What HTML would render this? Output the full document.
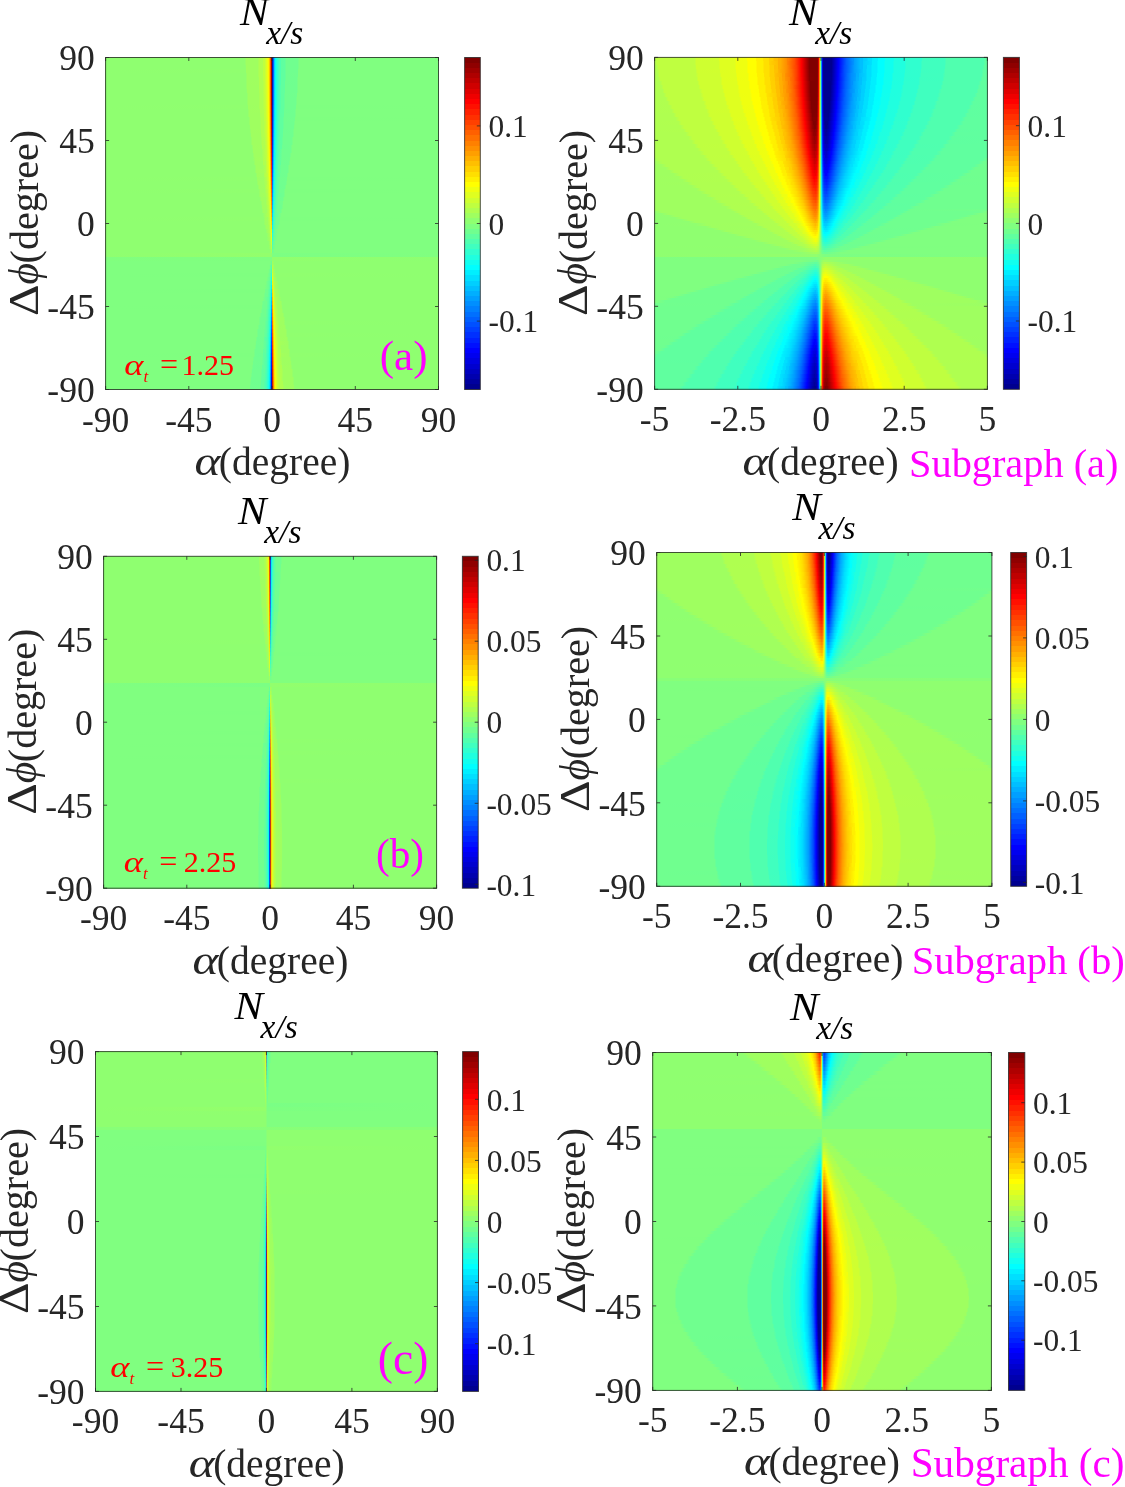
<!DOCTYPE html><html><head><meta charset="utf-8"><title>N x/s heat maps</title><style>
html,body{margin:0;padding:0;background:#fff}
#fig{position:relative;width:1125px;height:1487px;overflow:hidden;background:#fff;font-family:"Liberation Serif",serif}
.hm{position:absolute}
.hm i{display:block;width:100%}
svg{position:absolute;left:0;top:0}
svg text{font-family:"Liberation Serif",serif;fill:#262626}
.bx{fill:none;stroke:#262626;stroke-width:1;stroke-opacity:.8}
.tk{fill:none;stroke:#262626;stroke-width:1;stroke-opacity:.8}
</style></head><body><div id="fig"><div class="hm" style="left:105px;top:57px;width:334px;height:333px"><i style="height:4px;background:linear-gradient(90deg,#8fff70 0.5px,#8fff70 139.5px,#9fff60 141.5px,#9fff60 152.5px,#afff50 154.5px,#b1ff4e 157.5px,#bfff40 158.5px,#bfff40 159.5px,#ecff13 162.5px,#fff400 163.5px,#ffc100 164.5px,#ff5400 165.5px,#a40500 166.5px,#001bb4 167.5px,#005cff 168.5px,#00ccff 169.5px,#07fbf8 170.5px,#22ffdd 171.5px,#50ffaf 174.5px,#50ffaf 175.5px,#5effa1 176.5px,#60ff9f 179.5px,#70ff8f 181.5px,#70ff8f 192.5px,#80ff80 194.5px,#80ff80 333.5px)"></i><i style="height:4px;background:linear-gradient(90deg,#8fff70 0.5px,#8fff70 139.5px,#9fff60 141.5px,#9fff60 152.5px,#afff50 154.5px,#b1ff4e 157.5px,#bfff40 158.5px,#bfff40 159.5px,#eaff15 162.5px,#fff400 163.5px,#ffc100 164.5px,#ff5500 165.5px,#a60500 166.5px,#001bb5 167.5px,#005cff 168.5px,#00cdff 169.5px,#07fbf8 170.5px,#22ffdd 171.5px,#50ffaf 174.5px,#50ffaf 175.5px,#5effa1 176.5px,#60ff9f 179.5px,#70ff8f 181.5px,#70ff8f 192.5px,#80ff80 194.5px,#80ff80 333.5px)"></i><i style="height:4px;background:linear-gradient(90deg,#8fff70 0.5px,#8fff70 139.5px,#91ff6e 140.5px,#9fff60 141.5px,#9fff60 152.5px,#afff50 154.5px,#b0ff4f 157.5px,#bfff40 158.5px,#bfff40 159.5px,#eaff15 162.5px,#fff400 163.5px,#ffc300 164.5px,#ff5700 165.5px,#a80500 166.5px,#001bb5 167.5px,#005cff 168.5px,#00cfff 169.5px,#07fbf8 170.5px,#22ffdd 171.5px,#50ffaf 174.5px,#50ffaf 175.5px,#5effa1 176.5px,#60ff9f 179.5px,#70ff8f 181.5px,#70ff8f 192.5px,#80ff80 194.5px,#80ff80 333.5px)"></i><i style="height:4px;background:linear-gradient(90deg,#8fff70 0.5px,#90ff6f 140.5px,#9fff60 141.5px,#9fff60 152.5px,#afff50 154.5px,#afff50 157.5px,#bfff40 158.5px,#bfff40 159.5px,#eaff15 162.5px,#fff400 163.5px,#ffc300 164.5px,#ff5700 165.5px,#aa0500 166.5px,#001bb5 167.5px,#005cff 168.5px,#00cfff 169.5px,#07fbf8 170.5px,#23ffdc 171.5px,#50ffaf 174.5px,#50ffaf 175.5px,#5effa1 176.5px,#60ff9f 179.5px,#70ff8f 181.5px,#70ff8f 192.5px,#7fff80 193.5px,#80ff80 194.5px,#80ff80 333.5px)"></i><i style="height:4px;background:linear-gradient(90deg,#8fff70 0.5px,#8fff70 140.5px,#9fff60 142.5px,#9fff60 152.5px,#afff50 154.5px,#afff50 157.5px,#bfff40 158.5px,#bfff40 159.5px,#eaff15 162.5px,#fff500 163.5px,#ffc300 164.5px,#ff5900 165.5px,#aa0500 166.5px,#001bb5 167.5px,#005fff 168.5px,#00d0ff 169.5px,#07fdf8 170.5px,#25ffda 171.5px,#50ffaf 174.5px,#50ffaf 175.5px,#60ff9f 176.5px,#60ff9f 179.5px,#70ff8f 181.5px,#71ff8e 192.5px,#80ff80 193.5px,#80ff80 333.5px)"></i><i style="height:4px;background:linear-gradient(90deg,#8fff70 0.5px,#8fff70 140.5px,#9fff60 142.5px,#9fff60 152.5px,#a1ff5e 153.5px,#afff50 154.5px,#afff50 157.5px,#bdff42 158.5px,#bfff40 159.5px,#e9ff16 162.5px,#fff600 163.5px,#ffc300 164.5px,#ff5c00 165.5px,#aa0500 166.5px,#001bb5 167.5px,#0063ff 168.5px,#00d3ff 169.5px,#07fdf8 170.5px,#25ffda 171.5px,#50ffaf 174.5px,#50ffaf 175.5px,#60ff9f 176.5px,#60ff9f 179.5px,#70ff8f 181.5px,#70ff8f 191.5px,#80ff80 193.5px,#80ff80 333.5px)"></i><i style="height:4px;background:linear-gradient(90deg,#8fff70 0.5px,#8fff70 140.5px,#9fff60 142.5px,#a0ff5f 153.5px,#afff50 154.5px,#afff50 157.5px,#bfff40 159.5px,#e8ff17 162.5px,#fef601 163.5px,#ffc500 164.5px,#ff5c00 165.5px,#aa0700 166.5px,#001bb5 167.5px,#0066ff 168.5px,#00d3ff 169.5px,#08fdf7 170.5px,#25ffda 171.5px,#50ffaf 174.5px,#51ffae 175.5px,#60ff9f 176.5px,#60ff9f 179.5px,#6fff90 180.5px,#70ff8f 191.5px,#80ff80 193.5px,#80ff80 333.5px)"></i><i style="height:4px;background:linear-gradient(90deg,#8fff70 0.5px,#8fff70 140.5px,#9fff60 142.5px,#9fff60 153.5px,#aeff51 154.5px,#afff50 157.5px,#caff35 160.5px,#e8ff17 162.5px,#fdf802 163.5px,#ffc600 164.5px,#ff5d00 165.5px,#aa0700 166.5px,#001bb7 167.5px,#0067ff 168.5px,#00d3ff 169.5px,#09fdf6 170.5px,#27ffd8 171.5px,#50ffaf 174.5px,#60ff9f 176.5px,#60ff9f 179.5px,#70ff8f 180.5px,#70ff8f 191.5px,#80ff80 193.5px,#80ff80 333.5px)"></i><i style="height:4px;background:linear-gradient(90deg,#8fff70 0.5px,#8fff70 140.5px,#91ff6e 141.5px,#9fff60 142.5px,#9fff60 153.5px,#acff53 154.5px,#afff50 157.5px,#d5ff2a 161.5px,#e7ff18 162.5px,#fdf802 163.5px,#ffc900 164.5px,#ff5e00 165.5px,#ad0700 166.5px,#001bbc 167.5px,#006aff 168.5px,#00d4ff 169.5px,#0bfef4 170.5px,#27ffd8 171.5px,#45ffba 173.5px,#60ff9f 176.5px,#62ff9d 179.5px,#70ff8f 180.5px,#70ff8f 191.5px,#80ff80 193.5px,#80ff80 333.5px)"></i><i style="height:4px;background:linear-gradient(90deg,#8fff70 0.5px,#8fff70 141.5px,#9fff60 143.5px,#9fff60 153.5px,#afff50 155.5px,#afff50 157.5px,#c8ff37 160.5px,#e6ff19 162.5px,#fdfa02 163.5px,#ffca00 164.5px,#ff6200 165.5px,#b10700 166.5px,#001bbd 167.5px,#006cff 168.5px,#00d7ff 169.5px,#0bfff4 170.5px,#3affc5 172.5px,#60ff9f 176.5px,#60ff9f 178.5px,#70ff8f 180.5px,#71ff8e 191.5px,#80ff80 192.5px,#80ff80 333.5px)"></i><i style="height:4px;background:linear-gradient(90deg,#8fff70 0.5px,#8fff70 141.5px,#9fff60 143.5px,#9fff60 153.5px,#afff50 155.5px,#afff50 157.5px,#c7ff38 160.5px,#e6ff19 162.5px,#fbfa04 163.5px,#ffcb00 164.5px,#ff6700 165.5px,#b10700 166.5px,#001bbd 167.5px,#006dff 168.5px,#00d9ff 169.5px,#0dfff2 170.5px,#3bffc4 172.5px,#60ff9f 176.5px,#60ff9f 178.5px,#70ff8f 180.5px,#70ff8f 190.5px,#80ff80 192.5px,#80ff80 333.5px)"></i><i style="height:4px;background:linear-gradient(90deg,#8fff70 0.5px,#8fff70 141.5px,#9fff60 143.5px,#9fff60 153.5px,#afff50 155.5px,#afff50 157.5px,#c6ff39 160.5px,#e4ff1b 162.5px,#fbfa04 163.5px,#ffcf00 164.5px,#ff6a00 165.5px,#b10700 166.5px,#001bbf 167.5px,#0070ff 168.5px,#00daff 169.5px,#0efff1 170.5px,#3cffc3 172.5px,#60ff9f 176.5px,#60ff9f 178.5px,#70ff8f 180.5px,#70ff8f 190.5px,#80ff80 192.5px,#80ff80 333.5px)"></i><i style="height:4px;background:linear-gradient(90deg,#8fff70 0.5px,#90ff6f 142.5px,#9eff61 143.5px,#9fff60 153.5px,#afff50 155.5px,#afff50 157.5px,#c5ff3a 160.5px,#e4ff1b 162.5px,#fafb05 163.5px,#ffd100 164.5px,#ff6c00 165.5px,#b60800 166.5px,#001ec4 167.5px,#0076ff 168.5px,#00deff 169.5px,#0ffff0 170.5px,#3dffc2 172.5px,#60ff9f 176.5px,#60ff9f 178.5px,#70ff8f 180.5px,#70ff8f 190.5px,#7fff80 191.5px,#80ff80 333.5px)"></i><i style="height:4px;background:linear-gradient(90deg,#8fff70 0.5px,#8fff70 142.5px,#9fff60 144.5px,#a0ff5f 154.5px,#afff50 155.5px,#b2ff4d 158.5px,#c3ff3c 160.5px,#e3ff1c 162.5px,#fafb05 163.5px,#ffd200 164.5px,#ff6e00 165.5px,#ba0b00 166.5px,#001ec5 167.5px,#007aff 168.5px,#00e1ff 169.5px,#12ffed 170.5px,#3effc1 172.5px,#5cffa3 175.5px,#60ff9f 178.5px,#6eff91 179.5px,#70ff8f 189.5px,#80ff80 191.5px,#80ff80 333.5px)"></i><i style="height:4px;background:linear-gradient(90deg,#8fff70 0.5px,#8fff70 142.5px,#9fff60 144.5px,#9fff60 154.5px,#adff52 155.5px,#b0ff4f 158.5px,#bfff40 159.5px,#c2ff3d 160.5px,#e2ff1d 162.5px,#f8fd07 163.5px,#ffd600 164.5px,#ff7400 165.5px,#ba0b00 166.5px,#001ec6 167.5px,#007dff 168.5px,#00e2ff 169.5px,#12ffed 170.5px,#40ffbf 172.5px,#5effa1 175.5px,#61ff9e 178.5px,#70ff8f 179.5px,#70ff8f 189.5px,#80ff80 191.5px,#80ff80 333.5px)"></i><i style="height:4px;background:linear-gradient(90deg,#8fff70 0.5px,#8fff70 143.5px,#9fff60 145.5px,#9fff60 154.5px,#afff50 156.5px,#afff50 158.5px,#beff41 159.5px,#c0ff3f 160.5px,#dfff20 162.5px,#f8fd07 163.5px,#ffd800 164.5px,#ff7900 165.5px,#bf0b00 166.5px,#0020cc 167.5px,#007fff 168.5px,#00e5ff 169.5px,#15ffea 170.5px,#40ffbf 172.5px,#60ff9f 175.5px,#60ff9f 177.5px,#70ff8f 179.5px,#71ff8e 189.5px,#7fff80 190.5px,#80ff80 333.5px)"></i><i style="height:4px;background:linear-gradient(90deg,#8fff70 0.5px,#8fff70 143.5px,#9fff60 145.5px,#9fff60 154.5px,#afff50 156.5px,#afff50 158.5px,#bfff40 160.5px,#dcff23 162.5px,#f6ff09 163.5px,#ffda00 164.5px,#ff7c00 165.5px,#c30d00 166.5px,#0020cd 167.5px,#0087ff 168.5px,#00e8ff 169.5px,#16ffe9 170.5px,#31ffce 171.5px,#50ffaf 173.5px,#60ff9f 175.5px,#60ff9f 177.5px,#70ff8f 179.5px,#70ff8f 188.5px,#80ff80 190.5px,#80ff80 333.5px)"></i><i style="height:4px;background:linear-gradient(90deg,#8fff70 0.5px,#8fff70 143.5px,#90ff6f 144.5px,#9fff60 145.5px,#9fff60 154.5px,#afff50 156.5px,#afff50 158.5px,#cdff32 161.5px,#dbff24 162.5px,#f5ff0a 163.5px,#ffdd00 164.5px,#ff7f00 165.5px,#c50e00 166.5px,#0021d2 167.5px,#008aff 168.5px,#00eaff 169.5px,#19ffe6 170.5px,#34ffcb 171.5px,#50ffaf 173.5px,#60ff9f 175.5px,#60ff9f 177.5px,#70ff8f 179.5px,#70ff8f 188.5px,#7eff81 189.5px,#80ff80 190.5px,#80ff80 333.5px)"></i><i style="height:4px;background:linear-gradient(90deg,#8fff70 0.5px,#8fff70 144.5px,#9fff60 146.5px,#a0ff5f 155.5px,#afff50 156.5px,#afff50 158.5px,#cbff34 161.5px,#f3ff0c 163.5px,#ffe100 164.5px,#ff8600 165.5px,#cd1000 166.5px,#0023d7 167.5px,#008dff 168.5px,#00eeff 169.5px,#1bffe4 170.5px,#44ffbb 172.5px,#60ff9f 175.5px,#60ff9f 177.5px,#6fff90 178.5px,#70ff8f 187.5px,#80ff80 189.5px,#80ff80 333.5px)"></i><i style="height:4px;background:linear-gradient(90deg,#8fff70 0.5px,#8fff70 144.5px,#91ff6e 145.5px,#9fff60 146.5px,#9fff60 155.5px,#acff53 156.5px,#b5ff4a 159.5px,#c9ff36 161.5px,#f0ff0f 163.5px,#ffe400 164.5px,#ff8a00 165.5px,#cf1200 166.5px,#0024db 167.5px,#0094ff 168.5px,#02effd 169.5px,#1effe1 170.5px,#46ffb9 172.5px,#60ff9f 175.5px,#62ff9d 177.5px,#70ff8f 178.5px,#70ff8f 187.5px,#80ff80 189.5px,#80ff80 333.5px)"></i><i style="height:4px;background:linear-gradient(90deg,#8fff70 0.5px,#8fff70 145.5px,#9fff60 147.5px,#9fff60 155.5px,#afff50 157.5px,#b2ff4d 159.5px,#c7ff38 161.5px,#edff12 163.5px,#ffe800 164.5px,#ff8e00 165.5px,#d71400 166.5px,#0127e0 167.5px,#0099ff 168.5px,#03f3fc 169.5px,#20ffdf 170.5px,#48ffb7 172.5px,#5cffa3 174.5px,#60ff9f 176.5px,#70ff8f 178.5px,#70ff8f 186.5px,#80ff80 188.5px,#80ff80 333.5px)"></i><i style="height:4px;background:linear-gradient(90deg,#8fff70 0.5px,#8fff70 145.5px,#9fff60 147.5px,#9fff60 155.5px,#afff50 157.5px,#b0ff4f 159.5px,#c5ff3a 161.5px,#ebff14 163.5px,#ffeb00 164.5px,#ff9500 165.5px,#da1700 166.5px,#0228e3 167.5px,#009dff 168.5px,#04f4fb 169.5px,#23ffdc 170.5px,#49ffb6 172.5px,#5fffa0 174.5px,#60ff9f 176.5px,#70ff8f 178.5px,#70ff8f 186.5px,#80ff80 188.5px,#80ff80 333.5px)"></i><i style="height:4px;background:linear-gradient(90deg,#8fff70 0.5px,#8fff70 146.5px,#9fff60 148.5px,#a0ff5f 156.5px,#afff50 157.5px,#afff50 159.5px,#c2ff3d 161.5px,#e8ff17 163.5px,#ffed00 164.5px,#ff9b00 165.5px,#e01a00 166.5px,#022ce8 167.5px,#00a5ff 168.5px,#05f7fa 169.5px,#26ffd9 170.5px,#4cffb3 172.5px,#60ff9f 174.5px,#60ff9f 176.5px,#6eff91 177.5px,#70ff8f 185.5px,#80ff80 187.5px,#80ff80 333.5px)"></i><i style="height:4px;background:linear-gradient(90deg,#8fff70 0.5px,#8fff70 146.5px,#91ff6e 147.5px,#9fff60 148.5px,#9fff60 156.5px,#c0ff3f 161.5px,#e6ff19 163.5px,#fef201 164.5px,#ff9f00 165.5px,#e41d00 166.5px,#022fec 167.5px,#00abff 168.5px,#06f8f9 169.5px,#28ffd7 170.5px,#4effb1 172.5px,#70ff8f 177.5px,#70ff8f 185.5px,#80ff80 187.5px,#80ff80 333.5px)"></i><i style="height:4px;background:linear-gradient(90deg,#8fff70 0.5px,#8fff70 147.5px,#9fff60 149.5px,#9fff60 156.5px,#bfff40 161.5px,#e4ff1b 163.5px,#fdf402 164.5px,#ffa700 165.5px,#ea2100 166.5px,#0233f0 167.5px,#00afff 168.5px,#09fbf6 169.5px,#40ffbf 171.5px,#60ff9f 174.5px,#70ff8f 177.5px,#70ff8f 184.5px,#80ff80 186.5px,#80ff80 333.5px)"></i><i style="height:4px;background:linear-gradient(90deg,#8fff70 0.5px,#8fff70 147.5px,#9fff60 150.5px,#a2ff5d 157.5px,#afff50 158.5px,#b4ff4b 160.5px,#e0ff1f 163.5px,#fbf704 164.5px,#ffab00 165.5px,#ee2500 166.5px,#0239f4 167.5px,#00b8ff 168.5px,#0cfcf3 169.5px,#43ffbc 171.5px,#5bffa4 173.5px,#70ff8f 177.5px,#71ff8e 184.5px,#7fff80 185.5px,#80ff80 186.5px,#80ff80 333.5px)"></i><i style="height:4px;background:linear-gradient(90deg,#8fff70 0.5px,#8fff70 148.5px,#9fff60 150.5px,#9fff60 157.5px,#aeff51 158.5px,#b0ff4f 160.5px,#dcff23 163.5px,#faf905 164.5px,#ffb400 165.5px,#f32a00 166.5px,#033ef6 167.5px,#00bcff 168.5px,#0ffdf0 169.5px,#31ffce 170.5px,#45ffba 171.5px,#5effa1 173.5px,#61ff9e 175.5px,#6fff90 176.5px,#70ff8f 183.5px,#80ff80 185.5px,#80ff80 333.5px)"></i><i style="height:4px;background:linear-gradient(90deg,#8fff70 0.5px,#8fff70 149.5px,#9fff60 151.5px,#9fff60 157.5px,#afff50 160.5px,#d9ff26 163.5px,#f8fb07 164.5px,#ffb800 165.5px,#f83000 166.5px,#0443f8 167.5px,#00c5ff 168.5px,#12ffed 169.5px,#35ffca 170.5px,#60ff9f 173.5px,#70ff8f 176.5px,#70ff8f 182.5px,#80ff80 184.5px,#80ff80 333.5px)"></i><i style="height:4px;background:linear-gradient(90deg,#8fff70 0.5px,#8fff70 149.5px,#9fff60 151.5px,#a4ff5b 158.5px,#afff50 160.5px,#d7ff28 163.5px,#f5fd0a 164.5px,#ffc100 165.5px,#fb3600 166.5px,#044bfb 167.5px,#00caff 168.5px,#15ffea 169.5px,#38ffc7 170.5px,#4affb5 171.5px,#60ff9f 173.5px,#70ff8f 176.5px,#70ff8f 182.5px,#80ff80 184.5px,#80ff80 333.5px)"></i><i style="height:4px;background:linear-gradient(90deg,#8fff70 0.5px,#8fff70 150.5px,#9fff60 152.5px,#a0ff5f 158.5px,#aeff51 159.5px,#c1ff3e 162.5px,#f1fe0e 164.5px,#ffc600 165.5px,#fe3e00 166.5px,#0454fb 167.5px,#00d3ff 168.5px,#1affe5 169.5px,#3affc5 170.5px,#58ffa7 172.5px,#60ff9f 174.5px,#6fff90 175.5px,#70ff8f 181.5px,#80ff80 183.5px,#80ff80 333.5px)"></i><i style="height:4px;background:linear-gradient(90deg,#8fff70 0.5px,#90ff6f 151.5px,#9cff63 152.5px,#9fff60 158.5px,#b3ff4c 161.5px,#d1ff2e 163.5px,#eeff11 164.5px,#ffcf00 165.5px,#ff4800 166.5px,#045efb 167.5px,#00d9ff 168.5px,#1fffe0 169.5px,#3dffc2 170.5px,#5cffa3 172.5px,#70ff8f 175.5px,#72ff8d 181.5px,#7fff80 182.5px,#80ff80 333.5px)"></i><i style="height:4px;background:linear-gradient(90deg,#8fff70 0.5px,#8fff70 151.5px,#9fff60 153.5px,#9fff60 158.5px,#afff50 161.5px,#ccff33 163.5px,#eaff15 164.5px,#ffd500 165.5px,#ff5400 166.5px,#0568fa 167.5px,#01e1fe 168.5px,#23ffdc 169.5px,#41ffbe 170.5px,#5fffa0 172.5px,#70ff8f 175.5px,#70ff8f 180.5px,#80ff80 182.5px,#80ff80 333.5px)"></i><i style="height:4px;background:linear-gradient(90deg,#8fff70 0.5px,#8fff70 152.5px,#9fff60 154.5px,#a0ff5f 159.5px,#c9ff36 163.5px,#e5ff1a 164.5px,#ffde00 165.5px,#ff5f00 166.5px,#0574fa 167.5px,#03e6fc 168.5px,#28ffd7 169.5px,#46ffb9 170.5px,#60ff9f 172.5px,#60ff9f 173.5px,#6fff90 174.5px,#70ff8f 179.5px,#80ff80 181.5px,#80ff80 333.5px)"></i><i style="height:4px;background:linear-gradient(90deg,#8fff70 0.5px,#90ff6f 153.5px,#9fff60 155.5px,#9fff60 159.5px,#b7ff48 162.5px,#dfff20 164.5px,#fee401 165.5px,#ff6c00 166.5px,#057ffa 167.5px,#04ecfb 168.5px,#2effd1 169.5px,#57ffa8 171.5px,#70ff8f 174.5px,#70ff8f 178.5px,#7fff80 180.5px,#80ff80 333.5px)"></i><i style="height:4px;background:linear-gradient(90deg,#8fff70 0.5px,#8fff70 153.5px,#9fff60 155.5px,#a3ff5c 160.5px,#b3ff4c 162.5px,#dbff24 164.5px,#fcea03 165.5px,#ff7800 166.5px,#058bfa 167.5px,#08f1f7 168.5px,#33ffcc 169.5px,#5bffa4 171.5px,#6bff94 173.5px,#70ff8f 178.5px,#80ff80 180.5px,#80ff80 333.5px)"></i><i style="height:4px;background:linear-gradient(90deg,#8fff70 0.5px,#8fff70 154.5px,#9fff60 156.5px,#9fff60 160.5px,#b0ff4f 162.5px,#d6ff29 164.5px,#faf005 165.5px,#ff8600 166.5px,#0697f9 167.5px,#0bf6f4 168.5px,#37ffc8 169.5px,#5fffa0 171.5px,#6fff90 173.5px,#70ff8f 177.5px,#80ff80 179.5px,#80ff80 333.5px)"></i><i style="height:4px;background:linear-gradient(90deg,#8fff70 0.5px,#8fff70 155.5px,#9fff60 157.5px,#9fff60 160.5px,#bbff44 163.5px,#d1ff2e 164.5px,#f7f508 165.5px,#ff9300 166.5px,#07a3f8 167.5px,#10f9ef 168.5px,#3dffc2 169.5px,#60ff9f 171.5px,#70ff8f 173.5px,#74ff8b 177.5px,#80ff80 178.5px,#80ff80 333.5px)"></i><i style="height:4px;background:linear-gradient(90deg,#8fff70 0.5px,#8fff70 155.5px,#90ff6f 156.5px,#9eff61 157.5px,#a2ff5d 161.5px,#b7ff48 163.5px,#cbff34 164.5px,#f3f90c 165.5px,#ffa000 166.5px,#07b1f8 167.5px,#16fde9 168.5px,#42ffbd 169.5px,#57ffa8 170.5px,#6dff92 172.5px,#71ff8e 176.5px,#80ff80 178.5px,#80ff80 333.5px)"></i><i style="height:4px;background:linear-gradient(90deg,#8fff70 0.5px,#8fff70 156.5px,#9fff60 158.5px,#9fff60 161.5px,#b3ff4c 163.5px,#c6ff39 164.5px,#eefc11 165.5px,#ffaf00 166.5px,#07bef8 167.5px,#1cfee3 168.5px,#48ffb7 169.5px,#5bffa4 170.5px,#70ff8f 172.5px,#70ff8f 175.5px,#80ff80 177.5px,#80ff80 333.5px)"></i><i style="height:4px;background:linear-gradient(90deg,#8fff70 0.5px,#8fff70 157.5px,#b0ff4f 163.5px,#c2ff3d 164.5px,#e7fe18 165.5px,#ffbe00 166.5px,#09ccf6 167.5px,#25ffda 168.5px,#4cffb3 169.5px,#5fffa0 170.5px,#80ff80 176.5px,#80ff80 333.5px)"></i><i style="height:4px;background:linear-gradient(90deg,#8fff70 0.5px,#90ff6f 158.5px,#9fff60 160.5px,#a0ff5f 162.5px,#bbff44 164.5px,#dfff20 165.5px,#ffcd00 166.5px,#09d9f6 167.5px,#2dffd2 168.5px,#52ffad 169.5px,#6eff91 171.5px,#74ff8b 174.5px,#7fff80 175.5px,#80ff80 333.5px)"></i><i style="height:4px;background:linear-gradient(90deg,#8fff70 0.5px,#8fff70 158.5px,#9eff61 160.5px,#9fff60 162.5px,#b6ff49 164.5px,#d6ff29 165.5px,#fddb02 166.5px,#0be6f4 167.5px,#37ffc8 168.5px,#58ffa7 169.5px,#70ff8f 171.5px,#71ff8e 173.5px,#80ff80 175.5px,#80ff80 333.5px)"></i><i style="height:4px;background:linear-gradient(90deg,#8fff70 0.5px,#8fff70 159.5px,#9fff60 161.5px,#a3ff5c 163.5px,#b2ff4d 164.5px,#cdff32 165.5px,#fae805 166.5px,#11f1ee 167.5px,#40ffbf 168.5px,#5cffa3 169.5px,#6bff94 170.5px,#80ff80 174.5px,#80ff80 333.5px)"></i><i style="height:4px;background:linear-gradient(90deg,#8fff70 0.5px,#8fff70 160.5px,#acff53 164.5px,#c4ff3b 165.5px,#f4f30b 166.5px,#17fae8 167.5px,#49ffb6 168.5px,#62ff9d 169.5px,#70ff8f 170.5px,#80ff80 173.5px,#80ff80 333.5px)"></i><i style="height:4px;background:linear-gradient(90deg,#8fff70 0.5px,#8fff70 161.5px,#a6ff59 164.5px,#bbff44 165.5px,#ecfb13 166.5px,#23ffdc 167.5px,#53ffac 168.5px,#69ff96 169.5px,#80ff80 172.5px,#80ff80 333.5px)"></i><i style="height:4px;background:linear-gradient(90deg,#8fff70 0.5px,#8fff70 161.5px,#a0ff5f 164.5px,#b2ff4d 165.5px,#deff21 166.5px,#34ffcb 167.5px,#5bffa4 168.5px,#6fff90 169.5px,#80ff80 172.5px,#80ff80 333.5px)"></i><i style="height:4px;background:linear-gradient(90deg,#8fff70 0.5px,#8fff70 162.5px,#91ff6e 163.5px,#a8ff57 165.5px,#ccff33 166.5px,#46ffb9 167.5px,#66ff99 168.5px,#7dff82 170.5px,#80ff80 171.5px,#80ff80 333.5px)"></i><i style="height:4px;background:linear-gradient(90deg,#8fff70 0.5px,#8fff70 163.5px,#a0ff5f 165.5px,#b9ff46 166.5px,#57ffa8 167.5px,#6eff91 168.5px,#80ff80 170.5px,#80ff80 333.5px)"></i><i style="height:4px;background:linear-gradient(90deg,#8fff70 0.5px,#8fff70 164.5px,#95ff6a 165.5px,#a6ff59 166.5px,#6aff95 167.5px,#80ff80 169.5px,#80ff80 333.5px)"></i><i style="height:4px;background:linear-gradient(90deg,#8fff70 0.5px,#93ff6c 166.5px,#7cff83 167.5px,#80ff80 333.5px)"></i><i style="height:4px;background:linear-gradient(90deg,#81ff7e 0.5px,#7fff80 166.5px,#91ff6e 167.5px,#8eff71 333.5px)"></i><i style="height:4px;background:linear-gradient(90deg,#80ff80 0.5px,#80ff80 164.5px,#7cff83 165.5px,#6bff94 166.5px,#a2ff5d 167.5px,#8fff70 169.5px,#8fff70 333.5px)"></i><i style="height:4px;background:linear-gradient(90deg,#80ff80 0.5px,#80ff80 163.5px,#7dff82 164.5px,#58ffa7 166.5px,#b6ff49 167.5px,#92ff6d 169.5px,#8fff70 170.5px,#8fff70 333.5px)"></i><i style="height:4px;background:linear-gradient(90deg,#80ff80 0.5px,#80ff80 162.5px,#7eff81 163.5px,#68ff97 165.5px,#46ffb9 166.5px,#c8ff37 167.5px,#a8ff57 168.5px,#91ff6e 170.5px,#8fff70 171.5px,#8fff70 333.5px)"></i><i style="height:4px;background:linear-gradient(90deg,#80ff80 0.5px,#7fff80 162.5px,#6fff90 164.5px,#5effa1 165.5px,#34ffcb 166.5px,#d8ff27 167.5px,#b2ff4d 168.5px,#a0ff5f 169.5px,#90ff6f 171.5px,#8fff70 333.5px)"></i><i style="height:4px;background:linear-gradient(90deg,#80ff80 0.5px,#80ff80 161.5px,#6aff95 164.5px,#55ffaa 165.5px,#22ffdd 166.5px,#e8fd17 167.5px,#bbff44 168.5px,#a5ff5a 169.5px,#8fff70 172.5px,#8fff70 333.5px)"></i><i style="height:4px;background:linear-gradient(90deg,#80ff80 0.5px,#80ff80 160.5px,#64ff9b 164.5px,#4cffb3 165.5px,#15fbea 166.5px,#f0f40f 167.5px,#c5ff3a 168.5px,#acff53 169.5px,#8fff70 173.5px,#8fff70 333.5px)"></i><i style="height:4px;background:linear-gradient(90deg,#80ff80 0.5px,#80ff80 159.5px,#6dff92 163.5px,#5effa1 164.5px,#43ffbc 165.5px,#0df3f2 166.5px,#f4e90b 167.5px,#ceff31 168.5px,#b2ff4d 169.5px,#a2ff5d 170.5px,#8fff70 174.5px,#8fff70 333.5px)"></i><i style="height:4px;background:linear-gradient(90deg,#80ff80 0.5px,#7fff80 159.5px,#72ff8d 160.5px,#70ff8f 162.5px,#59ffa6 164.5px,#3affc5 165.5px,#07e8f8 166.5px,#f8dc07 167.5px,#d7ff28 168.5px,#b6ff49 169.5px,#a9ff56 170.5px,#8fff70 175.5px,#8fff70 333.5px)"></i><i style="height:4px;background:linear-gradient(90deg,#80ff80 0.5px,#80ff80 158.5px,#70ff8f 160.5px,#6fff90 162.5px,#54ffab 164.5px,#31ffce 165.5px,#03dcfc 166.5px,#f8ce07 167.5px,#e1ff1e 168.5px,#bcff43 169.5px,#a0ff5f 171.5px,#9fff60 173.5px,#8fff70 175.5px,#8fff70 333.5px)"></i><i style="height:4px;background:linear-gradient(90deg,#80ff80 0.5px,#80ff80 157.5px,#5fffa0 163.5px,#4dffb2 164.5px,#29ffd6 165.5px,#00cfff 166.5px,#f8bf07 167.5px,#e8fe17 168.5px,#c3ff3c 169.5px,#b0ff4f 170.5px,#8fff70 176.5px,#8fff70 333.5px)"></i><i style="height:4px;background:linear-gradient(90deg,#80ff80 0.5px,#80ff80 156.5px,#70ff8f 158.5px,#70ff8f 161.5px,#5cffa3 163.5px,#49ffb6 164.5px,#20ffdf 165.5px,#00c1ff 166.5px,#fab205 167.5px,#effb10 168.5px,#c7ff38 169.5px,#b3ff4c 170.5px,#9fff60 172.5px,#9fff60 175.5px,#8fff70 177.5px,#8fff70 333.5px)"></i><i style="height:4px;background:linear-gradient(90deg,#80ff80 0.5px,#7fff80 156.5px,#72ff8d 157.5px,#6eff91 161.5px,#58ffa7 163.5px,#45ffba 164.5px,#19fee6 165.5px,#00b2ff 166.5px,#faa405 167.5px,#f3f80c 168.5px,#ccff33 169.5px,#b8ff47 170.5px,#a2ff5d 172.5px,#9dff62 176.5px,#90ff6f 177.5px,#8fff70 178.5px,#8fff70 333.5px)"></i><i style="height:4px;background:linear-gradient(90deg,#80ff80 0.5px,#80ff80 155.5px,#70ff8f 157.5px,#70ff8f 160.5px,#60ff9f 162.5px,#3effc1 164.5px,#13fbec 165.5px,#00a4ff 166.5px,#fa9705 167.5px,#f8f307 168.5px,#d2ff2d 169.5px,#bcff43 170.5px,#9fff60 173.5px,#9fff60 176.5px,#8fff70 178.5px,#8fff70 333.5px)"></i><i style="height:4px;background:linear-gradient(90deg,#80ff80 0.5px,#80ff80 154.5px,#70ff8f 156.5px,#70ff8f 160.5px,#5fffa0 162.5px,#39ffc6 164.5px,#0df9f2 165.5px,#0097ff 166.5px,#fa8a05 167.5px,#fbee04 168.5px,#d7ff28 169.5px,#b0ff4f 171.5px,#9fff60 173.5px,#9fff60 177.5px,#8fff70 179.5px,#8fff70 333.5px)"></i><i style="height:4px;background:linear-gradient(90deg,#80ff80 0.5px,#80ff80 153.5px,#71ff8e 155.5px,#6cff93 160.5px,#5cffa3 162.5px,#34ffcb 164.5px,#0af4f5 165.5px,#0089ff 166.5px,#fb7f04 167.5px,#fde802 168.5px,#dcff23 169.5px,#b4ff4b 171.5px,#a3ff5c 173.5px,#9eff61 178.5px,#8fff70 180.5px,#8fff70 333.5px)"></i><i style="height:4px;background:linear-gradient(90deg,#80ff80 0.5px,#80ff80 153.5px,#70ff8f 155.5px,#70ff8f 159.5px,#58ffa7 162.5px,#30ffcf 164.5px,#06f0f9 165.5px,#007dff 166.5px,#fb7204 167.5px,#ffe100 168.5px,#e0ff1f 169.5px,#b8ff47 171.5px,#9fff60 174.5px,#9fff60 178.5px,#90ff6f 180.5px,#8fff70 333.5px)"></i><i style="height:4px;background:linear-gradient(90deg,#80ff80 0.5px,#80ff80 152.5px,#70ff8f 154.5px,#6fff90 159.5px,#54ffab 162.5px,#47ffb8 163.5px,#2bffd4 164.5px,#04ebfb 165.5px,#0071ff 166.5px,#fb6704 167.5px,#ffda00 168.5px,#e6ff19 169.5px,#c9ff36 170.5px,#a0ff5f 174.5px,#9fff60 179.5px,#8fff70 181.5px,#8fff70 333.5px)"></i><i style="height:4px;background:linear-gradient(90deg,#80ff80 0.5px,#80ff80 151.5px,#70ff8f 153.5px,#70ff8f 158.5px,#60ff9f 161.5px,#43ffbc 163.5px,#25ffda 164.5px,#02e4fd 165.5px,#0065ff 166.5px,#fc5c03 167.5px,#ffd300 168.5px,#ebff14 169.5px,#cdff32 170.5px,#b0ff4f 172.5px,#9fff60 175.5px,#9fff60 180.5px,#8fff70 182.5px,#8fff70 333.5px)"></i><i style="height:4px;background:linear-gradient(90deg,#80ff80 0.5px,#80ff80 151.5px,#70ff8f 153.5px,#70ff8f 158.5px,#5dffa2 161.5px,#3effc1 163.5px,#22ffdd 164.5px,#01dffe 165.5px,#0059ff 166.5px,#fd5102 167.5px,#ffca00 168.5px,#efff10 169.5px,#d2ff2d 170.5px,#b3ff4c 172.5px,#9fff60 175.5px,#9fff60 180.5px,#90ff6f 182.5px,#8fff70 333.5px)"></i><i style="height:4px;background:linear-gradient(90deg,#80ff80 0.5px,#80ff80 150.5px,#70ff8f 152.5px,#6fff90 158.5px,#61ff9e 159.5px,#4effb1 162.5px,#1dffe2 164.5px,#00d7ff 165.5px,#004eff 166.5px,#fc4802 167.5px,#ffc400 168.5px,#f2fd0d 169.5px,#d5ff2a 170.5px,#b6ff49 172.5px,#aeff51 174.5px,#a0ff5f 175.5px,#9fff60 181.5px,#8fff70 183.5px,#8fff70 333.5px)"></i><i style="height:4px;background:linear-gradient(90deg,#80ff80 0.5px,#80ff80 149.5px,#7eff81 150.5px,#71ff8e 151.5px,#70ff8f 157.5px,#60ff9f 160.5px,#4bffb4 162.5px,#39ffc6 163.5px,#18ffe7 164.5px,#00d3ff 165.5px,#0044fe 166.5px,#fa4102 167.5px,#ffbb00 168.5px,#f6fc09 169.5px,#d7ff28 170.5px,#afff50 173.5px,#a4ff5b 175.5px,#9eff61 182.5px,#8fff70 184.5px,#8fff70 333.5px)"></i><i style="height:4px;background:linear-gradient(90deg,#80ff80 0.5px,#80ff80 149.5px,#70ff8f 151.5px,#70ff8f 157.5px,#60ff9f 160.5px,#36ffc9 163.5px,#14ffeb 164.5px,#00c9ff 165.5px,#003cfc 166.5px,#f53a02 167.5px,#ffb600 168.5px,#f9fb06 169.5px,#daff25 170.5px,#afff50 173.5px,#9fff60 176.5px,#9fff60 182.5px,#8fff70 184.5px,#8fff70 333.5px)"></i><i style="height:4px;background:linear-gradient(90deg,#80ff80 0.5px,#80ff80 148.5px,#70ff8f 150.5px,#70ff8f 157.5px,#62ff9d 158.5px,#5fffa0 160.5px,#33ffcc 163.5px,#10feef 164.5px,#00c5ff 165.5px,#0035fa 166.5px,#f23601 167.5px,#ffad00 168.5px,#faf805 169.5px,#ddff22 170.5px,#b0ff4f 173.5px,#aeff51 175.5px,#9fff60 176.5px,#9fff60 183.5px,#8fff70 185.5px,#8fff70 333.5px)"></i><i style="height:4px;background:linear-gradient(90deg,#80ff80 0.5px,#7fff80 148.5px,#70ff8f 150.5px,#6dff92 157.5px,#60ff9f 158.5px,#5cffa3 160.5px,#2fffd0 163.5px,#0efdf1 164.5px,#00bcff 165.5px,#002ef6 166.5px,#f13100 167.5px,#ffa800 168.5px,#fcf503 169.5px,#e1ff1e 170.5px,#ccff33 171.5px,#b4ff4b 173.5px,#afff50 175.5px,#a3ff5c 176.5px,#9fff60 183.5px,#90ff6f 185.5px,#8fff70 333.5px)"></i><i style="height:4px;background:linear-gradient(90deg,#80ff80 0.5px,#80ff80 147.5px,#70ff8f 149.5px,#70ff8f 156.5px,#50ffaf 161.5px,#2cffd3 163.5px,#0bfcf4 164.5px,#00b8ff 165.5px,#002af2 166.5px,#eb2c00 167.5px,#ffa000 168.5px,#fdf302 169.5px,#e5ff1a 170.5px,#bfff40 172.5px,#afff50 174.5px,#9fff60 177.5px,#9fff60 184.5px,#8fff70 186.5px,#8fff70 333.5px)"></i><i style="height:4px;background:linear-gradient(90deg,#80ff80 0.5px,#80ff80 146.5px,#7fff80 147.5px,#71ff8e 148.5px,#70ff8f 156.5px,#4fffb0 161.5px,#29ffd6 163.5px,#08fbf7 164.5px,#00b0ff 165.5px,#0026ed 166.5px,#e82900 167.5px,#ff9b00 168.5px,#ffef00 169.5px,#e6ff19 170.5px,#c1ff3e 172.5px,#9fff60 177.5px,#9eff61 185.5px,#91ff6e 186.5px,#8fff70 187.5px,#8fff70 333.5px)"></i><i style="height:4px;background:linear-gradient(90deg,#80ff80 0.5px,#80ff80 146.5px,#70ff8f 148.5px,#6fff90 156.5px,#60ff9f 157.5px,#60ff9f 159.5px,#4dffb2 161.5px,#28ffd7 163.5px,#06f8f9 164.5px,#00abff 165.5px,#0021ea 166.5px,#e12600 167.5px,#ff9600 168.5px,#ffed00 169.5px,#e9ff16 170.5px,#c3ff3c 172.5px,#afff50 174.5px,#afff50 176.5px,#a0ff5f 177.5px,#9fff60 185.5px,#8fff70 187.5px,#8fff70 333.5px)"></i><i style="height:4px;background:linear-gradient(90deg,#80ff80 0.5px,#80ff80 145.5px,#7eff81 146.5px,#70ff8f 147.5px,#70ff8f 155.5px,#60ff9f 157.5px,#5fffa0 159.5px,#4bffb4 161.5px,#24ffdb 163.5px,#05f7fa 164.5px,#00a6ff 165.5px,#001ee3 166.5px,#dc2400 167.5px,#ff8e00 168.5px,#ffe800 169.5px,#ecff13 170.5px,#c5ff3a 172.5px,#b0ff4f 174.5px,#afff50 176.5px,#9fff60 178.5px,#9fff60 186.5px,#8fff70 188.5px,#8fff70 333.5px)"></i><i style="height:4px;background:linear-gradient(90deg,#80ff80 0.5px,#80ff80 145.5px,#70ff8f 147.5px,#70ff8f 155.5px,#60ff9f 157.5px,#5dffa2 159.5px,#48ffb7 161.5px,#22ffdd 163.5px,#04f4fb 164.5px,#009eff 165.5px,#001ce0 166.5px,#d72300 167.5px,#ff8a00 168.5px,#ffe700 169.5px,#eeff11 170.5px,#c7ff38 172.5px,#b3ff4c 174.5px,#afff50 176.5px,#9fff60 178.5px,#9fff60 186.5px,#8fff70 188.5px,#8fff70 333.5px)"></i><i style="height:4px;background:linear-gradient(90deg,#80ff80 0.5px,#80ff80 144.5px,#7eff81 145.5px,#70ff8f 146.5px,#70ff8f 155.5px,#63ff9c 156.5px,#5bffa4 159.5px,#46ffb9 161.5px,#20ffdf 163.5px,#03f2fc 164.5px,#009bff 165.5px,#0017da 166.5px,#d11f00 167.5px,#ff8600 168.5px,#ffe100 169.5px,#f1ff0e 170.5px,#c9ff36 172.5px,#9fff60 178.5px,#9fff60 187.5px,#8fff70 189.5px,#8fff70 333.5px)"></i><i style="height:4px;background:linear-gradient(90deg,#80ff80 0.5px,#80ff80 144.5px,#70ff8f 146.5px,#6fff90 155.5px,#60ff9f 156.5px,#60ff9f 158.5px,#44ffbb 161.5px,#1cffe3 163.5px,#02effd 164.5px,#0097ff 165.5px,#0016d8 166.5px,#cd1e00 167.5px,#ff7d00 168.5px,#ffdf00 169.5px,#f3ff0c 170.5px,#cbff34 172.5px,#afff50 175.5px,#afff50 177.5px,#a0ff5f 178.5px,#9fff60 187.5px,#8fff70 189.5px,#8fff70 333.5px)"></i><i style="height:4px;background:linear-gradient(90deg,#80ff80 0.5px,#7fff80 144.5px,#71ff8e 145.5px,#70ff8f 154.5px,#60ff9f 156.5px,#60ff9f 158.5px,#43ffbc 161.5px,#1bffe4 163.5px,#00edff 164.5px,#0090ff 165.5px,#0014d1 166.5px,#c81d00 167.5px,#ff7b00 168.5px,#ffdb00 169.5px,#f6ff09 170.5px,#dbff24 171.5px,#cdff32 172.5px,#afff50 175.5px,#afff50 177.5px,#9fff60 179.5px,#9eff61 188.5px,#90ff6f 189.5px,#8fff70 190.5px,#8fff70 333.5px)"></i><i style="height:1px;background:linear-gradient(90deg,#80ff80 0.5px,#80ff80 143.5px,#70ff8f 145.5px,#70ff8f 154.5px,#60ff9f 156.5px,#60ff9f 158.5px,#50ffaf 160.5px,#33ffcc 162.5px,#19ffe6 163.5px,#00ecff 164.5px,#008cff 165.5px,#0013ce 166.5px,#c11c00 167.5px,#ff7800 168.5px,#ffda00 169.5px,#f6ff09 170.5px,#dcff23 171.5px,#bfff40 173.5px,#afff50 175.5px,#afff50 177.5px,#9fff60 179.5px,#9fff60 188.5px,#8fff70 190.5px,#8fff70 333.5px)"></i></div>
<div class="hm" style="left:654px;top:57px;width:334px;height:333px"><i style="height:4px;background:linear-gradient(90deg,#afff50 0.5px,#bfff40 3.5px,#bfff40 40.5px,#cfff30 42.5px,#d0ff2f 64.5px,#dfff20 65.5px,#dfff20 80.5px,#efff10 82.5px,#f0ff0f 92.5px,#ffff00 93.5px,#ffff00 101.5px,#ffef00 102.5px,#ffef00 108.5px,#ffe100 109.5px,#ffde00 114.5px,#ffcf00 115.5px,#ffcf00 118.5px,#ffbf00 120.5px,#ffbc00 123.5px,#ffaf00 124.5px,#ffaf00 126.5px,#ff8f00 132.5px,#ff8000 133.5px,#ff8000 134.5px,#ff5000 140.5px,#fe0000 147.5px,#800000 155.5px,#800000 162.5px,#870000 163.5px,#d40200 164.5px,#ff8600 165.5px,#88ff77 166.5px,#0097ff 167.5px,#0005e1 168.5px,#000097 169.5px,#00008f 170.5px,#00008f 177.5px,#0000ff 184.5px,#0060ff 192.5px,#008fff 198.5px,#008fff 199.5px,#009fff 200.5px,#00bfff 206.5px,#00bfff 208.5px,#00ccff 209.5px,#00cfff 212.5px,#00dfff 214.5px,#00dfff 217.5px,#00eeff 218.5px,#00f1ff 223.5px,#00ffff 224.5px,#00ffff 230.5px,#10ffef 231.5px,#10ffef 239.5px,#1fffe0 240.5px,#20ffdf 250.5px,#30ffcf 252.5px,#30ffcf 267.5px,#3fffc0 268.5px,#40ffbf 290.5px,#50ffaf 292.5px,#50ffaf 329.5px,#60ff9f 331.5px,#60ff9f 333.5px)"></i><i style="height:4px;background:linear-gradient(90deg,#afff50 0.5px,#bfff40 3.5px,#bfff40 40.5px,#cfff30 42.5px,#cfff30 64.5px,#dfff20 66.5px,#dfff20 80.5px,#efff10 82.5px,#efff10 92.5px,#ffff00 94.5px,#ffff00 101.5px,#ffef00 103.5px,#ffef00 108.5px,#ffdf00 110.5px,#ffdf00 114.5px,#ffd000 115.5px,#ffbe00 123.5px,#ffaf00 124.5px,#ffaf00 126.5px,#ff8f00 132.5px,#ff8100 133.5px,#ff5000 140.5px,#ff0000 147.5px,#800000 155.5px,#800000 162.5px,#870000 163.5px,#d40200 164.5px,#ff8700 165.5px,#88ff77 166.5px,#0097ff 167.5px,#0005e1 168.5px,#000097 169.5px,#00008f 170.5px,#00008f 177.5px,#0000ff 184.5px,#0060ff 192.5px,#0091ff 199.5px,#009fff 200.5px,#00bfff 206.5px,#00bfff 208.5px,#00ceff 209.5px,#00e0ff 217.5px,#00efff 218.5px,#00efff 222.5px,#00ffff 224.5px,#00ffff 229.5px,#10ffef 231.5px,#10ffef 238.5px,#20ffdf 240.5px,#20ffdf 250.5px,#30ffcf 252.5px,#30ffcf 266.5px,#40ffbf 268.5px,#40ffbf 290.5px,#50ffaf 292.5px,#50ffaf 329.5px,#60ff9f 331.5px,#60ff9f 333.5px)"></i><i style="height:4px;background:linear-gradient(90deg,#afff50 0.5px,#b0ff4f 2.5px,#bfff40 4.5px,#bfff40 40.5px,#c1ff3e 41.5px,#cfff30 42.5px,#cfff30 64.5px,#dfff20 66.5px,#dfff20 80.5px,#efff10 82.5px,#efff10 92.5px,#ffff00 94.5px,#ffff00 101.5px,#ffef00 103.5px,#ffef00 108.5px,#ffdf00 110.5px,#ffdf00 114.5px,#ffcf00 116.5px,#ffcf00 119.5px,#ffc000 120.5px,#ffbf00 123.5px,#ffb000 124.5px,#ffaf00 126.5px,#ff8f00 132.5px,#ff3d00 142.5px,#ff0000 147.5px,#800000 155.5px,#800000 156.5px,#800000 162.5px,#870000 163.5px,#d50300 164.5px,#ff8700 165.5px,#88ff77 166.5px,#0097ff 167.5px,#0007e2 168.5px,#000097 169.5px,#00008f 170.5px,#000090 177.5px,#0000f2 183.5px,#0001ff 184.5px,#004dff 190.5px,#009fff 200.5px,#00bfff 206.5px,#00c0ff 208.5px,#00cfff 209.5px,#00d0ff 212.5px,#00dfff 213.5px,#00dfff 216.5px,#00efff 218.5px,#00efff 222.5px,#00ffff 224.5px,#00ffff 229.5px,#10ffef 231.5px,#10ffef 238.5px,#20ffdf 240.5px,#20ffdf 250.5px,#30ffcf 252.5px,#30ffcf 266.5px,#40ffbf 268.5px,#40ffbf 290.5px,#4effb1 291.5px,#50ffaf 292.5px,#50ffaf 328.5px,#5fffa0 330.5px,#60ff9f 333.5px)"></i><i style="height:4px;background:linear-gradient(90deg,#afff50 0.5px,#b2ff4d 3.5px,#bfff40 5.5px,#bfff40 41.5px,#cfff30 43.5px,#d0ff2f 65.5px,#deff21 66.5px,#e0ff1f 81.5px,#eeff11 82.5px,#efff10 92.5px,#ffff00 94.5px,#ffff00 101.5px,#ffef00 103.5px,#ffef00 108.5px,#ffdf00 110.5px,#ffdf00 114.5px,#ffcf00 116.5px,#ffcf00 119.5px,#ffc300 120.5px,#ffbf00 123.5px,#ffb400 124.5px,#ff9b00 130.5px,#ff6c00 137.5px,#ff3f00 142.5px,#ff0000 147.5px,#f20000 148.5px,#820000 155.5px,#800000 162.5px,#870000 163.5px,#d80400 164.5px,#ff8700 165.5px,#88ff77 166.5px,#0097ff 167.5px,#0008e5 168.5px,#000097 169.5px,#00008f 170.5px,#00008f 176.5px,#000092 177.5px,#0000f4 183.5px,#0003ff 184.5px,#004fff 190.5px,#009fff 200.5px,#00c4ff 208.5px,#00cfff 209.5px,#00cfff 211.5px,#00dfff 213.5px,#00dfff 216.5px,#00efff 218.5px,#00efff 222.5px,#00ffff 224.5px,#00ffff 229.5px,#10ffef 231.5px,#10ffef 238.5px,#20ffdf 240.5px,#21ffde 250.5px,#2fffd0 251.5px,#31ffce 266.5px,#3fffc0 267.5px,#40ffbf 289.5px,#50ffaf 291.5px,#50ffaf 327.5px,#5dffa2 329.5px,#60ff9f 333.5px)"></i><i style="height:4px;background:linear-gradient(90deg,#afff50 0.5px,#afff50 3.5px,#bfff40 5.5px,#bfff40 41.5px,#cfff30 44.5px,#cfff30 65.5px,#dfff20 67.5px,#dfff20 81.5px,#efff10 83.5px,#efff10 93.5px,#ffff00 95.5px,#fffe00 102.5px,#fff000 103.5px,#ffef00 109.5px,#ffe000 110.5px,#ffdf00 114.5px,#ffcf00 116.5px,#ffcf00 119.5px,#ffbf00 121.5px,#ffae00 127.5px,#ffa000 128.5px,#ff9e00 130.5px,#ff8f00 131.5px,#ff6f00 137.5px,#ff4000 142.5px,#ff0200 147.5px,#f40000 148.5px,#840000 155.5px,#800000 162.5px,#880000 163.5px,#db0500 164.5px,#ff8700 165.5px,#88ff77 166.5px,#0097ff 167.5px,#000be6 168.5px,#000098 169.5px,#00008f 170.5px,#000094 177.5px,#0000f6 183.5px,#0005ff 184.5px,#002eff 187.5px,#006dff 193.5px,#008eff 197.5px,#009fff 201.5px,#00aeff 202.5px,#00afff 204.5px,#00beff 205.5px,#00cfff 211.5px,#00dfff 213.5px,#00dfff 216.5px,#00efff 218.5px,#00f0ff 222.5px,#00ffff 223.5px,#01fffe 229.5px,#0ffff0 230.5px,#10ffef 237.5px,#20ffdf 239.5px,#20ffdf 249.5px,#30ffcf 251.5px,#30ffcf 265.5px,#40ffbf 267.5px,#40ffbf 288.5px,#50ffaf 291.5px,#50ffaf 327.5px,#60ff9f 329.5px,#60ff9f 333.5px)"></i><i style="height:4px;background:linear-gradient(90deg,#afff50 0.5px,#afff50 4.5px,#bfff40 6.5px,#bfff40 42.5px,#cfff30 44.5px,#cfff30 66.5px,#dfff20 68.5px,#e0ff1f 82.5px,#eeff11 83.5px,#efff10 93.5px,#ffff00 95.5px,#ffff00 102.5px,#ffef00 104.5px,#ffef00 109.5px,#ffdf00 111.5px,#ffdf00 115.5px,#ffd100 116.5px,#ffcc00 120.5px,#ffbf00 121.5px,#ffbc00 124.5px,#ffaf00 125.5px,#ffaf00 127.5px,#ffa300 128.5px,#ff9f00 130.5px,#ff9200 131.5px,#ff8000 135.5px,#ff7100 136.5px,#ff5f00 139.5px,#ff0500 147.5px,#f60000 148.5px,#860000 155.5px,#800000 162.5px,#8a0000 163.5px,#dc0500 164.5px,#ff8700 165.5px,#88ff77 166.5px,#0098ff 167.5px,#000be7 168.5px,#00009a 169.5px,#00008f 170.5px,#000096 177.5px,#0000f8 183.5px,#0007ff 184.5px,#005bff 191.5px,#008fff 197.5px,#00a2ff 201.5px,#00afff 202.5px,#00b3ff 204.5px,#00bfff 205.5px,#00bfff 207.5px,#00ccff 208.5px,#00cfff 211.5px,#00dfff 213.5px,#00e1ff 216.5px,#00efff 217.5px,#00efff 221.5px,#00ffff 223.5px,#00ffff 228.5px,#10ffef 230.5px,#10ffef 237.5px,#20ffdf 239.5px,#21ffde 249.5px,#2fffd0 250.5px,#30ffcf 264.5px,#3fffc0 266.5px,#40ffbf 288.5px,#50ffaf 290.5px,#50ffaf 326.5px,#60ff9f 328.5px,#60ff9f 333.5px)"></i><i style="height:4px;background:linear-gradient(90deg,#afff50 0.5px,#afff50 5.5px,#bfff40 8.5px,#bfff40 43.5px,#cfff30 45.5px,#cfff30 66.5px,#dfff20 68.5px,#dfff20 82.5px,#efff10 84.5px,#efff10 94.5px,#ffff00 96.5px,#ffff00 102.5px,#ffef00 104.5px,#ffef00 109.5px,#ffdf00 111.5px,#ffdf00 115.5px,#ffcf00 117.5px,#ffcf00 120.5px,#ffc200 121.5px,#ffbf00 124.5px,#ffb100 125.5px,#ffaf00 127.5px,#ff8f00 133.5px,#ff8000 134.5px,#ff8000 135.5px,#ff4f00 141.5px,#f90000 148.5px,#800000 156.5px,#800000 162.5px,#8a0000 163.5px,#dd0500 164.5px,#ff8800 165.5px,#88ff77 166.5px,#0098ff 167.5px,#000be8 168.5px,#00009a 169.5px,#00008f 170.5px,#00008f 176.5px,#000099 177.5px,#0000fb 183.5px,#005fff 191.5px,#008fff 197.5px,#0090ff 198.5px,#009fff 199.5px,#00bfff 205.5px,#00c1ff 207.5px,#00cfff 208.5px,#00d2ff 211.5px,#00dfff 212.5px,#00dfff 215.5px,#00efff 217.5px,#00efff 221.5px,#00ffff 223.5px,#00ffff 228.5px,#10ffef 230.5px,#12ffed 237.5px,#1fffe0 238.5px,#20ffdf 248.5px,#30ffcf 250.5px,#30ffcf 264.5px,#40ffbf 266.5px,#40ffbf 287.5px,#50ffaf 289.5px,#50ffaf 324.5px,#60ff9f 327.5px,#60ff9f 333.5px)"></i><i style="height:4px;background:linear-gradient(90deg,#afff50 0.5px,#b1ff4e 7.5px,#bfff40 9.5px,#bfff40 44.5px,#cfff30 46.5px,#cfff30 67.5px,#dfff20 69.5px,#dfff20 83.5px,#efff10 85.5px,#efff10 94.5px,#ffff00 96.5px,#ffff00 103.5px,#ffef00 105.5px,#ffef00 110.5px,#ffdf00 112.5px,#ffdd00 116.5px,#ffcf00 117.5px,#ffcf00 120.5px,#ffbf00 122.5px,#ffbf00 124.5px,#ffaf00 126.5px,#ffad00 128.5px,#ff9f00 129.5px,#ff9b00 131.5px,#ff6a00 138.5px,#fc0000 148.5px,#800000 156.5px,#800000 162.5px,#8d0000 163.5px,#de0500 164.5px,#ff8a00 165.5px,#89ff76 166.5px,#009bff 167.5px,#000be9 168.5px,#00009d 169.5px,#00008f 170.5px,#00008f 176.5px,#0000fe 183.5px,#0060ff 191.5px,#009fff 199.5px,#00cfff 208.5px,#00cfff 210.5px,#00dfff 212.5px,#00dfff 215.5px,#00edff 216.5px,#00efff 220.5px,#00ffff 222.5px,#00ffff 227.5px,#10ffef 229.5px,#10ffef 236.5px,#20ffdf 238.5px,#20ffdf 247.5px,#30ffcf 249.5px,#30ffcf 263.5px,#40ffbf 265.5px,#40ffbf 286.5px,#50ffaf 288.5px,#50ffaf 323.5px,#5effa1 325.5px,#60ff9f 333.5px)"></i><i style="height:4px;background:linear-gradient(90deg,#afff50 0.5px,#afff50 8.5px,#bfff40 10.5px,#bfff40 45.5px,#cfff30 48.5px,#cfff30 68.5px,#dfff20 70.5px,#dfff20 83.5px,#efff10 86.5px,#efff10 95.5px,#ffff00 97.5px,#fffe00 104.5px,#fff000 105.5px,#ffef00 110.5px,#ffdf00 112.5px,#ffdf00 116.5px,#ffcf00 118.5px,#ffce00 121.5px,#ffc000 122.5px,#ffbd00 125.5px,#ffaf00 126.5px,#ffaf00 128.5px,#ffa200 129.5px,#ff9f00 131.5px,#ff9100 132.5px,#ff7e00 136.5px,#ff5c00 140.5px,#ff0000 148.5px,#800000 156.5px,#800000 162.5px,#8f0000 163.5px,#e00500 164.5px,#ff8d00 165.5px,#89ff76 166.5px,#009dff 167.5px,#000bea 168.5px,#00009f 169.5px,#00008f 170.5px,#000090 176.5px,#0000f1 182.5px,#0001ff 183.5px,#004fff 189.5px,#006cff 192.5px,#008eff 196.5px,#00a1ff 200.5px,#00afff 201.5px,#00b2ff 203.5px,#00bfff 204.5px,#00bfff 206.5px,#00cdff 207.5px,#00d0ff 210.5px,#00deff 211.5px,#00dfff 214.5px,#00efff 216.5px,#00efff 220.5px,#00ffff 222.5px,#01fffe 227.5px,#0efff1 228.5px,#10ffef 229.5px,#10ffef 235.5px,#20ffdf 237.5px,#20ffdf 246.5px,#30ffcf 249.5px,#30ffcf 262.5px,#40ffbf 264.5px,#40ffbf 284.5px,#50ffaf 287.5px,#50ffaf 322.5px,#5fffa0 324.5px,#60ff9f 333.5px)"></i><i style="height:4px;background:linear-gradient(90deg,#afff50 0.5px,#afff50 9.5px,#bfff40 12.5px,#bfff40 46.5px,#cfff30 49.5px,#cfff30 69.5px,#dfff20 71.5px,#dfff20 84.5px,#eeff11 86.5px,#efff10 95.5px,#ffff00 98.5px,#ffff00 104.5px,#ffef00 106.5px,#ffef00 111.5px,#ffdf00 113.5px,#ffcf00 121.5px,#ffbf00 123.5px,#ffbf00 125.5px,#ffb400 126.5px,#ff8f00 134.5px,#ff8000 135.5px,#ff5f00 140.5px,#ff0200 148.5px,#f30000 149.5px,#830000 156.5px,#800000 157.5px,#800000 162.5px,#910000 163.5px,#e30500 164.5px,#ff8e00 165.5px,#88ff77 166.5px,#009eff 167.5px,#000bee 168.5px,#0000a1 169.5px,#00008f 170.5px,#000093 176.5px,#0000f5 182.5px,#0004ff 183.5px,#002eff 186.5px,#006fff 192.5px,#0090ff 197.5px,#009fff 198.5px,#00c4ff 206.5px,#00cfff 207.5px,#00cfff 209.5px,#00dfff 211.5px,#00dfff 214.5px,#00edff 215.5px,#00efff 219.5px,#00ffff 221.5px,#00ffff 226.5px,#10ffef 228.5px,#12ffed 235.5px,#1fffe0 236.5px,#21ffde 246.5px,#30ffcf 248.5px,#30ffcf 261.5px,#40ffbf 263.5px,#40ffbf 283.5px,#50ffaf 286.5px,#50ffaf 320.5px,#60ff9f 323.5px,#60ff9f 333.5px)"></i><i style="height:4px;background:linear-gradient(90deg,#afff50 0.5px,#afff50 11.5px,#bfff40 14.5px,#bfff40 47.5px,#cfff30 50.5px,#cfff30 70.5px,#dfff20 72.5px,#dfff20 85.5px,#efff10 87.5px,#efff10 96.5px,#ffff00 98.5px,#ffff00 105.5px,#ffef00 107.5px,#ffee00 112.5px,#ffe000 113.5px,#ffdf00 117.5px,#ffcf00 119.5px,#ffce00 122.5px,#ffc000 123.5px,#ffaf00 129.5px,#ffa000 130.5px,#ff9d00 132.5px,#ff4f00 142.5px,#ff0600 148.5px,#f70000 149.5px,#870000 156.5px,#800000 157.5px,#800000 162.5px,#950000 163.5px,#e60800 164.5px,#ff9000 165.5px,#88ff77 166.5px,#00a0ff 167.5px,#000fef 168.5px,#0000a5 169.5px,#00008f 170.5px,#00008f 175.5px,#000097 176.5px,#0000f8 182.5px,#005fff 190.5px,#00adff 200.5px,#00b0ff 202.5px,#00bfff 203.5px,#00bfff 205.5px,#00cfff 207.5px,#00d0ff 209.5px,#00deff 210.5px,#00dfff 213.5px,#00efff 215.5px,#00f0ff 219.5px,#00feff 220.5px,#00ffff 225.5px,#10ffef 227.5px,#10ffef 234.5px,#20ffdf 236.5px,#20ffdf 245.5px,#30ffcf 247.5px,#30ffcf 260.5px,#40ffbf 262.5px,#40ffbf 282.5px,#50ffaf 285.5px,#50ffaf 318.5px,#60ff9f 321.5px,#60ff9f 333.5px)"></i><i style="height:4px;background:linear-gradient(90deg,#afff50 0.5px,#b0ff4f 13.5px,#bfff40 16.5px,#bfff40 49.5px,#cfff30 52.5px,#cfff30 71.5px,#dfff20 73.5px,#dfff20 86.5px,#efff10 88.5px,#efff10 97.5px,#ffff00 99.5px,#fffe00 106.5px,#fff100 107.5px,#ffef00 112.5px,#ffdf00 114.5px,#ffde00 118.5px,#ffd100 119.5px,#ffcf00 122.5px,#ffbf00 124.5px,#ffbf00 126.5px,#ffb400 127.5px,#ff9f00 132.5px,#ff6e00 139.5px,#fc0000 149.5px,#800000 157.5px,#800000 162.5px,#980000 163.5px,#e80b00 164.5px,#ff9100 165.5px,#88ff77 166.5px,#00a2ff 167.5px,#0012f1 168.5px,#0000a8 169.5px,#00008f 170.5px,#00008f 175.5px,#0000fd 182.5px,#004dff 188.5px,#009cff 197.5px,#00cfff 206.5px,#00cfff 208.5px,#00dfff 210.5px,#00e0ff 213.5px,#00eeff 214.5px,#00efff 218.5px,#00ffff 220.5px,#02fffd 225.5px,#10ffef 227.5px,#10ffef 233.5px,#20ffdf 235.5px,#20ffdf 244.5px,#30ffcf 246.5px,#30ffcf 259.5px,#40ffbf 261.5px,#40ffbf 280.5px,#50ffaf 283.5px,#50ffaf 316.5px,#5fffa0 319.5px,#60ff9f 333.5px)"></i><i style="height:4px;background:linear-gradient(90deg,#afff50 0.5px,#b0ff4f 15.5px,#bfff40 18.5px,#bfff40 50.5px,#cfff30 53.5px,#cfff30 72.5px,#dfff20 75.5px,#dfff20 87.5px,#eeff11 89.5px,#efff10 98.5px,#ffff00 100.5px,#ffff00 106.5px,#fff000 108.5px,#ffef00 113.5px,#ffdf00 115.5px,#ffdf00 118.5px,#ffcf00 120.5px,#ffcf00 123.5px,#ffc100 124.5px,#ffae00 130.5px,#ffa000 131.5px,#ff8f00 135.5px,#ff5f00 141.5px,#ff0000 149.5px,#f10000 150.5px,#810000 157.5px,#800000 162.5px,#9e0000 163.5px,#ea0b00 164.5px,#ff9500 165.5px,#88ff77 166.5px,#00a5ff 167.5px,#0012f2 168.5px,#0000ae 169.5px,#00008f 170.5px,#000091 175.5px,#0000f2 181.5px,#0002ff 182.5px,#005bff 189.5px,#009fff 197.5px,#00b0ff 201.5px,#00beff 202.5px,#00bfff 204.5px,#00ccff 205.5px,#00d1ff 208.5px,#00dfff 209.5px,#00dfff 212.5px,#00efff 214.5px,#00efff 217.5px,#00ffff 219.5px,#01fffe 224.5px,#10ffef 226.5px,#10ffef 232.5px,#20ffdf 234.5px,#20ffdf 243.5px,#30ffcf 245.5px,#30ffcf 257.5px,#40ffbf 260.5px,#40ffbf 279.5px,#50ffaf 282.5px,#50ffaf 314.5px,#5fffa0 317.5px,#60ff9f 333.5px)"></i><i style="height:4px;background:linear-gradient(90deg,#afff50 0.5px,#b0ff4f 17.5px,#bfff40 20.5px,#bfff40 52.5px,#cfff30 55.5px,#d0ff2f 74.5px,#dfff20 76.5px,#dfff20 88.5px,#eeff11 90.5px,#efff10 99.5px,#ffff00 101.5px,#ffff00 107.5px,#ffef00 109.5px,#ffee00 114.5px,#ffe200 115.5px,#ffdf00 119.5px,#ffcf00 121.5px,#ffcf00 123.5px,#ffbf00 125.5px,#ffbf00 127.5px,#ff9f00 133.5px,#ff6c00 140.5px,#ff2e00 146.5px,#ff0500 149.5px,#f60000 150.5px,#860000 157.5px,#800000 158.5px,#800000 162.5px,#a30000 163.5px,#ed0b00 164.5px,#ff9700 165.5px,#89ff76 166.5px,#00a7ff 167.5px,#0012f6 168.5px,#0000b3 169.5px,#000090 170.5px,#00008f 174.5px,#000096 175.5px,#0000f7 181.5px,#0007ff 182.5px,#005fff 189.5px,#008dff 194.5px,#00cfff 205.5px,#00cfff 207.5px,#00dbff 208.5px,#00dfff 211.5px,#00efff 213.5px,#00f2ff 217.5px,#00feff 218.5px,#00ffff 223.5px,#10ffef 225.5px,#10ffef 231.5px,#20ffdf 233.5px,#21ffde 242.5px,#30ffcf 244.5px,#30ffcf 256.5px,#40ffbf 259.5px,#40ffbf 277.5px,#50ffaf 280.5px,#50ffaf 312.5px,#5fffa0 315.5px,#60ff9f 333.5px)"></i><i style="height:4px;background:linear-gradient(90deg,#afff50 0.5px,#afff50 19.5px,#bfff40 22.5px,#bfff40 53.5px,#cfff30 56.5px,#cfff30 75.5px,#dfff20 77.5px,#dfff20 89.5px,#efff10 92.5px,#efff10 100.5px,#ffff00 102.5px,#ffff00 108.5px,#ffef00 110.5px,#ffef00 114.5px,#ffe000 116.5px,#ffde00 120.5px,#ffd200 121.5px,#ffcf00 124.5px,#ffbf00 126.5px,#ffbe00 128.5px,#ffb100 129.5px,#ffaf00 131.5px,#ff5e00 142.5px,#fb0000 150.5px,#800000 158.5px,#830000 162.5px,#a70000 163.5px,#f00c00 164.5px,#ff9900 165.5px,#88ff77 166.5px,#00aaff 167.5px,#0016f7 168.5px,#0000b7 169.5px,#000093 170.5px,#00008f 174.5px,#0000fc 181.5px,#004eff 187.5px,#009fff 196.5px,#00b2ff 200.5px,#00bfff 201.5px,#00c1ff 203.5px,#00ceff 204.5px,#00e1ff 211.5px,#00eeff 212.5px,#00f0ff 216.5px,#00ffff 218.5px,#00ffff 222.5px,#10ffef 224.5px,#10ffef 230.5px,#20ffdf 232.5px,#20ffdf 240.5px,#30ffcf 243.5px,#30ffcf 255.5px,#40ffbf 257.5px,#40ffbf 276.5px,#50ffaf 279.5px,#50ffaf 310.5px,#5fffa0 313.5px,#60ff9f 333.5px)"></i><i style="height:4px;background:linear-gradient(90deg,#afff50 0.5px,#afff50 21.5px,#bfff40 25.5px,#bfff40 55.5px,#cfff30 58.5px,#cfff30 76.5px,#dfff20 79.5px,#e0ff1f 91.5px,#efff10 93.5px,#efff10 101.5px,#ffff00 103.5px,#ffff00 109.5px,#ffef00 111.5px,#ffef00 115.5px,#ffe000 117.5px,#ffce00 125.5px,#ffc200 126.5px,#ffbf00 128.5px,#ff9f00 134.5px,#ff6b00 141.5px,#ff4e00 144.5px,#ff0100 150.5px,#f10000 151.5px,#840000 158.5px,#860000 162.5px,#ae0000 163.5px,#f21200 164.5px,#ff9c00 165.5px,#88ff77 166.5px,#00acff 167.5px,#001bf9 168.5px,#0000be 169.5px,#000096 170.5px,#000094 174.5px,#0000f2 180.5px,#0002ff 181.5px,#005eff 188.5px,#009cff 195.5px,#00cfff 204.5px,#00d2ff 206.5px,#00deff 207.5px,#00f0ff 215.5px,#00ffff 217.5px,#00ffff 221.5px,#10ffef 223.5px,#10ffef 229.5px,#20ffdf 231.5px,#20ffdf 239.5px,#2fffd0 241.5px,#30ffcf 253.5px,#40ffbf 256.5px,#40ffbf 274.5px,#50ffaf 277.5px,#50ffaf 307.5px,#60ff9f 311.5px,#60ff9f 333.5px)"></i><i style="height:4px;background:linear-gradient(90deg,#afff50 0.5px,#b0ff4f 24.5px,#bfff40 27.5px,#bfff40 57.5px,#cfff30 60.5px,#cfff30 78.5px,#deff21 80.5px,#dfff20 92.5px,#efff10 94.5px,#efff10 102.5px,#feff01 104.5px,#ffff00 110.5px,#ffef00 112.5px,#ffef00 116.5px,#ffdf00 118.5px,#ffdf00 121.5px,#ffcf00 123.5px,#ffcc00 126.5px,#ffc000 127.5px,#ffbf00 129.5px,#ff9e00 135.5px,#ff5e00 143.5px,#ff0700 150.5px,#f70000 151.5px,#800000 159.5px,#800000 161.5px,#8b0000 162.5px,#b30000 163.5px,#f51200 164.5px,#ffa000 165.5px,#88ff77 166.5px,#02affd 167.5px,#001cfb 168.5px,#0000c4 169.5px,#00009b 170.5px,#00008f 171.5px,#000090 173.5px,#0000f8 180.5px,#0008ff 181.5px,#006dff 189.5px,#00aeff 197.5px,#00cfff 203.5px,#00d0ff 205.5px,#00dcff 206.5px,#00dfff 209.5px,#00efff 211.5px,#00efff 214.5px,#00ffff 216.5px,#00ffff 220.5px,#10ffef 222.5px,#11ffee 228.5px,#20ffdf 230.5px,#20ffdf 238.5px,#30ffcf 240.5px,#31ffce 252.5px,#40ffbf 254.5px,#40ffbf 272.5px,#50ffaf 275.5px,#50ffaf 305.5px,#60ff9f 309.5px,#60ff9f 333.5px)"></i><i style="height:4px;background:linear-gradient(90deg,#afff50 0.5px,#afff50 26.5px,#bfff40 30.5px,#bfff40 59.5px,#cfff30 62.5px,#cfff30 79.5px,#dfff20 82.5px,#dfff20 93.5px,#efff10 96.5px,#efff10 103.5px,#ffff00 106.5px,#ffff00 111.5px,#ffef00 113.5px,#ffef00 117.5px,#ffdf00 119.5px,#ffdf00 122.5px,#ffcf00 124.5px,#ffcf00 126.5px,#ffbf00 128.5px,#ffae00 133.5px,#ff6c00 142.5px,#fe0000 151.5px,#ee0000 152.5px,#910000 158.5px,#800000 160.5px,#810000 161.5px,#940000 162.5px,#b90000 163.5px,#f71400 164.5px,#ffa200 165.5px,#88ff77 166.5px,#02b0fd 167.5px,#001ffc 168.5px,#0000c9 169.5px,#0000a4 170.5px,#000091 171.5px,#00008f 172.5px,#0000a1 174.5px,#0000fe 180.5px,#005eff 187.5px,#009dff 194.5px,#00b1ff 198.5px,#00beff 199.5px,#00c2ff 201.5px,#00ceff 202.5px,#00dfff 208.5px,#00efff 210.5px,#00efff 213.5px,#00ffff 215.5px,#00ffff 219.5px,#10ffef 221.5px,#12ffed 227.5px,#20ffdf 229.5px,#20ffdf 236.5px,#30ffcf 239.5px,#30ffcf 250.5px,#40ffbf 253.5px,#40ffbf 270.5px,#50ffaf 273.5px,#50ffaf 302.5px,#60ff9f 306.5px,#60ff9f 333.5px)"></i><i style="height:3px;background:linear-gradient(90deg,#afff50 0.5px,#b0ff4f 29.5px,#bfff40 32.5px,#bfff40 61.5px,#cfff30 64.5px,#cfff30 81.5px,#deff21 83.5px,#e0ff1f 95.5px,#efff10 97.5px,#efff10 104.5px,#fdff02 106.5px,#ffff00 112.5px,#ffef00 114.5px,#ffef00 118.5px,#ffdf00 120.5px,#ffdf00 123.5px,#ffcf00 125.5px,#ffcf00 127.5px,#ff9f00 136.5px,#ff5d00 144.5px,#ff0400 151.5px,#f40000 152.5px,#a50000 157.5px,#890000 160.5px,#980000 162.5px,#c00000 163.5px,#f91900 164.5px,#ffa700 165.5px,#88ff77 166.5px,#02b5fd 167.5px,#0024fd 168.5px,#0000d0 169.5px,#0000a8 170.5px,#000099 172.5px,#0000b5 175.5px,#0000f4 179.5px,#0005ff 180.5px,#006dff 188.5px,#00afff 196.5px,#00dfff 205.5px,#00dfff 207.5px,#00efff 209.5px,#00efff 212.5px,#00ffff 214.5px,#00ffff 218.5px,#10ffef 220.5px,#12ffed 226.5px,#20ffdf 228.5px,#20ffdf 235.5px,#2fffd0 237.5px,#31ffce 249.5px,#40ffbf 251.5px,#40ffbf 268.5px,#50ffaf 271.5px,#50ffaf 300.5px,#5fffa0 303.5px,#60ff9f 333.5px)"></i><i style="height:4px;background:linear-gradient(90deg,#afff50 0.5px,#afff50 31.5px,#bfff40 35.5px,#bfff40 63.5px,#cfff30 66.5px,#cfff30 82.5px,#dfff20 85.5px,#dfff20 96.5px,#efff10 98.5px,#efff10 105.5px,#ffff00 108.5px,#ffff00 113.5px,#ffef00 115.5px,#ffef00 119.5px,#ffdf00 121.5px,#ffde00 124.5px,#ffd300 125.5px,#ffce00 128.5px,#ffc200 129.5px,#ffbf00 131.5px,#ff9c00 137.5px,#ff4c00 146.5px,#fb0000 152.5px,#930000 159.5px,#900000 161.5px,#a00000 162.5px,#c50000 163.5px,#fb1c00 164.5px,#ffa900 165.5px,#88ff77 166.5px,#02b7fd 167.5px,#0028ff 168.5px,#0000d5 169.5px,#0000af 170.5px,#0000a0 171.5px,#00009f 172.5px,#0000af 174.5px,#0000fb 179.5px,#000cff 180.5px,#005cff 186.5px,#009eff 193.5px,#00cfff 201.5px,#00d2ff 203.5px,#00deff 204.5px,#00e3ff 207.5px,#00eeff 208.5px,#00efff 211.5px,#00ffff 213.5px,#00ffff 217.5px,#10ffef 219.5px,#10ffef 224.5px,#1effe1 226.5px,#20ffdf 234.5px,#30ffcf 236.5px,#30ffcf 247.5px,#40ffbf 250.5px,#40ffbf 266.5px,#50ffaf 269.5px,#50ffaf 297.5px,#60ff9f 301.5px,#60ff9f 333.5px)"></i><i style="height:4px;background:linear-gradient(90deg,#afff50 0.5px,#afff50 34.5px,#bfff40 38.5px,#bfff40 65.5px,#cfff30 68.5px,#cfff30 84.5px,#dfff20 87.5px,#dfff20 97.5px,#efff10 100.5px,#efff10 107.5px,#ffff00 109.5px,#ffff00 114.5px,#fff000 116.5px,#ffef00 120.5px,#ffdf00 122.5px,#ffde00 125.5px,#ffd200 126.5px,#ffcd00 129.5px,#ffc100 130.5px,#ffae00 135.5px,#ff5e00 145.5px,#ff0300 152.5px,#f20000 153.5px,#a60000 158.5px,#960000 160.5px,#a60000 162.5px,#cd0000 163.5px,#fd1e00 164.5px,#ffac00 165.5px,#89ff76 166.5px,#02bafd 167.5px,#002cff 168.5px,#0000dd 169.5px,#0000b6 170.5px,#0000a6 172.5px,#0000b6 174.5px,#0003ff 179.5px,#006eff 187.5px,#009bff 192.5px,#00cfff 200.5px,#00e2ff 206.5px,#00eeff 207.5px,#00efff 210.5px,#00ffff 212.5px,#01fffe 216.5px,#10ffef 218.5px,#10ffef 223.5px,#20ffdf 225.5px,#20ffdf 232.5px,#30ffcf 235.5px,#30ffcf 245.5px,#40ffbf 248.5px,#40ffbf 264.5px,#50ffaf 267.5px,#50ffaf 294.5px,#5fffa0 298.5px,#60ff9f 333.5px)"></i><i style="height:4px;background:linear-gradient(90deg,#afff50 0.5px,#afff50 37.5px,#bfff40 41.5px,#bfff40 67.5px,#cfff30 71.5px,#cfff30 86.5px,#dfff20 89.5px,#dfff20 99.5px,#eeff11 101.5px,#efff10 108.5px,#fdff02 110.5px,#ffff00 115.5px,#fff200 117.5px,#ffef00 121.5px,#ffdf00 123.5px,#ffde00 126.5px,#ffd300 127.5px,#ffcd00 130.5px,#ffc100 131.5px,#ffad00 136.5px,#ff6e00 144.5px,#fa0000 153.5px,#b00000 158.5px,#9f0000 160.5px,#a00000 161.5px,#af0000 162.5px,#d40000 163.5px,#fe2400 164.5px,#ffb000 165.5px,#89ff76 166.5px,#02befd 167.5px,#0034ff 168.5px,#0000e4 169.5px,#0000bf 170.5px,#0000af 171.5px,#0000b3 173.5px,#0000fb 178.5px,#005eff 185.5px,#00afff 194.5px,#00ceff 199.5px,#00d1ff 201.5px,#00ddff 202.5px,#00e3ff 205.5px,#00eeff 206.5px,#00efff 209.5px,#00ffff 211.5px,#03fffc 215.5px,#10ffef 217.5px,#12ffed 222.5px,#20ffdf 224.5px,#21ffde 231.5px,#30ffcf 233.5px,#30ffcf 243.5px,#40ffbf 246.5px,#40ffbf 261.5px,#50ffaf 265.5px,#50ffaf 291.5px,#5fffa0 295.5px,#60ff9f 333.5px)"></i><i style="height:4px;background:linear-gradient(90deg,#afff50 0.5px,#afff50 40.5px,#bfff40 44.5px,#c0ff3f 70.5px,#cfff30 73.5px,#cfff30 88.5px,#dfff20 91.5px,#e0ff1f 101.5px,#efff10 103.5px,#f0ff0f 110.5px,#ffff00 112.5px,#fffe00 117.5px,#ffef00 119.5px,#ffef00 122.5px,#ffe000 124.5px,#ffde00 127.5px,#ff9e00 139.5px,#ff5f00 146.5px,#ff0300 153.5px,#f30000 154.5px,#b80000 158.5px,#a80000 160.5px,#b70000 162.5px,#dc0000 163.5px,#ff2a00 164.5px,#ffb500 165.5px,#88ff77 166.5px,#02c3fd 167.5px,#003aff 168.5px,#0001eb 169.5px,#0000c7 170.5px,#0000b8 172.5px,#0000c8 174.5px,#0004ff 178.5px,#004cff 183.5px,#009fff 191.5px,#00ceff 198.5px,#00d0ff 200.5px,#00dcff 201.5px,#00e3ff 204.5px,#00eeff 205.5px,#00f0ff 208.5px,#00ffff 210.5px,#00ffff 213.5px,#0ffff0 215.5px,#10ffef 220.5px,#1fffe0 222.5px,#20ffdf 229.5px,#2fffd0 231.5px,#30ffcf 241.5px,#40ffbf 244.5px,#40ffbf 259.5px,#4fffb0 262.5px,#50ffaf 288.5px,#60ff9f 292.5px,#60ff9f 333.5px)"></i><i style="height:3px;background:linear-gradient(90deg,#afff50 0.5px,#afff50 43.5px,#bfff40 47.5px,#bfff40 72.5px,#cfff30 75.5px,#cfff30 90.5px,#dfff20 93.5px,#dfff20 102.5px,#edff12 104.5px,#efff10 111.5px,#feff01 113.5px,#ffff00 118.5px,#ffef00 120.5px,#ffef00 123.5px,#ffe000 125.5px,#ffdf00 128.5px,#ffd200 129.5px,#ffcb00 132.5px,#ffbf00 133.5px,#ffbc00 135.5px,#ffb000 136.5px,#ff9c00 140.5px,#ff5b00 147.5px,#fb0000 154.5px,#c00000 158.5px,#af0000 160.5px,#b00000 161.5px,#c00000 162.5px,#e30000 163.5px,#ff2f00 164.5px,#ffb600 165.5px,#88ff77 166.5px,#02c5fd 167.5px,#003fff 168.5px,#0002f1 169.5px,#0000d0 170.5px,#0000bf 171.5px,#0000c4 173.5px,#0000fb 177.5px,#005fff 184.5px,#009cff 190.5px,#00ccff 197.5px,#00e2ff 203.5px,#00eeff 204.5px,#00f0ff 207.5px,#00ffff 209.5px,#00ffff 212.5px,#10ffef 214.5px,#11ffee 219.5px,#20ffdf 221.5px,#22ffdd 228.5px,#30ffcf 230.5px,#30ffcf 239.5px,#40ffbf 242.5px,#40ffbf 257.5px,#50ffaf 260.5px,#50ffaf 285.5px,#60ff9f 289.5px,#60ff9f 333.5px)"></i><i style="height:4px;background:linear-gradient(90deg,#afff50 0.5px,#afff50 45.5px,#bfff40 50.5px,#bfff40 74.5px,#ceff31 77.5px,#d0ff2f 92.5px,#dfff20 95.5px,#e0ff1f 104.5px,#eeff11 106.5px,#efff10 112.5px,#ffff00 115.5px,#ffff00 119.5px,#fff000 121.5px,#ffde00 129.5px,#ffaf00 138.5px,#ff6d00 146.5px,#ff0400 154.5px,#f30000 155.5px,#c90000 158.5px,#b90000 160.5px,#c70000 162.5px,#ea0000 163.5px,#ff3600 164.5px,#fdb902 165.5px,#88ff77 166.5px,#04c8fb 167.5px,#0047ff 168.5px,#0004f6 169.5px,#0000d7 170.5px,#0000c9 172.5px,#0004ff 177.5px,#005aff 183.5px,#008fff 188.5px,#00bfff 194.5px,#00ffff 208.5px,#01fffe 211.5px,#10ffef 213.5px,#10ffef 217.5px,#20ffdf 220.5px,#20ffdf 226.5px,#2fffd0 228.5px,#30ffcf 237.5px,#3fffc0 240.5px,#40ffbf 254.5px,#50ffaf 258.5px,#50ffaf 282.5px,#60ff9f 287.5px,#60ff9f 333.5px)"></i><i style="height:3px;background:linear-gradient(90deg,#afff50 0.5px,#afff50 49.5px,#bfff40 53.5px,#c0ff3f 77.5px,#cfff30 80.5px,#cfff30 94.5px,#deff21 96.5px,#dfff20 105.5px,#efff10 108.5px,#efff10 114.5px,#ffff00 116.5px,#ffff00 120.5px,#fff000 122.5px,#ffdf00 130.5px,#ffd200 131.5px,#ffae00 139.5px,#ff5e00 148.5px,#fc0000 155.5px,#d10000 158.5px,#bf0000 160.5px,#c00000 161.5px,#d00000 162.5px,#f10200 163.5px,#ff3c00 164.5px,#fdc002 165.5px,#88ff77 166.5px,#04cdfb 167.5px,#004cff 168.5px,#0008fa 169.5px,#0000d0 171.5px,#0000cf 172.5px,#0000fd 176.5px,#006eff 184.5px,#009fff 189.5px,#00cfff 196.5px,#00ffff 207.5px,#01fffe 210.5px,#10ffef 212.5px,#10ffef 216.5px,#20ffdf 218.5px,#20ffdf 224.5px,#30ffcf 227.5px,#31ffce 236.5px,#3fffc0 238.5px,#40ffbf 252.5px,#4fffb0 255.5px,#50ffaf 279.5px,#60ff9f 283.5px,#60ff9f 333.5px)"></i><i style="height:3px;background:linear-gradient(90deg,#a3ff5c 0.5px,#afff50 4.5px,#afff50 51.5px,#bfff40 55.5px,#bfff40 79.5px,#cfff30 82.5px,#cfff30 95.5px,#dfff20 98.5px,#dfff20 107.5px,#efff10 109.5px,#efff10 115.5px,#feff01 117.5px,#ffff00 121.5px,#fff100 123.5px,#ffde00 131.5px,#ffd100 132.5px,#ffcf00 134.5px,#ff9d00 142.5px,#ff4c00 150.5px,#ff0400 155.5px,#f40000 156.5px,#ca0000 160.5px,#d60000 162.5px,#f50400 163.5px,#ff4200 164.5px,#fdc102 165.5px,#89ff76 166.5px,#05cdfa 167.5px,#0052ff 168.5px,#000cfd 169.5px,#0000e6 170.5px,#0000da 172.5px,#0000f6 175.5px,#0005ff 176.5px,#007fff 185.5px,#00adff 190.5px,#00dfff 198.5px,#00e1ff 200.5px,#00eeff 201.5px,#00f1ff 204.5px,#00ffff 206.5px,#02fffd 209.5px,#10ffef 211.5px,#11ffee 215.5px,#20ffdf 217.5px,#20ffdf 223.5px,#30ffcf 225.5px,#30ffcf 234.5px,#40ffbf 237.5px,#40ffbf 250.5px,#4fffb0 253.5px,#50ffaf 277.5px,#60ff9f 281.5px,#60ff9f 328.5px,#6fff90 333.5px)"></i><i style="height:3px;background:linear-gradient(90deg,#9fff60 0.5px,#afff50 8.5px,#afff50 54.5px,#bfff40 58.5px,#bfff40 81.5px,#cfff30 84.5px,#cfff30 97.5px,#dfff20 100.5px,#dfff20 108.5px,#efff10 111.5px,#efff10 116.5px,#ffff00 119.5px,#fffe00 123.5px,#fff200 124.5px,#ffed00 128.5px,#ffe100 129.5px,#ffcf00 135.5px,#ff9800 143.5px,#ff5e00 149.5px,#fd0000 156.5px,#cf0000 160.5px,#d00000 161.5px,#df0000 162.5px,#fa0700 163.5px,#ff4800 164.5px,#fdc302 165.5px,#88ff77 166.5px,#05cffa 167.5px,#0058ff 168.5px,#0012ff 169.5px,#0000ef 170.5px,#0000e0 171.5px,#0000df 172.5px,#0000fe 175.5px,#006eff 183.5px,#008fff 186.5px,#00ceff 194.5px,#00ffff 205.5px,#03fffc 208.5px,#0ffff0 209.5px,#12ffed 214.5px,#20ffdf 216.5px,#22ffdd 222.5px,#30ffcf 224.5px,#30ffcf 232.5px,#40ffbf 235.5px,#40ffbf 248.5px,#4fffb0 251.5px,#50ffaf 274.5px,#60ff9f 278.5px,#60ff9f 324.5px,#6fff90 329.5px,#70ff8f 333.5px)"></i><i style="height:3px;background:linear-gradient(90deg,#9fff60 0.5px,#a0ff5f 7.5px,#afff50 12.5px,#afff50 57.5px,#bfff40 61.5px,#bfff40 83.5px,#cfff30 86.5px,#cfff30 99.5px,#deff21 101.5px,#e0ff1f 110.5px,#efff10 112.5px,#f0ff0f 118.5px,#ffff00 120.5px,#fffe00 124.5px,#ffef00 126.5px,#ffed00 129.5px,#ffe100 130.5px,#ffce00 136.5px,#ffaf00 141.5px,#ff7b00 147.5px,#ff4d00 151.5px,#ff0500 156.5px,#f60000 157.5px,#da0000 160.5px,#e60000 162.5px,#fd0b00 163.5px,#ff4f00 164.5px,#fdc902 165.5px,#88ff77 166.5px,#05d6fa 167.5px,#005eff 168.5px,#0018ff 169.5px,#0000f6 170.5px,#0000ea 172.5px,#0000fa 174.5px,#0007ff 175.5px,#005dff 181.5px,#009fff 187.5px,#00deff 196.5px,#00e0ff 198.5px,#00ecff 199.5px,#00f1ff 202.5px,#00ffff 204.5px,#00ffff 206.5px,#0ffff0 208.5px,#10ffef 212.5px,#1fffe0 214.5px,#20ffdf 220.5px,#2fffd0 222.5px,#31ffce 231.5px,#40ffbf 233.5px,#40ffbf 246.5px,#50ffaf 249.5px,#50ffaf 271.5px,#60ff9f 275.5px,#60ff9f 320.5px,#6fff90 325.5px,#70ff8f 333.5px)"></i><i style="height:3px;background:linear-gradient(90deg,#9fff60 0.5px,#9fff60 11.5px,#afff50 16.5px,#afff50 60.5px,#bfff40 64.5px,#bfff40 85.5px,#cfff30 88.5px,#d0ff2f 101.5px,#dfff20 103.5px,#dfff20 111.5px,#efff10 114.5px,#efff10 119.5px,#ffff00 121.5px,#ffff00 125.5px,#ffef00 127.5px,#ffed00 130.5px,#ffe200 131.5px,#ffdc00 134.5px,#ffd000 135.5px,#ffcd00 137.5px,#ffc100 138.5px,#ffae00 142.5px,#ff6d00 149.5px,#fe0100 157.5px,#f10000 158.5px,#df0000 160.5px,#e00000 161.5px,#ef0000 162.5px,#ff1000 163.5px,#ff5400 164.5px,#fdcd02 165.5px,#89ff76 166.5px,#05dafa 167.5px,#0064ff 168.5px,#0020ff 169.5px,#0002fd 170.5px,#0000f0 171.5px,#0000ef 172.5px,#0002ff 174.5px,#007dff 183.5px,#00aeff 188.5px,#00ddff 195.5px,#00ffff 203.5px,#00ffff 205.5px,#10ffef 207.5px,#10ffef 211.5px,#20ffdf 213.5px,#22ffdd 219.5px,#30ffcf 221.5px,#30ffcf 229.5px,#40ffbf 232.5px,#40ffbf 244.5px,#50ffaf 247.5px,#50ffaf 268.5px,#60ff9f 272.5px,#60ff9f 316.5px,#70ff8f 321.5px,#70ff8f 333.5px)"></i><i style="height:3px;background:linear-gradient(90deg,#9fff60 0.5px,#9fff60 15.5px,#afff50 20.5px,#afff50 63.5px,#bfff40 67.5px,#bfff40 87.5px,#ceff31 90.5px,#cfff30 102.5px,#dfff20 105.5px,#e0ff1f 113.5px,#efff10 115.5px,#efff10 120.5px,#fdff02 122.5px,#ffff00 126.5px,#ffef00 128.5px,#ffee00 131.5px,#ffe200 132.5px,#ffcc00 138.5px,#ffab00 143.5px,#ff7e00 148.5px,#fc0000 158.5px,#ec0000 160.5px,#f60000 162.5px,#ff1800 163.5px,#ff5b00 164.5px,#fdcd02 165.5px,#88ff77 166.5px,#05dafa 167.5px,#006bff 168.5px,#0028ff 169.5px,#0007ff 170.5px,#0001ff 173.5px,#006cff 181.5px,#00aaff 187.5px,#00dcff 194.5px,#00ffff 202.5px,#00ffff 204.5px,#10ffef 206.5px,#12ffed 210.5px,#20ffdf 212.5px,#20ffdf 217.5px,#2fffd0 219.5px,#30ffcf 227.5px,#40ffbf 230.5px,#41ffbe 242.5px,#50ffaf 245.5px,#50ffaf 265.5px,#60ff9f 269.5px,#60ff9f 312.5px,#70ff8f 317.5px,#70ff8f 333.5px)"></i><i style="height:3px;background:linear-gradient(90deg,#9fff60 0.5px,#9fff60 19.5px,#afff50 25.5px,#b0ff4f 66.5px,#bfff40 70.5px,#bfff40 89.5px,#cfff30 93.5px,#cfff30 104.5px,#dfff20 107.5px,#dfff20 114.5px,#efff10 117.5px,#f0ff0f 122.5px,#ffff00 124.5px,#ffff00 127.5px,#fff000 129.5px,#ffee00 132.5px,#ffe300 133.5px,#ffdb00 136.5px,#ffa700 144.5px,#ff7a00 149.5px,#ff0400 158.5px,#fb0000 159.5px,#f10000 161.5px,#fd0200 162.5px,#ff1f00 163.5px,#ff6200 164.5px,#fbcf04 165.5px,#88ff77 166.5px,#07dcf8 167.5px,#0072ff 168.5px,#002fff 169.5px,#0011ff 170.5px,#0002ff 171.5px,#0001ff 172.5px,#009fff 185.5px,#00cfff 191.5px,#00feff 200.5px,#10ffef 208.5px,#1fffe0 210.5px,#20ffdf 215.5px,#30ffcf 218.5px,#30ffcf 225.5px,#40ffbf 228.5px,#40ffbf 239.5px,#4fffb0 242.5px,#50ffaf 262.5px,#5fffa0 266.5px,#60ff9f 307.5px,#70ff8f 313.5px,#70ff8f 333.5px)"></i><i style="height:3px;background:linear-gradient(90deg,#9fff60 0.5px,#a0ff5f 24.5px,#afff50 29.5px,#b0ff4f 69.5px,#bfff40 73.5px,#bfff40 92.5px,#cfff30 95.5px,#cfff30 106.5px,#dfff20 109.5px,#dfff20 116.5px,#eeff11 118.5px,#efff10 123.5px,#feff01 125.5px,#ffff00 128.5px,#ffdb00 137.5px,#ffaf00 144.5px,#ff8d00 148.5px,#ff0200 159.5px,#ff0000 160.5px,#ff0800 162.5px,#ff2800 163.5px,#ff6700 164.5px,#fad605 165.5px,#88ff77 166.5px,#0ae2f5 167.5px,#0078ff 168.5px,#0038ff 169.5px,#0018ff 170.5px,#0010ff 171.5px,#0012ff 173.5px,#007bff 181.5px,#00afff 186.5px,#00cfff 190.5px,#00feff 199.5px,#11ffee 207.5px,#20ffdf 209.5px,#21ffde 214.5px,#30ffcf 216.5px,#30ffcf 223.5px,#40ffbf 226.5px,#40ffbf 237.5px,#4fffb0 240.5px,#50ffaf 259.5px,#5fffa0 263.5px,#60ff9f 303.5px,#6fff90 308.5px,#70ff8f 333.5px)"></i><i style="height:3px;background:linear-gradient(90deg,#9fff60 0.5px,#9fff60 28.5px,#afff50 34.5px,#b0ff4f 72.5px,#bfff40 76.5px,#bfff40 94.5px,#ceff31 97.5px,#cfff30 108.5px,#dfff20 111.5px,#e1ff1e 118.5px,#efff10 120.5px,#efff10 124.5px,#ffff00 127.5px,#fffe00 130.5px,#ffef00 132.5px,#ffef00 134.5px,#ffdb00 138.5px,#ffaf00 145.5px,#ff7f00 150.5px,#ff2400 157.5px,#ff0700 160.5px,#ff1300 162.5px,#ff3000 163.5px,#ff6f00 164.5px,#fada05 165.5px,#88ff77 166.5px,#0be4f4 167.5px,#007fff 168.5px,#0040ff 169.5px,#0023ff 170.5px,#0017ff 172.5px,#0028ff 174.5px,#00aeff 185.5px,#00ceff 189.5px,#00ffff 198.5px,#00ffff 200.5px,#0ffff0 202.5px,#10ffef 205.5px,#20ffdf 208.5px,#20ffdf 212.5px,#2effd1 214.5px,#30ffcf 221.5px,#40ffbf 224.5px,#41ffbe 235.5px,#50ffaf 238.5px,#50ffaf 256.5px,#5fffa0 260.5px,#60ff9f 298.5px,#70ff8f 304.5px,#70ff8f 333.5px)"></i><i style="height:3px;background:linear-gradient(90deg,#9fff60 0.5px,#a0ff5f 33.5px,#afff50 38.5px,#afff50 75.5px,#bfff40 79.5px,#bfff40 96.5px,#cfff30 100.5px,#cfff30 110.5px,#dfff20 113.5px,#dfff20 119.5px,#edff12 121.5px,#efff10 126.5px,#ffff00 128.5px,#ffff00 131.5px,#ffef00 133.5px,#ffef00 135.5px,#ffdf00 137.5px,#ffdc00 139.5px,#ffad00 146.5px,#ff7c00 151.5px,#ff2100 158.5px,#ff1000 160.5px,#ff1c00 162.5px,#ff3900 163.5px,#ff7600 164.5px,#fadc05 165.5px,#88ff77 166.5px,#0be7f4 167.5px,#0086ff 168.5px,#0049ff 169.5px,#002cff 170.5px,#0020ff 172.5px,#0031ff 174.5px,#008cff 181.5px,#00bdff 186.5px,#00ffff 197.5px,#00ffff 199.5px,#10ffef 201.5px,#10ffef 204.5px,#20ffdf 206.5px,#22ffdd 211.5px,#30ffcf 213.5px,#30ffcf 219.5px,#40ffbf 222.5px,#40ffbf 232.5px,#4fffb0 235.5px,#50ffaf 253.5px,#60ff9f 257.5px,#60ff9f 294.5px,#6fff90 299.5px,#70ff8f 333.5px)"></i><i style="height:3px;background:linear-gradient(90deg,#9fff60 0.5px,#9fff60 37.5px,#afff50 43.5px,#afff50 78.5px,#bfff40 82.5px,#bfff40 99.5px,#cfff30 102.5px,#cfff30 112.5px,#dfff20 115.5px,#e0ff1f 121.5px,#eeff11 123.5px,#efff10 127.5px,#fcff03 129.5px,#ffff00 132.5px,#ffdc00 140.5px,#ffbc00 145.5px,#ff8f00 150.5px,#ff2100 159.5px,#ff1d00 161.5px,#ff2600 162.5px,#ff4200 163.5px,#ff7d00 164.5px,#fadf05 165.5px,#88ff77 166.5px,#0beaf4 167.5px,#008dff 168.5px,#0052ff 169.5px,#0036ff 170.5px,#002dff 172.5px,#0031ff 173.5px,#0088ff 180.5px,#00bcff 185.5px,#00ffff 196.5px,#13ffec 203.5px,#20ffdf 205.5px,#21ffde 209.5px,#2fffd0 211.5px,#30ffcf 217.5px,#40ffbf 220.5px,#40ffbf 230.5px,#50ffaf 233.5px,#50ffaf 250.5px,#60ff9f 254.5px,#60ff9f 289.5px,#70ff8f 295.5px,#70ff8f 333.5px)"></i><i style="height:3px;background:linear-gradient(90deg,#9fff60 0.5px,#9fff60 42.5px,#afff50 47.5px,#afff50 81.5px,#bfff40 85.5px,#bfff40 101.5px,#cfff30 105.5px,#cfff30 114.5px,#dfff20 117.5px,#e1ff1e 123.5px,#efff10 125.5px,#efff10 129.5px,#ffff00 131.5px,#ffff00 133.5px,#ffdd00 141.5px,#ffbb00 146.5px,#ff8d00 151.5px,#ff3600 158.5px,#ff2500 161.5px,#ff3000 162.5px,#ff4c00 163.5px,#ff8500 164.5px,#f9e306 165.5px,#88ff77 166.5px,#0cedf3 167.5px,#0095ff 168.5px,#005cff 169.5px,#0040ff 170.5px,#0035ff 172.5px,#00baff 184.5px,#00edff 191.5px,#00ffff 195.5px,#0ffff0 198.5px,#10ffef 201.5px,#1fffe0 203.5px,#20ffdf 207.5px,#2effd1 209.5px,#30ffcf 215.5px,#40ffbf 218.5px,#40ffbf 227.5px,#50ffaf 231.5px,#50ffaf 247.5px,#60ff9f 251.5px,#60ff9f 285.5px,#70ff8f 290.5px,#70ff8f 333.5px)"></i><i style="height:3px;background:linear-gradient(90deg,#9fff60 0.5px,#9fff60 46.5px,#afff50 52.5px,#afff50 84.5px,#beff41 88.5px,#bfff40 104.5px,#cfff30 107.5px,#cfff30 116.5px,#dfff20 119.5px,#dfff20 124.5px,#efff10 127.5px,#ffff00 135.5px,#ffef00 137.5px,#ffde00 142.5px,#ffbb00 147.5px,#ff8b00 152.5px,#ff4100 158.5px,#ff3000 161.5px,#ff3a00 162.5px,#ff5500 163.5px,#ff8c00 164.5px,#f6e709 165.5px,#8aff75 166.5px,#11f0ee 167.5px,#009dff 168.5px,#0065ff 169.5px,#004aff 170.5px,#0040ff 172.5px,#00cbff 185.5px,#00feff 193.5px,#00ffff 195.5px,#10ffef 197.5px,#13ffec 200.5px,#20ffdf 202.5px,#20ffdf 205.5px,#30ffcf 208.5px,#30ffcf 213.5px,#40ffbf 216.5px,#40ffbf 225.5px,#50ffaf 228.5px,#50ffaf 244.5px,#60ff9f 248.5px,#60ff9f 280.5px,#70ff8f 286.5px,#70ff8f 333.5px)"></i><i style="height:3px;background:linear-gradient(90deg,#9fff60 0.5px,#9fff60 51.5px,#afff50 57.5px,#b0ff4f 88.5px,#bfff40 92.5px,#bfff40 106.5px,#cfff30 110.5px,#cfff30 118.5px,#dfff20 121.5px,#dfff20 126.5px,#edff12 128.5px,#efff10 132.5px,#ffff00 134.5px,#ffff00 136.5px,#ffca00 146.5px,#ff9e00 151.5px,#ff4200 159.5px,#ff3d00 161.5px,#ff4400 162.5px,#ff5e00 163.5px,#ff9500 164.5px,#f4ea0b 165.5px,#89ff76 166.5px,#12f2ed 167.5px,#00a5ff 168.5px,#006eff 169.5px,#0054ff 170.5px,#004dff 171.5px,#0052ff 173.5px,#00caff 184.5px,#00ffff 192.5px,#10ffef 198.5px,#1fffe0 200.5px,#22ffdd 204.5px,#30ffcf 206.5px,#30ffcf 211.5px,#40ffbf 214.5px,#40ffbf 222.5px,#50ffaf 226.5px,#50ffaf 240.5px,#5fffa0 244.5px,#60ff9f 275.5px,#70ff8f 281.5px,#70ff8f 333.5px)"></i><i style="height:3px;background:linear-gradient(90deg,#9fff60 0.5px,#9fff60 56.5px,#afff50 62.5px,#afff50 91.5px,#bfff40 95.5px,#bfff40 109.5px,#cfff30 112.5px,#cfff30 120.5px,#dfff20 123.5px,#e0ff1f 128.5px,#eeff11 130.5px,#fffe00 138.5px,#ffdf00 144.5px,#ffba00 149.5px,#ff4f00 159.5px,#ff4600 161.5px,#ff5000 162.5px,#ff6900 163.5px,#ff9c00 164.5px,#f4ed0b 165.5px,#88ff77 166.5px,#12f6ed 167.5px,#00adff 168.5px,#0079ff 169.5px,#0060ff 170.5px,#0056ff 171.5px,#0068ff 174.5px,#00caff 183.5px,#00ffff 191.5px,#1dffe2 198.5px,#21ffde 202.5px,#2fffd0 204.5px,#30ffcf 209.5px,#40ffbf 212.5px,#40ffbf 220.5px,#50ffaf 223.5px,#50ffaf 237.5px,#60ff9f 241.5px,#60ff9f 270.5px,#70ff8f 276.5px,#70ff8f 333.5px)"></i><i style="height:3px;background:linear-gradient(90deg,#9fff60 0.5px,#9fff60 61.5px,#afff50 67.5px,#afff50 94.5px,#beff41 98.5px,#bfff40 111.5px,#cfff30 115.5px,#cfff30 122.5px,#dfff20 125.5px,#e0ff1f 130.5px,#efff10 132.5px,#efff10 135.5px,#feff01 137.5px,#ffff00 139.5px,#ffcb00 148.5px,#ff9d00 153.5px,#ff6300 158.5px,#ff5100 161.5px,#ff5b00 162.5px,#ff7300 163.5px,#ffa500 164.5px,#f3f10c 165.5px,#88ff77 166.5px,#15f8ea 167.5px,#00b5ff 168.5px,#0082ff 169.5px,#006bff 170.5px,#0061ff 171.5px,#0073ff 174.5px,#00adff 179.5px,#00dbff 184.5px,#00ffff 190.5px,#20ffdf 197.5px,#20ffdf 200.5px,#2fffd0 202.5px,#30ffcf 207.5px,#40ffbf 210.5px,#40ffbf 217.5px,#50ffaf 221.5px,#51ffae 234.5px,#60ff9f 238.5px,#60ff9f 265.5px,#70ff8f 271.5px,#70ff8f 333.5px)"></i><i style="height:3px;background:linear-gradient(90deg,#9fff60 0.5px,#9fff60 66.5px,#afff50 72.5px,#b0ff4f 98.5px,#bfff40 102.5px,#bfff40 114.5px,#cfff30 118.5px,#d1ff2e 125.5px,#deff21 127.5px,#e1ff1e 132.5px,#efff10 134.5px,#f1ff0e 137.5px,#ffff00 140.5px,#ffcc00 149.5px,#ff6600 159.5px,#ff6000 161.5px,#ff6600 162.5px,#ff7e00 163.5px,#ffae00 164.5px,#f1f40e 165.5px,#88ff77 166.5px,#18fae7 167.5px,#00beff 168.5px,#008eff 169.5px,#0076ff 170.5px,#0070ff 172.5px,#00dcff 183.5px,#00ffff 189.5px,#1effe1 195.5px,#20ffdf 198.5px,#30ffcf 201.5px,#31ffce 205.5px,#3effc1 207.5px,#40ffbf 214.5px,#50ffaf 218.5px,#50ffaf 230.5px,#5fffa0 234.5px,#60ff9f 260.5px,#70ff8f 266.5px,#70ff8f 333.5px)"></i><i style="height:3px;background:linear-gradient(90deg,#9fff60 0.5px,#9fff60 71.5px,#afff50 77.5px,#afff50 101.5px,#beff41 105.5px,#bfff40 117.5px,#cfff30 120.5px,#d0ff2f 127.5px,#ddff22 129.5px,#dfff20 133.5px,#ffff00 142.5px,#ffcd00 150.5px,#ff7200 159.5px,#ff6c00 161.5px,#ff7200 162.5px,#ff8800 163.5px,#ffb600 164.5px,#eef711 165.5px,#1bfce4 167.5px,#00c6ff 168.5px,#0098ff 169.5px,#0082ff 170.5px,#007cff 171.5px,#0082ff 173.5px,#00ddff 182.5px,#00ffff 187.5px,#20ffdf 194.5px,#20ffdf 196.5px,#30ffcf 199.5px,#32ffcd 203.5px,#3fffc0 205.5px,#40ffbf 212.5px,#4fffb0 215.5px,#50ffaf 227.5px,#60ff9f 231.5px,#60ff9f 255.5px,#70ff8f 261.5px,#70ff8f 333.5px)"></i><i style="height:2px;background:linear-gradient(90deg,#9fff60 0.5px,#9fff60 76.5px,#afff50 80.5px,#b0ff4f 105.5px,#bfff40 108.5px,#bfff40 119.5px,#cfff30 122.5px,#cfff30 129.5px,#dfff20 131.5px,#dfff20 135.5px,#eeff11 137.5px,#f0ff0f 140.5px,#ffff00 143.5px,#ffdd00 149.5px,#ff8600 158.5px,#ff7400 161.5px,#ff9100 163.5px,#ffbe00 164.5px,#ecf813 165.5px,#1ffde0 167.5px,#00ceff 168.5px,#00a1ff 169.5px,#0084ff 171.5px,#0096ff 174.5px,#00ddff 181.5px,#00ffff 186.5px,#1fffe0 192.5px,#20ffdf 195.5px,#30ffcf 197.5px,#30ffcf 201.5px,#3fffc0 203.5px,#40ffbf 210.5px,#50ffaf 213.5px,#50ffaf 224.5px,#5fffa0 227.5px,#60ff9f 252.5px,#70ff8f 256.5px,#73ff8c 333.5px)"></i><i style="height:2px;background:linear-gradient(90deg,#8fff70 0.5px,#9fff60 7.5px,#9fff60 79.5px,#afff50 84.5px,#afff50 107.5px,#bfff40 110.5px,#bfff40 121.5px,#cfff30 124.5px,#cfff30 130.5px,#dcff23 132.5px,#e2ff1d 137.5px,#ecff13 138.5px,#efff10 141.5px,#ffff00 144.5px,#ffdc00 150.5px,#ff8000 160.5px,#ff8400 162.5px,#ff9900 163.5px,#ffc500 164.5px,#eafb15 165.5px,#88ff77 166.5px,#22ffdd 167.5px,#00d4ff 168.5px,#00a9ff 169.5px,#0094ff 170.5px,#008fff 172.5px,#00dcff 180.5px,#00ffff 185.5px,#20ffdf 191.5px,#32ffcd 200.5px,#40ffbf 202.5px,#40ffbf 208.5px,#50ffaf 211.5px,#50ffaf 222.5px,#60ff9f 225.5px,#60ff9f 248.5px,#70ff8f 253.5px,#70ff8f 325.5px,#80ff80 333.5px)"></i><i style="height:2px;background:linear-gradient(90deg,#8fff70 0.5px,#8fff70 7.5px,#9fff60 14.5px,#9fff60 83.5px,#afff50 87.5px,#afff50 109.5px,#bfff40 113.5px,#bfff40 123.5px,#cfff30 126.5px,#cfff30 132.5px,#dfff20 134.5px,#e0ff1f 138.5px,#ffff00 145.5px,#ffda00 151.5px,#ff8f00 159.5px,#ff8800 161.5px,#ff8e00 162.5px,#ffa100 163.5px,#ffca00 164.5px,#e8fc17 165.5px,#24ffdb 167.5px,#00daff 168.5px,#00b1ff 169.5px,#009eff 170.5px,#0098ff 171.5px,#009fff 173.5px,#00ffff 184.5px,#20ffdf 190.5px,#20ffdf 192.5px,#2fffd0 194.5px,#30ffcf 198.5px,#3fffc0 200.5px,#40ffbf 206.5px,#50ffaf 209.5px,#50ffaf 219.5px,#60ff9f 223.5px,#60ff9f 245.5px,#70ff8f 249.5px,#70ff8f 318.5px,#80ff80 325.5px,#80ff80 333.5px)"></i><i style="height:2px;background:linear-gradient(90deg,#8fff70 0.5px,#90ff6f 14.5px,#9fff60 21.5px,#9fff60 86.5px,#afff50 91.5px,#b0ff4f 112.5px,#bfff40 115.5px,#bfff40 125.5px,#cfff30 128.5px,#cfff30 133.5px,#dfff20 136.5px,#dfff20 139.5px,#efff10 141.5px,#efff10 143.5px,#ffff00 146.5px,#ffd800 152.5px,#ff9000 160.5px,#ff8f00 161.5px,#ff9600 162.5px,#ffa900 163.5px,#ffd200 164.5px,#e6fd19 165.5px,#27ffd8 167.5px,#00e1ff 168.5px,#00b8ff 169.5px,#00a6ff 170.5px,#009fff 171.5px,#00a0ff 172.5px,#00ffff 183.5px,#20ffdf 189.5px,#20ffdf 191.5px,#30ffcf 193.5px,#33ffcc 197.5px,#40ffbf 199.5px,#40ffbf 204.5px,#50ffaf 207.5px,#50ffaf 217.5px,#5fffa0 220.5px,#60ff9f 241.5px,#70ff8f 246.5px,#70ff8f 311.5px,#7fff80 318.5px,#80ff80 333.5px)"></i><i style="height:2px;background:linear-gradient(90deg,#8fff70 0.5px,#8fff70 20.5px,#9fff60 28.5px,#9fff60 90.5px,#afff50 94.5px,#afff50 114.5px,#beff41 117.5px,#bfff40 127.5px,#cfff30 130.5px,#cfff30 135.5px,#dfff20 137.5px,#dfff20 140.5px,#ffff00 147.5px,#ffef00 150.5px,#ffa000 159.5px,#ff9b00 161.5px,#ff9f00 162.5px,#ffb100 163.5px,#ffd700 164.5px,#e3fe1c 165.5px,#2cffd3 167.5px,#00e7ff 168.5px,#00c1ff 169.5px,#00afff 170.5px,#00abff 171.5px,#00b0ff 173.5px,#00ffff 182.5px,#1cffe3 187.5px,#22ffdd 190.5px,#30ffcf 192.5px,#30ffcf 195.5px,#3fffc0 197.5px,#40ffbf 202.5px,#50ffaf 205.5px,#51ffae 215.5px,#60ff9f 218.5px,#60ff9f 238.5px,#70ff8f 242.5px,#70ff8f 304.5px,#80ff80 312.5px,#80ff80 333.5px)"></i><i style="height:2px;background:linear-gradient(90deg,#8fff70 0.5px,#8fff70 27.5px,#9fff60 34.5px,#9fff60 93.5px,#afff50 98.5px,#b0ff4f 117.5px,#bfff40 120.5px,#c0ff3f 129.5px,#cdff32 131.5px,#d2ff2d 137.5px,#ffff00 148.5px,#ffa000 161.5px,#ffb900 163.5px,#ffde00 164.5px,#e0ff1f 165.5px,#2fffd0 167.5px,#01eefe 168.5px,#00c9ff 169.5px,#00b0ff 171.5px,#00b4ff 172.5px,#00ffff 181.5px,#1effe1 186.5px,#20ffdf 188.5px,#2fffd0 190.5px,#30ffcf 193.5px,#3dffc2 195.5px,#42ffbd 201.5px,#4fffb0 203.5px,#50ffaf 212.5px,#5fffa0 215.5px,#60ff9f 234.5px,#70ff8f 239.5px,#70ff8f 298.5px,#80ff80 305.5px,#80ff80 333.5px)"></i><i style="height:2px;background:linear-gradient(90deg,#8fff70 0.5px,#8fff70 34.5px,#9fff60 41.5px,#9fff60 97.5px,#afff50 101.5px,#afff50 119.5px,#beff41 122.5px,#c0ff3f 131.5px,#ceff31 133.5px,#cfff30 138.5px,#deff21 140.5px,#dfff20 143.5px,#ffff00 149.5px,#ffaf00 160.5px,#ffb000 162.5px,#ffc300 163.5px,#ffe500 164.5px,#dcff23 165.5px,#33ffcc 167.5px,#02f3fd 168.5px,#00d3ff 169.5px,#00c0ff 170.5px,#00c3ff 173.5px,#00ffff 180.5px,#1fffe0 185.5px,#20ffdf 187.5px,#30ffcf 189.5px,#31ffce 192.5px,#40ffbf 194.5px,#41ffbe 199.5px,#4fffb0 201.5px,#51ffae 210.5px,#60ff9f 213.5px,#60ff9f 231.5px,#70ff8f 235.5px,#70ff8f 291.5px,#80ff80 298.5px,#80ff80 333.5px)"></i><i style="height:3px;background:linear-gradient(90deg,#8fff70 0.5px,#90ff6f 41.5px,#9fff60 52.5px,#a0ff5f 101.5px,#aeff51 106.5px,#b0ff4f 122.5px,#bfff40 126.5px,#c0ff3f 133.5px,#cfff30 136.5px,#d0ff2f 140.5px,#e1ff1e 145.5px,#fdff02 150.5px,#ffb900 161.5px,#ffcc00 163.5px,#ffed00 164.5px,#d6ff29 165.5px,#39ffc6 167.5px,#05f9fa 168.5px,#00dcff 169.5px,#00cdff 170.5px,#00cbff 172.5px,#00ffff 179.5px,#20ffdf 184.5px,#3fffc0 192.5px,#40ffbf 196.5px,#4fffb0 199.5px,#50ffaf 206.5px,#5fffa0 210.5px,#60ff9f 225.5px,#70ff8f 232.5px,#70ff8f 281.5px,#7fff80 291.5px,#80ff80 333.5px)"></i><i style="height:2px;background:linear-gradient(90deg,#8fff70 0.5px,#8fff70 51.5px,#9fff60 58.5px,#9fff60 106.5px,#afff50 110.5px,#afff50 125.5px,#bfff40 129.5px,#c0ff3f 136.5px,#ceff31 138.5px,#cfff30 142.5px,#deff21 144.5px,#e2ff1d 147.5px,#ffff00 152.5px,#ffc800 160.5px,#ffc500 161.5px,#ffd700 163.5px,#fdf502 164.5px,#d2ff2d 165.5px,#3dffc2 167.5px,#0afdf5 168.5px,#00e7ff 169.5px,#00d4ff 171.5px,#01fffe 178.5px,#2dffd2 185.5px,#31ffce 188.5px,#40ffbf 190.5px,#41ffbe 194.5px,#4fffb0 196.5px,#50ffaf 203.5px,#60ff9f 207.5px,#60ff9f 222.5px,#70ff8f 226.5px,#70ff8f 274.5px,#80ff80 281.5px,#80ff80 333.5px)"></i><i style="height:2px;background:linear-gradient(90deg,#8fff70 0.5px,#8fff70 58.5px,#9fff60 65.5px,#a0ff5f 110.5px,#afff50 114.5px,#afff50 128.5px,#bfff40 131.5px,#c0ff3f 138.5px,#ceff31 140.5px,#d0ff2f 144.5px,#dfff20 146.5px,#dfff20 148.5px,#ffff00 153.5px,#ffd000 160.5px,#ffd200 162.5px,#ffe100 163.5px,#fbf904 164.5px,#cdff32 165.5px,#42ffbd 167.5px,#0efff1 168.5px,#00f1ff 169.5px,#00e2ff 170.5px,#00e0ff 172.5px,#03fffc 177.5px,#30ffcf 184.5px,#30ffcf 186.5px,#3fffc0 188.5px,#41ffbe 192.5px,#4fffb0 194.5px,#50ffaf 201.5px,#60ff9f 204.5px,#60ff9f 218.5px,#6fff90 222.5px,#70ff8f 267.5px,#80ff80 274.5px,#80ff80 333.5px)"></i><i style="height:2px;background:linear-gradient(90deg,#8fff70 0.5px,#8fff70 65.5px,#9fff60 72.5px,#9fff60 113.5px,#afff50 118.5px,#afff50 130.5px,#bfff40 134.5px,#c0ff3f 140.5px,#ceff31 142.5px,#cfff30 145.5px,#e3ff1c 150.5px,#fdff02 154.5px,#ffe000 159.5px,#ffdf00 162.5px,#ffe900 163.5px,#f7fe08 164.5px,#c9ff36 165.5px,#46ffb9 167.5px,#16ffe9 168.5px,#00f9ff 169.5px,#00ecff 171.5px,#00f0ff 173.5px,#00ffff 175.5px,#2cffd3 182.5px,#40ffbf 187.5px,#41ffbe 190.5px,#4fffb0 192.5px,#50ffaf 198.5px,#60ff9f 202.5px,#60ff9f 214.5px,#70ff8f 219.5px,#70ff8f 260.5px,#80ff80 267.5px,#80ff80 333.5px)"></i><i style="height:2px;background:linear-gradient(90deg,#8fff70 0.5px,#8fff70 72.5px,#9fff60 79.5px,#9fff60 117.5px,#aeff51 121.5px,#afff50 133.5px,#beff41 136.5px,#c0ff3f 142.5px,#ceff31 144.5px,#cfff30 147.5px,#deff21 149.5px,#e0ff1f 151.5px,#ffff00 156.5px,#ffe400 161.5px,#fff300 163.5px,#f1ff0e 164.5px,#c5ff3a 165.5px,#4affb5 167.5px,#1effe1 168.5px,#05fffa 169.5px,#00f8ff 170.5px,#01fffe 174.5px,#2fffd0 181.5px,#31ffce 183.5px,#40ffbf 185.5px,#41ffbe 188.5px,#4fffb0 190.5px,#51ffae 196.5px,#60ff9f 199.5px,#61ff9e 211.5px,#70ff8f 215.5px,#70ff8f 253.5px,#80ff80 260.5px,#80ff80 333.5px)"></i><i style="height:2px;background:linear-gradient(90deg,#8fff70 0.5px,#8fff70 79.5px,#9fff60 86.5px,#a0ff5f 121.5px,#afff50 125.5px,#b0ff4f 136.5px,#bfff40 139.5px,#c0ff3f 144.5px,#ceff31 146.5px,#d0ff2f 149.5px,#e3ff1c 153.5px,#feff01 157.5px,#ffef00 161.5px,#fefc01 163.5px,#eaff15 164.5px,#c0ff3f 165.5px,#4fffb0 167.5px,#25ffda 168.5px,#0efff1 169.5px,#00ffff 171.5px,#3fffc0 183.5px,#41ffbe 186.5px,#4fffb0 188.5px,#50ffaf 193.5px,#5fffa0 196.5px,#60ff9f 207.5px,#6fff90 211.5px,#70ff8f 246.5px,#80ff80 253.5px,#80ff80 333.5px)"></i><i style="height:2px;background:linear-gradient(90deg,#8fff70 0.5px,#8fff70 86.5px,#9fff60 94.5px,#a0ff5f 125.5px,#afff50 129.5px,#afff50 138.5px,#bfff40 142.5px,#c0ff3f 146.5px,#dfff20 154.5px,#feff01 159.5px,#fffe00 162.5px,#f7ff08 163.5px,#e2ff1d 164.5px,#bbff44 165.5px,#54ffab 167.5px,#2dffd2 168.5px,#18ffe7 169.5px,#0dfff2 171.5px,#4fffb0 186.5px,#50ffaf 190.5px,#60ff9f 194.5px,#60ff9f 203.5px,#6fff90 207.5px,#70ff8f 238.5px,#80ff80 246.5px,#80ff80 333.5px)"></i><i style="height:2px;background:linear-gradient(90deg,#8fff70 0.5px,#8fff70 93.5px,#9fff60 101.5px,#9fff60 128.5px,#afff50 133.5px,#afff50 141.5px,#bdff42 144.5px,#bfff40 148.5px,#f7ff08 161.5px,#edff12 163.5px,#d9ff26 164.5px,#b7ff48 165.5px,#58ffa7 167.5px,#36ffc9 168.5px,#22ffdd 169.5px,#18ffe7 171.5px,#50ffaf 184.5px,#51ffae 188.5px,#60ff9f 191.5px,#60ff9f 199.5px,#70ff8f 204.5px,#70ff8f 231.5px,#80ff80 239.5px,#80ff80 333.5px)"></i><i style="height:2px;background:linear-gradient(90deg,#8fff70 0.5px,#8fff70 100.5px,#9fff60 108.5px,#9fff60 132.5px,#afff50 137.5px,#afff50 144.5px,#beff41 147.5px,#bfff40 150.5px,#efff10 161.5px,#e2ff1d 163.5px,#d1ff2e 164.5px,#3effc1 168.5px,#2dffd2 169.5px,#20ffdf 171.5px,#50ffaf 182.5px,#51ffae 185.5px,#60ff9f 188.5px,#60ff9f 195.5px,#70ff8f 200.5px,#70ff8f 224.5px,#80ff80 232.5px,#80ff80 333.5px)"></i><i style="height:2px;background:linear-gradient(90deg,#8fff70 0.5px,#8fff70 108.5px,#9fff60 115.5px,#9fff60 136.5px,#afff50 141.5px,#b0ff4f 147.5px,#ddff22 159.5px,#dfff20 162.5px,#c9ff36 164.5px,#46ffb9 168.5px,#30ffcf 170.5px,#32ffcd 173.5px,#5fffa0 185.5px,#60ff9f 191.5px,#70ff8f 196.5px,#70ff8f 217.5px,#80ff80 224.5px,#80ff80 333.5px)"></i><i style="height:2px;background:linear-gradient(90deg,#8fff70 0.5px,#8fff70 115.5px,#9fff60 123.5px,#a1ff5e 141.5px,#afff50 145.5px,#b0ff4f 150.5px,#d4ff2a 161.5px,#ceff31 163.5px,#c0ff3f 164.5px,#4fffb0 168.5px,#41ffbe 169.5px,#3affc5 171.5px,#5fffa0 182.5px,#60ff9f 187.5px,#6eff91 191.5px,#70ff8f 209.5px,#80ff80 217.5px,#80ff80 333.5px)"></i><i style="height:2px;background:linear-gradient(90deg,#8fff70 0.5px,#90ff6f 123.5px,#9fff60 131.5px,#a0ff5f 145.5px,#c9ff36 161.5px,#b7ff48 164.5px,#58ffa7 168.5px,#46ffb9 171.5px,#6fff90 187.5px,#70ff8f 201.5px,#7fff80 209.5px,#80ff80 333.5px)"></i><i style="height:2px;background:linear-gradient(90deg,#8fff70 0.5px,#8fff70 130.5px,#9fff60 138.5px,#9fff60 149.5px,#bdff42 162.5px,#afff50 164.5px,#60ff9f 168.5px,#52ffad 170.5px,#70ff8f 183.5px,#70ff8f 194.5px,#80ff80 202.5px,#80ff80 333.5px)"></i><i style="height:2px;background:linear-gradient(90deg,#8fff70 0.5px,#8fff70 138.5px,#afff50 162.5px,#a4ff5b 164.5px,#76ff89 167.5px,#60ff9f 170.5px,#80ff80 194.5px,#80ff80 333.5px)"></i><i style="height:2px;background:linear-gradient(90deg,#8fff70 0.5px,#8fff70 146.5px,#a2ff5d 161.5px,#9eff61 164.5px,#71ff8e 168.5px,#6dff92 171.5px,#80ff80 186.5px,#80ff80 333.5px)"></i><i style="height:3px;background:linear-gradient(90deg,#8fff70 0.5px,#93ff6c 162.5px,#7cff83 170.5px,#80ff80 333.5px)"></i><i style="height:3px;background:linear-gradient(90deg,#80ff80 0.5px,#7cff83 161.5px,#93ff6c 171.5px,#8fff70 333.5px)"></i><i style="height:2px;background:linear-gradient(90deg,#80ff80 0.5px,#80ff80 147.5px,#70ff8f 163.5px,#9fff60 169.5px,#8fff70 185.5px,#8fff70 333.5px)"></i><i style="height:2px;background:linear-gradient(90deg,#80ff80 0.5px,#80ff80 139.5px,#60ff9f 162.5px,#6cff93 164.5px,#98ff67 167.5px,#afff50 170.5px,#8fff70 193.5px,#8fff70 333.5px)"></i><i style="height:2px;background:linear-gradient(90deg,#80ff80 0.5px,#80ff80 131.5px,#70ff8f 139.5px,#70ff8f 149.5px,#52ffad 161.5px,#61ff9e 164.5px,#aeff51 168.5px,#bdff42 171.5px,#9fff60 183.5px,#9fff60 193.5px,#8fff70 201.5px,#8fff70 333.5px)"></i><i style="height:2px;background:linear-gradient(90deg,#80ff80 0.5px,#80ff80 123.5px,#70ff8f 131.5px,#70ff8f 145.5px,#48ffb7 161.5px,#58ffa7 164.5px,#b7ff48 168.5px,#c7ff38 171.5px,#9fff60 187.5px,#9fff60 201.5px,#8fff70 209.5px,#8fff70 333.5px)"></i><i style="height:2px;background:linear-gradient(90deg,#80ff80 0.5px,#80ff80 116.5px,#70ff8f 124.5px,#6fff90 141.5px,#61ff9e 145.5px,#60ff9f 150.5px,#3dffc2 161.5px,#41ffbe 163.5px,#4fffb0 164.5px,#bfff40 168.5px,#ceff31 169.5px,#d2ff2d 171.5px,#afff50 182.5px,#aeff51 187.5px,#a0ff5f 191.5px,#9fff60 208.5px,#8fff70 216.5px,#8fff70 333.5px)"></i><i style="height:2px;background:linear-gradient(90deg,#80ff80 0.5px,#80ff80 108.5px,#70ff8f 116.5px,#6fff90 137.5px,#60ff9f 141.5px,#60ff9f 147.5px,#30ffcf 160.5px,#30ffcf 162.5px,#47ffb8 164.5px,#c8ff37 168.5px,#dfff20 170.5px,#dfff20 172.5px,#afff50 185.5px,#afff50 191.5px,#a0ff5f 195.5px,#9fff60 216.5px,#8fff70 224.5px,#8fff70 333.5px)"></i><i style="height:2px;background:linear-gradient(90deg,#80ff80 0.5px,#80ff80 101.5px,#70ff8f 109.5px,#6fff90 133.5px,#60ff9f 137.5px,#60ff9f 144.5px,#51ffae 147.5px,#4effb1 151.5px,#23ffdc 161.5px,#2dffd2 163.5px,#3effc1 164.5px,#d1ff2e 168.5px,#e1ff1e 169.5px,#ecff13 171.5px,#c1ff3e 181.5px,#bdff42 185.5px,#afff50 188.5px,#afff50 195.5px,#a0ff5f 199.5px,#9fff60 223.5px,#8fff70 231.5px,#8fff70 333.5px)"></i><i style="height:2px;background:linear-gradient(90deg,#80ff80 0.5px,#80ff80 94.5px,#70ff8f 101.5px,#70ff8f 129.5px,#60ff9f 133.5px,#60ff9f 141.5px,#50ffaf 145.5px,#50ffaf 148.5px,#18ffe7 161.5px,#23ffdc 163.5px,#36ffc9 164.5px,#59ffa6 165.5px,#b6ff49 167.5px,#d9ff26 168.5px,#ecff13 169.5px,#f7ff08 171.5px,#bfff40 184.5px,#bfff40 187.5px,#afff50 191.5px,#afff50 199.5px,#9fff60 203.5px,#9fff60 231.5px,#8fff70 238.5px,#8fff70 333.5px)"></i><i style="height:2px;background:linear-gradient(90deg,#80ff80 0.5px,#80ff80 87.5px,#70ff8f 94.5px,#70ff8f 125.5px,#61ff9e 129.5px,#5fffa0 139.5px,#50ffaf 142.5px,#50ffaf 146.5px,#3fffc0 151.5px,#11ffee 159.5px,#10ffef 162.5px,#18ffe7 163.5px,#2effd1 164.5px,#54ffab 165.5px,#bbff44 167.5px,#e1ff1e 168.5px,#f7ff08 169.5px,#ffff00 170.5px,#feff01 173.5px,#d0ff2f 181.5px,#bfff40 186.5px,#bfff40 190.5px,#b0ff4f 193.5px,#aeff51 203.5px,#9fff60 207.5px,#9fff60 238.5px,#8fff70 245.5px,#8fff70 333.5px)"></i><i style="height:2px;background:linear-gradient(90deg,#80ff80 0.5px,#80ff80 79.5px,#70ff8f 87.5px,#70ff8f 121.5px,#61ff9e 125.5px,#60ff9f 136.5px,#51ffae 139.5px,#4fffb0 144.5px,#2dffd2 153.5px,#00ffff 161.5px,#0ffff0 163.5px,#26ffd9 164.5px,#4fffb0 165.5px,#c0ff3f 167.5px,#e9ff16 168.5px,#fefd01 169.5px,#fff200 170.5px,#fff100 172.5px,#fdff02 175.5px,#e1ff1e 179.5px,#c0ff3f 188.5px,#beff41 193.5px,#afff50 196.5px,#aeff51 207.5px,#9fff60 211.5px,#9fff60 245.5px,#8fff70 253.5px,#8fff70 333.5px)"></i><i style="height:2px;background:linear-gradient(90deg,#80ff80 0.5px,#80ff80 72.5px,#70ff8f 80.5px,#70ff8f 117.5px,#60ff9f 122.5px,#60ff9f 133.5px,#50ffaf 137.5px,#4fffb0 142.5px,#42ffbd 144.5px,#30ffcf 151.5px,#02fffd 158.5px,#00f5ff 161.5px,#00faff 162.5px,#05fffa 163.5px,#1effe1 164.5px,#4affb5 165.5px,#c5ff3a 167.5px,#f1ff0e 168.5px,#fff400 169.5px,#ffe500 171.5px,#ffff00 176.5px,#dfff20 181.5px,#cdff32 188.5px,#c0ff3f 190.5px,#bfff40 195.5px,#afff50 199.5px,#afff50 210.5px,#9fff60 215.5px,#9fff60 252.5px,#8fff70 260.5px,#8fff70 333.5px)"></i><i style="height:2px;background:linear-gradient(90deg,#80ff80 0.5px,#80ff80 65.5px,#70ff8f 73.5px,#6fff90 114.5px,#60ff9f 118.5px,#5fffa0 131.5px,#50ffaf 134.5px,#4fffb0 140.5px,#42ffbd 142.5px,#3effc1 146.5px,#2dffd2 150.5px,#00ffff 157.5px,#00f1ff 159.5px,#00efff 162.5px,#00fbff 163.5px,#17ffe8 164.5px,#46ffb9 165.5px,#c8ff37 167.5px,#f7fe08 168.5px,#ffeb00 169.5px,#ffdf00 170.5px,#ffe100 173.5px,#fcff03 178.5px,#e2ff1d 182.5px,#d1ff2e 186.5px,#cdff32 190.5px,#c0ff3f 192.5px,#bfff40 198.5px,#b0ff4f 201.5px,#afff50 214.5px,#a0ff5f 218.5px,#9fff60 259.5px,#8fff70 267.5px,#8fff70 333.5px)"></i><i style="height:2px;background:linear-gradient(90deg,#80ff80 0.5px,#80ff80 58.5px,#70ff8f 66.5px,#70ff8f 110.5px,#60ff9f 114.5px,#60ff9f 128.5px,#51ffae 131.5px,#4fffb0 138.5px,#42ffbd 140.5px,#3fffc0 144.5px,#30ffcf 146.5px,#30ffcf 148.5px,#00ffff 156.5px,#00e1ff 160.5px,#00e3ff 162.5px,#00f2ff 163.5px,#0ffff0 164.5px,#42ffbd 165.5px,#cdff32 167.5px,#fbfa04 168.5px,#ffe200 169.5px,#ffd300 170.5px,#ffd100 172.5px,#feff01 179.5px,#dfff20 184.5px,#dfff20 186.5px,#d0ff2f 188.5px,#cdff32 192.5px,#c0ff3f 194.5px,#beff41 201.5px,#afff50 204.5px,#afff50 218.5px,#9fff60 222.5px,#9fff60 266.5px,#8fff70 274.5px,#8fff70 333.5px)"></i><i style="height:2px;background:linear-gradient(90deg,#80ff80 0.5px,#80ff80 51.5px,#70ff8f 59.5px,#70ff8f 106.5px,#60ff9f 111.5px,#5fffa0 126.5px,#50ffaf 129.5px,#4fffb0 136.5px,#42ffbd 138.5px,#40ffbf 142.5px,#32ffcd 144.5px,#2effd1 147.5px,#02fffd 154.5px,#00d6ff 161.5px,#00e8ff 163.5px,#0afef5 164.5px,#3dffc2 165.5px,#d2ff2d 167.5px,#fdf502 168.5px,#ffd800 169.5px,#ffc600 171.5px,#ffc900 172.5px,#ffff00 180.5px,#e1ff1e 185.5px,#ddff22 188.5px,#cfff30 190.5px,#cdff32 194.5px,#c0ff3f 196.5px,#bfff40 203.5px,#b0ff4f 206.5px,#afff50 221.5px,#9fff60 226.5px,#9fff60 273.5px,#8fff70 281.5px,#8fff70 333.5px)"></i><i style="height:2px;background:linear-gradient(90deg,#80ff80 0.5px,#80ff80 45.5px,#70ff8f 52.5px,#70ff8f 102.5px,#60ff9f 107.5px,#60ff9f 123.5px,#51ffae 126.5px,#4fffb0 134.5px,#42ffbd 136.5px,#3effc1 141.5px,#30ffcf 143.5px,#1effe1 149.5px,#01fffe 153.5px,#00d2ff 159.5px,#00d0ff 162.5px,#00e0ff 163.5px,#05fafa 164.5px,#3bffc4 165.5px,#d3ff2c 167.5px,#ffef00 168.5px,#ffd000 169.5px,#ffc000 170.5px,#ffbf00 172.5px,#ffff00 181.5px,#dfff20 187.5px,#dfff20 189.5px,#d1ff2e 191.5px,#cdff32 196.5px,#c0ff3f 198.5px,#beff41 206.5px,#afff50 209.5px,#afff50 225.5px,#a0ff5f 229.5px,#9fff60 280.5px,#8fff70 287.5px,#8fff70 333.5px)"></i><i style="height:2px;background:linear-gradient(90deg,#80ff80 0.5px,#80ff80 38.5px,#70ff8f 45.5px,#70ff8f 99.5px,#60ff9f 103.5px,#5fffa0 121.5px,#50ffaf 124.5px,#50ffaf 132.5px,#42ffbd 134.5px,#40ffbf 139.5px,#31ffce 141.5px,#2fffd0 144.5px,#20ffdf 146.5px,#1dffe2 148.5px,#00ffff 152.5px,#00bfff 161.5px,#00d7ff 163.5px,#03f6fc 164.5px,#35ffca 165.5px,#daff25 167.5px,#ffe900 168.5px,#ffc700 169.5px,#ffaf00 171.5px,#ffff00 182.5px,#e0ff1f 188.5px,#deff21 191.5px,#cfff30 193.5px,#cdff32 198.5px,#bfff40 200.5px,#bfff40 208.5px,#afff50 212.5px,#afff50 229.5px,#9fff60 233.5px,#9fff60 287.5px,#8fff70 294.5px,#8fff70 333.5px)"></i><i style="height:2px;background:linear-gradient(90deg,#80ff80 0.5px,#80ff80 31.5px,#70ff8f 38.5px,#70ff8f 95.5px,#60ff9f 100.5px,#60ff9f 118.5px,#51ffae 121.5px,#50ffaf 130.5px,#40ffbf 133.5px,#40ffbf 137.5px,#20ffdf 146.5px,#00ffff 151.5px,#00c0ff 159.5px,#00baff 161.5px,#00ceff 163.5px,#01f1fe 164.5px,#32ffcd 165.5px,#ddff22 167.5px,#ffe200 168.5px,#ffbe00 169.5px,#ffaa00 171.5px,#ffb000 173.5px,#ffff00 183.5px,#cfff30 195.5px,#cfff30 199.5px,#bfff40 202.5px,#beff41 211.5px,#afff50 214.5px,#afff50 232.5px,#9fff60 237.5px,#9fff60 294.5px,#8fff70 301.5px,#8fff70 333.5px)"></i><i style="height:2px;background:linear-gradient(90deg,#80ff80 0.5px,#80ff80 24.5px,#70ff8f 32.5px,#70ff8f 92.5px,#60ff9f 96.5px,#5fffa0 116.5px,#50ffaf 119.5px,#50ffaf 128.5px,#40ffbf 131.5px,#3fffc0 136.5px,#30ffcf 138.5px,#30ffcf 141.5px,#20ffdf 143.5px,#20ffdf 145.5px,#00ffff 150.5px,#00eeff 153.5px,#00afff 160.5px,#00b3ff 162.5px,#00c6ff 163.5px,#00ecff 164.5px,#2effd1 165.5px,#e1ff1e 167.5px,#ffdc00 168.5px,#ffb600 169.5px,#ffa300 170.5px,#ff9f00 172.5px,#ffdd00 179.5px,#ffff00 184.5px,#efff10 187.5px,#eeff11 189.5px,#dfff20 191.5px,#dfff20 194.5px,#d0ff2f 196.5px,#cfff30 201.5px,#bfff40 204.5px,#bfff40 213.5px,#b0ff4f 216.5px,#afff50 236.5px,#9fff60 240.5px,#9fff60 300.5px,#8fff70 308.5px,#8fff70 333.5px)"></i><i style="height:2px;background:linear-gradient(90deg,#80ff80 0.5px,#7fff80 18.5px,#70ff8f 25.5px,#70ff8f 88.5px,#60ff9f 93.5px,#60ff9f 113.5px,#51ffae 116.5px,#50ffaf 126.5px,#40ffbf 129.5px,#40ffbf 134.5px,#32ffcd 136.5px,#2fffd0 140.5px,#20ffdf 142.5px,#20ffdf 144.5px,#00ffff 149.5px,#00eeff 152.5px,#00b5ff 158.5px,#00a5ff 161.5px,#00bdff 163.5px,#00e4ff 164.5px,#29ffd6 165.5px,#e4fe1b 167.5px,#ffd400 168.5px,#ffae00 169.5px,#ff9500 171.5px,#ffa500 174.5px,#ffde00 180.5px,#ffff00 185.5px,#efff10 188.5px,#efff10 190.5px,#e0ff1f 192.5px,#ddff22 196.5px,#cfff30 198.5px,#cfff30 203.5px,#bfff40 206.5px,#beff41 216.5px,#afff50 219.5px,#afff50 239.5px,#9fff60 244.5px,#9fff60 307.5px,#90ff6f 314.5px,#8fff70 333.5px)"></i><i style="height:2px;background:linear-gradient(90deg,#80ff80 0.5px,#80ff80 11.5px,#70ff8f 18.5px,#70ff8f 85.5px,#60ff9f 89.5px,#60ff9f 111.5px,#50ffaf 114.5px,#50ffaf 124.5px,#40ffbf 127.5px,#3fffc0 133.5px,#30ffcf 135.5px,#30ffcf 138.5px,#23ffdc 140.5px,#1fffe0 143.5px,#00ffff 148.5px,#00efff 151.5px,#009fff 160.5px,#00a1ff 162.5px,#00b6ff 163.5px,#00dfff 164.5px,#26ffd9 165.5px,#e6fd19 167.5px,#ffcf00 168.5px,#ffa600 169.5px,#ff9200 170.5px,#ff8f00 172.5px,#ffdf00 181.5px,#ffff00 186.5px,#ecff13 192.5px,#e2ff1d 193.5px,#dfff20 197.5px,#d0ff2f 199.5px,#cfff30 205.5px,#bfff40 208.5px,#bfff40 218.5px,#afff50 221.5px,#afff50 243.5px,#9fff60 247.5px,#9fff60 314.5px,#8fff70 321.5px,#8fff70 333.5px)"></i><i style="height:3px;background:linear-gradient(90deg,#80ff80 0.5px,#70ff8f 11.5px,#70ff8f 80.5px,#60ff9f 86.5px,#60ff9f 107.5px,#51ffae 111.5px,#4fffb0 122.5px,#40ffbf 125.5px,#3effc1 131.5px,#31ffce 133.5px,#2fffd0 137.5px,#20ffdf 139.5px,#20ffdf 141.5px,#00ffff 147.5px,#00edff 150.5px,#00a2ff 158.5px,#0090ff 161.5px,#00acff 163.5px,#00d6ff 164.5px,#22ffdd 165.5px,#e9fb16 167.5px,#ffc700 168.5px,#ff9c00 169.5px,#ff8000 171.5px,#ff9200 174.5px,#ffde00 182.5px,#ffff00 188.5px,#e0ff1f 195.5px,#deff21 199.5px,#d1ff2e 201.5px,#cfff30 207.5px,#c0ff3f 210.5px,#beff41 221.5px,#afff50 225.5px,#afff50 246.5px,#9fff60 252.5px,#9fff60 321.5px,#8fff70 333.5px)"></i><i style="height:3px;background:linear-gradient(90deg,#71ff8e 0.5px,#70ff8f 74.5px,#60ff9f 81.5px,#5fffa0 104.5px,#50ffaf 108.5px,#4fffb0 119.5px,#40ffbf 122.5px,#40ffbf 128.5px,#30ffcf 131.5px,#2fffd0 135.5px,#21ffde 137.5px,#1dffe2 140.5px,#00ffff 146.5px,#00dcff 151.5px,#0095ff 158.5px,#0084ff 161.5px,#008cff 162.5px,#00a1ff 163.5px,#00cdff 164.5px,#1efde1 165.5px,#ecf813 167.5px,#ffbd00 168.5px,#ff9100 169.5px,#ff7c00 170.5px,#ff7400 171.5px,#ff8500 174.5px,#ffdb00 183.5px,#ffff00 189.5px,#cfff30 204.5px,#cfff30 210.5px,#bfff40 213.5px,#bfff40 224.5px,#b0ff4f 228.5px,#afff50 251.5px,#9fff60 258.5px,#9cff63 333.5px)"></i><i style="height:3px;background:linear-gradient(90deg,#70ff8f 0.5px,#70ff8f 69.5px,#60ff9f 76.5px,#60ff9f 100.5px,#51ffae 104.5px,#50ffaf 116.5px,#41ffbe 119.5px,#40ffbf 126.5px,#30ffcf 129.5px,#2fffd0 133.5px,#21ffde 135.5px,#1fffe0 138.5px,#00ffff 144.5px,#00daff 150.5px,#0080ff 159.5px,#0078ff 161.5px,#007fff 162.5px,#0095ff 163.5px,#00c4ff 164.5px,#1afce5 165.5px,#eff710 167.5px,#ffb400 168.5px,#ff8500 169.5px,#ff6f00 170.5px,#ff6800 171.5px,#ff7000 173.5px,#ffca00 182.5px,#ffed00 187.5px,#ffff00 191.5px,#f0ff0f 194.5px,#eeff11 197.5px,#e0ff1f 199.5px,#dfff20 203.5px,#cfff30 206.5px,#ceff31 213.5px,#bfff40 216.5px,#beff41 228.5px,#afff50 232.5px,#afff50 256.5px,#9fff60 263.5px,#9fff60 333.5px)"></i><i style="height:3px;background:linear-gradient(90deg,#70ff8f 0.5px,#70ff8f 64.5px,#60ff9f 71.5px,#5fffa0 97.5px,#50ffaf 101.5px,#50ffaf 113.5px,#40ffbf 117.5px,#40ffbf 124.5px,#30ffcf 127.5px,#30ffcf 131.5px,#22ffdd 133.5px,#20ffdf 136.5px,#00ffff 143.5px,#00beff 152.5px,#0072ff 159.5px,#006dff 161.5px,#0073ff 162.5px,#008bff 163.5px,#00bcff 164.5px,#16f9e9 165.5px,#87ff78 166.5px,#f1f20e 167.5px,#ffac00 168.5px,#ff7b00 169.5px,#ff6300 170.5px,#ff5d00 171.5px,#ff6200 173.5px,#ffc800 183.5px,#ffff00 192.5px,#edff12 199.5px,#dfff20 201.5px,#dcff23 206.5px,#cfff30 208.5px,#cfff30 215.5px,#bfff40 219.5px,#bfff40 231.5px,#b0ff4f 235.5px,#afff50 261.5px,#9fff60 268.5px,#9fff60 333.5px)"></i><i style="height:3px;background:linear-gradient(90deg,#70ff8f 0.5px,#70ff8f 60.5px,#60ff9f 66.5px,#60ff9f 93.5px,#50ffaf 98.5px,#4fffb0 111.5px,#40ffbf 114.5px,#3fffc0 122.5px,#32ffcd 124.5px,#30ffcf 129.5px,#20ffdf 132.5px,#1effe1 135.5px,#00ffff 142.5px,#00beff 151.5px,#0060ff 160.5px,#0067ff 162.5px,#0080ff 163.5px,#00b2ff 164.5px,#14f7eb 165.5px,#87ff78 166.5px,#f4f00b 167.5px,#ffa300 168.5px,#ff7000 169.5px,#ff5800 170.5px,#ff5000 171.5px,#ff5700 173.5px,#ffae00 181.5px,#ffcf00 185.5px,#fffe00 193.5px,#ecff13 201.5px,#dfff20 203.5px,#ddff22 208.5px,#d0ff2f 210.5px,#cfff30 218.5px,#bfff40 221.5px,#bfff40 234.5px,#afff50 239.5px,#afff50 266.5px,#9fff60 272.5px,#9fff60 333.5px)"></i><i style="height:3px;background:linear-gradient(90deg,#70ff8f 0.5px,#70ff8f 55.5px,#60ff9f 61.5px,#60ff9f 90.5px,#50ffaf 94.5px,#50ffaf 108.5px,#40ffbf 112.5px,#3fffc0 120.5px,#31ffce 122.5px,#30ffcf 127.5px,#20ffdf 130.5px,#20ffdf 133.5px,#11ffee 135.5px,#00feff 141.5px,#00bfff 150.5px,#0064ff 158.5px,#0052ff 161.5px,#005dff 162.5px,#0076ff 163.5px,#00abff 164.5px,#12f5ed 165.5px,#87ff78 166.5px,#f4ed0b 167.5px,#ff9b00 168.5px,#ff6600 169.5px,#ff4d00 170.5px,#ff4200 171.5px,#ff5400 174.5px,#ff9b00 180.5px,#ffcf00 186.5px,#ffff00 195.5px,#feff01 197.5px,#efff10 199.5px,#efff10 202.5px,#dfff20 205.5px,#deff21 210.5px,#d0ff2f 212.5px,#cfff30 220.5px,#bfff40 224.5px,#bfff40 238.5px,#afff50 242.5px,#afff50 271.5px,#9fff60 277.5px,#9fff60 333.5px)"></i><i style="height:3px;background:linear-gradient(90deg,#70ff8f 0.5px,#70ff8f 50.5px,#60ff9f 56.5px,#5fffa0 87.5px,#50ffaf 91.5px,#4fffb0 106.5px,#40ffbf 109.5px,#3effc1 118.5px,#31ffce 120.5px,#2effd1 126.5px,#20ffdf 128.5px,#1effe1 132.5px,#00ffff 139.5px,#00ecff 143.5px,#00bfff 149.5px,#0050ff 159.5px,#0048ff 161.5px,#0051ff 162.5px,#006cff 163.5px,#00a2ff 164.5px,#12f2ed 165.5px,#85ff7a 166.5px,#f4e90b 167.5px,#ff9200 168.5px,#ff5c00 169.5px,#ff4200 170.5px,#ff3800 171.5px,#ff4000 173.5px,#ff9c00 181.5px,#ffbf00 185.5px,#ffff00 196.5px,#efff10 204.5px,#e1ff1e 206.5px,#deff21 212.5px,#d1ff2e 214.5px,#cfff30 223.5px,#c0ff3f 226.5px,#bfff40 241.5px,#b0ff4f 245.5px,#afff50 276.5px,#9fff60 282.5px,#9fff60 333.5px)"></i><i style="height:3px;background:linear-gradient(90deg,#70ff8f 0.5px,#70ff8f 45.5px,#60ff9f 51.5px,#60ff9f 83.5px,#50ffaf 88.5px,#50ffaf 103.5px,#41ffbe 106.5px,#40ffbf 115.5px,#30ffcf 118.5px,#2fffd0 124.5px,#21ffde 126.5px,#20ffdf 130.5px,#11ffee 132.5px,#0efff1 135.5px,#00ffff 138.5px,#00dfff 144.5px,#00bfff 148.5px,#008dff 153.5px,#0043ff 159.5px,#003fff 160.5px,#0047ff 162.5px,#0062ff 163.5px,#009bff 164.5px,#0feff0 165.5px,#86ff79 166.5px,#f7e608 167.5px,#ff8b00 168.5px,#ff5200 169.5px,#ff3700 170.5px,#ff2f00 171.5px,#ff3300 173.5px,#ff9e00 182.5px,#ffcf00 188.5px,#ffff00 198.5px,#feff01 200.5px,#efff10 202.5px,#eeff11 206.5px,#e0ff1f 208.5px,#dfff20 214.5px,#cfff30 217.5px,#ceff31 226.5px,#bfff40 229.5px,#beff41 245.5px,#afff50 249.5px,#afff50 281.5px,#9fff60 287.5px,#9fff60 333.5px)"></i><i style="height:3px;background:linear-gradient(90deg,#70ff8f 0.5px,#70ff8f 40.5px,#60ff9f 46.5px,#60ff9f 80.5px,#50ffaf 84.5px,#4fffb0 101.5px,#40ffbf 104.5px,#40ffbf 113.5px,#30ffcf 116.5px,#30ffcf 122.5px,#22ffdd 124.5px,#1dffe2 129.5px,#13ffec 130.5px,#00ffff 137.5px,#00dfff 143.5px,#00afff 149.5px,#0031ff 160.5px,#0031ff 161.5px,#003dff 162.5px,#0059ff 163.5px,#0093ff 164.5px,#0bedf4 165.5px,#87ff78 166.5px,#fae205 167.5px,#ff8300 168.5px,#ff4900 169.5px,#ff2d00 170.5px,#ff2100 171.5px,#ff3300 174.5px,#ff8b00 181.5px,#ffb800 186.5px,#ffda00 191.5px,#ffff00 199.5px,#edff12 208.5px,#dfff20 210.5px,#dfff20 216.5px,#cfff30 219.5px,#cfff30 228.5px,#c0ff3f 231.5px,#bfff40 248.5px,#afff50 252.5px,#afff50 286.5px,#9fff60 292.5px,#9fff60 333.5px)"></i><i style="height:3px;background:linear-gradient(90deg,#70ff8f 0.5px,#70ff8f 36.5px,#60ff9f 42.5px,#60ff9f 77.5px,#50ffaf 81.5px,#50ffaf 98.5px,#41ffbe 101.5px,#40ffbf 111.5px,#30ffcf 114.5px,#30ffcf 120.5px,#20ffdf 123.5px,#20ffdf 127.5px,#11ffee 129.5px,#10ffef 132.5px,#00ffff 134.5px,#00ffff 136.5px,#00dfff 142.5px,#00b9ff 147.5px,#0029ff 160.5px,#0033ff 162.5px,#004fff 163.5px,#008bff 164.5px,#0be9f4 165.5px,#87ff78 166.5px,#fade05 167.5px,#ff7c00 168.5px,#ff3f00 169.5px,#ff2300 170.5px,#ff1900 171.5px,#ff1f00 173.5px,#ff8d00 182.5px,#ffb900 187.5px,#ffff00 200.5px,#feff01 203.5px,#efff10 205.5px,#efff10 209.5px,#dfff20 212.5px,#dfff20 218.5px,#cfff30 221.5px,#cfff30 230.5px,#bfff40 234.5px,#bfff40 251.5px,#afff50 255.5px,#afff50 290.5px,#9fff60 296.5px,#9fff60 333.5px)"></i><i style="height:3px;background:linear-gradient(90deg,#70ff8f 0.5px,#70ff8f 31.5px,#60ff9f 37.5px,#60ff9f 74.5px,#50ffaf 78.5px,#50ffaf 96.5px,#40ffbf 99.5px,#40ffbf 109.5px,#30ffcf 112.5px,#2fffd0 119.5px,#20ffdf 121.5px,#1effe1 126.5px,#10ffef 128.5px,#00feff 135.5px,#00bbff 146.5px,#007eff 152.5px,#0023ff 159.5px,#0020ff 160.5px,#0029ff 162.5px,#0047ff 163.5px,#0084ff 164.5px,#0be5f4 165.5px,#87ff78 166.5px,#fadb05 167.5px,#ff7400 168.5px,#ff3700 169.5px,#ff1900 170.5px,#ff1000 171.5px,#ff1300 173.5px,#ff6e00 180.5px,#ffab00 186.5px,#ffcf00 191.5px,#fffe00 201.5px,#ffff00 204.5px,#efff10 207.5px,#efff10 211.5px,#e0ff1f 213.5px,#dfff20 220.5px,#cfff30 223.5px,#cfff30 233.5px,#bfff40 236.5px,#bfff40 254.5px,#afff50 258.5px,#afff50 295.5px,#9fff60 301.5px,#9fff60 333.5px)"></i><i style="height:3px;background:linear-gradient(90deg,#70ff8f 0.5px,#70ff8f 27.5px,#60ff9f 32.5px,#60ff9f 71.5px,#50ffaf 75.5px,#4fffb0 94.5px,#40ffbf 97.5px,#40ffbf 107.5px,#30ffcf 110.5px,#30ffcf 117.5px,#22ffdd 119.5px,#20ffdf 124.5px,#11ffee 126.5px,#00feff 134.5px,#00f2ff 135.5px,#00dfff 140.5px,#00abff 147.5px,#0012ff 160.5px,#0012ff 161.5px,#0020ff 162.5px,#003eff 163.5px,#007dff 164.5px,#0be4f4 165.5px,#87ff78 166.5px,#fada05 167.5px,#ff6d00 168.5px,#ff2e00 169.5px,#ff1000 170.5px,#ff0200 171.5px,#ff0200 172.5px,#ff1400 174.5px,#ff7d00 182.5px,#ffad00 187.5px,#ffdf00 195.5px,#ffff00 203.5px,#feff01 206.5px,#efff10 208.5px,#edff12 213.5px,#dfff20 215.5px,#dfff20 222.5px,#cfff30 225.5px,#cfff30 235.5px,#bfff40 239.5px,#bfff40 257.5px,#afff50 261.5px,#afff50 300.5px,#9fff60 305.5px,#9fff60 333.5px)"></i><i style="height:3px;background:linear-gradient(90deg,#70ff8f 0.5px,#6fff90 23.5px,#60ff9f 28.5px,#60ff9f 68.5px,#50ffaf 72.5px,#50ffaf 91.5px,#41ffbe 94.5px,#3fffc0 106.5px,#31ffce 108.5px,#30ffcf 115.5px,#20ffdf 118.5px,#1fffe0 123.5px,#10ffef 125.5px,#10ffef 128.5px,#01fffe 130.5px,#00ffff 132.5px,#00dfff 139.5px,#00aeff 146.5px,#006dff 152.5px,#0011ff 159.5px,#000dff 161.5px,#0016ff 162.5px,#0036ff 163.5px,#0076ff 164.5px,#09e0f6 165.5px,#87ff78 166.5px,#fad405 167.5px,#ff6600 168.5px,#ff2600 169.5px,#ff0600 170.5px,#fc0000 171.5px,#ff0100 173.5px,#ff6800 181.5px,#ffae00 188.5px,#ffdf00 196.5px,#fff000 202.5px,#ffff00 204.5px,#ffff00 207.5px,#f0ff0f 209.5px,#efff10 214.5px,#dfff20 217.5px,#deff21 224.5px,#d0ff2f 226.5px,#ceff31 238.5px,#bfff40 241.5px,#bfff40 260.5px,#afff50 264.5px,#afff50 304.5px,#a0ff5f 309.5px,#9fff60 333.5px)"></i><i style="height:3px;background:linear-gradient(90deg,#70ff8f 0.5px,#70ff8f 18.5px,#60ff9f 24.5px,#60ff9f 65.5px,#50ffaf 69.5px,#50ffaf 89.5px,#40ffbf 92.5px,#3fffc0 104.5px,#31ffce 106.5px,#30ffcf 114.5px,#21ffde 116.5px,#20ffdf 121.5px,#12ffed 123.5px,#10ffef 127.5px,#00ffff 129.5px,#00ffff 131.5px,#00ceff 141.5px,#009eff 147.5px,#007eff 150.5px,#0012ff 158.5px,#0000ff 160.5px,#0000ff 161.5px,#000eff 162.5px,#002eff 163.5px,#0070ff 164.5px,#06dbf9 165.5px,#87ff78 166.5px,#fcce03 167.5px,#ff6100 168.5px,#ff1e00 169.5px,#fc0100 170.5px,#ef0000 171.5px,#ef0000 172.5px,#ff0200 174.5px,#ff6e00 182.5px,#ff9f00 187.5px,#ffcf00 194.5px,#ffe100 199.5px,#ffec00 200.5px,#ffef00 203.5px,#ffff00 205.5px,#fdff02 209.5px,#efff10 211.5px,#eeff11 216.5px,#dfff20 218.5px,#deff21 226.5px,#d0ff2f 228.5px,#cfff30 240.5px,#bfff40 243.5px,#bfff40 263.5px,#afff50 267.5px,#afff50 308.5px,#9fff60 314.5px,#9fff60 333.5px)"></i><i style="height:3px;background:linear-gradient(90deg,#70ff8f 0.5px,#70ff8f 14.5px,#60ff9f 19.5px,#60ff9f 62.5px,#50ffaf 66.5px,#4fffb0 87.5px,#40ffbf 90.5px,#40ffbf 102.5px,#30ffcf 105.5px,#30ffcf 112.5px,#20ffdf 115.5px,#20ffdf 120.5px,#10ffef 122.5px,#0ffff0 126.5px,#00ffff 128.5px,#00ffff 130.5px,#00cfff 140.5px,#009fff 146.5px,#0069ff 151.5px,#0000ff 159.5px,#0000f8 160.5px,#0006ff 162.5px,#0025ff 163.5px,#0068ff 164.5px,#05dafa 165.5px,#87ff78 166.5px,#fdcd02 167.5px,#ff5900 168.5px,#ff1600 169.5px,#f50000 170.5px,#e80000 172.5px,#f90000 174.5px,#ff0600 175.5px,#ff7d00 184.5px,#ffa800 189.5px,#ffdf00 198.5px,#ffef00 204.5px,#fffe00 206.5px,#ffff00 210.5px,#efff10 212.5px,#efff10 217.5px,#dfff20 220.5px,#ddff22 228.5px,#cfff30 230.5px,#cfff30 242.5px,#c0ff3f 245.5px,#bfff40 266.5px,#afff50 270.5px,#afff50 313.5px,#9fff60 318.5px,#9fff60 333.5px)"></i><i style="height:3px;background:linear-gradient(90deg,#70ff8f 0.5px,#6fff90 10.5px,#60ff9f 15.5px,#60ff9f 59.5px,#50ffaf 63.5px,#50ffaf 84.5px,#40ffbf 88.5px,#40ffbf 100.5px,#30ffcf 103.5px,#30ffcf 111.5px,#20ffdf 113.5px,#1fffe0 119.5px,#10ffef 121.5px,#0efff1 125.5px,#03fffc 126.5px,#00ffff 129.5px,#00f0ff 131.5px,#00efff 133.5px,#00dbff 137.5px,#00acff 144.5px,#006eff 150.5px,#0001ff 158.5px,#0000f4 159.5px,#0000ef 161.5px,#0001fb 162.5px,#001eff 163.5px,#0062ff 164.5px,#05dafa 165.5px,#86ff79 166.5px,#fdcd02 167.5px,#ff5300 168.5px,#ff0e00 169.5px,#ec0000 170.5px,#df0000 171.5px,#df0000 172.5px,#fd0000 175.5px,#ff5e00 182.5px,#ff9c00 188.5px,#ffdf00 199.5px,#ffe000 201.5px,#ffeb00 202.5px,#fff200 206.5px,#ffff00 208.5px,#ffff00 211.5px,#f0ff0f 213.5px,#efff10 219.5px,#dfff20 221.5px,#dfff20 229.5px,#cfff30 232.5px,#cfff30 244.5px,#bfff40 248.5px,#bfff40 269.5px,#afff50 273.5px,#afff50 317.5px,#a0ff5f 322.5px,#9fff60 333.5px)"></i><i style="height:3px;background:linear-gradient(90deg,#70ff8f 0.5px,#6fff90 6.5px,#60ff9f 11.5px,#60ff9f 56.5px,#50ffaf 60.5px,#50ffaf 82.5px,#41ffbe 85.5px,#40ffbf 98.5px,#30ffcf 101.5px,#30ffcf 109.5px,#20ffdf 112.5px,#20ffdf 117.5px,#12ffed 119.5px,#10ffef 123.5px,#02fffd 125.5px,#00ffff 128.5px,#00f0ff 130.5px,#00dcff 136.5px,#00afff 143.5px,#007fff 148.5px,#0004ff 157.5px,#0000f7 158.5px,#0000e6 160.5px,#0000e7 161.5px,#0000f4 162.5px,#0016ff 163.5px,#005dff 164.5px,#05d3fa 165.5px,#87ff78 166.5px,#fdc702 167.5px,#ff4d00 168.5px,#fc0a00 169.5px,#e40000 170.5px,#d60000 172.5px,#ff0300 176.5px,#ff6f00 184.5px,#ffae00 191.5px,#ffdf00 200.5px,#fff100 207.5px,#ffff00 209.5px,#fdff02 213.5px,#efff10 215.5px,#efff10 220.5px,#dfff20 223.5px,#dfff20 231.5px,#cfff30 234.5px,#ceff31 247.5px,#bfff40 250.5px,#bfff40 272.5px,#afff50 276.5px,#afff50 321.5px,#a0ff5f 326.5px,#9fff60 333.5px)"></i><i style="height:3px;background:linear-gradient(90deg,#70ff8f 0.5px,#60ff9f 7.5px,#60ff9f 53.5px,#50ffaf 57.5px,#50ffaf 80.5px,#40ffbf 83.5px,#40ffbf 96.5px,#30ffcf 99.5px,#30ffcf 108.5px,#20ffdf 110.5px,#20ffdf 116.5px,#10ffef 118.5px,#10ffef 122.5px,#01fffe 124.5px,#00ffff 127.5px,#00efff 129.5px,#00deff 135.5px,#009fff 144.5px,#006dff 149.5px,#0000fc 157.5px,#0000e3 159.5px,#0000df 161.5px,#0000ec 162.5px,#000fff 163.5px,#0056ff 164.5px,#05cefa 165.5px,#86ff79 166.5px,#fdc202 167.5px,#ff4600 168.5px,#f90600 169.5px,#dc0000 170.5px,#cf0000 171.5px,#cf0000 172.5px,#d30000 173.5px,#fa0000 176.5px,#ff5d00 183.5px,#ffaf00 192.5px,#ffc100 196.5px,#ffce00 197.5px,#ffdf00 203.5px,#ffef00 205.5px,#fff000 208.5px,#ffff00 210.5px,#ffff00 214.5px,#efff10 216.5px,#efff10 222.5px,#dfff20 224.5px,#dfff20 233.5px,#d0ff2f 235.5px,#cfff30 249.5px,#bfff40 252.5px,#bfff40 275.5px,#afff50 279.5px,#afff50 325.5px,#9fff60 333.5px)"></i><i style="height:3px;background:linear-gradient(90deg,#68ff97 0.5px,#60ff9f 3.5px,#60ff9f 51.5px,#50ffaf 55.5px,#50ffaf 78.5px,#40ffbf 81.5px,#40ffbf 95.5px,#30ffcf 98.5px,#30ffcf 106.5px,#20ffdf 109.5px,#1fffe0 115.5px,#10ffef 117.5px,#10ffef 121.5px,#01fffe 123.5px,#00ffff 126.5px,#00efff 128.5px,#00dfff 134.5px,#00abff 142.5px,#007dff 147.5px,#0003ff 156.5px,#0000f3 157.5px,#0000d5 160.5px,#0000d7 161.5px,#000bfc 163.5px,#0050ff 164.5px,#05cdfa 165.5px,#87ff78 166.5px,#fdc102 167.5px,#ff4100 168.5px,#f40300 169.5px,#d50000 170.5px,#c50000 172.5px,#ff0200 177.5px,#ff6d00 185.5px,#ff9b00 190.5px,#ffcf00 198.5px,#ffdf00 204.5px,#ffef00 206.5px,#fff000 209.5px,#ffff00 211.5px,#ffff00 215.5px,#efff10 217.5px,#efff10 223.5px,#dfff20 226.5px,#ddff22 235.5px,#cfff30 237.5px,#cfff30 251.5px,#bfff40 254.5px,#bfff40 277.5px,#afff50 281.5px,#afff50 329.5px,#a3ff5c 333.5px)"></i><i style="height:3px;background:linear-gradient(90deg,#60ff9f 0.5px,#60ff9f 48.5px,#50ffaf 52.5px,#50ffaf 76.5px,#40ffbf 79.5px,#40ffbf 93.5px,#30ffcf 96.5px,#30ffcf 105.5px,#21ffde 107.5px,#1fffe0 114.5px,#10ffef 116.5px,#10ffef 120.5px,#00ffff 122.5px,#00ffff 125.5px,#00f0ff 127.5px,#00edff 130.5px,#00e0ff 131.5px,#00cfff 136.5px,#009eff 143.5px,#006cff 148.5px,#0000fb 156.5px,#0000d3 159.5px,#0000cf 160.5px,#0000cf 161.5px,#0000dd 162.5px,#0007fa 163.5px,#004cff 164.5px,#04cdfb 165.5px,#87ff78 166.5px,#fdbf02 167.5px,#ff3c00 168.5px,#ef0200 169.5px,#cd0000 170.5px,#bf0000 171.5px,#c30000 173.5px,#fa0000 177.5px,#ff5c00 184.5px,#ff9f00 191.5px,#ffcf00 199.5px,#ffe000 205.5px,#ffef00 207.5px,#ffef00 210.5px,#ffff00 212.5px,#ffff00 216.5px,#f0ff0f 218.5px,#eeff11 225.5px,#dfff20 227.5px,#dfff20 236.5px,#cfff30 239.5px,#cfff30 253.5px,#bfff40 256.5px,#bfff40 280.5px,#afff50 284.5px,#afff50 333.5px)"></i><i style="height:3px;background:linear-gradient(90deg,#60ff9f 0.5px,#5fffa0 46.5px,#50ffaf 49.5px,#50ffaf 74.5px,#40ffbf 77.5px,#3fffc0 92.5px,#30ffcf 94.5px,#2fffd0 104.5px,#20ffdf 106.5px,#20ffdf 112.5px,#12ffed 114.5px,#10ffef 119.5px,#00ffff 121.5px,#00ffff 124.5px,#00f0ff 126.5px,#00eeff 129.5px,#00e1ff 130.5px,#00dfff 132.5px,#00afff 140.5px,#007cff 146.5px,#004dff 150.5px,#0004ff 155.5px,#0000f3 156.5px,#0000c7 160.5px,#0000d6 162.5px,#0004f6 163.5px,#0046ff 164.5px,#04c7fb 165.5px,#87ff78 166.5px,#fdb902 167.5px,#ff3600 168.5px,#e90000 169.5px,#c60000 170.5px,#b70000 172.5px,#c80000 174.5px,#ff0300 178.5px,#ff6c00 186.5px,#ffaf00 194.5px,#ffcf00 200.5px,#ffd100 202.5px,#ffde00 203.5px,#ffe000 206.5px,#ffef00 208.5px,#ffef00 211.5px,#ffff00 213.5px,#fdff02 218.5px,#efff10 220.5px,#efff10 226.5px,#e0ff1f 228.5px,#dfff20 238.5px,#d0ff2f 240.5px,#cfff30 255.5px,#bfff40 258.5px,#bfff40 283.5px,#b0ff4f 286.5px,#afff50 333.5px)"></i><i style="height:3px;background:linear-gradient(90deg,#60ff9f 0.5px,#60ff9f 43.5px,#50ffaf 47.5px,#50ffaf 72.5px,#40ffbf 75.5px,#40ffbf 90.5px,#30ffcf 93.5px,#30ffcf 102.5px,#20ffdf 105.5px,#20ffdf 111.5px,#11ffee 113.5px,#10ffef 118.5px,#00ffff 120.5px,#00ffff 123.5px,#00f0ff 125.5px,#00efff 128.5px,#00e3ff 129.5px,#00cdff 135.5px,#00c0ff 136.5px,#009cff 142.5px,#006cff 147.5px,#0000fc 155.5px,#0000d0 158.5px,#0000bf 160.5px,#0000c0 161.5px,#0000d0 162.5px,#0002f1 163.5px,#003fff 164.5px,#02c5fd 165.5px,#87ff78 166.5px,#feb601 167.5px,#ff2f00 168.5px,#e30000 169.5px,#c00000 170.5px,#b00000 171.5px,#af0000 172.5px,#c00000 174.5px,#fb0000 178.5px,#ff5c00 185.5px,#ff9c00 192.5px,#ffb000 196.5px,#ffbd00 197.5px,#ffd300 203.5px,#ffdf00 204.5px,#ffe000 207.5px,#ffef00 209.5px,#ffef00 212.5px,#ffff00 214.5px,#feff01 219.5px,#efff10 221.5px,#efff10 227.5px,#dfff20 230.5px,#dfff20 239.5px,#cfff30 242.5px,#cfff30 257.5px,#bfff40 260.5px,#bfff40 285.5px,#afff50 289.5px,#afff50 333.5px)"></i><i style="height:4px;background:linear-gradient(90deg,#60ff9f 0.5px,#60ff9f 40.5px,#50ffaf 44.5px,#50ffaf 70.5px,#40ffbf 73.5px,#40ffbf 88.5px,#30ffcf 91.5px,#2fffd0 101.5px,#20ffdf 103.5px,#1fffe0 110.5px,#10ffef 112.5px,#0ffff0 117.5px,#00ffff 119.5px,#00ffff 122.5px,#00f0ff 124.5px,#00efff 127.5px,#00dfff 129.5px,#00ddff 131.5px,#00d1ff 132.5px,#00ceff 134.5px,#00c2ff 135.5px,#00aeff 139.5px,#007aff 145.5px,#004dff 149.5px,#0004ff 154.5px,#0000f4 155.5px,#0000c9 158.5px,#0000b9 160.5px,#0000c7 162.5px,#0001ec 163.5px,#003aff 164.5px,#02c3fd 165.5px,#87ff78 166.5px,#ffb500 167.5px,#ff2b00 168.5px,#dd0000 169.5px,#b70000 170.5px,#a90000 172.5px,#b90000 174.5px,#f30000 178.5px,#ff0400 179.5px,#ff6a00 187.5px,#ff9e00 193.5px,#ffdf00 205.5px,#ffe000 208.5px,#ffef00 210.5px,#ffef00 213.5px,#ffff00 215.5px,#ffff00 220.5px,#f0ff0f 222.5px,#efff10 229.5px,#e0ff1f 231.5px,#dfff20 241.5px,#cfff30 244.5px,#cfff30 259.5px,#bfff40 262.5px,#bfff40 288.5px,#afff50 292.5px,#afff50 333.5px)"></i><i style="height:4px;background:linear-gradient(90deg,#60ff9f 0.5px,#60ff9f 37.5px,#50ffaf 41.5px,#50ffaf 67.5px,#40ffbf 71.5px,#40ffbf 86.5px,#30ffcf 89.5px,#30ffcf 99.5px,#22ffdd 101.5px,#20ffdf 108.5px,#10ffef 111.5px,#10ffef 115.5px,#00ffff 118.5px,#00ffff 121.5px,#00f0ff 123.5px,#00eeff 126.5px,#00e3ff 127.5px,#00ddff 130.5px,#00d1ff 131.5px,#00cfff 133.5px,#00afff 138.5px,#005eff 147.5px,#0000fb 154.5px,#0000c0 158.5px,#0000af 160.5px,#0000b0 161.5px,#0000c0 162.5px,#0000e4 163.5px,#0034ff 164.5px,#02befd 165.5px,#86ff79 166.5px,#ffb000 167.5px,#fe2500 168.5px,#d40000 169.5px,#b00000 170.5px,#a00000 171.5px,#9f0000 172.5px,#b00000 174.5px,#fb0000 179.5px,#ff6e00 188.5px,#ffad00 196.5px,#ffc100 201.5px,#ffcd00 202.5px,#ffd300 205.5px,#ffde00 206.5px,#ffe000 209.5px,#ffef00 211.5px,#ffef00 214.5px,#ffff00 217.5px,#ffff00 221.5px,#efff10 224.5px,#edff12 231.5px,#dfff20 233.5px,#dfff20 243.5px,#cfff30 246.5px,#cfff30 261.5px,#bfff40 265.5px,#bfff40 291.5px,#afff50 295.5px,#afff50 333.5px)"></i><i style="height:4px;background:linear-gradient(90deg,#60ff9f 0.5px,#60ff9f 34.5px,#50ffaf 38.5px,#50ffaf 65.5px,#40ffbf 68.5px,#40ffbf 84.5px,#30ffcf 87.5px,#30ffcf 97.5px,#20ffdf 100.5px,#20ffdf 107.5px,#10ffef 109.5px,#10ffef 114.5px,#01fffe 116.5px,#00ffff 120.5px,#00efff 122.5px,#00eeff 125.5px,#00e3ff 126.5px,#00cfff 132.5px,#009bff 140.5px,#006eff 145.5px,#0004ff 153.5px,#0000f3 154.5px,#0000b7 158.5px,#0000a6 160.5px,#0000b7 162.5px,#0000dd 163.5px,#002cff 164.5px,#02bafd 165.5px,#86ff79 166.5px,#ffac00 167.5px,#fd1f00 168.5px,#cd0000 169.5px,#a70000 170.5px,#960000 172.5px,#b40000 175.5px,#f30000 179.5px,#ff0300 180.5px,#ff5e00 187.5px,#ffaf00 197.5px,#ffc100 202.5px,#ffce00 203.5px,#ffd300 206.5px,#ffde00 207.5px,#ffdf00 210.5px,#ffef00 212.5px,#fff000 216.5px,#ffff00 218.5px,#ffff00 223.5px,#efff10 225.5px,#efff10 232.5px,#dfff20 235.5px,#dfff20 245.5px,#cfff30 248.5px,#cfff30 264.5px,#bfff40 267.5px,#bfff40 294.5px,#afff50 298.5px,#afff50 333.5px)"></i><i style="height:4px;background:linear-gradient(90deg,#60ff9f 0.5px,#60ff9f 31.5px,#50ffaf 35.5px,#50ffaf 63.5px,#40ffbf 66.5px,#40ffbf 82.5px,#30ffcf 85.5px,#30ffcf 96.5px,#21ffde 98.5px,#1fffe0 106.5px,#10ffef 108.5px,#10ffef 113.5px,#00ffff 115.5px,#00ffff 119.5px,#00efff 121.5px,#00eeff 124.5px,#00e3ff 125.5px,#00deff 128.5px,#00d2ff 129.5px,#00cfff 131.5px,#009eff 139.5px,#005dff 146.5px,#0000fb 153.5px,#0000a3 159.5px,#0000a0 161.5px,#0000b0 162.5px,#0000d5 163.5px,#0028ff 164.5px,#02b7fd 165.5px,#87ff78 166.5px,#ffa900 167.5px,#fb1c00 168.5px,#c50000 169.5px,#a00000 170.5px,#900000 171.5px,#930000 173.5px,#fb0000 180.5px,#ff4d00 186.5px,#ff9d00 195.5px,#ffbf00 201.5px,#ffc200 203.5px,#ffce00 204.5px,#ffd300 207.5px,#ffdf00 208.5px,#ffdf00 211.5px,#ffef00 213.5px,#ffef00 217.5px,#ffff00 219.5px,#ffff00 224.5px,#f0ff0f 226.5px,#eeff11 234.5px,#dfff20 236.5px,#dfff20 247.5px,#cfff30 250.5px,#cfff30 266.5px,#bfff40 269.5px,#bfff40 297.5px,#afff50 301.5px,#afff50 333.5px)"></i><i style="height:4px;background:linear-gradient(90deg,#60ff9f 0.5px,#60ff9f 28.5px,#50ffaf 32.5px,#50ffaf 61.5px,#40ffbf 64.5px,#3fffc0 81.5px,#31ffce 83.5px,#30ffcf 94.5px,#20ffdf 97.5px,#20ffdf 104.5px,#12ffed 106.5px,#10ffef 112.5px,#00ffff 114.5px,#00ffff 118.5px,#00efff 120.5px,#00efff 123.5px,#00dfff 125.5px,#00dfff 127.5px,#00afff 136.5px,#006dff 144.5px,#0004ff 152.5px,#0000f4 153.5px,#0000b5 157.5px,#000098 160.5px,#0000a7 162.5px,#0000cf 163.5px,#0023fd 164.5px,#02b4fd 165.5px,#87ff78 166.5px,#ffa600 167.5px,#f91800 168.5px,#c00000 169.5px,#980000 170.5px,#880000 172.5px,#a50000 175.5px,#f30000 180.5px,#ff0400 181.5px,#ff5d00 188.5px,#ff9f00 196.5px,#ffcf00 205.5px,#ffcf00 207.5px,#ffdf00 209.5px,#ffdf00 212.5px,#ffef00 214.5px,#ffef00 218.5px,#ffff00 220.5px,#ffff00 225.5px,#efff10 228.5px,#efff10 235.5px,#dfff20 238.5px,#deff21 249.5px,#cfff30 251.5px,#cfff30 268.5px,#bfff40 271.5px,#bfff40 300.5px,#afff50 304.5px,#afff50 333.5px)"></i><i style="height:4px;background:linear-gradient(90deg,#60ff9f 0.5px,#60ff9f 25.5px,#50ffaf 29.5px,#50ffaf 59.5px,#40ffbf 62.5px,#40ffbf 79.5px,#30ffcf 82.5px,#30ffcf 93.5px,#21ffde 95.5px,#20ffdf 103.5px,#11ffee 105.5px,#10ffef 111.5px,#00ffff 113.5px,#00ffff 117.5px,#00efff 119.5px,#00efff 122.5px,#00dfff 124.5px,#00cdff 130.5px,#00c0ff 131.5px,#00bdff 133.5px,#00b0ff 134.5px,#009cff 138.5px,#005cff 145.5px,#0000fd 152.5px,#0000a0 158.5px,#00008f 160.5px,#000090 161.5px,#0000a2 162.5px,#0000c8 163.5px,#001efc 164.5px,#02b0fd 165.5px,#87ff78 166.5px,#ffa200 167.5px,#f71300 168.5px,#b80000 169.5px,#920000 170.5px,#800000 171.5px,#850000 173.5px,#fd0000 181.5px,#ff6a00 190.5px,#ffad00 199.5px,#ffb000 201.5px,#ffbd00 202.5px,#ffbf00 204.5px,#ffcf00 206.5px,#ffcf00 208.5px,#ffdf00 210.5px,#ffdf00 213.5px,#ffef00 215.5px,#ffef00 219.5px,#ffff00 221.5px,#feff01 227.5px,#efff10 229.5px,#eeff11 237.5px,#dfff20 239.5px,#dfff20 250.5px,#cfff30 253.5px,#cfff30 270.5px,#bfff40 273.5px,#bfff40 303.5px,#afff50 307.5px,#afff50 333.5px)"></i></div>
<div class="hm" style="left:103px;top:556px;width:334px;height:333px"><i style="height:4px;background:linear-gradient(90deg,#8fff70 0.5px,#90ff6f 155.5px,#9fff60 156.5px,#9fff60 160.5px,#afff50 162.5px,#d3ff2c 164.5px,#f8f307 165.5px,#e25100 166.5px,#1c45c8 167.5px,#07e5f8 168.5px,#33ffcc 169.5px,#5fffa0 171.5px,#70ff8f 173.5px,#70ff8f 177.5px,#80ff80 179.5px,#80ff80 333.5px)"></i><i style="height:4px;background:linear-gradient(90deg,#8fff70 0.5px,#8fff70 155.5px,#9dff62 156.5px,#9fff60 160.5px,#afff50 162.5px,#d0ff2f 164.5px,#f8f307 165.5px,#e35100 166.5px,#1c47c8 167.5px,#07e8f8 168.5px,#34ffcb 169.5px,#60ff9f 171.5px,#70ff8f 173.5px,#70ff8f 177.5px,#80ff80 179.5px,#80ff80 333.5px)"></i><i style="height:4px;background:linear-gradient(90deg,#8fff70 0.5px,#8fff70 155.5px,#9fff60 157.5px,#9fff60 160.5px,#afff50 162.5px,#cfff30 164.5px,#f6f409 165.5px,#e45300 166.5px,#1c4bcc 167.5px,#07ebf8 168.5px,#36ffc9 169.5px,#60ff9f 171.5px,#70ff8f 173.5px,#70ff8f 177.5px,#80ff80 178.5px,#80ff80 333.5px)"></i><i style="height:4px;background:linear-gradient(90deg,#8fff70 0.5px,#8fff70 155.5px,#9fff60 157.5px,#a4ff5b 161.5px,#b8ff47 163.5px,#ceff31 164.5px,#f5f50a 165.5px,#e85700 166.5px,#1c4dcd 167.5px,#08edf7 168.5px,#37ffc8 169.5px,#51ffae 170.5px,#60ff9f 171.5px,#70ff8f 173.5px,#74ff8b 177.5px,#80ff80 178.5px,#80ff80 333.5px)"></i><i style="height:4px;background:linear-gradient(90deg,#8fff70 0.5px,#8fff70 155.5px,#9fff60 157.5px,#a3ff5c 161.5px,#b8ff47 163.5px,#ccff33 164.5px,#f4f70b 165.5px,#e85b00 166.5px,#1c50d0 167.5px,#0aedf5 168.5px,#38ffc7 169.5px,#53ffac 170.5px,#68ff97 172.5px,#70ff8f 176.5px,#80ff80 178.5px,#80ff80 333.5px)"></i><i style="height:4px;background:linear-gradient(90deg,#8fff70 0.5px,#8fff70 155.5px,#90ff6f 156.5px,#9fff60 157.5px,#a1ff5e 161.5px,#b6ff49 163.5px,#cbff34 164.5px,#f3f80c 165.5px,#ed5d00 166.5px,#1c53d3 167.5px,#0bedf4 168.5px,#3cffc3 169.5px,#54ffab 170.5px,#6aff95 172.5px,#70ff8f 176.5px,#80ff80 178.5px,#80ff80 333.5px)"></i><i style="height:4px;background:linear-gradient(90deg,#8fff70 0.5px,#8fff70 156.5px,#9dff62 157.5px,#9fff60 161.5px,#b5ff4a 163.5px,#c9ff36 164.5px,#f1f90e 165.5px,#ee6200 166.5px,#1c56d5 167.5px,#0bf1f4 168.5px,#3dffc2 169.5px,#55ffaa 170.5px,#6bff94 172.5px,#70ff8f 176.5px,#7eff81 177.5px,#80ff80 178.5px,#80ff80 333.5px)"></i><i style="height:4px;background:linear-gradient(90deg,#8fff70 0.5px,#8fff70 156.5px,#9fff60 158.5px,#9fff60 161.5px,#c7ff38 164.5px,#f1fa0e 165.5px,#f16500 166.5px,#1c5ad8 167.5px,#0ef4f1 168.5px,#3fffc0 169.5px,#57ffa8 170.5px,#6dff92 172.5px,#72ff8d 176.5px,#80ff80 177.5px,#80ff80 333.5px)"></i><i style="height:4px;background:linear-gradient(90deg,#8fff70 0.5px,#8fff70 156.5px,#9fff60 158.5px,#9fff60 161.5px,#b3ff4c 163.5px,#c6ff39 164.5px,#eefb11 165.5px,#f36c00 166.5px,#1d5ed9 167.5px,#10f4ef 168.5px,#41ffbe 169.5px,#58ffa7 170.5px,#6fff90 172.5px,#70ff8f 175.5px,#80ff80 177.5px,#80ff80 333.5px)"></i><i style="height:4px;background:linear-gradient(90deg,#8fff70 0.5px,#8fff70 156.5px,#90ff6f 157.5px,#9fff60 158.5px,#9fff60 161.5px,#b1ff4e 163.5px,#c5ff3a 164.5px,#ecfd13 165.5px,#f57100 166.5px,#1e64db 167.5px,#11f5ee 168.5px,#43ffbc 169.5px,#59ffa6 170.5px,#70ff8f 172.5px,#70ff8f 175.5px,#80ff80 177.5px,#80ff80 333.5px)"></i><i style="height:4px;background:linear-gradient(90deg,#8fff70 0.5px,#8fff70 157.5px,#9cff63 158.5px,#a7ff58 162.5px,#c4ff3b 164.5px,#eafd15 165.5px,#f87500 166.5px,#1e68dd 167.5px,#14f9eb 168.5px,#45ffba 169.5px,#5bffa4 170.5px,#70ff8f 172.5px,#70ff8f 175.5px,#7eff81 176.5px,#80ff80 177.5px,#80ff80 333.5px)"></i><i style="height:4px;background:linear-gradient(90deg,#8fff70 0.5px,#8fff70 157.5px,#9fff60 159.5px,#a4ff5b 162.5px,#c1ff3e 164.5px,#e6fd19 165.5px,#fb7c00 166.5px,#1e6fe0 167.5px,#16fae9 168.5px,#48ffb7 169.5px,#5dffa2 170.5px,#70ff8f 172.5px,#73ff8c 175.5px,#80ff80 176.5px,#80ff80 333.5px)"></i><i style="height:4px;background:linear-gradient(90deg,#8fff70 0.5px,#8fff70 157.5px,#9fff60 159.5px,#a2ff5d 162.5px,#beff41 164.5px,#e5ff1a 165.5px,#fc8300 166.5px,#1e76e1 167.5px,#19fae6 168.5px,#49ffb6 169.5px,#69ff96 171.5px,#70ff8f 174.5px,#80ff80 176.5px,#80ff80 333.5px)"></i><i style="height:4px;background:linear-gradient(90deg,#8fff70 0.5px,#8fff70 158.5px,#9dff62 159.5px,#a0ff5f 162.5px,#bbff44 164.5px,#e1ff1e 165.5px,#fe8a00 166.5px,#1e7fe1 167.5px,#1cfde3 168.5px,#4bffb4 169.5px,#6bff94 171.5px,#70ff8f 174.5px,#80ff80 176.5px,#80ff80 333.5px)"></i><i style="height:4px;background:linear-gradient(90deg,#8fff70 0.5px,#8fff70 158.5px,#9fff60 160.5px,#9fff60 162.5px,#b9ff46 164.5px,#deff21 165.5px,#ff9200 166.5px,#1f89e0 167.5px,#20fddf 168.5px,#4effb1 169.5px,#6eff91 171.5px,#73ff8c 174.5px,#80ff80 175.5px,#80ff80 333.5px)"></i><i style="height:4px;background:linear-gradient(90deg,#8fff70 0.5px,#8fff70 158.5px,#9fff60 160.5px,#9fff60 162.5px,#b7ff48 164.5px,#d9ff26 165.5px,#ff9c00 166.5px,#2092df 167.5px,#23fedc 168.5px,#51ffae 169.5px,#70ff8f 171.5px,#70ff8f 173.5px,#80ff80 175.5px,#80ff80 333.5px)"></i><i style="height:4px;background:linear-gradient(90deg,#8fff70 0.5px,#8fff70 159.5px,#9dff62 160.5px,#a7ff58 163.5px,#b5ff4a 164.5px,#d5ff2a 165.5px,#ffa500 166.5px,#209ddf 167.5px,#28ffd7 168.5px,#55ffaa 169.5px,#63ff9c 170.5px,#70ff8f 171.5px,#70ff8f 173.5px,#7eff81 174.5px,#80ff80 175.5px,#80ff80 333.5px)"></i><i style="height:4px;background:linear-gradient(90deg,#8fff70 0.5px,#8fff70 159.5px,#a4ff5b 163.5px,#b3ff4c 164.5px,#d1ff2e 165.5px,#fdb002 166.5px,#20a7df 167.5px,#2dffd2 168.5px,#58ffa7 169.5px,#66ff99 170.5px,#80ff80 174.5px,#80ff80 333.5px)"></i><i style="height:4px;background:linear-gradient(90deg,#8fff70 0.5px,#8fff70 159.5px,#9fff60 161.5px,#a1ff5e 163.5px,#b1ff4e 164.5px,#ccff33 165.5px,#fdb902 166.5px,#21b2de 167.5px,#33ffcc 168.5px,#5affa5 169.5px,#69ff96 170.5px,#80ff80 174.5px,#80ff80 333.5px)"></i><i style="height:4px;background:linear-gradient(90deg,#8fff70 0.5px,#8fff70 160.5px,#9bff64 161.5px,#9fff60 163.5px,#c9ff36 165.5px,#fbc404 166.5px,#23bddc 167.5px,#38ffc7 168.5px,#5cffa3 169.5px,#6cff93 170.5px,#80ff80 174.5px,#80ff80 333.5px)"></i><i style="height:4px;background:linear-gradient(90deg,#8fff70 0.5px,#8fff70 160.5px,#abff54 164.5px,#c4ff3b 165.5px,#f9cd06 166.5px,#23c8dc 167.5px,#3effc1 168.5px,#5effa1 169.5px,#6fff90 170.5px,#80ff80 173.5px,#80ff80 333.5px)"></i><i style="height:4px;background:linear-gradient(90deg,#8fff70 0.5px,#90ff6f 161.5px,#9eff61 162.5px,#a8ff57 164.5px,#bfff40 165.5px,#f6d609 166.5px,#27d2d8 167.5px,#43ffbc 168.5px,#63ff9c 169.5px,#70ff8f 170.5px,#80ff80 173.5px,#80ff80 333.5px)"></i><i style="height:4px;background:linear-gradient(90deg,#8fff70 0.5px,#8fff70 161.5px,#a4ff5b 164.5px,#baff45 165.5px,#f2df0d 166.5px,#29dcd6 167.5px,#49ffb6 168.5px,#66ff99 169.5px,#80ff80 172.5px,#80ff80 333.5px)"></i><i style="height:4px;background:linear-gradient(90deg,#8fff70 0.5px,#8fff70 161.5px,#a1ff5e 164.5px,#b6ff49 165.5px,#eee711 166.5px,#2ee6d1 167.5px,#4fffb0 168.5px,#6aff95 169.5px,#80ff80 172.5px,#80ff80 333.5px)"></i><i style="height:4px;background:linear-gradient(90deg,#8fff70 0.5px,#8fff70 162.5px,#9fff60 164.5px,#b1ff4e 165.5px,#e8ef17 166.5px,#34efcb 167.5px,#55ffaa 168.5px,#6dff92 169.5px,#7fff80 171.5px,#80ff80 333.5px)"></i><i style="height:4px;background:linear-gradient(90deg,#8fff70 0.5px,#8fff70 162.5px,#abff54 165.5px,#e1f61e 166.5px,#39f8c6 167.5px,#5bffa4 168.5px,#70ff8f 169.5px,#80ff80 171.5px,#80ff80 333.5px)"></i><i style="height:4px;background:linear-gradient(90deg,#8fff70 0.5px,#8fff70 163.5px,#a6ff59 165.5px,#d8fb27 166.5px,#41febe 167.5px,#62ff9d 168.5px,#7eff81 170.5px,#80ff80 171.5px,#80ff80 333.5px)"></i><i style="height:4px;background:linear-gradient(90deg,#8fff70 0.5px,#8fff70 163.5px,#a2ff5d 165.5px,#ceff31 166.5px,#4cffb3 167.5px,#69ff96 168.5px,#80ff80 170.5px,#80ff80 333.5px)"></i><i style="height:4px;background:linear-gradient(90deg,#8fff70 0.5px,#8fff70 164.5px,#9cff63 165.5px,#beff41 166.5px,#59ffa6 167.5px,#7eff81 169.5px,#80ff80 170.5px,#80ff80 333.5px)"></i><i style="height:4px;background:linear-gradient(90deg,#8fff70 0.5px,#8fff70 164.5px,#94ff6b 165.5px,#afff50 166.5px,#67ff98 167.5px,#80ff80 169.5px,#80ff80 333.5px)"></i><i style="height:4px;background:linear-gradient(90deg,#8fff70 0.5px,#8fff70 165.5px,#9dff62 166.5px,#75ff8a 167.5px,#80ff80 169.5px,#80ff80 333.5px)"></i><i style="height:3px;background:linear-gradient(90deg,#8eff71 0.5px,#8fff70 166.5px,#82ff7d 167.5px,#81ff7e 168.5px,#81ff7e 333.5px)"></i><i style="height:4px;background:linear-gradient(90deg,#80ff80 0.5px,#7bff84 166.5px,#92ff6d 167.5px,#8fff70 333.5px)"></i><i style="height:4px;background:linear-gradient(90deg,#80ff80 0.5px,#80ff80 164.5px,#7fff80 165.5px,#69ff96 166.5px,#a1ff5e 167.5px,#8fff70 169.5px,#8fff70 333.5px)"></i><i style="height:4px;background:linear-gradient(90deg,#80ff80 0.5px,#80ff80 164.5px,#77ff88 165.5px,#5affa5 166.5px,#aeff51 167.5px,#8fff70 169.5px,#8fff70 333.5px)"></i><i style="height:4px;background:linear-gradient(90deg,#80ff80 0.5px,#80ff80 163.5px,#7eff81 164.5px,#70ff8f 165.5px,#49ffb6 166.5px,#bcff43 167.5px,#94ff6b 169.5px,#8fff70 170.5px,#8fff70 333.5px)"></i><i style="height:4px;background:linear-gradient(90deg,#80ff80 0.5px,#80ff80 163.5px,#6cff93 165.5px,#3bffc4 166.5px,#c6fd39 167.5px,#a9ff56 168.5px,#8fff70 170.5px,#8fff70 333.5px)"></i><i style="height:4px;background:linear-gradient(90deg,#80ff80 0.5px,#80ff80 162.5px,#7fff80 163.5px,#68ff97 165.5px,#2ffcd0 166.5px,#cdf732 167.5px,#b0ff4f 168.5px,#9fff60 169.5px,#8fff70 171.5px,#8fff70 333.5px)"></i><i style="height:4px;background:linear-gradient(90deg,#80ff80 0.5px,#80ff80 162.5px,#61ff9e 165.5px,#26f7d9 166.5px,#d1f02e 167.5px,#b7ff48 168.5px,#a0ff5f 169.5px,#8fff70 171.5px,#8fff70 333.5px)"></i><i style="height:4px;background:linear-gradient(90deg,#80ff80 0.5px,#7fff80 162.5px,#6fff90 164.5px,#5cffa3 165.5px,#1ff1e0 166.5px,#d6e629 167.5px,#bcff43 168.5px,#a3ff5c 169.5px,#8fff70 172.5px,#8fff70 333.5px)"></i><i style="height:4px;background:linear-gradient(90deg,#80ff80 0.5px,#80ff80 161.5px,#6dff92 164.5px,#57ffa8 165.5px,#18ebe7 166.5px,#d9db26 167.5px,#c2ff3d 168.5px,#a7ff58 169.5px,#8fff70 172.5px,#8fff70 333.5px)"></i><i style="height:4px;background:linear-gradient(90deg,#80ff80 0.5px,#80ff80 161.5px,#69ff96 164.5px,#53ffac 165.5px,#13e3ec 166.5px,#dcd123 167.5px,#c8ff37 168.5px,#aaff55 169.5px,#90ff6f 172.5px,#8fff70 173.5px,#8fff70 333.5px)"></i><i style="height:4px;background:linear-gradient(90deg,#80ff80 0.5px,#80ff80 160.5px,#66ff99 164.5px,#4fffb0 165.5px,#0fdbf0 166.5px,#dfc520 167.5px,#cfff30 168.5px,#aeff51 169.5px,#9fff60 170.5px,#8fff70 173.5px,#8fff70 333.5px)"></i><i style="height:4px;background:linear-gradient(90deg,#80ff80 0.5px,#80ff80 160.5px,#62ff9d 164.5px,#49ffb6 165.5px,#0bd2f4 166.5px,#dfba20 167.5px,#d3ff2c 168.5px,#b2ff4d 169.5px,#a1ff5e 170.5px,#9cff63 172.5px,#8fff70 173.5px,#8fff70 333.5px)"></i><i style="height:4px;background:linear-gradient(90deg,#80ff80 0.5px,#7fff80 160.5px,#71ff8e 161.5px,#6fff90 163.5px,#5fffa0 164.5px,#44ffbb 165.5px,#08caf7 166.5px,#dfae20 167.5px,#d9ff26 168.5px,#b4ff4b 169.5px,#a4ff5b 170.5px,#8fff70 174.5px,#8fff70 333.5px)"></i><i style="height:4px;background:linear-gradient(90deg,#80ff80 0.5px,#80ff80 159.5px,#70ff8f 161.5px,#6cff93 163.5px,#5dffa2 164.5px,#40ffbf 165.5px,#05c1fa 166.5px,#e0a31f 167.5px,#deff21 168.5px,#b6ff49 169.5px,#a7ff58 170.5px,#8fff70 174.5px,#8fff70 333.5px)"></i><i style="height:4px;background:linear-gradient(90deg,#80ff80 0.5px,#80ff80 159.5px,#69ff96 163.5px,#5bffa4 164.5px,#3dffc2 165.5px,#04b9fb 166.5px,#e1971e 167.5px,#e4fd1b 168.5px,#b8ff47 169.5px,#aaff55 170.5px,#9fff60 171.5px,#9eff61 173.5px,#90ff6f 174.5px,#8fff70 333.5px)"></i><i style="height:4px;background:linear-gradient(90deg,#80ff80 0.5px,#7fff80 159.5px,#70ff8f 160.5px,#66ff99 163.5px,#59ffa6 164.5px,#38ffc7 165.5px,#02aefd 166.5px,#e18d1e 167.5px,#e6fd19 168.5px,#bcff43 169.5px,#9fff60 171.5px,#9fff60 173.5px,#8fff70 175.5px,#8fff70 333.5px)"></i><i style="height:4px;background:linear-gradient(90deg,#80ff80 0.5px,#80ff80 158.5px,#70ff8f 160.5px,#70ff8f 162.5px,#57ffa8 164.5px,#34ffcb 165.5px,#02a7fd 166.5px,#e1831e 167.5px,#eafa15 168.5px,#bfff40 169.5px,#a0ff5f 171.5px,#9fff60 173.5px,#8fff70 175.5px,#8fff70 333.5px)"></i><i style="height:4px;background:linear-gradient(90deg,#80ff80 0.5px,#80ff80 158.5px,#70ff8f 160.5px,#70ff8f 162.5px,#55ffaa 164.5px,#2fffd0 165.5px,#009cff 166.5px,#e27a1d 167.5px,#edfa12 168.5px,#c2ff3d 169.5px,#afff50 170.5px,#a2ff5d 171.5px,#9eff61 174.5px,#90ff6f 175.5px,#8fff70 333.5px)"></i><i style="height:4px;background:linear-gradient(90deg,#80ff80 0.5px,#7fff80 158.5px,#70ff8f 159.5px,#6fff90 162.5px,#52ffad 164.5px,#2cffd3 165.5px,#0095ff 166.5px,#e2711c 167.5px,#f0f80f 168.5px,#c5ff3a 169.5px,#a5ff5a 171.5px,#9fff60 174.5px,#8fff70 176.5px,#8fff70 333.5px)"></i><i style="height:4px;background:linear-gradient(90deg,#80ff80 0.5px,#80ff80 157.5px,#70ff8f 159.5px,#6cff93 162.5px,#4fffb0 164.5px,#29ffd6 165.5px,#008efd 166.5px,#df6a1c 167.5px,#f2f40d 168.5px,#c6ff39 169.5px,#b1ff4e 170.5px,#9fff60 172.5px,#9fff60 174.5px,#8fff70 176.5px,#8fff70 333.5px)"></i><i style="height:4px;background:linear-gradient(90deg,#80ff80 0.5px,#80ff80 157.5px,#60ff9f 163.5px,#4dffb2 164.5px,#26ffd9 165.5px,#0085fc 166.5px,#dd651c 167.5px,#f4f40b 168.5px,#c9ff36 169.5px,#b3ff4c 170.5px,#9fff60 172.5px,#9eff61 175.5px,#8fff70 176.5px,#8fff70 333.5px)"></i><i style="height:4px;background:linear-gradient(90deg,#80ff80 0.5px,#80ff80 157.5px,#71ff8e 158.5px,#70ff8f 161.5px,#5fffa0 163.5px,#4affb5 164.5px,#22ffdd 165.5px,#0080fa 166.5px,#da5f1c 167.5px,#f5f10a 168.5px,#caff35 169.5px,#b5ff4a 170.5px,#9fff60 172.5px,#9fff60 175.5px,#8fff70 177.5px,#8fff70 333.5px)"></i><i style="height:4px;background:linear-gradient(90deg,#80ff80 0.5px,#80ff80 156.5px,#70ff8f 158.5px,#70ff8f 161.5px,#5dffa2 163.5px,#49ffb6 164.5px,#20ffdf 165.5px,#007cf8 166.5px,#d85a1c 167.5px,#f8ed07 168.5px,#cdff32 169.5px,#b6ff49 170.5px,#9fff60 172.5px,#9fff60 175.5px,#8fff70 177.5px,#8fff70 333.5px)"></i><i style="height:4px;background:linear-gradient(90deg,#80ff80 0.5px,#80ff80 156.5px,#70ff8f 158.5px,#70ff8f 161.5px,#5cffa3 163.5px,#49ffb6 164.5px,#1bfee4 165.5px,#0074f5 166.5px,#d5541c 167.5px,#f8ed07 168.5px,#cfff30 169.5px,#b8ff47 170.5px,#a0ff5f 172.5px,#9fff60 175.5px,#8fff70 177.5px,#8fff70 333.5px)"></i><i style="height:4px;background:linear-gradient(90deg,#80ff80 0.5px,#80ff80 156.5px,#70ff8f 158.5px,#70ff8f 161.5px,#47ffb8 164.5px,#1bfde4 165.5px,#0071f3 166.5px,#d2521c 167.5px,#faea05 168.5px,#d1ff2e 169.5px,#b9ff46 170.5px,#a2ff5d 172.5px,#9fff60 176.5px,#90ff6f 177.5px,#8fff70 333.5px)"></i><i style="height:4px;background:linear-gradient(90deg,#80ff80 0.5px,#80ff80 156.5px,#71ff8e 157.5px,#6fff90 161.5px,#45ffba 164.5px,#18fde7 165.5px,#006cf1 166.5px,#cf4e1c 167.5px,#fbe604 168.5px,#d3ff2c 169.5px,#baff45 170.5px,#a4ff5b 172.5px,#9fff60 176.5px,#8fff70 178.5px,#8fff70 333.5px)"></i><i style="height:4px;background:linear-gradient(90deg,#80ff80 0.5px,#80ff80 155.5px,#70ff8f 157.5px,#6dff92 161.5px,#58ffa7 163.5px,#43ffbc 164.5px,#16fde9 165.5px,#0067ef 166.5px,#cc4a1c 167.5px,#fbe404 168.5px,#d4ff2b 169.5px,#bcff43 170.5px,#a6ff59 172.5px,#9fff60 176.5px,#8fff70 178.5px,#8fff70 333.5px)"></i><i style="height:4px;background:linear-gradient(90deg,#80ff80 0.5px,#80ff80 155.5px,#70ff8f 157.5px,#6cff93 161.5px,#57ffa8 163.5px,#42ffbd 164.5px,#15fbea 165.5px,#0064ed 166.5px,#c9471c 167.5px,#fce303 168.5px,#d8ff27 169.5px,#bcff43 170.5px,#afff50 171.5px,#9fff60 173.5px,#9fff60 176.5px,#8fff70 178.5px,#8fff70 333.5px)"></i><i style="height:4px;background:linear-gradient(90deg,#80ff80 0.5px,#80ff80 155.5px,#70ff8f 157.5px,#6aff95 161.5px,#56ffa9 163.5px,#40ffbf 164.5px,#14faeb 165.5px,#0060ec 166.5px,#c8451c 167.5px,#fde102 168.5px,#d8ff27 169.5px,#bdff42 170.5px,#afff50 171.5px,#9fff60 173.5px,#9dff62 177.5px,#8fff70 178.5px,#8fff70 333.5px)"></i><i style="height:4px;background:linear-gradient(90deg,#80ff80 0.5px,#80ff80 155.5px,#70ff8f 157.5px,#70ff8f 160.5px,#55ffaa 163.5px,#40ffbf 164.5px,#12faed 165.5px,#005de8 166.5px,#c4411c 167.5px,#fddf02 168.5px,#daff25 169.5px,#afff50 171.5px,#9fff60 173.5px,#9fff60 177.5px,#90ff6f 178.5px,#8fff70 179.5px,#8fff70 333.5px)"></i><i style="height:4px;background:linear-gradient(90deg,#80ff80 0.5px,#80ff80 155.5px,#71ff8e 156.5px,#70ff8f 160.5px,#60ff9f 162.5px,#3effc1 164.5px,#10faef 165.5px,#005ce8 166.5px,#c33f1c 167.5px,#fddc02 168.5px,#dcff23 169.5px,#afff50 171.5px,#9fff60 173.5px,#9fff60 177.5px,#8fff70 179.5px,#8fff70 333.5px)"></i><i style="height:4px;background:linear-gradient(90deg,#80ff80 0.5px,#80ff80 154.5px,#7eff81 155.5px,#70ff8f 156.5px,#70ff8f 160.5px,#60ff9f 162.5px,#3cffc3 164.5px,#10f9ef 165.5px,#0059e6 166.5px,#c33e1c 167.5px,#fdda02 168.5px,#dcff23 169.5px,#b0ff4f 171.5px,#9fff60 173.5px,#9fff60 177.5px,#8fff70 179.5px,#8fff70 333.5px)"></i><i style="height:4px;background:linear-gradient(90deg,#80ff80 0.5px,#80ff80 154.5px,#70ff8f 156.5px,#70ff8f 160.5px,#60ff9f 162.5px,#3cffc3 164.5px,#0ef8f1 165.5px,#0057e4 166.5px,#be3c1c 167.5px,#ffd800 168.5px,#ddff22 169.5px,#b1ff4e 171.5px,#afff50 172.5px,#9fff60 173.5px,#9fff60 177.5px,#8fff70 179.5px,#8fff70 333.5px)"></i><i style="height:4px;background:linear-gradient(90deg,#80ff80 0.5px,#80ff80 154.5px,#70ff8f 156.5px,#70ff8f 160.5px,#60ff9f 162.5px,#3bffc4 164.5px,#0ef7f1 165.5px,#0055e4 166.5px,#bd391c 167.5px,#ffd700 168.5px,#ddff22 169.5px,#b1ff4e 171.5px,#afff50 172.5px,#9fff60 173.5px,#9fff60 177.5px,#8fff70 179.5px,#8fff70 333.5px)"></i><i style="height:4px;background:linear-gradient(90deg,#80ff80 0.5px,#80ff80 154.5px,#70ff8f 156.5px,#70ff8f 160.5px,#60ff9f 162.5px,#39ffc6 164.5px,#0ef5f1 165.5px,#0051e4 166.5px,#bd381c 167.5px,#ffd600 168.5px,#deff21 169.5px,#b3ff4c 171.5px,#a1ff5e 173.5px,#9fff60 177.5px,#8fff70 179.5px,#8fff70 333.5px)"></i><i style="height:4px;background:linear-gradient(90deg,#80ff80 0.5px,#80ff80 154.5px,#70ff8f 156.5px,#70ff8f 160.5px,#60ff9f 162.5px,#39ffc6 164.5px,#0bf4f4 165.5px,#0051e3 166.5px,#bd351c 167.5px,#ffd600 168.5px,#dfff20 169.5px,#b3ff4c 171.5px,#a1ff5e 173.5px,#9dff62 178.5px,#8fff70 179.5px,#8fff70 333.5px)"></i><i style="height:4px;background:linear-gradient(90deg,#80ff80 0.5px,#80ff80 154.5px,#70ff8f 156.5px,#70ff8f 160.5px,#61ff9e 161.5px,#60ff9f 162.5px,#39ffc6 164.5px,#0bf4f4 165.5px,#0050e1 166.5px,#bc351c 167.5px,#ffd500 168.5px,#dfff20 169.5px,#b3ff4c 171.5px,#a1ff5e 173.5px,#9eff61 178.5px,#8fff70 179.5px,#8fff70 333.5px)"></i><i style="height:4px;background:linear-gradient(90deg,#80ff80 0.5px,#80ff80 154.5px,#70ff8f 156.5px,#70ff8f 160.5px,#61ff9e 161.5px,#60ff9f 162.5px,#39ffc6 164.5px,#0bf4f4 165.5px,#004fe1 166.5px,#ba351c 167.5px,#ffd400 168.5px,#e0ff1f 169.5px,#b3ff4c 171.5px,#a3ff5c 173.5px,#9fff60 178.5px,#8fff70 179.5px,#8fff70 333.5px)"></i><i style="height:4px;background:linear-gradient(90deg,#80ff80 0.5px,#80ff80 154.5px,#73ff8c 155.5px,#70ff8f 160.5px,#61ff9e 161.5px,#60ff9f 162.5px,#38ffc7 164.5px,#0bf4f4 165.5px,#004ee1 166.5px,#b8351c 167.5px,#ffd300 168.5px,#e1ff1e 169.5px,#c5ff3a 170.5px,#b5ff4a 171.5px,#a3ff5c 173.5px,#9fff60 178.5px,#8fff70 179.5px,#8fff70 333.5px)"></i><i style="height:16px;background:linear-gradient(90deg,#80ff80 0.5px,#80ff80 154.5px,#73ff8c 155.5px,#70ff8f 160.5px,#60ff9f 161.5px,#60ff9f 162.5px,#37ffc8 164.5px,#0bf4f4 165.5px,#004ee1 166.5px,#b8351c 167.5px,#ffd300 168.5px,#e1ff1e 169.5px,#c5ff3a 170.5px,#b5ff4a 171.5px,#a3ff5c 173.5px,#9fff60 178.5px,#91ff6e 179.5px,#8fff70 180.5px,#8fff70 333.5px)"></i><i style="height:4px;background:linear-gradient(90deg,#80ff80 0.5px,#80ff80 154.5px,#73ff8c 155.5px,#70ff8f 160.5px,#60ff9f 161.5px,#60ff9f 162.5px,#37ffc8 164.5px,#0bf4f4 165.5px,#004ee1 166.5px,#b8351c 167.5px,#ffd300 168.5px,#e1ff1e 169.5px,#c5ff3a 170.5px,#b5ff4a 171.5px,#a3ff5c 173.5px,#9fff60 178.5px,#90ff6f 179.5px,#8fff70 180.5px,#8fff70 333.5px)"></i><i style="height:4px;background:linear-gradient(90deg,#80ff80 0.5px,#80ff80 154.5px,#73ff8c 155.5px,#70ff8f 160.5px,#61ff9e 161.5px,#60ff9f 162.5px,#39ffc6 164.5px,#0bf4f4 165.5px,#004ee1 166.5px,#b8351c 167.5px,#ffd300 168.5px,#e1ff1e 169.5px,#c5ff3a 170.5px,#b5ff4a 171.5px,#a3ff5c 173.5px,#9fff60 178.5px,#8fff70 179.5px,#8fff70 333.5px)"></i><i style="height:4px;background:linear-gradient(90deg,#80ff80 0.5px,#80ff80 154.5px,#70ff8f 156.5px,#70ff8f 160.5px,#61ff9e 161.5px,#60ff9f 162.5px,#39ffc6 164.5px,#0bf4f4 165.5px,#004fe1 166.5px,#bb351c 167.5px,#ffd400 168.5px,#dfff20 169.5px,#b3ff4c 171.5px,#a3ff5c 173.5px,#9fff60 178.5px,#8fff70 179.5px,#8fff70 333.5px)"></i><i style="height:4px;background:linear-gradient(90deg,#80ff80 0.5px,#80ff80 154.5px,#70ff8f 156.5px,#70ff8f 160.5px,#61ff9e 161.5px,#60ff9f 162.5px,#39ffc6 164.5px,#0bf4f4 165.5px,#0050e1 166.5px,#bc351c 167.5px,#ffd500 168.5px,#dfff20 169.5px,#b3ff4c 171.5px,#a1ff5e 173.5px,#9eff61 178.5px,#8fff70 179.5px,#8fff70 333.5px)"></i><i style="height:4px;background:linear-gradient(90deg,#80ff80 0.5px,#80ff80 154.5px,#70ff8f 156.5px,#70ff8f 160.5px,#60ff9f 162.5px,#39ffc6 164.5px,#0bf4f4 165.5px,#0051e3 166.5px,#bd351c 167.5px,#ffd600 168.5px,#dfff20 169.5px,#c3ff3c 170.5px,#b3ff4c 171.5px,#a1ff5e 173.5px,#9fff60 177.5px,#8fff70 179.5px,#8fff70 333.5px)"></i><i style="height:4px;background:linear-gradient(90deg,#80ff80 0.5px,#80ff80 154.5px,#70ff8f 156.5px,#70ff8f 160.5px,#60ff9f 162.5px,#3affc5 164.5px,#0ef5f1 165.5px,#0052e4 166.5px,#bd381c 167.5px,#ffd600 168.5px,#deff21 169.5px,#b3ff4c 171.5px,#a0ff5f 173.5px,#9fff60 177.5px,#8fff70 179.5px,#8fff70 333.5px)"></i><i style="height:4px;background:linear-gradient(90deg,#80ff80 0.5px,#80ff80 154.5px,#70ff8f 156.5px,#70ff8f 160.5px,#60ff9f 162.5px,#3cffc3 164.5px,#0ef8f1 165.5px,#0056e4 166.5px,#bd3a1c 167.5px,#ffd700 168.5px,#ddff22 169.5px,#b1ff4e 171.5px,#afff50 172.5px,#9fff60 173.5px,#9fff60 177.5px,#8fff70 179.5px,#8fff70 333.5px)"></i><i style="height:4px;background:linear-gradient(90deg,#80ff80 0.5px,#80ff80 154.5px,#70ff8f 156.5px,#70ff8f 160.5px,#60ff9f 162.5px,#3cffc3 164.5px,#0ef8f1 165.5px,#0057e5 166.5px,#bf3d1c 167.5px,#fed801 168.5px,#ddff22 169.5px,#b1ff4e 171.5px,#9fff60 173.5px,#9fff60 177.5px,#8fff70 179.5px,#8fff70 333.5px)"></i><i style="height:2px;background:linear-gradient(90deg,#80ff80 0.5px,#80ff80 154.5px,#7eff81 155.5px,#70ff8f 156.5px,#70ff8f 160.5px,#60ff9f 162.5px,#3cffc3 164.5px,#10faef 165.5px,#0059e6 166.5px,#c33e1c 167.5px,#fdda02 168.5px,#dcff23 169.5px,#b1ff4e 171.5px,#9fff60 173.5px,#9fff60 177.5px,#8fff70 179.5px,#8fff70 333.5px)"></i></div>
<div class="hm" style="left:656px;top:552px;width:336px;height:335px"><i style="height:4px;background:linear-gradient(90deg,#9fff60 0.5px,#a0ff5f 64.5px,#afff50 66.5px,#b0ff4f 97.5px,#bfff40 99.5px,#bfff40 113.5px,#cfff30 115.5px,#cfff30 123.5px,#dfff20 125.5px,#dfff20 130.5px,#efff10 132.5px,#efff10 135.5px,#ffff00 137.5px,#ffff00 139.5px,#ffdf00 145.5px,#ff9c00 152.5px,#ff6f00 155.5px,#ff1800 159.5px,#f90100 160.5px,#da0000 161.5px,#970000 163.5px,#800000 164.5px,#800000 165.5px,#a50000 166.5px,#fa2900 167.5px,#e3de1c 168.5px,#1ddfe2 169.5px,#002cfa 170.5px,#0000b0 171.5px,#00008f 172.5px,#000091 173.5px,#0000a9 174.5px,#0000ec 176.5px,#000cff 177.5px,#0059ff 180.5px,#00adff 185.5px,#00dfff 190.5px,#00ffff 195.5px,#10ffef 198.5px,#10ffef 200.5px,#20ffdf 202.5px,#20ffdf 205.5px,#30ffcf 207.5px,#30ffcf 212.5px,#40ffbf 214.5px,#40ffbf 222.5px,#50ffaf 224.5px,#50ffaf 238.5px,#5fffa0 240.5px,#60ff9f 271.5px,#6fff90 273.5px,#70ff8f 335.5px)"></i><i style="height:4px;background:linear-gradient(90deg,#9fff60 0.5px,#9fff60 65.5px,#afff50 68.5px,#afff50 97.5px,#bfff40 100.5px,#bfff40 114.5px,#cfff30 116.5px,#cfff30 124.5px,#dfff20 126.5px,#dfff20 131.5px,#edff12 132.5px,#efff10 136.5px,#fdff02 137.5px,#ffff00 139.5px,#fffd00 140.5px,#ffef00 141.5px,#ffee00 143.5px,#ffdf00 144.5px,#ffdf00 145.5px,#ffab00 151.5px,#ff7300 155.5px,#ff1b00 159.5px,#fb0400 160.5px,#df0000 161.5px,#840000 164.5px,#810000 165.5px,#aa0000 166.5px,#fa2b00 167.5px,#e1df1e 168.5px,#1edfe1 169.5px,#002efa 170.5px,#0000b6 171.5px,#000090 172.5px,#000095 173.5px,#0000f1 176.5px,#0011ff 177.5px,#0072ff 181.5px,#00afff 185.5px,#00feff 194.5px,#13ffec 200.5px,#20ffdf 201.5px,#23ffdc 205.5px,#30ffcf 206.5px,#30ffcf 211.5px,#40ffbf 213.5px,#40ffbf 221.5px,#50ffaf 223.5px,#50ffaf 237.5px,#5fffa0 239.5px,#60ff9f 269.5px,#70ff8f 272.5px,#70ff8f 335.5px)"></i><i style="height:4px;background:linear-gradient(90deg,#9fff60 0.5px,#9fff60 66.5px,#afff50 69.5px,#afff50 98.5px,#bfff40 101.5px,#c0ff3f 115.5px,#cfff30 117.5px,#d1ff2e 125.5px,#deff21 126.5px,#dfff20 131.5px,#efff10 133.5px,#efff10 136.5px,#ffff00 138.5px,#ffff00 140.5px,#ffdc00 146.5px,#ffaf00 151.5px,#ff6500 156.5px,#fe0600 160.5px,#e50000 161.5px,#8a0000 164.5px,#850000 165.5px,#ae0000 166.5px,#fa2d00 167.5px,#e1df1e 168.5px,#1ee0e1 169.5px,#0033fd 170.5px,#0000bb 171.5px,#000093 172.5px,#00009b 173.5px,#0000f7 176.5px,#0017ff 177.5px,#0063ff 180.5px,#00a5ff 184.5px,#00ddff 189.5px,#00ffff 194.5px,#10ffef 197.5px,#10ffef 199.5px,#20ffdf 201.5px,#20ffdf 204.5px,#30ffcf 206.5px,#32ffcd 211.5px,#3fffc0 212.5px,#40ffbf 220.5px,#50ffaf 222.5px,#50ffaf 236.5px,#5fffa0 238.5px,#60ff9f 267.5px,#70ff8f 271.5px,#70ff8f 335.5px)"></i><i style="height:4px;background:linear-gradient(90deg,#9fff60 0.5px,#9fff60 68.5px,#afff50 71.5px,#b0ff4f 100.5px,#bfff40 102.5px,#bfff40 115.5px,#cfff30 118.5px,#cfff30 125.5px,#dfff20 127.5px,#dfff20 132.5px,#efff10 134.5px,#efff10 137.5px,#fdff02 138.5px,#ffff00 140.5px,#ffdf00 146.5px,#ffbd00 150.5px,#ff9900 153.5px,#ff5600 157.5px,#ff0b00 160.5px,#ec0000 161.5px,#930000 164.5px,#8e0000 165.5px,#b60000 166.5px,#fb2f00 167.5px,#e1e01e 168.5px,#1ee2e1 169.5px,#0035fd 170.5px,#0000c0 171.5px,#00009e 172.5px,#0000a4 173.5px,#0003fa 176.5px,#0067ff 180.5px,#00aaff 184.5px,#00dfff 189.5px,#00ffff 194.5px,#00ffff 195.5px,#0efff1 196.5px,#13ffec 199.5px,#20ffdf 200.5px,#20ffdf 203.5px,#30ffcf 205.5px,#30ffcf 210.5px,#40ffbf 212.5px,#40ffbf 219.5px,#50ffaf 222.5px,#50ffaf 235.5px,#5fffa0 237.5px,#60ff9f 266.5px,#70ff8f 269.5px,#70ff8f 335.5px)"></i><i style="height:4px;background:linear-gradient(90deg,#9fff60 0.5px,#9fff60 70.5px,#afff50 73.5px,#afff50 101.5px,#bfff40 103.5px,#bfff40 116.5px,#cfff30 119.5px,#cfff30 126.5px,#dfff20 128.5px,#e1ff1e 133.5px,#eeff11 134.5px,#efff10 137.5px,#ffff00 139.5px,#ffff00 141.5px,#ffd800 147.5px,#ff9e00 153.5px,#ff6e00 156.5px,#ff4600 158.5px,#ff1200 160.5px,#f30000 161.5px,#990000 164.5px,#930000 165.5px,#bb0000 166.5px,#fd3500 167.5px,#e1e11e 168.5px,#20e3df 169.5px,#0036fe 170.5px,#0000c7 171.5px,#0000a2 172.5px,#0000aa 173.5px,#0007fe 176.5px,#0057ff 179.5px,#00aeff 184.5px,#00d9ff 188.5px,#00ffff 193.5px,#10ffef 196.5px,#10ffef 198.5px,#20ffdf 200.5px,#21ffde 203.5px,#2effd1 204.5px,#30ffcf 209.5px,#40ffbf 211.5px,#40ffbf 218.5px,#50ffaf 221.5px,#50ffaf 234.5px,#60ff9f 236.5px,#60ff9f 264.5px,#70ff8f 267.5px,#70ff8f 335.5px)"></i><i style="height:4px;background:linear-gradient(90deg,#9fff60 0.5px,#9fff60 72.5px,#afff50 75.5px,#afff50 102.5px,#bfff40 105.5px,#bfff40 117.5px,#cfff30 120.5px,#cfff30 127.5px,#dfff20 129.5px,#dfff20 133.5px,#efff10 135.5px,#efff10 138.5px,#ffff00 141.5px,#ffde00 147.5px,#ffaf00 152.5px,#ff7400 156.5px,#ff1900 160.5px,#f90100 161.5px,#da0000 162.5px,#a30000 164.5px,#9d0000 165.5px,#c20000 166.5px,#fd3600 167.5px,#dfe320 168.5px,#20e4df 169.5px,#003dff 170.5px,#0000ce 171.5px,#0000ad 172.5px,#0000b4 173.5px,#0000ec 175.5px,#000dff 176.5px,#0046ff 178.5px,#0073ff 180.5px,#00a4ff 183.5px,#00dfff 188.5px,#00ffff 193.5px,#20ffdf 199.5px,#20ffdf 202.5px,#30ffcf 204.5px,#30ffcf 208.5px,#40ffbf 210.5px,#40ffbf 217.5px,#50ffaf 220.5px,#50ffaf 232.5px,#60ff9f 235.5px,#60ff9f 262.5px,#70ff8f 265.5px,#70ff8f 335.5px)"></i><i style="height:4px;background:linear-gradient(90deg,#9fff60 0.5px,#9fff60 74.5px,#afff50 77.5px,#afff50 103.5px,#bfff40 106.5px,#bfff40 118.5px,#cfff30 121.5px,#d0ff2f 128.5px,#dfff20 130.5px,#dfff20 134.5px,#efff10 136.5px,#f1ff0e 139.5px,#feff01 140.5px,#ffff00 142.5px,#ffbf00 151.5px,#ff9900 154.5px,#ff5300 158.5px,#fd0500 161.5px,#e30000 162.5px,#ab0000 164.5px,#a30000 165.5px,#c90000 166.5px,#fe3900 167.5px,#dfe420 168.5px,#20e6df 169.5px,#0042ff 170.5px,#0000d5 171.5px,#0000b2 172.5px,#0000bc 173.5px,#0000f5 175.5px,#0015ff 176.5px,#0064ff 179.5px,#009bff 182.5px,#00cfff 186.5px,#00ffff 192.5px,#11ffee 197.5px,#1fffe0 198.5px,#20ffdf 201.5px,#30ffcf 203.5px,#30ffcf 207.5px,#3fffc0 209.5px,#40ffbf 216.5px,#50ffaf 219.5px,#50ffaf 231.5px,#60ff9f 234.5px,#60ff9f 260.5px,#70ff8f 263.5px,#70ff8f 335.5px)"></i><i style="height:4px;background:linear-gradient(90deg,#9fff60 0.5px,#9fff60 76.5px,#afff50 79.5px,#afff50 105.5px,#bfff40 108.5px,#bfff40 119.5px,#cfff30 122.5px,#d0ff2f 129.5px,#dcff23 130.5px,#e0ff1f 135.5px,#ecff13 136.5px,#fffe00 143.5px,#fff100 144.5px,#ffde00 148.5px,#ffac00 153.5px,#ff5900 158.5px,#ff0c00 161.5px,#ec0000 162.5px,#b50000 164.5px,#af0000 165.5px,#d10000 166.5px,#ff4200 167.5px,#dfe620 168.5px,#20e6df 169.5px,#0045ff 170.5px,#0000dd 171.5px,#0000bf 172.5px,#0000c6 173.5px,#0003fa 175.5px,#0054ff 178.5px,#00a1ff 182.5px,#00deff 187.5px,#00ffff 192.5px,#20ffdf 198.5px,#24ffdb 201.5px,#30ffcf 202.5px,#30ffcf 206.5px,#3fffc0 208.5px,#40ffbf 215.5px,#4fffb0 217.5px,#50ffaf 229.5px,#60ff9f 232.5px,#60ff9f 257.5px,#70ff8f 261.5px,#70ff8f 335.5px)"></i><i style="height:4px;background:linear-gradient(90deg,#9fff60 0.5px,#9fff60 78.5px,#afff50 82.5px,#afff50 106.5px,#bfff40 109.5px,#bfff40 121.5px,#cfff30 123.5px,#d1ff2e 130.5px,#dcff23 131.5px,#e1ff1e 136.5px,#edff12 137.5px,#efff10 140.5px,#ffff00 143.5px,#ffbd00 152.5px,#ff7500 157.5px,#ff1500 161.5px,#f50000 162.5px,#d70000 163.5px,#bf0000 164.5px,#b80000 165.5px,#da0000 166.5px,#ff4400 167.5px,#dfe620 168.5px,#23e8dc 169.5px,#004eff 170.5px,#0000e5 171.5px,#0000c8 172.5px,#0000d0 173.5px,#0000e9 174.5px,#0009ff 175.5px,#0072ff 179.5px,#00a7ff 182.5px,#00ceff 185.5px,#00ffff 191.5px,#20ffdf 197.5px,#22ffdd 200.5px,#2fffd0 201.5px,#30ffcf 205.5px,#3fffc0 207.5px,#40ffbf 214.5px,#50ffaf 216.5px,#50ffaf 228.5px,#60ff9f 231.5px,#60ff9f 255.5px,#70ff8f 259.5px,#70ff8f 335.5px)"></i><i style="height:3px;background:linear-gradient(90deg,#95ff6a 0.5px,#9fff60 3.5px,#9fff60 80.5px,#afff50 84.5px,#afff50 108.5px,#bfff40 110.5px,#bfff40 122.5px,#cfff30 124.5px,#d1ff2e 131.5px,#deff21 132.5px,#dfff20 136.5px,#efff10 138.5px,#f0ff0f 141.5px,#fdff02 142.5px,#ffff00 144.5px,#ffdf00 149.5px,#ffa900 154.5px,#ff6700 158.5px,#ff1d00 161.5px,#fb0300 162.5px,#e10000 163.5px,#c80000 164.5px,#c00000 165.5px,#e10000 166.5px,#ff4c00 167.5px,#dee721 168.5px,#23eadc 169.5px,#0051ff 170.5px,#0002ed 171.5px,#0000d0 172.5px,#0000d9 173.5px,#0000f3 174.5px,#0011ff 175.5px,#0063ff 178.5px,#00adff 182.5px,#00ddff 186.5px,#00ffff 191.5px,#10ffef 193.5px,#12ffed 195.5px,#1fffe0 196.5px,#20ffdf 199.5px,#30ffcf 201.5px,#32ffcd 205.5px,#3effc1 206.5px,#40ffbf 213.5px,#50ffaf 215.5px,#51ffae 227.5px,#60ff9f 229.5px,#60ff9f 253.5px,#70ff8f 257.5px,#72ff8d 335.5px)"></i><i style="height:3px;background:linear-gradient(90deg,#8fff70 0.5px,#9fff60 7.5px,#9fff60 82.5px,#afff50 86.5px,#afff50 109.5px,#bfff40 112.5px,#bfff40 123.5px,#cfff30 125.5px,#cfff30 131.5px,#dfff20 133.5px,#dfff20 137.5px,#efff10 139.5px,#efff10 141.5px,#ffff00 144.5px,#ffcf00 151.5px,#ffaf00 154.5px,#ff8100 157.5px,#ff5800 159.5px,#ff0700 162.5px,#e90000 163.5px,#d10000 164.5px,#ca0000 165.5px,#e70100 166.5px,#ff5000 167.5px,#ddea22 168.5px,#23eadc 169.5px,#0056ff 170.5px,#0003f1 171.5px,#0000d9 172.5px,#0000e2 173.5px,#0001f9 174.5px,#0068ff 178.5px,#00a2ff 181.5px,#00ccff 184.5px,#00ffff 190.5px,#20ffdf 196.5px,#20ffdf 198.5px,#30ffcf 200.5px,#30ffcf 204.5px,#40ffbf 206.5px,#40ffbf 212.5px,#50ffaf 214.5px,#50ffaf 225.5px,#60ff9f 228.5px,#60ff9f 251.5px,#70ff8f 255.5px,#70ff8f 330.5px,#80ff80 335.5px)"></i><i style="height:3px;background:linear-gradient(90deg,#8fff70 0.5px,#8fff70 6.5px,#9fff60 11.5px,#9fff60 84.5px,#afff50 88.5px,#afff50 110.5px,#bfff40 113.5px,#bfff40 124.5px,#cfff30 126.5px,#cfff30 132.5px,#dfff20 134.5px,#e0ff1f 138.5px,#ecff13 139.5px,#efff10 142.5px,#fbff04 143.5px,#ffff00 145.5px,#ffde00 150.5px,#ffa500 155.5px,#ff7400 158.5px,#ff0f00 162.5px,#f20000 163.5px,#d90000 164.5px,#d00000 165.5px,#ee0200 166.5px,#ff5400 167.5px,#dcea23 168.5px,#24ecdb 169.5px,#005eff 170.5px,#0006f7 171.5px,#0000e0 172.5px,#0006fe 174.5px,#006fff 178.5px,#00a8ff 181.5px,#00eeff 187.5px,#00ffff 190.5px,#20ffdf 195.5px,#24ffdb 198.5px,#30ffcf 199.5px,#30ffcf 203.5px,#40ffbf 205.5px,#40ffbf 211.5px,#50ffaf 213.5px,#50ffaf 224.5px,#5fffa0 226.5px,#60ff9f 249.5px,#70ff8f 253.5px,#70ff8f 326.5px,#80ff80 331.5px,#80ff80 335.5px)"></i><i style="height:3px;background:linear-gradient(90deg,#8fff70 0.5px,#8fff70 10.5px,#9fff60 15.5px,#9fff60 86.5px,#afff50 90.5px,#afff50 112.5px,#bfff40 114.5px,#bfff40 125.5px,#cfff30 127.5px,#cfff30 133.5px,#dfff20 135.5px,#e1ff1e 139.5px,#eeff11 140.5px,#fffe00 146.5px,#ffcf00 152.5px,#ffab00 155.5px,#ff6600 159.5px,#ff1800 162.5px,#f90100 163.5px,#e30000 164.5px,#dc0000 165.5px,#f30400 166.5px,#ff5b00 167.5px,#dceb23 168.5px,#25eeda 169.5px,#0062ff 170.5px,#0009fb 171.5px,#0000ec 172.5px,#0000f4 173.5px,#000cff 174.5px,#0077ff 178.5px,#00adff 181.5px,#00dfff 185.5px,#00ffff 189.5px,#01fffe 190.5px,#0ffff0 191.5px,#11ffee 193.5px,#1effe1 194.5px,#21ffde 197.5px,#2effd1 198.5px,#30ffcf 202.5px,#40ffbf 204.5px,#40ffbf 210.5px,#50ffaf 212.5px,#50ffaf 223.5px,#60ff9f 225.5px,#60ff9f 247.5px,#70ff8f 251.5px,#70ff8f 322.5px,#80ff80 327.5px,#80ff80 335.5px)"></i><i style="height:3px;background:linear-gradient(90deg,#8fff70 0.5px,#8fff70 14.5px,#9fff60 19.5px,#9fff60 88.5px,#afff50 92.5px,#afff50 113.5px,#bfff40 116.5px,#bfff40 126.5px,#cfff30 128.5px,#cfff30 134.5px,#dfff20 136.5px,#dfff20 139.5px,#efff10 141.5px,#efff10 143.5px,#ffff00 146.5px,#ffdd00 151.5px,#ffa200 156.5px,#ff5600 160.5px,#fe0600 163.5px,#ec0000 164.5px,#e10000 165.5px,#f90700 166.5px,#ff6000 167.5px,#dbed24 168.5px,#25efda 169.5px,#0066ff 170.5px,#000eff 171.5px,#0000f1 172.5px,#0001fc 173.5px,#0067ff 177.5px,#00a4ff 180.5px,#00ceff 183.5px,#00feff 188.5px,#20ffdf 194.5px,#20ffdf 196.5px,#30ffcf 198.5px,#30ffcf 201.5px,#40ffbf 203.5px,#40ffbf 209.5px,#50ffaf 211.5px,#50ffaf 221.5px,#60ff9f 224.5px,#60ff9f 245.5px,#70ff8f 249.5px,#70ff8f 318.5px,#80ff80 323.5px,#80ff80 335.5px)"></i><i style="height:3px;background:linear-gradient(90deg,#8fff70 0.5px,#8fff70 18.5px,#9fff60 24.5px,#9fff60 90.5px,#afff50 94.5px,#b0ff4f 115.5px,#bfff40 117.5px,#bfff40 127.5px,#cfff30 129.5px,#d0ff2f 135.5px,#dfff20 137.5px,#dfff20 140.5px,#efff10 142.5px,#efff10 144.5px,#fbff04 145.5px,#ffff00 147.5px,#ffce00 153.5px,#ffa800 156.5px,#ff7400 159.5px,#ff0e00 163.5px,#f60000 164.5px,#ef0000 165.5px,#fd0b00 166.5px,#ff6400 167.5px,#daef25 168.5px,#25f0da 169.5px,#006fff 170.5px,#0015ff 171.5px,#0000ff 172.5px,#0007ff 173.5px,#006eff 177.5px,#00aaff 180.5px,#00dfff 184.5px,#00ffff 188.5px,#20ffdf 193.5px,#20ffdf 195.5px,#30ffcf 197.5px,#30ffcf 200.5px,#40ffbf 202.5px,#40ffbf 208.5px,#50ffaf 210.5px,#50ffaf 220.5px,#5fffa0 222.5px,#60ff9f 243.5px,#70ff8f 247.5px,#70ff8f 314.5px,#80ff80 319.5px,#80ff80 335.5px)"></i><i style="height:3px;background:linear-gradient(90deg,#8fff70 0.5px,#8fff70 22.5px,#9fff60 28.5px,#9fff60 92.5px,#afff50 96.5px,#afff50 116.5px,#bfff40 119.5px,#bfff40 128.5px,#ceff31 130.5px,#d0ff2f 136.5px,#dcff23 137.5px,#dfff20 141.5px,#ebff14 142.5px,#f1ff0e 145.5px,#feff01 146.5px,#ffff00 147.5px,#ffee00 150.5px,#ffbc00 155.5px,#ff6600 160.5px,#fe0200 164.5px,#f80000 165.5px,#ff1200 166.5px,#ff6d00 167.5px,#daf025 168.5px,#26f2d9 169.5px,#0074ff 170.5px,#001fff 171.5px,#0008ff 172.5px,#0013ff 173.5px,#0077ff 177.5px,#00b0ff 180.5px,#00cdff 182.5px,#00ffff 187.5px,#11ffee 191.5px,#1effe1 192.5px,#20ffdf 194.5px,#30ffcf 196.5px,#30ffcf 199.5px,#3fffc0 201.5px,#41ffbe 207.5px,#50ffaf 209.5px,#50ffaf 218.5px,#60ff9f 221.5px,#60ff9f 241.5px,#6fff90 244.5px,#70ff8f 309.5px,#80ff80 315.5px,#80ff80 335.5px)"></i><i style="height:3px;background:linear-gradient(90deg,#8fff70 0.5px,#8fff70 27.5px,#9fff60 32.5px,#9fff60 95.5px,#afff50 98.5px,#b0ff4f 118.5px,#bfff40 120.5px,#bfff40 129.5px,#cfff30 132.5px,#d0ff2f 137.5px,#dcff23 138.5px,#e0ff1f 142.5px,#edff12 143.5px,#ffff00 148.5px,#ffce00 154.5px,#ffa600 157.5px,#ff6e00 160.5px,#ff0c00 164.5px,#ff0100 165.5px,#ff1b00 166.5px,#ff7300 167.5px,#daf125 168.5px,#27f4d8 169.5px,#0079ff 170.5px,#0028ff 171.5px,#0011ff 172.5px,#001dff 173.5px,#007fff 177.5px,#00b7ff 180.5px,#00dfff 183.5px,#00ffff 187.5px,#1cffe3 191.5px,#23ffdc 194.5px,#2fffd0 195.5px,#30ffcf 198.5px,#3fffc0 200.5px,#40ffbf 205.5px,#50ffaf 208.5px,#50ffaf 217.5px,#5fffa0 219.5px,#60ff9f 239.5px,#70ff8f 242.5px,#70ff8f 305.5px,#80ff80 310.5px,#80ff80 335.5px)"></i><i style="height:3px;background:linear-gradient(90deg,#8fff70 0.5px,#8fff70 31.5px,#9fff60 37.5px,#9fff60 97.5px,#afff50 101.5px,#afff50 119.5px,#bfff40 122.5px,#bfff40 130.5px,#cfff30 133.5px,#d0ff2f 138.5px,#dcff23 139.5px,#e2ff1d 143.5px,#eeff11 144.5px,#fffe00 149.5px,#ffde00 153.5px,#ffad00 157.5px,#ff7700 160.5px,#ff1700 164.5px,#ff0f00 165.5px,#ff2400 166.5px,#ff7700 167.5px,#d8f327 168.5px,#2af4d5 169.5px,#0083ff 170.5px,#0031ff 171.5px,#001fff 172.5px,#0028ff 173.5px,#0088ff 177.5px,#00aeff 179.5px,#00d8ff 182.5px,#00ffff 186.5px,#20ffdf 191.5px,#21ffde 193.5px,#2effd1 194.5px,#30ffcf 197.5px,#3fffc0 199.5px,#40ffbf 204.5px,#4fffb0 206.5px,#50ffaf 215.5px,#60ff9f 218.5px,#60ff9f 236.5px,#70ff8f 240.5px,#70ff8f 300.5px,#80ff80 306.5px,#80ff80 335.5px)"></i><i style="height:3px;background:linear-gradient(90deg,#8fff70 0.5px,#8fff70 36.5px,#9fff60 42.5px,#9fff60 99.5px,#afff50 103.5px,#b0ff4f 121.5px,#beff41 123.5px,#bfff40 132.5px,#cfff30 134.5px,#d0ff2f 139.5px,#dcff23 140.5px,#dfff20 143.5px,#ffff00 149.5px,#ffed00 152.5px,#ffb300 157.5px,#ff7f00 160.5px,#ff2200 164.5px,#ff1900 165.5px,#ff2e00 166.5px,#ff8100 167.5px,#d8f427 168.5px,#2af5d4 169.5px,#0088ff 170.5px,#003cff 171.5px,#0029ff 172.5px,#0033ff 173.5px,#0090ff 177.5px,#00b6ff 179.5px,#00eaff 183.5px,#01fffe 186.5px,#20ffdf 190.5px,#30ffcf 196.5px,#3fffc0 198.5px,#40ffbf 203.5px,#50ffaf 205.5px,#51ffae 214.5px,#60ff9f 216.5px,#60ff9f 234.5px,#70ff8f 238.5px,#70ff8f 295.5px,#80ff80 301.5px,#80ff80 335.5px)"></i><i style="height:3px;background:linear-gradient(90deg,#8fff70 0.5px,#90ff6f 41.5px,#9fff60 47.5px,#9fff60 102.5px,#afff50 105.5px,#afff50 122.5px,#bfff40 125.5px,#bfff40 133.5px,#ceff31 135.5px,#d0ff2f 140.5px,#dbff24 141.5px,#dfff20 144.5px,#ffff00 150.5px,#ffdf00 154.5px,#ffbc00 157.5px,#ff8800 160.5px,#ff2e00 164.5px,#ff2300 165.5px,#ff3900 166.5px,#ff8700 167.5px,#d6f429 168.5px,#2bf8d4 169.5px,#0090ff 170.5px,#0046ff 171.5px,#0033ff 172.5px,#003fff 173.5px,#0085ff 176.5px,#00cdff 180.5px,#00ffff 185.5px,#1fffe0 189.5px,#30ffcf 195.5px,#3fffc0 197.5px,#41ffbe 202.5px,#50ffaf 204.5px,#50ffaf 212.5px,#60ff9f 215.5px,#60ff9f 232.5px,#70ff8f 235.5px,#70ff8f 290.5px,#80ff80 296.5px,#80ff80 335.5px)"></i><i style="height:3px;background:linear-gradient(90deg,#8fff70 0.5px,#8fff70 45.5px,#9fff60 52.5px,#9fff60 104.5px,#afff50 108.5px,#afff50 124.5px,#bfff40 127.5px,#bfff40 134.5px,#cfff30 137.5px,#d0ff2f 141.5px,#ffff00 151.5px,#ffdc00 155.5px,#ffb400 158.5px,#ff9200 160.5px,#ff3a00 164.5px,#ff3000 165.5px,#ff4300 166.5px,#ff8e00 167.5px,#d4f72a 168.5px,#2dfad2 169.5px,#0099ff 170.5px,#0051ff 171.5px,#0040ff 172.5px,#004aff 173.5px,#00b5ff 178.5px,#00edff 182.5px,#00ffff 184.5px,#1dffe2 188.5px,#20ffdf 190.5px,#30ffcf 192.5px,#30ffcf 194.5px,#40ffbf 196.5px,#40ffbf 200.5px,#50ffaf 203.5px,#50ffaf 210.5px,#60ff9f 213.5px,#60ff9f 229.5px,#70ff8f 233.5px,#70ff8f 286.5px,#80ff80 292.5px,#80ff80 335.5px)"></i><i style="height:3px;background:linear-gradient(90deg,#8fff70 0.5px,#8fff70 50.5px,#9fff60 57.5px,#a0ff5f 107.5px,#afff50 110.5px,#b0ff4f 126.5px,#beff41 128.5px,#c0ff3f 136.5px,#cfff30 138.5px,#cfff30 142.5px,#dfff20 144.5px,#dfff20 146.5px,#ffff00 151.5px,#ffed00 154.5px,#ffcb00 157.5px,#ff9b00 160.5px,#ff4600 164.5px,#ff3e00 165.5px,#ff4e00 166.5px,#ff9800 167.5px,#d4fa2a 168.5px,#30facf 169.5px,#009fff 170.5px,#005cff 171.5px,#004eff 172.5px,#0057ff 173.5px,#00ceff 179.5px,#00fdff 183.5px,#02fffd 184.5px,#0ffff0 185.5px,#30ffcf 191.5px,#30ffcf 193.5px,#40ffbf 195.5px,#40ffbf 199.5px,#4fffb0 201.5px,#50ffaf 208.5px,#60ff9f 211.5px,#60ff9f 227.5px,#70ff8f 230.5px,#70ff8f 280.5px,#80ff80 287.5px,#80ff80 335.5px)"></i><i style="height:3px;background:linear-gradient(90deg,#8fff70 0.5px,#8fff70 55.5px,#9fff60 62.5px,#9fff60 109.5px,#afff50 113.5px,#afff50 127.5px,#bfff40 130.5px,#bfff40 137.5px,#ceff31 139.5px,#cfff30 143.5px,#dfff20 145.5px,#dfff20 147.5px,#ffff00 152.5px,#ffe800 155.5px,#ffc500 158.5px,#ffa500 160.5px,#ff5300 164.5px,#ff4a00 165.5px,#ff5a00 166.5px,#ff9e00 167.5px,#d3fa2c 168.5px,#33fccc 169.5px,#00a9ff 170.5px,#0068ff 171.5px,#005aff 172.5px,#0064ff 173.5px,#00c7ff 178.5px,#00efff 181.5px,#01fffe 183.5px,#30ffcf 190.5px,#30ffcf 192.5px,#40ffbf 194.5px,#41ffbe 198.5px,#50ffaf 200.5px,#50ffaf 207.5px,#5fffa0 209.5px,#60ff9f 224.5px,#70ff8f 228.5px,#70ff8f 275.5px,#80ff80 282.5px,#80ff80 335.5px)"></i><i style="height:3px;background:linear-gradient(90deg,#8fff70 0.5px,#8fff70 60.5px,#9fff60 67.5px,#9fff60 112.5px,#aeff51 115.5px,#afff50 129.5px,#bfff40 132.5px,#c1ff3e 139.5px,#cfff30 141.5px,#cfff30 144.5px,#dfff20 146.5px,#dfff20 148.5px,#ffff00 153.5px,#ffce00 158.5px,#ff6100 164.5px,#ff5600 165.5px,#ff6700 166.5px,#ffa800 167.5px,#cffb30 168.5px,#33fdcc 169.5px,#00b1ff 170.5px,#0074ff 171.5px,#0067ff 172.5px,#0071ff 173.5px,#00d0ff 178.5px,#00ffff 182.5px,#30ffcf 189.5px,#31ffce 191.5px,#40ffbf 193.5px,#40ffbf 196.5px,#4effb1 198.5px,#50ffaf 205.5px,#60ff9f 208.5px,#61ff9e 222.5px,#70ff8f 225.5px,#70ff8f 270.5px,#80ff80 276.5px,#80ff80 335.5px)"></i><i style="height:3px;background:linear-gradient(90deg,#8fff70 0.5px,#8fff70 66.5px,#9fff60 72.5px,#a0ff5f 115.5px,#afff50 118.5px,#afff50 131.5px,#bfff40 134.5px,#bfff40 140.5px,#ceff31 142.5px,#cfff30 145.5px,#ddff22 147.5px,#dfff20 149.5px,#ffff00 154.5px,#ffc900 159.5px,#ff6e00 164.5px,#ff6400 165.5px,#ff7300 166.5px,#ffb000 167.5px,#cdfd32 168.5px,#35fdca 169.5px,#00bbff 170.5px,#0080ff 171.5px,#0074ff 172.5px,#00daff 178.5px,#00feff 181.5px,#30ffcf 188.5px,#40ffbf 192.5px,#41ffbe 195.5px,#50ffaf 197.5px,#50ffaf 203.5px,#60ff9f 206.5px,#60ff9f 219.5px,#6fff90 222.5px,#70ff8f 265.5px,#80ff80 271.5px,#80ff80 335.5px)"></i><i style="height:3px;background:linear-gradient(90deg,#8fff70 0.5px,#8fff70 71.5px,#9fff60 78.5px,#9fff60 117.5px,#afff50 121.5px,#afff50 133.5px,#bfff40 136.5px,#c1ff3e 142.5px,#cfff30 144.5px,#d1ff2e 147.5px,#ffff00 155.5px,#ffd200 159.5px,#ff7c00 164.5px,#ff7200 165.5px,#ff7f00 166.5px,#ffba00 167.5px,#cdfd32 168.5px,#3cffc3 169.5px,#00c4ff 170.5px,#008eff 171.5px,#0082ff 172.5px,#00fcff 180.5px,#30ffcf 187.5px,#3fffc0 190.5px,#40ffbf 193.5px,#4effb1 195.5px,#50ffaf 201.5px,#60ff9f 204.5px,#60ff9f 216.5px,#70ff8f 220.5px,#70ff8f 259.5px,#80ff80 266.5px,#80ff80 335.5px)"></i><i style="height:3px;background:linear-gradient(90deg,#8fff70 0.5px,#8fff70 77.5px,#9fff60 83.5px,#9fff60 120.5px,#afff50 124.5px,#afff50 135.5px,#bfff40 138.5px,#bfff40 143.5px,#ceff31 145.5px,#cfff30 148.5px,#fbff04 155.5px,#fffe00 156.5px,#ffdd00 159.5px,#ff8000 165.5px,#ff8d00 166.5px,#ffc400 167.5px,#ccff33 168.5px,#40ffbf 169.5px,#00cfff 170.5px,#009bff 171.5px,#0090ff 172.5px,#00edff 178.5px,#03fffc 180.5px,#2cffd3 185.5px,#40ffbf 189.5px,#41ffbe 192.5px,#50ffaf 194.5px,#50ffaf 199.5px,#60ff9f 202.5px,#60ff9f 213.5px,#70ff8f 217.5px,#70ff8f 254.5px,#80ff80 260.5px,#80ff80 335.5px)"></i><i style="height:3px;background:linear-gradient(90deg,#8fff70 0.5px,#8fff70 82.5px,#9fff60 89.5px,#9fff60 123.5px,#afff50 127.5px,#afff50 137.5px,#bfff40 140.5px,#c1ff3e 145.5px,#e2ff1d 153.5px,#fffd00 157.5px,#ff9000 165.5px,#ff9b00 166.5px,#ffce00 167.5px,#c8ff37 168.5px,#42ffbd 169.5px,#00d9ff 170.5px,#00a9ff 171.5px,#00a0ff 172.5px,#00ebff 177.5px,#02fffd 179.5px,#2dffd2 184.5px,#40ffbf 188.5px,#40ffbf 190.5px,#4effb1 192.5px,#50ffaf 197.5px,#60ff9f 200.5px,#60ff9f 210.5px,#70ff8f 214.5px,#70ff8f 248.5px,#80ff80 255.5px,#80ff80 335.5px)"></i><i style="height:3px;background:linear-gradient(90deg,#8fff70 0.5px,#8fff70 88.5px,#9fff60 95.5px,#9fff60 126.5px,#afff50 130.5px,#afff50 139.5px,#bfff40 142.5px,#bfff40 146.5px,#e1ff1e 154.5px,#fbff04 157.5px,#fffc00 158.5px,#ffa000 165.5px,#ffa900 166.5px,#ffd900 167.5px,#c3ff3c 168.5px,#45ffba 169.5px,#01e4fe 170.5px,#00b7ff 171.5px,#00b0ff 172.5px,#00b9ff 173.5px,#02fffd 178.5px,#2effd1 183.5px,#50ffaf 191.5px,#50ffaf 195.5px,#60ff9f 198.5px,#60ff9f 207.5px,#70ff8f 211.5px,#70ff8f 242.5px,#80ff80 249.5px,#80ff80 335.5px)"></i><i style="height:2px;background:linear-gradient(90deg,#8fff70 0.5px,#8fff70 94.5px,#9fff60 99.5px,#9fff60 129.5px,#afff50 132.5px,#afff50 141.5px,#bdff42 143.5px,#c0ff3f 148.5px,#cbff34 149.5px,#cfff30 152.5px,#e1ff1e 155.5px,#fdff02 158.5px,#fffb00 159.5px,#ffb400 164.5px,#ffaf00 165.5px,#ffb600 166.5px,#ffe100 167.5px,#bfff40 168.5px,#49ffb6 169.5px,#02ecfd 170.5px,#00c4ff 171.5px,#00bfff 172.5px,#00c6ff 173.5px,#00ffff 177.5px,#2fffd0 182.5px,#3fffc0 185.5px,#40ffbf 187.5px,#4fffb0 189.5px,#50ffaf 193.5px,#60ff9f 196.5px,#60ff9f 205.5px,#70ff8f 208.5px,#70ff8f 238.5px,#80ff80 243.5px,#80ff80 335.5px)"></i><i style="height:3px;background:linear-gradient(90deg,#8fff70 0.5px,#8fff70 97.5px,#9fff60 104.5px,#9fff60 131.5px,#afff50 135.5px,#b0ff4f 143.5px,#bdff42 145.5px,#bfff40 149.5px,#e1ff1e 156.5px,#fdff02 159.5px,#ffc200 164.5px,#ffba00 165.5px,#ffc200 166.5px,#fdea02 167.5px,#bcff43 168.5px,#4dffb2 169.5px,#05f3fa 170.5px,#00d1ff 171.5px,#00cbff 172.5px,#00fcff 176.5px,#0afff5 177.5px,#2effd1 181.5px,#50ffaf 188.5px,#52ffad 192.5px,#5fffa0 194.5px,#60ff9f 202.5px,#70ff8f 206.5px,#70ff8f 233.5px,#80ff80 239.5px,#80ff80 335.5px)"></i><i style="height:3px;background:linear-gradient(90deg,#8fff70 0.5px,#8fff70 103.5px,#9fff60 110.5px,#9fff60 134.5px,#afff50 138.5px,#b0ff4f 145.5px,#bfff40 148.5px,#c0ff3f 151.5px,#e0ff1f 157.5px,#fbff04 160.5px,#ffcb00 165.5px,#ffd200 166.5px,#fbf304 167.5px,#b7ff48 168.5px,#52ffad 169.5px,#09faf6 170.5px,#00e0ff 171.5px,#00dbff 172.5px,#01fdfe 175.5px,#0bfff4 176.5px,#2fffd0 180.5px,#4fffb0 186.5px,#50ffaf 189.5px,#60ff9f 192.5px,#60ff9f 199.5px,#70ff8f 203.5px,#70ff8f 226.5px,#80ff80 234.5px,#80ff80 335.5px)"></i><i style="height:2px;background:linear-gradient(90deg,#8fff70 0.5px,#8fff70 109.5px,#9fff60 115.5px,#9fff60 137.5px,#afff50 140.5px,#afff50 147.5px,#bdff42 149.5px,#c2ff3d 153.5px,#cdff32 154.5px,#d0ff2f 156.5px,#fbff04 161.5px,#ffe100 164.5px,#ffe000 166.5px,#f7fa08 167.5px,#b4ff4b 168.5px,#56ffa9 169.5px,#10ffef 170.5px,#00efff 171.5px,#00ebff 172.5px,#00fdff 174.5px,#28ffd7 178.5px,#4dffb2 184.5px,#52ffad 188.5px,#60ff9f 190.5px,#60ff9f 197.5px,#70ff8f 200.5px,#70ff8f 222.5px,#80ff80 227.5px,#80ff80 335.5px)"></i><i style="height:3px;background:linear-gradient(90deg,#8fff70 0.5px,#8fff70 114.5px,#9fff60 121.5px,#9fff60 139.5px,#c0ff3f 154.5px,#fffa00 163.5px,#ffe800 165.5px,#ffed00 166.5px,#f1fe0e 167.5px,#b0ff4f 168.5px,#5affa5 169.5px,#1bffe4 170.5px,#01fcfe 171.5px,#00f9ff 172.5px,#02fefd 173.5px,#2affd5 177.5px,#4fffb0 183.5px,#5fffa0 188.5px,#61ff9e 194.5px,#6fff90 197.5px,#70ff8f 216.5px,#80ff80 223.5px,#80ff80 335.5px)"></i><i style="height:3px;background:linear-gradient(90deg,#8fff70 0.5px,#8fff70 120.5px,#9fff60 127.5px,#9fff60 143.5px,#afff50 147.5px,#afff50 151.5px,#c0ff3f 156.5px,#fffa00 165.5px,#fdfd02 166.5px,#e5ff1a 167.5px,#abff54 168.5px,#60ff9f 169.5px,#28ffd7 170.5px,#0ffff0 171.5px,#0bfff4 172.5px,#4fffb0 181.5px,#70ff8f 194.5px,#70ff8f 210.5px,#80ff80 217.5px,#80ff80 335.5px)"></i><i style="height:3px;background:linear-gradient(90deg,#8fff70 0.5px,#90ff6f 127.5px,#9fff60 134.5px,#a0ff5f 147.5px,#afff50 151.5px,#b0ff4f 154.5px,#c0ff3f 158.5px,#f1ff0e 165.5px,#edff12 166.5px,#d7ff28 167.5px,#36ffc9 170.5px,#21ffde 171.5px,#1effe1 172.5px,#4fffb0 179.5px,#5fffa0 183.5px,#60ff9f 186.5px,#6fff90 190.5px,#70ff8f 203.5px,#7fff80 210.5px,#80ff80 335.5px)"></i><i style="height:3px;background:linear-gradient(90deg,#8fff70 0.5px,#8fff70 133.5px,#9fff60 141.5px,#a1ff5e 151.5px,#b1ff4e 157.5px,#dbff24 165.5px,#d9ff26 166.5px,#c8ff37 167.5px,#45ffba 170.5px,#35ffca 171.5px,#34ffcb 172.5px,#5fffa0 180.5px,#6eff91 186.5px,#70ff8f 196.5px,#80ff80 204.5px,#80ff80 335.5px)"></i><i style="height:2px;background:linear-gradient(90deg,#8fff70 0.5px,#8fff70 140.5px,#9fff60 146.5px,#a2ff5d 155.5px,#ccff33 165.5px,#caff35 166.5px,#bbff44 167.5px,#53ffac 170.5px,#44ffbb 171.5px,#43ffbc 172.5px,#6dff92 182.5px,#70ff8f 191.5px,#80ff80 197.5px,#80ff80 335.5px)"></i><i style="height:2px;background:linear-gradient(90deg,#8fff70 0.5px,#8fff70 145.5px,#9eff61 151.5px,#9fff60 157.5px,#bdff42 165.5px,#b0ff4f 167.5px,#5effa1 170.5px,#52ffad 172.5px,#70ff8f 180.5px,#71ff8e 186.5px,#80ff80 192.5px,#80ff80 335.5px)"></i><i style="height:2px;background:linear-gradient(90deg,#8fff70 0.5px,#8fff70 151.5px,#afff50 165.5px,#a4ff5b 167.5px,#69ff96 170.5px,#60ff9f 172.5px,#80ff80 186.5px,#80ff80 335.5px)"></i><i style="height:2px;background:linear-gradient(90deg,#8fff70 0.5px,#8fff70 157.5px,#9fff60 165.5px,#99ff66 167.5px,#75ff8a 170.5px,#70ff8f 172.5px,#80ff80 180.5px,#80ff80 335.5px)"></i><i style="height:3px;background:linear-gradient(90deg,#88ff77 0.5px,#87ff78 335.5px)"></i><i style="height:2px;background:linear-gradient(90deg,#80ff80 0.5px,#80ff80 157.5px,#72ff8d 166.5px,#9dff62 171.5px,#8fff70 180.5px,#8fff70 335.5px)"></i><i style="height:2px;background:linear-gradient(90deg,#80ff80 0.5px,#80ff80 151.5px,#61ff9e 165.5px,#6bff94 167.5px,#a5ff5a 170.5px,#aeff51 172.5px,#8fff70 186.5px,#8fff70 335.5px)"></i><i style="height:2px;background:linear-gradient(90deg,#80ff80 0.5px,#80ff80 146.5px,#71ff8e 151.5px,#6dff92 158.5px,#52ffad 165.5px,#5effa1 167.5px,#b1ff4e 170.5px,#bdff42 172.5px,#a1ff5e 179.5px,#9eff61 186.5px,#8fff70 191.5px,#8fff70 335.5px)"></i><i style="height:2px;background:linear-gradient(90deg,#80ff80 0.5px,#7fff80 141.5px,#70ff8f 146.5px,#6eff91 155.5px,#43ffbc 165.5px,#46ffb9 166.5px,#55ffaa 167.5px,#bcff43 170.5px,#caff35 171.5px,#cbff34 172.5px,#a1ff5e 182.5px,#9fff60 191.5px,#8fff70 196.5px,#8fff70 335.5px)"></i><i style="height:3px;background:linear-gradient(90deg,#80ff80 0.5px,#7fff80 134.5px,#70ff8f 141.5px,#6eff91 151.5px,#5fffa0 157.5px,#34ffcb 165.5px,#36ffc9 166.5px,#47ffb8 167.5px,#c9ff36 170.5px,#daff25 171.5px,#dbff24 172.5px,#b0ff4f 180.5px,#a1ff5e 186.5px,#9fff60 196.5px,#90ff6f 203.5px,#8fff70 335.5px)"></i><i style="height:3px;background:linear-gradient(90deg,#80ff80 0.5px,#80ff80 127.5px,#70ff8f 134.5px,#6fff90 147.5px,#60ff9f 151.5px,#5fffa0 154.5px,#4fffb0 158.5px,#1fffe0 165.5px,#23ffdc 166.5px,#38ffc7 167.5px,#d9ff26 170.5px,#edff12 171.5px,#f0ff0f 172.5px,#c0ff3f 179.5px,#b0ff4f 183.5px,#afff50 186.5px,#a0ff5f 190.5px,#9fff60 203.5px,#8fff70 210.5px,#8fff70 335.5px)"></i><i style="height:2px;background:linear-gradient(90deg,#80ff80 0.5px,#80ff80 122.5px,#70ff8f 127.5px,#70ff8f 144.5px,#60ff9f 147.5px,#60ff9f 152.5px,#52ffad 154.5px,#4cffb3 157.5px,#10ffef 165.5px,#13ffec 166.5px,#2dffd2 167.5px,#64ff9b 168.5px,#adff52 169.5px,#e4ff1b 170.5px,#fdff02 171.5px,#ffff00 172.5px,#c3ff3c 180.5px,#afff50 185.5px,#afff50 190.5px,#9fff60 193.5px,#9eff61 210.5px,#8fff70 215.5px,#8fff70 335.5px)"></i><i style="height:3px;background:linear-gradient(90deg,#80ff80 0.5px,#80ff80 116.5px,#70ff8f 123.5px,#6fff90 141.5px,#62ff9d 144.5px,#5fffa0 150.5px,#4dffb2 155.5px,#2effd1 160.5px,#01fefe 165.5px,#05fffa 166.5px,#22ffdd 167.5px,#61ff9e 168.5px,#b3ff4c 169.5px,#efff10 170.5px,#fff300 171.5px,#ffef00 172.5px,#fdfe02 174.5px,#d1ff2e 179.5px,#c1ff3e 182.5px,#b0ff4f 187.5px,#afff50 192.5px,#a0ff5f 196.5px,#9fff60 214.5px,#8fff70 221.5px,#8fff70 335.5px)"></i><i style="height:3px;background:linear-gradient(90deg,#80ff80 0.5px,#80ff80 110.5px,#70ff8f 117.5px,#70ff8f 137.5px,#60ff9f 141.5px,#60ff9f 147.5px,#50ffaf 150.5px,#4effb1 153.5px,#2affd5 159.5px,#02fefd 163.5px,#00ecff 165.5px,#00f3ff 166.5px,#15ffea 167.5px,#5cffa3 168.5px,#b8ff47 169.5px,#f8fa07 170.5px,#ffe100 171.5px,#ffdd00 172.5px,#f7ff08 176.5px,#c0ff3f 184.5px,#beff41 187.5px,#afff50 190.5px,#aeff51 196.5px,#9fff60 200.5px,#9fff60 220.5px,#8fff70 227.5px,#8fff70 335.5px)"></i><i style="height:2px;background:linear-gradient(90deg,#80ff80 0.5px,#80ff80 106.5px,#70ff8f 111.5px,#70ff8f 135.5px,#60ff9f 138.5px,#5fffa0 146.5px,#50ffaf 148.5px,#50ffaf 151.5px,#29ffd6 158.5px,#01fefe 162.5px,#00e5ff 164.5px,#00e4ff 166.5px,#0dfcf2 167.5px,#59ffa6 168.5px,#bbff44 169.5px,#fcf303 170.5px,#ffd400 171.5px,#ffcf00 172.5px,#fffd00 176.5px,#f8ff07 177.5px,#d0ff2f 182.5px,#ceff31 184.5px,#bfff40 186.5px,#bfff40 189.5px,#b0ff4f 191.5px,#afff50 199.5px,#9fff60 202.5px,#9fff60 226.5px,#8fff70 231.5px,#8fff70 335.5px)"></i><i style="height:2px;background:linear-gradient(90deg,#80ff80 0.5px,#80ff80 102.5px,#70ff8f 107.5px,#70ff8f 133.5px,#60ff9f 136.5px,#60ff9f 144.5px,#51ffae 146.5px,#50ffaf 150.5px,#2bffd4 157.5px,#03fffc 161.5px,#00d1ff 165.5px,#00daff 166.5px,#09f9f6 167.5px,#56ffa9 168.5px,#c0ff3f 169.5px,#fded02 170.5px,#ffc900 171.5px,#ffc100 172.5px,#ffff00 177.5px,#cfff30 183.5px,#cfff30 185.5px,#bfff40 187.5px,#bdff42 191.5px,#afff50 193.5px,#afff50 201.5px,#9fff60 204.5px,#9fff60 230.5px,#8fff70 235.5px,#8fff70 335.5px)"></i><i style="height:2px;background:linear-gradient(90deg,#80ff80 0.5px,#80ff80 98.5px,#70ff8f 103.5px,#70ff8f 131.5px,#60ff9f 134.5px,#5fffa0 143.5px,#50ffaf 145.5px,#4fffb0 149.5px,#2dffd2 156.5px,#06fff9 160.5px,#00fbff 161.5px,#00d0ff 164.5px,#00c8ff 165.5px,#00d1ff 166.5px,#06f3f9 167.5px,#52ffad 168.5px,#c2ff3d 169.5px,#ffe600 170.5px,#ffbf00 171.5px,#ffb800 172.5px,#feff01 178.5px,#e1ff1e 181.5px,#cfff30 184.5px,#cfff30 186.5px,#bfff40 188.5px,#bfff40 192.5px,#b0ff4f 194.5px,#afff50 203.5px,#9fff60 206.5px,#9fff60 234.5px,#8fff70 239.5px,#8fff70 335.5px)"></i><i style="height:3px;background:linear-gradient(90deg,#80ff80 0.5px,#80ff80 92.5px,#70ff8f 99.5px,#70ff8f 128.5px,#60ff9f 132.5px,#5fffa0 141.5px,#51ffae 143.5px,#50ffaf 147.5px,#2cffd3 155.5px,#09fff6 159.5px,#00fdff 160.5px,#00c3ff 164.5px,#00baff 165.5px,#00c3ff 166.5px,#03edfc 167.5px,#4fffb0 168.5px,#c6ff39 169.5px,#ffdc00 170.5px,#ffb200 171.5px,#ffab00 172.5px,#fff900 178.5px,#fdff02 179.5px,#e2ff1d 182.5px,#c2ff3d 189.5px,#bdff42 194.5px,#b0ff4f 196.5px,#afff50 205.5px,#9fff60 209.5px,#9fff60 238.5px,#8fff70 245.5px,#8fff70 335.5px)"></i><i style="height:3px;background:linear-gradient(90deg,#80ff80 0.5px,#80ff80 86.5px,#70ff8f 93.5px,#70ff8f 125.5px,#60ff9f 129.5px,#60ff9f 138.5px,#50ffaf 141.5px,#4fffb0 146.5px,#2affd5 154.5px,#00feff 159.5px,#00b3ff 164.5px,#00aaff 165.5px,#00b5ff 166.5px,#02e4fd 167.5px,#4affb5 168.5px,#cbff34 169.5px,#ffd100 170.5px,#ffa300 171.5px,#ff9b00 172.5px,#ffee00 178.5px,#fdff02 180.5px,#e4ff1b 183.5px,#c0ff3f 191.5px,#beff41 196.5px,#afff50 199.5px,#afff50 208.5px,#9fff60 212.5px,#9fff60 244.5px,#8fff70 251.5px,#8fff70 335.5px)"></i><i style="height:3px;background:linear-gradient(90deg,#80ff80 0.5px,#80ff80 80.5px,#70ff8f 87.5px,#70ff8f 122.5px,#60ff9f 126.5px,#60ff9f 136.5px,#50ffaf 139.5px,#50ffaf 144.5px,#41ffbe 146.5px,#3fffc0 149.5px,#30ffcf 152.5px,#00feff 158.5px,#009bff 165.5px,#00a6ff 166.5px,#00daff 167.5px,#46ffb9 168.5px,#cdfe32 169.5px,#ffc700 170.5px,#ff9500 171.5px,#ff8c00 172.5px,#ffd700 177.5px,#feff01 181.5px,#dfff20 185.5px,#d0ff2f 188.5px,#ceff31 191.5px,#bfff40 193.5px,#beff41 198.5px,#afff50 201.5px,#afff50 211.5px,#9fff60 215.5px,#9fff60 250.5px,#8fff70 257.5px,#8fff70 335.5px)"></i><i style="height:2px;background:linear-gradient(90deg,#80ff80 0.5px,#80ff80 77.5px,#70ff8f 82.5px,#70ff8f 120.5px,#60ff9f 123.5px,#60ff9f 135.5px,#51ffae 137.5px,#50ffaf 143.5px,#40ffbf 145.5px,#3fffc0 148.5px,#34ffcb 149.5px,#1fffe0 154.5px,#01fffe 157.5px,#00ecff 159.5px,#0097ff 164.5px,#008fff 165.5px,#009aff 166.5px,#00d2ff 167.5px,#42ffbd 168.5px,#cdfd32 169.5px,#ffbd00 170.5px,#ff8800 171.5px,#ff8000 172.5px,#ffdc00 178.5px,#fffe00 181.5px,#cfff30 189.5px,#cfff30 192.5px,#bfff40 194.5px,#beff41 200.5px,#afff50 202.5px,#afff50 214.5px,#9fff60 217.5px,#9fff60 255.5px,#8fff70 260.5px,#8fff70 335.5px)"></i><i style="height:3px;background:linear-gradient(90deg,#80ff80 0.5px,#80ff80 71.5px,#70ff8f 78.5px,#70ff8f 117.5px,#60ff9f 121.5px,#60ff9f 133.5px,#50ffaf 136.5px,#4effb1 142.5px,#40ffbf 144.5px,#3fffc0 147.5px,#30ffcf 150.5px,#04fffb 156.5px,#00fcff 157.5px,#00e2ff 159.5px,#008cff 164.5px,#0082ff 165.5px,#0090ff 166.5px,#00caff 167.5px,#40ffbf 168.5px,#d1fd2e 169.5px,#ffb400 170.5px,#ff7e00 171.5px,#ff7200 172.5px,#ffd300 178.5px,#ffff00 182.5px,#d0ff2f 190.5px,#cfff30 193.5px,#c1ff3e 195.5px,#bfff40 201.5px,#afff50 204.5px,#afff50 216.5px,#9fff60 220.5px,#9fff60 259.5px,#8fff70 266.5px,#8fff70 335.5px)"></i><i style="height:3px;background:linear-gradient(90deg,#80ff80 0.5px,#80ff80 66.5px,#70ff8f 72.5px,#6fff90 115.5px,#60ff9f 118.5px,#60ff9f 131.5px,#50ffaf 134.5px,#50ffaf 140.5px,#41ffbe 142.5px,#40ffbf 145.5px,#32ffcd 147.5px,#30ffcf 149.5px,#06fff9 155.5px,#00feff 156.5px,#00d9ff 159.5px,#007eff 164.5px,#0074ff 165.5px,#0083ff 166.5px,#00c1ff 167.5px,#40ffbf 168.5px,#d7fa28 169.5px,#ffac00 170.5px,#ff7100 171.5px,#ff6400 172.5px,#ffca00 178.5px,#ffff00 183.5px,#dfff20 188.5px,#ddff22 190.5px,#d2ff2d 191.5px,#ceff31 195.5px,#bfff40 197.5px,#bfff40 203.5px,#afff50 206.5px,#afff50 219.5px,#a0ff5f 222.5px,#9fff60 265.5px,#8fff70 271.5px,#8fff70 335.5px)"></i><i style="height:3px;background:linear-gradient(90deg,#80ff80 0.5px,#80ff80 61.5px,#70ff8f 67.5px,#70ff8f 112.5px,#61ff9e 115.5px,#60ff9f 129.5px,#50ffaf 132.5px,#4effb1 139.5px,#40ffbf 141.5px,#40ffbf 144.5px,#30ffcf 146.5px,#30ffcf 148.5px,#00ffff 155.5px,#00cfff 159.5px,#0071ff 164.5px,#0067ff 165.5px,#0077ff 166.5px,#00b8ff 167.5px,#3cfec3 168.5px,#d8fa27 169.5px,#ffa200 170.5px,#ff6400 171.5px,#ff5700 172.5px,#ff6100 173.5px,#ffb000 177.5px,#ffce00 179.5px,#ffff00 184.5px,#dfff20 189.5px,#deff21 191.5px,#cfff30 193.5px,#cfff30 196.5px,#c0ff3f 198.5px,#bfff40 205.5px,#afff50 208.5px,#afff50 221.5px,#9fff60 225.5px,#9fff60 270.5px,#8fff70 276.5px,#8fff70 335.5px)"></i><i style="height:3px;background:linear-gradient(90deg,#80ff80 0.5px,#80ff80 55.5px,#70ff8f 62.5px,#70ff8f 109.5px,#60ff9f 113.5px,#60ff9f 127.5px,#50ffaf 130.5px,#50ffaf 137.5px,#41ffbe 139.5px,#40ffbf 143.5px,#30ffcf 145.5px,#30ffcf 147.5px,#00ffff 154.5px,#00eeff 156.5px,#00c6ff 159.5px,#0063ff 164.5px,#005aff 165.5px,#006aff 166.5px,#00aeff 167.5px,#39fdc6 168.5px,#d8f827 169.5px,#ff9a00 170.5px,#ff5800 171.5px,#ff4a00 172.5px,#ff5400 173.5px,#ff9400 176.5px,#ffc600 179.5px,#ffea00 182.5px,#ffff00 185.5px,#dfff20 190.5px,#dfff20 192.5px,#cfff30 194.5px,#ceff31 198.5px,#bfff40 200.5px,#beff41 207.5px,#b0ff4f 209.5px,#afff50 224.5px,#9fff60 228.5px,#9fff60 275.5px,#8fff70 282.5px,#8fff70 335.5px)"></i><i style="height:3px;background:linear-gradient(90deg,#80ff80 0.5px,#80ff80 50.5px,#70ff8f 57.5px,#70ff8f 107.5px,#60ff9f 110.5px,#60ff9f 126.5px,#50ffaf 129.5px,#4fffb0 136.5px,#40ffbf 138.5px,#40ffbf 142.5px,#30ffcf 144.5px,#30ffcf 146.5px,#0ffff0 152.5px,#02fffd 153.5px,#00fdff 154.5px,#00cdff 158.5px,#0098ff 161.5px,#0056ff 164.5px,#004eff 165.5px,#005fff 166.5px,#00a7ff 167.5px,#37fdc8 168.5px,#daf425 169.5px,#ff9000 170.5px,#ff4c00 171.5px,#ff3e00 172.5px,#ff4700 173.5px,#ff8900 176.5px,#ffbe00 179.5px,#fffe00 185.5px,#dfff20 191.5px,#dfff20 193.5px,#cfff30 195.5px,#cfff30 199.5px,#bfff40 201.5px,#bfff40 208.5px,#afff50 211.5px,#afff50 227.5px,#9fff60 230.5px,#9fff60 280.5px,#90ff6f 286.5px,#8fff70 335.5px)"></i><i style="height:3px;background:linear-gradient(90deg,#80ff80 0.5px,#7fff80 46.5px,#70ff8f 51.5px,#70ff8f 104.5px,#60ff9f 108.5px,#60ff9f 124.5px,#50ffaf 127.5px,#50ffaf 134.5px,#40ffbf 137.5px,#3fffc0 141.5px,#30ffcf 143.5px,#30ffcf 145.5px,#20ffdf 147.5px,#1dffe2 149.5px,#00ffff 153.5px,#00c4ff 158.5px,#00a2ff 160.5px,#004aff 164.5px,#0040ff 165.5px,#0054ff 166.5px,#009eff 167.5px,#37fbc8 168.5px,#ddf422 169.5px,#ff8900 170.5px,#ff4100 171.5px,#ff3000 172.5px,#ff3b00 173.5px,#ff9300 177.5px,#ffb500 179.5px,#ffdd00 182.5px,#ffff00 186.5px,#dfff20 192.5px,#dfff20 194.5px,#cfff30 196.5px,#cfff30 200.5px,#c1ff3e 202.5px,#bfff40 210.5px,#afff50 213.5px,#afff50 229.5px,#9fff60 233.5px,#9fff60 285.5px,#90ff6f 291.5px,#8fff70 335.5px)"></i><i style="height:3px;background:linear-gradient(90deg,#80ff80 0.5px,#80ff80 41.5px,#70ff8f 47.5px,#70ff8f 102.5px,#60ff9f 105.5px,#60ff9f 122.5px,#50ffaf 125.5px,#50ffaf 133.5px,#41ffbe 135.5px,#3fffc0 140.5px,#30ffcf 142.5px,#1effe1 148.5px,#00ffff 152.5px,#00ccff 157.5px,#0098ff 160.5px,#003eff 164.5px,#0033ff 165.5px,#0049ff 166.5px,#0097ff 167.5px,#34facb 168.5px,#dff320 169.5px,#ff8000 170.5px,#ff3700 171.5px,#ff2300 172.5px,#ff2f00 173.5px,#ff8900 177.5px,#ffbd00 180.5px,#ffe900 184.5px,#ffff00 187.5px,#d0ff2f 197.5px,#ceff31 202.5px,#bfff40 204.5px,#bfff40 212.5px,#afff50 215.5px,#afff50 232.5px,#9fff60 235.5px,#9fff60 290.5px,#8fff70 296.5px,#8fff70 335.5px)"></i><i style="height:3px;background:linear-gradient(90deg,#80ff80 0.5px,#80ff80 36.5px,#70ff8f 42.5px,#70ff8f 99.5px,#60ff9f 103.5px,#60ff9f 121.5px,#51ffae 123.5px,#4fffb0 132.5px,#40ffbf 134.5px,#3fffc0 139.5px,#30ffcf 141.5px,#20ffdf 147.5px,#00ffff 151.5px,#00e9ff 154.5px,#00b5ff 158.5px,#0032ff 164.5px,#0029ff 165.5px,#003eff 166.5px,#0091ff 167.5px,#32facd 168.5px,#dff020 169.5px,#ff7800 170.5px,#ff2c00 171.5px,#ff1900 172.5px,#ff2400 173.5px,#ff8100 177.5px,#ffb500 180.5px,#ffee00 185.5px,#ffff00 188.5px,#efff10 190.5px,#eeff11 192.5px,#e2ff1d 193.5px,#dbff24 197.5px,#d0ff2f 198.5px,#cfff30 203.5px,#bfff40 205.5px,#beff41 214.5px,#afff50 216.5px,#afff50 234.5px,#9fff60 238.5px,#9fff60 295.5px,#8fff70 301.5px,#8fff70 335.5px)"></i><i style="height:3px;background:linear-gradient(90deg,#80ff80 0.5px,#80ff80 31.5px,#70ff8f 37.5px,#70ff8f 97.5px,#60ff9f 101.5px,#60ff9f 119.5px,#50ffaf 122.5px,#4fffb0 131.5px,#40ffbf 133.5px,#3fffc0 138.5px,#33ffcc 139.5px,#20ffdf 146.5px,#00ffff 151.5px,#00bdff 157.5px,#0087ff 160.5px,#0027ff 164.5px,#001fff 165.5px,#0035ff 166.5px,#0087ff 167.5px,#31f9ce 168.5px,#dfee20 169.5px,#ff7400 170.5px,#ff2200 171.5px,#ff0f00 172.5px,#ff1800 173.5px,#ff7800 177.5px,#ffae00 180.5px,#ffdf00 184.5px,#ffff00 188.5px,#edff12 193.5px,#e1ff1e 194.5px,#dbff24 198.5px,#d0ff2f 199.5px,#cfff30 204.5px,#c0ff3f 206.5px,#bfff40 215.5px,#afff50 218.5px,#afff50 236.5px,#9fff60 240.5px,#9fff60 300.5px,#8fff70 306.5px,#8fff70 335.5px)"></i><i style="height:3px;background:linear-gradient(90deg,#80ff80 0.5px,#80ff80 27.5px,#70ff8f 33.5px,#70ff8f 95.5px,#60ff9f 98.5px,#5fffa0 118.5px,#50ffaf 120.5px,#50ffaf 129.5px,#40ffbf 132.5px,#3fffc0 137.5px,#33ffcc 138.5px,#2fffd0 142.5px,#22ffdd 143.5px,#20ffdf 145.5px,#00ffff 150.5px,#00deff 154.5px,#00b6ff 157.5px,#007eff 160.5px,#001cff 164.5px,#0011ff 165.5px,#002bff 166.5px,#0083ff 167.5px,#30f6cf 168.5px,#e1ed1e 169.5px,#ff6900 170.5px,#ff1800 171.5px,#ff0100 172.5px,#ff0d00 173.5px,#ff6f00 177.5px,#ffa700 180.5px,#ffcf00 183.5px,#ffff00 189.5px,#ecff13 194.5px,#e0ff1f 195.5px,#dbff24 199.5px,#d0ff2f 200.5px,#cfff30 205.5px,#bfff40 208.5px,#bfff40 217.5px,#b0ff4f 219.5px,#afff50 239.5px,#9fff60 242.5px,#9fff60 304.5px,#8fff70 310.5px,#8fff70 335.5px)"></i><i style="height:3px;background:linear-gradient(90deg,#80ff80 0.5px,#80ff80 22.5px,#70ff8f 28.5px,#70ff8f 92.5px,#60ff9f 96.5px,#60ff9f 116.5px,#50ffaf 119.5px,#50ffaf 128.5px,#41ffbe 130.5px,#3fffc0 136.5px,#30ffcf 138.5px,#30ffcf 141.5px,#24ffdb 142.5px,#1effe1 145.5px,#11ffee 146.5px,#00ffff 150.5px,#00cdff 155.5px,#00afff 157.5px,#0076ff 160.5px,#0012ff 164.5px,#0009ff 165.5px,#0022ff 166.5px,#007dff 167.5px,#30f5cf 168.5px,#e2eb1d 169.5px,#ff6400 170.5px,#ff0f00 171.5px,#f80000 172.5px,#fe0400 173.5px,#ff6700 177.5px,#ffbd00 182.5px,#ffef00 187.5px,#ffff00 190.5px,#dfff20 196.5px,#dbff24 200.5px,#d0ff2f 201.5px,#ceff31 207.5px,#bfff40 209.5px,#bfff40 218.5px,#afff50 221.5px,#afff50 241.5px,#a0ff5f 244.5px,#9fff60 309.5px,#90ff6f 314.5px,#8fff70 335.5px)"></i><i style="height:3px;background:linear-gradient(90deg,#80ff80 0.5px,#80ff80 18.5px,#70ff8f 23.5px,#70ff8f 90.5px,#60ff9f 94.5px,#5fffa0 115.5px,#50ffaf 117.5px,#50ffaf 127.5px,#40ffbf 129.5px,#40ffbf 135.5px,#30ffcf 137.5px,#30ffcf 140.5px,#20ffdf 142.5px,#20ffdf 144.5px,#00ffff 149.5px,#00deff 153.5px,#00a9ff 157.5px,#0084ff 159.5px,#0007ff 164.5px,#0000ff 165.5px,#0019ff 166.5px,#0074ff 167.5px,#30f4cf 168.5px,#e3e91c 169.5px,#ff6000 170.5px,#fc0900 171.5px,#ef0000 172.5px,#f70000 173.5px,#ff1000 174.5px,#ff7500 178.5px,#ffa900 181.5px,#ffcf00 184.5px,#ffff00 190.5px,#efff10 193.5px,#efff10 195.5px,#dfff20 197.5px,#dfff20 200.5px,#cfff30 202.5px,#cfff30 208.5px,#bfff40 210.5px,#bfff40 220.5px,#b0ff4f 222.5px,#afff50 243.5px,#9fff60 247.5px,#9fff60 313.5px,#8fff70 319.5px,#8fff70 335.5px)"></i><i style="height:3px;background:linear-gradient(90deg,#80ff80 0.5px,#80ff80 14.5px,#70ff8f 19.5px,#70ff8f 88.5px,#60ff9f 92.5px,#60ff9f 113.5px,#50ffaf 116.5px,#50ffaf 126.5px,#40ffbf 128.5px,#40ffbf 134.5px,#30ffcf 136.5px,#30ffcf 139.5px,#20ffdf 141.5px,#20ffdf 143.5px,#00feff 149.5px,#00ceff 154.5px,#00a3ff 157.5px,#0066ff 160.5px,#0015ff 163.5px,#0001fb 164.5px,#0000f2 165.5px,#0011ff 166.5px,#0070ff 167.5px,#2ef3d1 168.5px,#e3e81c 169.5px,#ff5600 170.5px,#f80500 171.5px,#e10000 172.5px,#ff0700 174.5px,#ff5700 177.5px,#ffa300 181.5px,#ffde00 186.5px,#ffff00 191.5px,#efff10 194.5px,#efff10 196.5px,#dfff20 198.5px,#dfff20 201.5px,#cfff30 203.5px,#cfff30 209.5px,#bfff40 211.5px,#bfff40 221.5px,#afff50 224.5px,#afff50 245.5px,#9fff60 249.5px,#9fff60 318.5px,#8fff70 323.5px,#8fff70 335.5px)"></i><i style="height:3px;background:linear-gradient(90deg,#80ff80 0.5px,#80ff80 10.5px,#70ff8f 15.5px,#70ff8f 86.5px,#60ff9f 90.5px,#60ff9f 112.5px,#50ffaf 114.5px,#50ffaf 125.5px,#40ffbf 127.5px,#40ffbf 133.5px,#30ffcf 135.5px,#30ffcf 138.5px,#21ffde 140.5px,#1effe1 143.5px,#11ffee 144.5px,#0ffff0 146.5px,#01fffe 147.5px,#00ffff 148.5px,#00dfff 152.5px,#00adff 156.5px,#0076ff 159.5px,#000bff 163.5px,#0000f3 164.5px,#0000ec 165.5px,#000bfc 166.5px,#006bff 167.5px,#2cf2d3 168.5px,#e3e71c 169.5px,#ff5200 170.5px,#f10300 171.5px,#dc0000 172.5px,#e40000 173.5px,#fa0200 174.5px,#ff6700 178.5px,#ffad00 182.5px,#ffcf00 185.5px,#fffe00 191.5px,#eeff11 197.5px,#e1ff1e 198.5px,#dfff20 202.5px,#cfff30 204.5px,#cfff30 210.5px,#bfff40 212.5px,#beff41 223.5px,#afff50 225.5px,#afff50 247.5px,#9fff60 251.5px,#9fff60 322.5px,#8fff70 327.5px,#8fff70 335.5px)"></i><i style="height:3px;background:linear-gradient(90deg,#80ff80 0.5px,#80ff80 6.5px,#70ff8f 11.5px,#70ff8f 84.5px,#60ff9f 88.5px,#5fffa0 111.5px,#50ffaf 113.5px,#50ffaf 124.5px,#40ffbf 126.5px,#40ffbf 132.5px,#30ffcf 134.5px,#2fffd0 138.5px,#23ffdc 139.5px,#20ffdf 142.5px,#00ffff 147.5px,#00eeff 150.5px,#00a7ff 156.5px,#0057ff 160.5px,#0005fd 163.5px,#0000e9 164.5px,#0000e0 165.5px,#0007f8 166.5px,#0064ff 167.5px,#2bf1d4 168.5px,#e4e41b 169.5px,#ff4e00 170.5px,#ec0100 171.5px,#d00000 172.5px,#da0000 173.5px,#f40000 174.5px,#ff1100 175.5px,#ff7500 179.5px,#ffa600 182.5px,#ffde00 187.5px,#ffff00 192.5px,#efff10 195.5px,#ebff14 198.5px,#dfff20 199.5px,#dfff20 203.5px,#cfff30 205.5px,#cfff30 211.5px,#bfff40 213.5px,#bfff40 224.5px,#b0ff4f 226.5px,#afff50 249.5px,#9fff60 253.5px,#9fff60 326.5px,#8fff70 331.5px,#8fff70 335.5px)"></i><i style="height:3px;background:linear-gradient(90deg,#80ff80 0.5px,#70ff8f 7.5px,#70ff8f 82.5px,#60ff9f 86.5px,#60ff9f 109.5px,#50ffaf 112.5px,#50ffaf 123.5px,#40ffbf 125.5px,#40ffbf 131.5px,#30ffcf 133.5px,#30ffcf 137.5px,#20ffdf 139.5px,#20ffdf 141.5px,#00ffff 147.5px,#00cbff 153.5px,#00a1ff 156.5px,#0068ff 159.5px,#0017ff 162.5px,#0001f8 163.5px,#0000e1 164.5px,#0000da 165.5px,#0005f3 166.5px,#0060ff 167.5px,#2af1d4 168.5px,#e4e31b 169.5px,#ff4600 170.5px,#e50000 171.5px,#ca0000 172.5px,#d30000 173.5px,#ea0000 174.5px,#ff0900 175.5px,#ff6e00 179.5px,#ffaf00 183.5px,#ffd800 187.5px,#ffff00 193.5px,#efff10 196.5px,#efff10 198.5px,#dfff20 200.5px,#dfff20 204.5px,#cfff30 206.5px,#cfff30 212.5px,#bfff40 214.5px,#bfff40 225.5px,#afff50 228.5px,#afff50 251.5px,#9fff60 255.5px,#9fff60 330.5px,#8fff70 335.5px)"></i><i style="height:3px;background:linear-gradient(90deg,#7bff84 0.5px,#70ff8f 3.5px,#70ff8f 80.5px,#60ff9f 84.5px,#60ff9f 108.5px,#50ffaf 110.5px,#50ffaf 122.5px,#40ffbf 124.5px,#3effc1 131.5px,#31ffce 132.5px,#30ffcf 136.5px,#20ffdf 138.5px,#1fffe0 141.5px,#12ffed 142.5px,#10ffef 144.5px,#00ffff 146.5px,#00ddff 151.5px,#00acff 155.5px,#0062ff 159.5px,#000fff 162.5px,#0000f1 163.5px,#0000d8 164.5px,#0000d0 165.5px,#0003ef 166.5px,#005cff 167.5px,#2aefd5 168.5px,#e4e31b 169.5px,#ff4100 170.5px,#df0000 171.5px,#c00000 172.5px,#c90000 173.5px,#fc0400 175.5px,#ff5400 178.5px,#ff9d00 182.5px,#ffce00 186.5px,#ffff00 193.5px,#fdff02 195.5px,#efff10 196.5px,#efff10 199.5px,#e2ff1d 200.5px,#ddff22 205.5px,#d0ff2f 206.5px,#cfff30 213.5px,#bfff40 215.5px,#beff41 227.5px,#afff50 229.5px,#afff50 253.5px,#9fff60 257.5px,#9dff62 335.5px)"></i><i style="height:4px;background:linear-gradient(90deg,#70ff8f 0.5px,#70ff8f 78.5px,#60ff9f 82.5px,#60ff9f 106.5px,#50ffaf 109.5px,#50ffaf 121.5px,#40ffbf 123.5px,#3effc1 130.5px,#32ffcd 131.5px,#2effd1 136.5px,#22ffdd 137.5px,#20ffdf 140.5px,#00ffff 146.5px,#00ceff 152.5px,#00a6ff 155.5px,#0071ff 158.5px,#0007fe 162.5px,#0000e7 163.5px,#0000cf 164.5px,#0000c8 165.5px,#0002e8 166.5px,#0054ff 167.5px,#29edd6 168.5px,#e5e11a 169.5px,#ff3e00 170.5px,#d60000 171.5px,#b80000 172.5px,#c10000 173.5px,#f70100 175.5px,#ff1700 176.5px,#ff6200 179.5px,#ffa400 183.5px,#ffd900 188.5px,#ffff00 194.5px,#efff10 197.5px,#edff12 200.5px,#e0ff1f 201.5px,#dcff23 206.5px,#d0ff2f 207.5px,#cfff30 214.5px,#bfff40 216.5px,#bfff40 228.5px,#afff50 231.5px,#afff50 255.5px,#9fff60 259.5px,#9fff60 335.5px)"></i><i style="height:4px;background:linear-gradient(90deg,#70ff8f 0.5px,#70ff8f 76.5px,#60ff9f 80.5px,#60ff9f 105.5px,#50ffaf 108.5px,#50ffaf 119.5px,#40ffbf 122.5px,#3fffc0 129.5px,#33ffcc 130.5px,#2fffd0 135.5px,#23ffdc 136.5px,#20ffdf 139.5px,#00ffff 145.5px,#00ddff 150.5px,#00afff 154.5px,#0069ff 158.5px,#001bff 161.5px,#0002fa 162.5px,#0000de 163.5px,#0000c5 164.5px,#0000bf 165.5px,#0000e1 166.5px,#0051ff 167.5px,#29edd6 168.5px,#e6dd19 169.5px,#ff3600 170.5px,#ce0000 171.5px,#af0000 172.5px,#b60000 173.5px,#ee0000 175.5px,#ff0d00 176.5px,#ff4400 178.5px,#ff6f00 180.5px,#ffad00 184.5px,#ffdf00 189.5px,#fff200 193.5px,#ffff00 194.5px,#ffff00 196.5px,#f3ff0c 197.5px,#efff10 200.5px,#dfff20 202.5px,#dfff20 206.5px,#d0ff2f 208.5px,#cfff30 215.5px,#c0ff3f 217.5px,#bfff40 229.5px,#afff50 232.5px,#afff50 257.5px,#9fff60 261.5px,#9fff60 335.5px)"></i><i style="height:4px;background:linear-gradient(90deg,#70ff8f 0.5px,#70ff8f 74.5px,#60ff9f 77.5px,#60ff9f 103.5px,#50ffaf 106.5px,#50ffaf 118.5px,#40ffbf 121.5px,#3fffc0 128.5px,#33ffcc 129.5px,#30ffcf 134.5px,#20ffdf 136.5px,#1effe1 139.5px,#11ffee 140.5px,#00ffff 145.5px,#00cfff 151.5px,#009bff 155.5px,#0063ff 158.5px,#0013ff 161.5px,#0000f3 162.5px,#0000bb 164.5px,#0000b3 165.5px,#0000d9 166.5px,#0049ff 167.5px,#29ebd6 168.5px,#e6dd19 169.5px,#fd3300 170.5px,#c50000 171.5px,#a20000 172.5px,#ac0000 173.5px,#fe0700 176.5px,#ff5500 179.5px,#ff9a00 183.5px,#ffd800 189.5px,#ffff00 195.5px,#fdff02 197.5px,#f0ff0f 198.5px,#efff10 201.5px,#dfff20 203.5px,#dfff20 207.5px,#cfff30 209.5px,#cfff30 216.5px,#bfff40 219.5px,#bfff40 231.5px,#afff50 234.5px,#afff50 260.5px,#9fff60 263.5px,#9fff60 335.5px)"></i><i style="height:4px;background:linear-gradient(90deg,#70ff8f 0.5px,#70ff8f 72.5px,#60ff9f 75.5px,#60ff9f 102.5px,#50ffaf 105.5px,#50ffaf 117.5px,#40ffbf 120.5px,#40ffbf 127.5px,#30ffcf 129.5px,#30ffcf 133.5px,#20ffdf 135.5px,#20ffdf 138.5px,#00ffff 144.5px,#00deff 149.5px,#00a4ff 154.5px,#0072ff 157.5px,#0044ff 159.5px,#000bff 161.5px,#0000eb 162.5px,#0000b3 164.5px,#0000ae 165.5px,#0000d2 166.5px,#0044ff 167.5px,#29ead6 168.5px,#e6db19 169.5px,#fd2f00 170.5px,#be0000 171.5px,#9d0000 172.5px,#a40000 173.5px,#fa0200 176.5px,#ff1a00 177.5px,#ff6300 180.5px,#ffaf00 185.5px,#ffdf00 190.5px,#ffff00 196.5px,#efff10 199.5px,#efff10 202.5px,#dfff20 204.5px,#dfff20 208.5px,#cfff30 210.5px,#cfff30 217.5px,#bfff40 220.5px,#bfff40 232.5px,#afff50 235.5px,#afff50 262.5px,#9fff60 265.5px,#9fff60 335.5px)"></i><i style="height:4px;background:linear-gradient(90deg,#70ff8f 0.5px,#70ff8f 70.5px,#60ff9f 73.5px,#60ff9f 101.5px,#50ffaf 103.5px,#50ffaf 116.5px,#40ffbf 119.5px,#40ffbf 126.5px,#30ffcf 128.5px,#2effd1 133.5px,#21ffde 134.5px,#20ffdf 137.5px,#10ffef 139.5px,#10ffef 141.5px,#00ffff 144.5px,#00cfff 150.5px,#00aeff 153.5px,#0056ff 158.5px,#0006fd 161.5px,#0000e3 162.5px,#0000a9 164.5px,#0000a3 165.5px,#0000cb 166.5px,#0043ff 167.5px,#27e9d8 168.5px,#e6da19 169.5px,#fa2a00 170.5px,#b70000 171.5px,#920000 172.5px,#9a0000 173.5px,#f50000 176.5px,#ff1400 177.5px,#ff7000 181.5px,#ffab00 185.5px,#ffda00 190.5px,#ffff00 196.5px,#edff12 203.5px,#e0ff1f 204.5px,#dfff20 209.5px,#cfff30 211.5px,#cfff30 218.5px,#bfff40 221.5px,#bfff40 234.5px,#afff50 236.5px,#afff50 264.5px,#9fff60 267.5px,#9fff60 335.5px)"></i><i style="height:4px;background:linear-gradient(90deg,#70ff8f 0.5px,#70ff8f 68.5px,#60ff9f 71.5px,#5fffa0 100.5px,#50ffaf 102.5px,#50ffaf 115.5px,#40ffbf 118.5px,#40ffbf 125.5px,#30ffcf 127.5px,#30ffcf 132.5px,#20ffdf 134.5px,#20ffdf 137.5px,#12ffed 138.5px,#00ffff 143.5px,#00dfff 148.5px,#00a9ff 153.5px,#0067ff 157.5px,#001bff 160.5px,#0002f9 161.5px,#0000db 162.5px,#0000a3 164.5px,#00009e 165.5px,#0000c6 166.5px,#003cfe 167.5px,#27e7d8 168.5px,#e8d917 169.5px,#fa2900 170.5px,#b00000 171.5px,#8e0000 172.5px,#940000 173.5px,#ee0000 176.5px,#ff0d00 177.5px,#ff5700 180.5px,#ff9a00 184.5px,#ffbe00 187.5px,#ffdf00 191.5px,#ffff00 197.5px,#fcff03 199.5px,#efff10 200.5px,#efff10 203.5px,#dfff20 205.5px,#dfff20 210.5px,#cfff30 212.5px,#cfff30 219.5px,#bfff40 222.5px,#bfff40 235.5px,#afff50 237.5px,#afff50 266.5px,#9fff60 269.5px,#9fff60 335.5px)"></i><i style="height:4px;background:linear-gradient(90deg,#70ff8f 0.5px,#70ff8f 66.5px,#60ff9f 70.5px,#5fffa0 99.5px,#50ffaf 101.5px,#4fffb0 115.5px,#40ffbf 117.5px,#3effc1 125.5px,#31ffce 126.5px,#30ffcf 131.5px,#20ffdf 133.5px,#20ffdf 136.5px,#10ffef 138.5px,#10ffef 140.5px,#00ffff 143.5px,#00dcff 148.5px,#0097ff 154.5px,#0062ff 157.5px,#0016ff 160.5px,#0000f5 161.5px,#00009a 164.5px,#000094 165.5px,#0000be 166.5px,#003afd 167.5px,#27e6d8 168.5px,#e8d717 169.5px,#f92700 170.5px,#ab0000 171.5px,#830000 172.5px,#8b0000 173.5px,#ff0800 177.5px,#ff6600 181.5px,#ffaf00 186.5px,#ffdd00 191.5px,#ffff00 197.5px,#ffff00 199.5px,#efff10 201.5px,#efff10 204.5px,#dfff20 206.5px,#ddff22 211.5px,#d0ff2f 212.5px,#cfff30 220.5px,#bfff40 222.5px,#bfff40 236.5px,#b0ff4f 238.5px,#afff50 267.5px,#a0ff5f 270.5px,#9fff60 335.5px)"></i><i style="height:4px;background:linear-gradient(90deg,#70ff8f 0.5px,#70ff8f 65.5px,#60ff9f 68.5px,#60ff9f 97.5px,#50ffaf 100.5px,#50ffaf 114.5px,#40ffbf 116.5px,#40ffbf 124.5px,#30ffcf 126.5px,#30ffcf 131.5px,#23ffdc 132.5px,#20ffdf 136.5px,#12ffed 137.5px,#00feff 143.5px,#00afff 152.5px,#0071ff 156.5px,#0046ff 158.5px,#000fff 160.5px,#0000ef 161.5px,#000094 164.5px,#000091 165.5px,#0000ba 166.5px,#0037fd 167.5px,#27e6d8 168.5px,#e8d617 169.5px,#f52400 170.5px,#a60000 171.5px,#800000 172.5px,#850000 173.5px,#fc0400 177.5px,#ff1d00 178.5px,#ff6200 181.5px,#ffac00 186.5px,#ffdf00 192.5px,#ffe000 193.5px,#ffee00 194.5px,#fff000 196.5px,#fffe00 197.5px,#fcff03 200.5px,#efff10 201.5px,#ecff13 205.5px,#dfff20 206.5px,#dfff20 211.5px,#cfff30 213.5px,#cfff30 221.5px,#bfff40 223.5px,#bfff40 237.5px,#b0ff4f 239.5px,#afff50 269.5px,#9fff60 272.5px,#9fff60 335.5px)"></i><i style="height:4px;background:linear-gradient(90deg,#70ff8f 0.5px,#6fff90 64.5px,#60ff9f 66.5px,#5fffa0 97.5px,#50ffaf 99.5px,#50ffaf 113.5px,#40ffbf 115.5px,#40ffbf 123.5px,#30ffcf 125.5px,#30ffcf 130.5px,#20ffdf 132.5px,#20ffdf 135.5px,#10ffef 137.5px,#10ffef 139.5px,#00ffff 142.5px,#00dfff 147.5px,#00acff 152.5px,#0058ff 157.5px,#000aff 160.5px,#0000ea 161.5px,#0000a7 163.5px,#000090 164.5px,#00008f 165.5px,#0000b5 166.5px,#0035fd 167.5px,#25e5da 168.5px,#e9d616 169.5px,#f42100 170.5px,#a00000 171.5px,#800000 172.5px,#810000 173.5px,#990000 174.5px,#f90200 177.5px,#ff1800 178.5px,#ff5d00 181.5px,#ff9d00 185.5px,#ffdf00 192.5px,#ffff00 198.5px,#ffff00 200.5px,#efff10 202.5px,#efff10 205.5px,#dfff20 207.5px,#dfff20 212.5px,#cfff30 214.5px,#cfff30 222.5px,#bfff40 224.5px,#bfff40 238.5px,#b0ff4f 240.5px,#afff50 271.5px,#9fff60 273.5px,#9fff60 335.5px)"></i><i style="height:4px;background:linear-gradient(90deg,#70ff8f 0.5px,#70ff8f 62.5px,#60ff9f 65.5px,#5fffa0 96.5px,#50ffaf 98.5px,#50ffaf 112.5px,#4fffb0 113.5px,#41ffbe 114.5px,#40ffbf 123.5px,#30ffcf 125.5px,#30ffcf 130.5px,#23ffdc 131.5px,#20ffdf 135.5px,#14ffeb 136.5px,#00ffff 142.5px,#00deff 147.5px,#009bff 153.5px,#0055ff 157.5px,#0007fe 160.5px,#0000e5 161.5px,#0000a2 163.5px,#00008f 164.5px,#00008f 165.5px,#0000b1 166.5px,#0032fa 167.5px,#25e4da 168.5px,#ead515 169.5px,#f42000 170.5px,#9c0000 171.5px,#800000 172.5px,#800000 173.5px,#940000 174.5px,#f70000 177.5px,#ff1500 178.5px,#ff5a00 181.5px,#ff9900 185.5px,#ffce00 190.5px,#ffef00 195.5px,#fff300 197.5px,#ffff00 198.5px,#ffff00 200.5px,#efff10 202.5px,#efff10 205.5px,#dfff20 207.5px,#dfff20 212.5px,#cfff30 214.5px,#cfff30 222.5px,#bfff40 225.5px,#bfff40 239.5px,#afff50 241.5px,#afff50 272.5px,#9fff60 275.5px,#9fff60 335.5px)"></i><i style="height:4px;background:linear-gradient(90deg,#70ff8f 0.5px,#70ff8f 61.5px,#60ff9f 64.5px,#60ff9f 95.5px,#50ffaf 97.5px,#50ffaf 112.5px,#40ffbf 114.5px,#40ffbf 122.5px,#30ffcf 124.5px,#30ffcf 129.5px,#20ffdf 131.5px,#1effe1 135.5px,#10ffef 136.5px,#00feff 142.5px,#00efff 143.5px,#00efff 144.5px,#00bfff 150.5px,#0098ff 153.5px,#0051ff 157.5px,#0005fc 160.5px,#0000e0 161.5px,#00009d 163.5px,#00008f 164.5px,#00008f 165.5px,#0000ad 166.5px,#0031fa 167.5px,#25e4da 168.5px,#ead415 169.5px,#f41e00 170.5px,#980000 171.5px,#800000 172.5px,#800000 173.5px,#8f0000 174.5px,#f30000 177.5px,#ff1100 178.5px,#ff4300 180.5px,#ff6900 182.5px,#ffaf00 187.5px,#ffca00 190.5px,#ffe000 194.5px,#ffef00 195.5px,#ffef00 197.5px,#fffd00 198.5px,#ffff00 199.5px,#ffff00 201.5px,#f0ff0f 202.5px,#efff10 206.5px,#dfff20 208.5px,#dfff20 213.5px,#cfff30 215.5px,#cfff30 223.5px,#bfff40 225.5px,#bfff40 240.5px,#afff50 242.5px,#afff50 273.5px,#9fff60 276.5px,#9fff60 335.5px)"></i><i style="height:4px;background:linear-gradient(90deg,#70ff8f 0.5px,#70ff8f 60.5px,#60ff9f 63.5px,#60ff9f 94.5px,#50ffaf 96.5px,#50ffaf 111.5px,#40ffbf 113.5px,#40ffbf 122.5px,#30ffcf 124.5px,#30ffcf 129.5px,#20ffdf 131.5px,#20ffdf 134.5px,#10ffef 136.5px,#10ffef 138.5px,#00ffff 141.5px,#00efff 144.5px,#00bcff 150.5px,#0076ff 155.5px,#001bff 159.5px,#0003fa 160.5px,#0000dc 161.5px,#000098 163.5px,#00008f 165.5px,#0000a9 166.5px,#002efa 167.5px,#24e4db 168.5px,#ead415 169.5px,#f31e00 170.5px,#970000 171.5px,#800000 172.5px,#8a0000 174.5px,#ef0000 177.5px,#ff0d00 178.5px,#ff6700 182.5px,#ffad00 187.5px,#ffdf00 193.5px,#ffff00 199.5px,#ffff00 201.5px,#efff10 203.5px,#efff10 206.5px,#dfff20 208.5px,#dfff20 213.5px,#cfff30 215.5px,#cfff30 224.5px,#bfff40 226.5px,#bfff40 241.5px,#afff50 243.5px,#afff50 274.5px,#9fff60 277.5px,#9fff60 335.5px)"></i><i style="height:4px;background:linear-gradient(90deg,#70ff8f 0.5px,#70ff8f 59.5px,#60ff9f 62.5px,#5fffa0 94.5px,#50ffaf 96.5px,#50ffaf 111.5px,#40ffbf 113.5px,#3effc1 122.5px,#30ffcf 123.5px,#30ffcf 129.5px,#21ffde 130.5px,#20ffdf 134.5px,#14ffeb 135.5px,#00ffff 141.5px,#00efff 144.5px,#00afff 151.5px,#0074ff 155.5px,#0018ff 159.5px,#0001f8 160.5px,#0000d9 161.5px,#000096 163.5px,#00008f 165.5px,#0000a7 166.5px,#002efa 167.5px,#23e3dc 168.5px,#ead315 169.5px,#ed1e00 170.5px,#940000 171.5px,#800000 172.5px,#870000 174.5px,#eb0000 177.5px,#ff0900 178.5px,#ff5200 181.5px,#ff9f00 186.5px,#ffdf00 193.5px,#ffff00 199.5px,#ffff00 201.5px,#efff10 203.5px,#edff12 207.5px,#dfff20 208.5px,#dfff20 214.5px,#d0ff2f 215.5px,#cfff30 224.5px,#bfff40 226.5px,#bfff40 241.5px,#afff50 243.5px,#afff50 275.5px,#9fff60 278.5px,#9fff60 335.5px)"></i><i style="height:4px;background:linear-gradient(90deg,#70ff8f 0.5px,#6fff90 59.5px,#60ff9f 61.5px,#60ff9f 93.5px,#50ffaf 95.5px,#50ffaf 110.5px,#4fffb0 111.5px,#40ffbf 112.5px,#40ffbf 121.5px,#30ffcf 123.5px,#30ffcf 128.5px,#20ffdf 130.5px,#20ffdf 134.5px,#11ffee 135.5px,#10ffef 138.5px,#01fffe 139.5px,#00ffff 141.5px,#00edff 144.5px,#00dfff 145.5px,#00dfff 146.5px,#00adff 151.5px,#0072ff 155.5px,#0017ff 159.5px,#0000f7 160.5px,#000094 163.5px,#00008f 165.5px,#0000a6 166.5px,#002cfa 167.5px,#23e3dc 168.5px,#ead315 169.5px,#ed1c00 170.5px,#910000 171.5px,#800000 172.5px,#850000 174.5px,#e80000 177.5px,#ff0800 178.5px,#ff6300 182.5px,#ff9e00 186.5px,#ffde00 193.5px,#fff100 198.5px,#ffff00 199.5px,#feff01 202.5px,#efff10 203.5px,#efff10 207.5px,#dfff20 209.5px,#dfff20 214.5px,#cfff30 216.5px,#ceff31 225.5px,#c0ff3f 226.5px,#bfff40 242.5px,#afff50 244.5px,#afff50 276.5px,#9fff60 278.5px,#9fff60 335.5px)"></i><i style="height:4px;background:linear-gradient(90deg,#70ff8f 0.5px,#70ff8f 58.5px,#60ff9f 60.5px,#60ff9f 93.5px,#50ffaf 95.5px,#50ffaf 110.5px,#40ffbf 112.5px,#40ffbf 121.5px,#30ffcf 123.5px,#30ffcf 128.5px,#20ffdf 130.5px,#1dffe2 134.5px,#10ffef 135.5px,#00ffff 141.5px,#00f1ff 142.5px,#00deff 146.5px,#009fff 152.5px,#005bff 156.5px,#0013ff 159.5px,#0000f5 160.5px,#000093 163.5px,#00008f 165.5px,#0000a4 166.5px,#002cfa 167.5px,#23e3dc 168.5px,#ead215 169.5px,#ed1b00 170.5px,#910000 171.5px,#800000 172.5px,#840000 174.5px,#e60000 177.5px,#fe0700 178.5px,#ff6100 182.5px,#ff9d00 186.5px,#ffcf00 191.5px,#ffe200 195.5px,#ffef00 196.5px,#ffef00 198.5px,#fffe00 199.5px,#ffff00 202.5px,#f1ff0e 203.5px,#efff10 207.5px,#dfff20 209.5px,#dfff20 214.5px,#cfff30 216.5px,#cfff30 225.5px,#bfff40 227.5px,#bfff40 242.5px,#afff50 244.5px,#afff50 277.5px,#9fff60 279.5px,#9fff60 335.5px)"></i><i style="height:4px;background:linear-gradient(90deg,#70ff8f 0.5px,#70ff8f 57.5px,#60ff9f 60.5px,#60ff9f 92.5px,#50ffaf 94.5px,#50ffaf 110.5px,#40ffbf 112.5px,#40ffbf 121.5px,#31ffce 122.5px,#30ffcf 128.5px,#20ffdf 130.5px,#20ffdf 133.5px,#10ffef 135.5px,#00ffff 141.5px,#00efff 142.5px,#00dcff 146.5px,#009eff 152.5px,#005aff 156.5px,#0012ff 159.5px,#0000f3 160.5px,#000092 163.5px,#00008f 165.5px,#0000a3 166.5px,#002cfa 167.5px,#23e3dc 168.5px,#ead115 169.5px,#ed1b00 170.5px,#8f0000 171.5px,#800000 172.5px,#800000 173.5px,#830000 174.5px,#e40000 177.5px,#fd0500 178.5px,#ff1e00 179.5px,#ff7000 183.5px,#ff9b00 186.5px,#ffcd00 191.5px,#ffe000 195.5px,#ffef00 196.5px,#ffef00 198.5px,#ffff00 200.5px,#ffff00 202.5px,#efff10 204.5px,#efff10 207.5px,#dfff20 209.5px,#ddff22 215.5px,#cfff30 216.5px,#cfff30 225.5px,#bfff40 227.5px,#bfff40 243.5px,#b1ff4e 244.5px,#afff50 245.5px,#afff50 277.5px,#a0ff5f 279.5px,#9fff60 335.5px)"></i><i style="height:4px;background:linear-gradient(90deg,#70ff8f 0.5px,#70ff8f 57.5px,#60ff9f 59.5px,#60ff9f 92.5px,#50ffaf 94.5px,#50ffaf 110.5px,#40ffbf 112.5px,#3effc1 121.5px,#30ffcf 122.5px,#30ffcf 128.5px,#23ffdc 129.5px,#20ffdf 133.5px,#10ffef 135.5px,#10ffef 137.5px,#00ffff 140.5px,#00dbff 146.5px,#009dff 152.5px,#0059ff 156.5px,#0010ff 159.5px,#0000f1 160.5px,#000091 163.5px,#00008f 165.5px,#0000a3 166.5px,#002cf9 167.5px,#23e3dc 168.5px,#ead115 169.5px,#ed1b00 170.5px,#8e0000 171.5px,#800000 172.5px,#800000 173.5px,#830000 174.5px,#fd0500 178.5px,#ff1d00 179.5px,#ff5e00 182.5px,#ff9a00 186.5px,#ffcc00 191.5px,#ffff00 200.5px,#ffff00 202.5px,#efff10 204.5px,#efff10 207.5px,#dfff20 209.5px,#dfff20 215.5px,#d0ff2f 216.5px,#cfff30 225.5px,#bfff40 227.5px,#bfff40 243.5px,#afff50 245.5px,#afff50 278.5px,#9fff60 280.5px,#9fff60 335.5px)"></i><i style="height:4px;background:linear-gradient(90deg,#70ff8f 0.5px,#70ff8f 57.5px,#60ff9f 59.5px,#60ff9f 92.5px,#50ffaf 94.5px,#50ffaf 110.5px,#41ffbe 111.5px,#40ffbf 120.5px,#30ffcf 122.5px,#30ffcf 128.5px,#22ffdd 129.5px,#20ffdf 133.5px,#10ffef 135.5px,#10ffef 137.5px,#00ffff 140.5px,#00daff 146.5px,#009cff 152.5px,#0045ff 157.5px,#0010ff 159.5px,#0000f1 160.5px,#000091 163.5px,#00008f 165.5px,#0000a3 166.5px,#002cf6 167.5px,#23e1dc 168.5px,#ead115 169.5px,#ed1b00 170.5px,#8e0000 171.5px,#800000 172.5px,#810000 174.5px,#e30000 177.5px,#fc0400 178.5px,#ff1b00 179.5px,#ff5d00 182.5px,#ff9a00 186.5px,#ffcc00 191.5px,#ffff00 200.5px,#ffff00 202.5px,#efff10 204.5px,#ecff13 208.5px,#dfff20 209.5px,#dfff20 215.5px,#d1ff2e 216.5px,#cfff30 217.5px,#cfff30 225.5px,#cdff32 226.5px,#bfff40 227.5px,#bfff40 243.5px,#afff50 245.5px,#afff50 278.5px,#9fff60 280.5px,#9fff60 335.5px)"></i><i style="height:4px;background:linear-gradient(90deg,#70ff8f 0.5px,#70ff8f 57.5px,#60ff9f 59.5px,#60ff9f 92.5px,#50ffaf 94.5px,#50ffaf 110.5px,#40ffbf 111.5px,#40ffbf 120.5px,#30ffcf 122.5px,#30ffcf 128.5px,#22ffdd 129.5px,#20ffdf 133.5px,#10ffef 135.5px,#10ffef 137.5px,#00ffff 140.5px,#00daff 146.5px,#009cff 152.5px,#0045ff 157.5px,#0010ff 159.5px,#0000ef 160.5px,#000091 163.5px,#00008f 165.5px,#0000a3 166.5px,#002cf6 167.5px,#23e1dc 168.5px,#ead115 169.5px,#ed1a00 170.5px,#8e0000 171.5px,#800000 172.5px,#810000 174.5px,#fb0400 178.5px,#ff1b00 179.5px,#ff4a00 181.5px,#ff6e00 183.5px,#ffaf00 188.5px,#ffdf00 194.5px,#ffdf00 195.5px,#ffed00 196.5px,#ffef00 198.5px,#ffff00 200.5px,#ffff00 202.5px,#efff10 204.5px,#edff12 208.5px,#dfff20 209.5px,#dfff20 215.5px,#cfff30 217.5px,#ceff31 226.5px,#bfff40 227.5px,#bfff40 243.5px,#afff50 245.5px,#afff50 278.5px,#9fff60 280.5px,#9fff60 335.5px)"></i><i style="height:4px;background:linear-gradient(90deg,#70ff8f 0.5px,#70ff8f 57.5px,#60ff9f 59.5px,#60ff9f 92.5px,#50ffaf 94.5px,#50ffaf 110.5px,#40ffbf 111.5px,#40ffbf 120.5px,#30ffcf 122.5px,#30ffcf 128.5px,#22ffdd 129.5px,#20ffdf 133.5px,#10ffef 135.5px,#10ffef 137.5px,#00ffff 140.5px,#00daff 146.5px,#009cff 152.5px,#0045ff 157.5px,#0010ff 159.5px,#0000f0 160.5px,#000091 163.5px,#00008f 165.5px,#0000a3 166.5px,#002cf6 167.5px,#23e1dc 168.5px,#ead115 169.5px,#ed1a00 170.5px,#8e0000 171.5px,#800000 172.5px,#810000 174.5px,#fb0400 178.5px,#ff1b00 179.5px,#ff4a00 181.5px,#ff7f00 184.5px,#ffaf00 188.5px,#ffdf00 194.5px,#ffdf00 195.5px,#ffed00 196.5px,#ffef00 198.5px,#ffff00 200.5px,#ffff00 202.5px,#efff10 204.5px,#edff12 208.5px,#dfff20 209.5px,#dfff20 215.5px,#cfff30 217.5px,#ceff31 226.5px,#bfff40 227.5px,#bfff40 243.5px,#afff50 245.5px,#afff50 278.5px,#9fff60 280.5px,#9fff60 335.5px)"></i><i style="height:4px;background:linear-gradient(90deg,#70ff8f 0.5px,#70ff8f 57.5px,#60ff9f 59.5px,#60ff9f 92.5px,#50ffaf 94.5px,#50ffaf 110.5px,#41ffbe 111.5px,#40ffbf 120.5px,#30ffcf 122.5px,#30ffcf 128.5px,#22ffdd 129.5px,#20ffdf 133.5px,#10ffef 135.5px,#10ffef 137.5px,#00ffff 140.5px,#00daff 146.5px,#009cff 152.5px,#0045ff 157.5px,#0010ff 159.5px,#0000f1 160.5px,#000091 163.5px,#00008f 165.5px,#0000a3 166.5px,#002cf6 167.5px,#23e1dc 168.5px,#ead115 169.5px,#ed1b00 170.5px,#8e0000 171.5px,#800000 172.5px,#810000 174.5px,#fc0500 178.5px,#ff1c00 179.5px,#ff5d00 182.5px,#ff9a00 186.5px,#ffcc00 191.5px,#ffff00 200.5px,#ffff00 202.5px,#efff10 204.5px,#ecff13 208.5px,#dfff20 209.5px,#dfff20 215.5px,#d1ff2e 216.5px,#cfff30 217.5px,#cfff30 225.5px,#bfff40 227.5px,#bfff40 243.5px,#afff50 245.5px,#afff50 278.5px,#9fff60 280.5px,#9fff60 335.5px)"></i><i style="height:4px;background:linear-gradient(90deg,#70ff8f 0.5px,#70ff8f 57.5px,#60ff9f 59.5px,#60ff9f 92.5px,#50ffaf 94.5px,#50ffaf 110.5px,#40ffbf 112.5px,#3fffc0 121.5px,#30ffcf 122.5px,#30ffcf 128.5px,#24ffdb 129.5px,#20ffdf 133.5px,#10ffef 135.5px,#10ffef 137.5px,#00ffff 140.5px,#00dbff 146.5px,#009eff 152.5px,#005aff 156.5px,#0010ff 159.5px,#0000f1 160.5px,#000091 163.5px,#00008f 165.5px,#0000a3 166.5px,#002cf9 167.5px,#23e3dc 168.5px,#ead115 169.5px,#ed1b00 170.5px,#8e0000 171.5px,#800000 172.5px,#800000 173.5px,#830000 174.5px,#e30000 177.5px,#fd0500 178.5px,#ff1d00 179.5px,#ff5e00 182.5px,#ff9a00 186.5px,#ffcc00 191.5px,#ffdf00 195.5px,#ffee00 196.5px,#ffef00 198.5px,#ffff00 200.5px,#ffff00 202.5px,#efff10 204.5px,#efff10 207.5px,#dfff20 209.5px,#dfff20 215.5px,#cfff30 216.5px,#cfff30 225.5px,#bfff40 227.5px,#bfff40 243.5px,#afff50 245.5px,#afff50 278.5px,#9fff60 280.5px,#9fff60 335.5px)"></i><i style="height:4px;background:linear-gradient(90deg,#70ff8f 0.5px,#70ff8f 58.5px,#60ff9f 60.5px,#60ff9f 92.5px,#5fffa0 93.5px,#50ffaf 94.5px,#50ffaf 110.5px,#40ffbf 112.5px,#40ffbf 121.5px,#32ffcd 122.5px,#30ffcf 128.5px,#20ffdf 130.5px,#20ffdf 133.5px,#10ffef 135.5px,#00ffff 141.5px,#00efff 142.5px,#00ddff 146.5px,#009eff 152.5px,#0047ff 157.5px,#0013ff 159.5px,#0000f3 160.5px,#000092 163.5px,#00008f 165.5px,#0000a3 166.5px,#002cfa 167.5px,#23e3dc 168.5px,#ead115 169.5px,#ed1b00 170.5px,#900000 171.5px,#800000 172.5px,#800000 173.5px,#830000 174.5px,#e50000 177.5px,#fd0500 178.5px,#ff1f00 179.5px,#ff5f00 182.5px,#ff9c00 186.5px,#ffce00 191.5px,#ffe000 195.5px,#ffef00 196.5px,#ffef00 198.5px,#ffff00 200.5px,#ffff00 202.5px,#efff10 204.5px,#efff10 207.5px,#dfff20 209.5px,#dcff23 215.5px,#cfff30 216.5px,#cfff30 225.5px,#bfff40 227.5px,#beff41 243.5px,#b0ff4f 244.5px,#afff50 277.5px,#9fff60 279.5px,#9fff60 335.5px)"></i><i style="height:4px;background:linear-gradient(90deg,#70ff8f 0.5px,#70ff8f 58.5px,#60ff9f 60.5px,#60ff9f 93.5px,#50ffaf 95.5px,#50ffaf 110.5px,#40ffbf 112.5px,#40ffbf 121.5px,#30ffcf 123.5px,#30ffcf 128.5px,#20ffdf 130.5px,#1effe1 134.5px,#10ffef 135.5px,#0ffff0 138.5px,#00ffff 139.5px,#00ffff 141.5px,#00f1ff 142.5px,#00deff 146.5px,#009fff 152.5px,#0070ff 155.5px,#0014ff 159.5px,#0000f5 160.5px,#000093 163.5px,#00008f 165.5px,#0000a5 166.5px,#002cfa 167.5px,#23e3dc 168.5px,#ead215 169.5px,#ed1b00 170.5px,#910000 171.5px,#800000 172.5px,#850000 174.5px,#e70000 177.5px,#ff0700 178.5px,#ff6200 182.5px,#ff9d00 186.5px,#ffcf00 191.5px,#ffcf00 192.5px,#ffef00 196.5px,#ffef00 198.5px,#ffff00 199.5px,#ffff00 202.5px,#f0ff0f 203.5px,#efff10 207.5px,#dfff20 209.5px,#dfff20 214.5px,#cfff30 216.5px,#cfff30 225.5px,#bfff40 227.5px,#bfff40 242.5px,#afff50 244.5px,#afff50 277.5px,#9fff60 279.5px,#9fff60 335.5px)"></i><i style="height:4px;background:linear-gradient(90deg,#70ff8f 0.5px,#70ff8f 59.5px,#60ff9f 61.5px,#60ff9f 93.5px,#50ffaf 95.5px,#50ffaf 111.5px,#42ffbd 112.5px,#40ffbf 113.5px,#40ffbf 121.5px,#30ffcf 123.5px,#30ffcf 128.5px,#20ffdf 130.5px,#20ffdf 134.5px,#11ffee 135.5px,#10ffef 138.5px,#02fffd 139.5px,#00ffff 141.5px,#00eeff 144.5px,#00dfff 145.5px,#00dfff 146.5px,#00aeff 151.5px,#0072ff 155.5px,#0017ff 159.5px,#0000f7 160.5px,#000095 163.5px,#00008f 165.5px,#0000a6 166.5px,#002dfa 167.5px,#23e3dc 168.5px,#ead315 169.5px,#ed1d00 170.5px,#920000 171.5px,#800000 172.5px,#800000 173.5px,#860000 174.5px,#e90000 177.5px,#ff0800 178.5px,#ff6300 182.5px,#ff9f00 186.5px,#ffbf00 189.5px,#ffcf00 192.5px,#ffdf00 193.5px,#fff200 198.5px,#ffff00 199.5px,#fdff02 202.5px,#efff10 203.5px,#efff10 207.5px,#e1ff1e 208.5px,#dfff20 214.5px,#cfff30 216.5px,#cfff30 224.5px,#bfff40 226.5px,#bfff40 242.5px,#afff50 244.5px,#afff50 276.5px,#9fff60 278.5px,#9fff60 335.5px)"></i><i style="height:4px;background:linear-gradient(90deg,#70ff8f 0.5px,#6fff90 60.5px,#60ff9f 62.5px,#60ff9f 94.5px,#50ffaf 96.5px,#50ffaf 111.5px,#40ffbf 113.5px,#3fffc0 122.5px,#31ffce 123.5px,#30ffcf 129.5px,#22ffdd 130.5px,#20ffdf 134.5px,#10ffef 136.5px,#10ffef 138.5px,#00ffff 141.5px,#00efff 144.5px,#00afff 151.5px,#0062ff 156.5px,#0019ff 159.5px,#0001f9 160.5px,#0000da 161.5px,#000096 163.5px,#00008f 165.5px,#0000a8 166.5px,#002efa 167.5px,#23e4dc 168.5px,#ead315 169.5px,#ee1e00 170.5px,#950000 171.5px,#800000 172.5px,#880000 174.5px,#ec0000 177.5px,#ff0a00 178.5px,#ff6500 182.5px,#ffab00 187.5px,#ffdf00 193.5px,#ffff00 199.5px,#ffff00 201.5px,#efff10 203.5px,#ecff13 207.5px,#dfff20 208.5px,#deff21 214.5px,#cfff30 215.5px,#cfff30 224.5px,#bfff40 226.5px,#bfff40 241.5px,#afff50 243.5px,#afff50 275.5px,#a0ff5f 277.5px,#9fff60 335.5px)"></i><i style="height:4px;background:linear-gradient(90deg,#70ff8f 0.5px,#70ff8f 60.5px,#60ff9f 63.5px,#60ff9f 94.5px,#50ffaf 97.5px,#50ffaf 111.5px,#4fffb0 112.5px,#41ffbe 113.5px,#40ffbf 122.5px,#30ffcf 124.5px,#30ffcf 129.5px,#20ffdf 131.5px,#20ffdf 134.5px,#10ffef 136.5px,#10ffef 138.5px,#00ffff 141.5px,#00efff 144.5px,#00bdff 150.5px,#0076ff 155.5px,#001cff 159.5px,#0003fb 160.5px,#0000de 161.5px,#00009a 163.5px,#00008f 164.5px,#00008f 165.5px,#0000aa 166.5px,#002ffa 167.5px,#25e4da 168.5px,#ead415 169.5px,#f41e00 170.5px,#970000 171.5px,#800000 172.5px,#800000 173.5px,#8c0000 174.5px,#f00000 177.5px,#ff0e00 178.5px,#ff6800 182.5px,#ffae00 187.5px,#ffdf00 193.5px,#ffff00 199.5px,#ffff00 201.5px,#efff10 203.5px,#efff10 206.5px,#dfff20 208.5px,#dfff20 213.5px,#cfff30 215.5px,#cfff30 223.5px,#ceff31 224.5px,#c0ff3f 225.5px,#bfff40 240.5px,#afff50 243.5px,#afff50 274.5px,#9fff60 277.5px,#9fff60 335.5px)"></i><i style="height:4px;background:linear-gradient(90deg,#70ff8f 0.5px,#70ff8f 61.5px,#60ff9f 64.5px,#60ff9f 95.5px,#50ffaf 97.5px,#50ffaf 112.5px,#40ffbf 114.5px,#40ffbf 122.5px,#30ffcf 124.5px,#2effd1 130.5px,#20ffdf 131.5px,#1fffe0 135.5px,#11ffee 136.5px,#0efff1 139.5px,#00ffff 140.5px,#00ffff 142.5px,#00f0ff 143.5px,#00dbff 147.5px,#00bfff 150.5px,#0099ff 153.5px,#0053ff 157.5px,#0005fc 160.5px,#0000e1 161.5px,#00009e 163.5px,#00008f 164.5px,#00008f 165.5px,#0000ae 166.5px,#0031fa 167.5px,#25e4da 168.5px,#ead415 169.5px,#f41e00 170.5px,#990000 171.5px,#800000 172.5px,#800000 173.5px,#900000 174.5px,#f40000 177.5px,#ff1200 178.5px,#ff4400 180.5px,#ff6a00 182.5px,#ffaf00 187.5px,#ffda00 192.5px,#ffe100 194.5px,#ffef00 195.5px,#fff000 197.5px,#fffe00 198.5px,#feff01 201.5px,#f0ff0f 202.5px,#efff10 206.5px,#e1ff1e 207.5px,#dfff20 213.5px,#d1ff2e 214.5px,#cfff30 223.5px,#bfff40 225.5px,#bfff40 240.5px,#afff50 242.5px,#afff50 273.5px,#a0ff5f 275.5px,#9fff60 335.5px)"></i><i style="height:4px;background:linear-gradient(90deg,#70ff8f 0.5px,#70ff8f 63.5px,#60ff9f 65.5px,#60ff9f 96.5px,#50ffaf 98.5px,#50ffaf 113.5px,#40ffbf 115.5px,#40ffbf 123.5px,#30ffcf 125.5px,#30ffcf 130.5px,#20ffdf 132.5px,#20ffdf 135.5px,#10ffef 137.5px,#10ffef 139.5px,#04fffb 140.5px,#00ffff 142.5px,#00deff 147.5px,#009cff 153.5px,#0056ff 157.5px,#0008ff 160.5px,#0000e6 161.5px,#0000a4 163.5px,#00008f 164.5px,#00008f 165.5px,#0000b2 166.5px,#0034fb 167.5px,#25e4da 168.5px,#ead615 169.5px,#f42000 170.5px,#9d0000 171.5px,#800000 172.5px,#800000 173.5px,#950000 174.5px,#f70000 177.5px,#ff1600 178.5px,#ff5b00 181.5px,#ff9a00 185.5px,#ffcf00 190.5px,#ffff00 198.5px,#ffff00 200.5px,#efff10 202.5px,#efff10 205.5px,#dfff20 207.5px,#dfff20 212.5px,#cfff30 214.5px,#cfff30 222.5px,#bfff40 224.5px,#bfff40 239.5px,#afff50 241.5px,#afff50 272.5px,#9fff60 274.5px,#9fff60 335.5px)"></i></div>
<div class="hm" style="left:95px;top:1051px;width:343px;height:341px"><i style="height:4px;background:linear-gradient(90deg,#8fff70 0.5px,#8fff70 166.5px,#aeff51 169.5px,#dcfb23 170.5px,#71918e 171.5px,#39ffc6 172.5px,#64ff9b 173.5px,#80ff80 176.5px,#80ff80 342.5px)"></i><i style="height:4px;background:linear-gradient(90deg,#8fff70 0.5px,#8fff70 166.5px,#aaff55 169.5px,#dafd25 170.5px,#71a08e 171.5px,#3effc1 172.5px,#67ff98 173.5px,#80ff80 176.5px,#80ff80 342.5px)"></i><i style="height:4px;background:linear-gradient(90deg,#8fff70 0.5px,#8fff70 166.5px,#a7ff58 169.5px,#d2fe2d 170.5px,#71af8e 171.5px,#44ffbb 172.5px,#69ff96 173.5px,#80ff80 176.5px,#80ff80 342.5px)"></i><i style="height:4px;background:linear-gradient(90deg,#8fff70 0.5px,#8fff70 166.5px,#90ff6f 167.5px,#a5ff5a 169.5px,#cfff30 170.5px,#73bd8c 171.5px,#49ffb6 172.5px,#6bff94 173.5px,#80ff80 175.5px,#80ff80 342.5px)"></i><i style="height:4px;background:linear-gradient(90deg,#8fff70 0.5px,#8fff70 167.5px,#a3ff5c 169.5px,#c8ff37 170.5px,#74cb8b 171.5px,#4effb1 172.5px,#6dff92 173.5px,#80ff80 175.5px,#80ff80 342.5px)"></i><i style="height:4px;background:linear-gradient(90deg,#8fff70 0.5px,#8fff70 167.5px,#a1ff5e 169.5px,#c3ff3c 170.5px,#76d889 171.5px,#52ffad 172.5px,#70ff8f 173.5px,#80ff80 175.5px,#80ff80 342.5px)"></i><i style="height:4px;background:linear-gradient(90deg,#8fff70 0.5px,#8fff70 167.5px,#9fff60 169.5px,#bdff42 170.5px,#78e487 171.5px,#59ffa6 172.5px,#7eff81 174.5px,#80ff80 175.5px,#80ff80 342.5px)"></i><i style="height:4px;background:linear-gradient(90deg,#8fff70 0.5px,#90ff6f 168.5px,#b7ff48 170.5px,#79ef86 171.5px,#5dffa2 172.5px,#80ff80 174.5px,#80ff80 342.5px)"></i><i style="height:4px;background:linear-gradient(90deg,#8fff70 0.5px,#8fff70 168.5px,#b1ff4e 170.5px,#7df782 171.5px,#63ff9c 172.5px,#80ff80 174.5px,#80ff80 342.5px)"></i><i style="height:4px;background:linear-gradient(90deg,#8fff70 0.5px,#8fff70 168.5px,#96ff69 169.5px,#acff53 170.5px,#80fd7f 171.5px,#67ff98 172.5px,#7aff85 173.5px,#80ff80 174.5px,#80ff80 342.5px)"></i><i style="height:4px;background:linear-gradient(90deg,#8fff70 0.5px,#8fff70 168.5px,#92ff6d 169.5px,#a7ff58 170.5px,#82ff7d 171.5px,#6bff94 172.5px,#7eff81 173.5px,#80ff80 174.5px,#80ff80 342.5px)"></i><i style="height:4px;background:linear-gradient(90deg,#8fff70 0.5px,#8fff70 169.5px,#a3ff5c 170.5px,#70ff8f 172.5px,#80ff80 173.5px,#80ff80 342.5px)"></i><i style="height:4px;background:linear-gradient(90deg,#8fff70 0.5px,#8fff70 169.5px,#9dff62 170.5px,#75ff8a 172.5px,#80ff80 173.5px,#80ff80 342.5px)"></i><i style="height:4px;background:linear-gradient(90deg,#8fff70 0.5px,#8fff70 169.5px,#97ff68 170.5px,#7aff85 172.5px,#80ff80 342.5px)"></i><i style="height:4px;background:linear-gradient(90deg,#8fff70 0.5px,#94ff6b 170.5px,#7dff82 172.5px,#80ff80 342.5px)"></i><i style="height:4px;background:linear-gradient(90deg,#8fff70 0.5px,#90ff6f 170.5px,#80ff80 172.5px,#80ff80 342.5px)"></i><i style="height:12px;background:linear-gradient(90deg,#8fff70 0.5px,#8fff70 170.5px,#80ff80 172.5px,#80ff80 342.5px)"></i><i style="height:3px;background:linear-gradient(90deg,#87ff78 0.5px,#88ff77 342.5px)"></i><i style="height:12px;background:linear-gradient(90deg,#80ff80 0.5px,#80ff80 170.5px,#8fff70 172.5px,#8fff70 342.5px)"></i><i style="height:4px;background:linear-gradient(90deg,#80ff80 0.5px,#7fff80 170.5px,#8fff70 172.5px,#8fff70 342.5px)"></i><i style="height:4px;background:linear-gradient(90deg,#80ff80 0.5px,#7bff84 170.5px,#92ff6d 172.5px,#8fff70 342.5px)"></i><i style="height:4px;background:linear-gradient(90deg,#80ff80 0.5px,#80ff80 169.5px,#78ff87 170.5px,#96ff69 172.5px,#8fff70 173.5px,#8fff70 342.5px)"></i><i style="height:4px;background:linear-gradient(90deg,#80ff80 0.5px,#80ff80 169.5px,#72ff8d 170.5px,#9aff65 172.5px,#8fff70 173.5px,#8fff70 342.5px)"></i><i style="height:4px;background:linear-gradient(90deg,#80ff80 0.5px,#80ff80 169.5px,#6cff93 170.5px,#8cff73 171.5px,#a0ff5f 172.5px,#8fff70 173.5px,#8fff70 342.5px)"></i><i style="height:4px;background:linear-gradient(90deg,#80ff80 0.5px,#80ff80 168.5px,#7dff82 169.5px,#67ff98 170.5px,#8dff72 171.5px,#a4ff5b 172.5px,#91ff6e 173.5px,#8fff70 174.5px,#8fff70 342.5px)"></i><i style="height:4px;background:linear-gradient(90deg,#80ff80 0.5px,#80ff80 168.5px,#79ff86 169.5px,#63ff9c 170.5px,#8cfd73 171.5px,#a8ff57 172.5px,#95ff6a 173.5px,#8fff70 174.5px,#8fff70 342.5px)"></i><i style="height:4px;background:linear-gradient(90deg,#80ff80 0.5px,#80ff80 168.5px,#75ff8a 169.5px,#5effa1 170.5px,#8cf873 171.5px,#acff53 172.5px,#8fff70 174.5px,#8fff70 342.5px)"></i><i style="height:4px;background:linear-gradient(90deg,#80ff80 0.5px,#7fff80 168.5px,#57ffa8 170.5px,#8cef73 171.5px,#b2ff4d 172.5px,#8fff70 174.5px,#8fff70 342.5px)"></i><i style="height:4px;background:linear-gradient(90deg,#80ff80 0.5px,#80ff80 167.5px,#70ff8f 169.5px,#52ffad 170.5px,#8ce473 171.5px,#b7ff48 172.5px,#91ff6e 174.5px,#8fff70 175.5px,#8fff70 342.5px)"></i><i style="height:4px;background:linear-gradient(90deg,#80ff80 0.5px,#80ff80 167.5px,#6eff91 169.5px,#4bffb4 170.5px,#8dd772 171.5px,#bdff42 172.5px,#a0ff5f 173.5px,#8fff70 175.5px,#8fff70 342.5px)"></i><i style="height:4px;background:linear-gradient(90deg,#80ff80 0.5px,#80ff80 167.5px,#6cff93 169.5px,#47ffb8 170.5px,#8dca72 171.5px,#c1ff3e 172.5px,#a2ff5d 173.5px,#8fff70 175.5px,#8fff70 342.5px)"></i><i style="height:4px;background:linear-gradient(90deg,#80ff80 0.5px,#80ff80 166.5px,#7fff80 167.5px,#6aff95 169.5px,#40ffbf 170.5px,#8ebc71 171.5px,#c6ff39 172.5px,#a4ff5b 173.5px,#90ff6f 175.5px,#8fff70 342.5px)"></i><i style="height:4px;background:linear-gradient(90deg,#80ff80 0.5px,#80ff80 166.5px,#67ff98 169.5px,#3bffc4 170.5px,#8eac71 171.5px,#cbff34 172.5px,#a6ff59 173.5px,#8fff70 176.5px,#8fff70 342.5px)"></i><i style="height:4px;background:linear-gradient(90deg,#80ff80 0.5px,#80ff80 166.5px,#65ff9a 169.5px,#34ffcb 170.5px,#8e9e71 171.5px,#d1ff2e 172.5px,#a8ff57 173.5px,#8fff70 176.5px,#8fff70 342.5px)"></i><i style="height:4px;background:linear-gradient(90deg,#80ff80 0.5px,#80ff80 166.5px,#61ff9e 169.5px,#31fdce 170.5px,#8e8f71 171.5px,#d6fe29 172.5px,#aaff55 173.5px,#8fff70 176.5px,#8fff70 342.5px)"></i><i style="height:4px;background:linear-gradient(90deg,#80ff80 0.5px,#80ff80 165.5px,#70ff8f 168.5px,#5effa1 169.5px,#2bfcd4 170.5px,#8e8071 171.5px,#dafd25 172.5px,#aeff51 173.5px,#9fff60 174.5px,#8fff70 177.5px,#8fff70 342.5px)"></i><i style="height:4px;background:linear-gradient(90deg,#80ff80 0.5px,#80ff80 165.5px,#6fff90 168.5px,#5bffa4 169.5px,#27fbd8 170.5px,#8e7271 171.5px,#ddfc22 172.5px,#b2ff4d 173.5px,#9fff60 174.5px,#8fff70 177.5px,#8fff70 342.5px)"></i><i style="height:4px;background:linear-gradient(90deg,#80ff80 0.5px,#80ff80 165.5px,#6cff93 168.5px,#5affa5 169.5px,#24f8db 170.5px,#8d6471 171.5px,#e1fa1e 172.5px,#b4ff4b 173.5px,#a1ff5e 174.5px,#8fff70 177.5px,#8fff70 342.5px)"></i><i style="height:4px;background:linear-gradient(90deg,#80ff80 0.5px,#80ff80 165.5px,#71ff8e 166.5px,#6aff95 168.5px,#59ffa6 169.5px,#1ef7e1 170.5px,#8b5971 171.5px,#e5f91a 172.5px,#b5ff4a 173.5px,#a3ff5c 174.5px,#9dff62 176.5px,#8fff70 177.5px,#8fff70 342.5px)"></i><i style="height:4px;background:linear-gradient(90deg,#80ff80 0.5px,#80ff80 164.5px,#68ff97 168.5px,#55ffaa 169.5px,#1ef4e1 170.5px,#894f70 171.5px,#e7f818 172.5px,#b6ff49 173.5px,#a5ff5a 174.5px,#8fff70 178.5px,#8fff70 342.5px)"></i><i style="height:4px;background:linear-gradient(90deg,#80ff80 0.5px,#80ff80 164.5px,#70ff8f 167.5px,#54ffab 169.5px,#1af2e5 170.5px,#88466e 171.5px,#ebf514 172.5px,#b8ff47 173.5px,#a7ff58 174.5px,#8fff70 178.5px,#8fff70 342.5px)"></i><i style="height:4px;background:linear-gradient(90deg,#80ff80 0.5px,#80ff80 164.5px,#70ff8f 167.5px,#51ffae 169.5px,#17efe8 170.5px,#863d6c 171.5px,#ecf313 172.5px,#bbff44 173.5px,#9fff60 175.5px,#8fff70 178.5px,#8fff70 342.5px)"></i><i style="height:4px;background:linear-gradient(90deg,#80ff80 0.5px,#80ff80 164.5px,#71ff8e 165.5px,#70ff8f 167.5px,#4fffb0 169.5px,#15eeea 170.5px,#84346a 171.5px,#eef211 172.5px,#bcff43 173.5px,#9fff60 175.5px,#9cff63 177.5px,#8fff70 178.5px,#8fff70 342.5px)"></i><i style="height:4px;background:linear-gradient(90deg,#80ff80 0.5px,#80ff80 163.5px,#7eff81 164.5px,#70ff8f 165.5px,#70ff8f 167.5px,#4cffb3 169.5px,#13ebec 170.5px,#822e69 171.5px,#f0ee0f 172.5px,#bfff40 173.5px,#9fff60 175.5px,#9fff60 177.5px,#90ff6f 178.5px,#8fff70 179.5px,#8fff70 342.5px)"></i><i style="height:4px;background:linear-gradient(90deg,#80ff80 0.5px,#80ff80 163.5px,#70ff8f 165.5px,#6fff90 167.5px,#4bffb4 169.5px,#11e7ee 170.5px,#7f2667 171.5px,#f1ec0e 172.5px,#c1ff3e 173.5px,#9fff60 175.5px,#9fff60 177.5px,#8fff70 179.5px,#8fff70 342.5px)"></i><i style="height:4px;background:linear-gradient(90deg,#80ff80 0.5px,#80ff80 163.5px,#70ff8f 165.5px,#6eff91 167.5px,#47ffb8 169.5px,#0fe6f0 170.5px,#7d2265 171.5px,#f4ea0b 172.5px,#c3ff3c 173.5px,#a0ff5f 175.5px,#9fff60 177.5px,#8fff70 179.5px,#8fff70 342.5px)"></i><i style="height:4px;background:linear-gradient(90deg,#80ff80 0.5px,#80ff80 163.5px,#74ff8b 164.5px,#6cff93 167.5px,#47ffb8 169.5px,#0ee3f1 170.5px,#7c1e62 171.5px,#f4e80b 172.5px,#c4ff3b 173.5px,#a1ff5e 175.5px,#9fff60 177.5px,#8fff70 179.5px,#8fff70 342.5px)"></i><i style="height:4px;background:linear-gradient(90deg,#80ff80 0.5px,#80ff80 163.5px,#71ff8e 164.5px,#6bff94 167.5px,#45ffba 169.5px,#0de1f2 170.5px,#7a1b61 171.5px,#f6e709 172.5px,#c7ff38 173.5px,#a3ff5c 175.5px,#9cff63 178.5px,#8fff70 179.5px,#8fff70 342.5px)"></i><i style="height:4px;background:linear-gradient(90deg,#80ff80 0.5px,#80ff80 162.5px,#7fff80 163.5px,#70ff8f 164.5px,#6aff95 167.5px,#5dffa2 168.5px,#43ffbc 169.5px,#0cdff3 170.5px,#7a195e 171.5px,#f7e408 172.5px,#c8ff37 173.5px,#a4ff5b 175.5px,#9eff61 178.5px,#8fff70 179.5px,#8fff70 342.5px)"></i><i style="height:4px;background:linear-gradient(90deg,#80ff80 0.5px,#80ff80 162.5px,#70ff8f 164.5px,#68ff97 167.5px,#5cffa3 168.5px,#43ffbc 169.5px,#09ddf6 170.5px,#78155e 171.5px,#f8df07 172.5px,#c8ff37 173.5px,#a5ff5a 175.5px,#9fff60 178.5px,#91ff6e 179.5px,#8fff70 180.5px,#8fff70 342.5px)"></i><i style="height:4px;background:linear-gradient(90deg,#80ff80 0.5px,#80ff80 162.5px,#70ff8f 164.5px,#67ff98 167.5px,#5cffa3 168.5px,#42ffbd 169.5px,#09d8f6 170.5px,#78135b 171.5px,#f8df07 172.5px,#caff35 173.5px,#b1ff4e 174.5px,#a6ff59 175.5px,#9fff60 178.5px,#8fff70 180.5px,#8fff70 342.5px)"></i><i style="height:4px;background:linear-gradient(90deg,#80ff80 0.5px,#80ff80 162.5px,#70ff8f 164.5px,#67ff98 167.5px,#5affa5 168.5px,#42ffbd 169.5px,#09d8f6 170.5px,#77135a 171.5px,#f8df07 172.5px,#caff35 173.5px,#a6ff59 175.5px,#9fff60 178.5px,#8fff70 180.5px,#8fff70 342.5px)"></i><i style="height:4px;background:linear-gradient(90deg,#80ff80 0.5px,#80ff80 162.5px,#70ff8f 164.5px,#70ff8f 166.5px,#5affa5 168.5px,#40ffbf 169.5px,#09d8f6 170.5px,#75115a 171.5px,#f8df07 172.5px,#ccff33 173.5px,#b3ff4c 174.5px,#9fff60 176.5px,#9fff60 178.5px,#8fff70 180.5px,#8fff70 342.5px)"></i><i style="height:4px;background:linear-gradient(90deg,#80ff80 0.5px,#80ff80 162.5px,#70ff8f 164.5px,#70ff8f 166.5px,#5affa5 168.5px,#40ffbf 169.5px,#08d8f7 170.5px,#750f58 171.5px,#fadc05 172.5px,#ccff33 173.5px,#b3ff4c 174.5px,#9fff60 176.5px,#9fff60 178.5px,#8fff70 180.5px,#8fff70 342.5px)"></i><i style="height:4px;background:linear-gradient(90deg,#80ff80 0.5px,#80ff80 162.5px,#70ff8f 164.5px,#70ff8f 166.5px,#5affa5 168.5px,#40ffbf 169.5px,#07d7f8 170.5px,#740e57 171.5px,#fadc05 172.5px,#cdff32 173.5px,#b3ff4c 174.5px,#9fff60 176.5px,#9fff60 178.5px,#8fff70 180.5px,#8fff70 342.5px)"></i><i style="height:4px;background:linear-gradient(90deg,#80ff80 0.5px,#80ff80 162.5px,#70ff8f 164.5px,#70ff8f 166.5px,#59ffa6 168.5px,#3effc1 169.5px,#07d5f8 170.5px,#730e57 171.5px,#fbdc04 172.5px,#cdff32 173.5px,#b5ff4a 174.5px,#9fff60 176.5px,#9fff60 178.5px,#8fff70 180.5px,#8fff70 342.5px)"></i><i style="height:4px;background:linear-gradient(90deg,#80ff80 0.5px,#80ff80 162.5px,#73ff8c 163.5px,#70ff8f 166.5px,#59ffa6 168.5px,#3dffc2 169.5px,#07d3f8 170.5px,#730e57 171.5px,#fbda04 172.5px,#cdff32 173.5px,#b5ff4a 174.5px,#9fff60 176.5px,#9fff60 178.5px,#8fff70 180.5px,#8fff70 342.5px)"></i><i style="height:8px;background:linear-gradient(90deg,#80ff80 0.5px,#80ff80 162.5px,#73ff8c 163.5px,#70ff8f 166.5px,#59ffa6 168.5px,#3cffc3 169.5px,#07d3f8 170.5px,#730e57 171.5px,#fbda04 172.5px,#cdff32 173.5px,#b5ff4a 174.5px,#9fff60 176.5px,#9fff60 178.5px,#8fff70 180.5px,#8fff70 342.5px)"></i><i style="height:4px;background:linear-gradient(90deg,#80ff80 0.5px,#80ff80 162.5px,#73ff8c 163.5px,#70ff8f 166.5px,#59ffa6 168.5px,#3dffc2 169.5px,#07d3f8 170.5px,#730e57 171.5px,#fbda04 172.5px,#cdff32 173.5px,#b5ff4a 174.5px,#9fff60 176.5px,#9fff60 178.5px,#8fff70 180.5px,#8fff70 342.5px)"></i><i style="height:4px;background:linear-gradient(90deg,#80ff80 0.5px,#80ff80 162.5px,#73ff8c 163.5px,#70ff8f 166.5px,#59ffa6 168.5px,#3effc1 169.5px,#07d4f8 170.5px,#730e57 171.5px,#fbdc04 172.5px,#cdff32 173.5px,#b5ff4a 174.5px,#9fff60 176.5px,#9fff60 178.5px,#8fff70 180.5px,#8fff70 342.5px)"></i><i style="height:4px;background:linear-gradient(90deg,#80ff80 0.5px,#80ff80 162.5px,#70ff8f 164.5px,#70ff8f 166.5px,#5affa5 168.5px,#40ffbf 169.5px,#07d7f8 170.5px,#730e57 171.5px,#fadc05 172.5px,#cdff32 173.5px,#b4ff4b 174.5px,#9fff60 176.5px,#9fff60 178.5px,#8fff70 180.5px,#8fff70 342.5px)"></i><i style="height:4px;background:linear-gradient(90deg,#80ff80 0.5px,#80ff80 162.5px,#70ff8f 164.5px,#70ff8f 166.5px,#5affa5 168.5px,#40ffbf 169.5px,#08d8f7 170.5px,#750f58 171.5px,#fadc05 172.5px,#ccff33 173.5px,#b3ff4c 174.5px,#9fff60 176.5px,#9fff60 178.5px,#8fff70 180.5px,#8fff70 342.5px)"></i><i style="height:4px;background:linear-gradient(90deg,#80ff80 0.5px,#80ff80 162.5px,#70ff8f 164.5px,#70ff8f 166.5px,#5affa5 168.5px,#40ffbf 169.5px,#09d8f6 170.5px,#75115a 171.5px,#f9df06 172.5px,#ccff33 173.5px,#b3ff4c 174.5px,#9fff60 176.5px,#9fff60 178.5px,#8fff70 180.5px,#8fff70 342.5px)"></i><i style="height:4px;background:linear-gradient(90deg,#80ff80 0.5px,#80ff80 162.5px,#70ff8f 164.5px,#67ff98 167.5px,#5affa5 168.5px,#42ffbd 169.5px,#09d8f6 170.5px,#76125a 171.5px,#f8df07 172.5px,#cbff34 173.5px,#a7ff58 175.5px,#9fff60 178.5px,#8fff70 180.5px,#8fff70 342.5px)"></i><i style="height:4px;background:linear-gradient(90deg,#80ff80 0.5px,#80ff80 162.5px,#70ff8f 164.5px,#67ff98 167.5px,#5cffa3 168.5px,#42ffbd 169.5px,#09d8f6 170.5px,#78135b 171.5px,#f8df07 172.5px,#caff35 173.5px,#b2ff4d 174.5px,#a6ff59 175.5px,#9fff60 178.5px,#8fff70 180.5px,#8fff70 342.5px)"></i><i style="height:4px;background:linear-gradient(90deg,#80ff80 0.5px,#80ff80 162.5px,#70ff8f 164.5px,#68ff97 167.5px,#5cffa3 168.5px,#43ffbc 169.5px,#09dcf6 170.5px,#78155e 171.5px,#f8df07 172.5px,#c9ff36 173.5px,#a5ff5a 175.5px,#9fff60 178.5px,#91ff6e 179.5px,#8fff70 180.5px,#8fff70 342.5px)"></i><i style="height:4px;background:linear-gradient(90deg,#80ff80 0.5px,#80ff80 162.5px,#7eff81 163.5px,#70ff8f 164.5px,#69ff96 167.5px,#5dffa2 168.5px,#43ffbc 169.5px,#0cdff3 170.5px,#7a185e 171.5px,#f7e308 172.5px,#c8ff37 173.5px,#a4ff5b 175.5px,#9fff60 178.5px,#8fff70 179.5px,#8fff70 342.5px)"></i><i style="height:4px;background:linear-gradient(90deg,#80ff80 0.5px,#80ff80 163.5px,#71ff8e 164.5px,#6aff95 167.5px,#5effa1 168.5px,#45ffba 169.5px,#0de1f2 170.5px,#7a1b61 171.5px,#f6e709 172.5px,#c7ff38 173.5px,#a3ff5c 175.5px,#9cff63 178.5px,#8fff70 179.5px,#8fff70 342.5px)"></i><i style="height:4px;background:linear-gradient(90deg,#80ff80 0.5px,#80ff80 163.5px,#74ff8b 164.5px,#6cff93 167.5px,#47ffb8 169.5px,#0ee3f1 170.5px,#7c1d62 171.5px,#f4e80b 172.5px,#c5ff3a 173.5px,#a1ff5e 175.5px,#9fff60 177.5px,#8fff70 179.5px,#8fff70 342.5px)"></i><i style="height:4px;background:linear-gradient(90deg,#80ff80 0.5px,#80ff80 163.5px,#70ff8f 165.5px,#6dff92 167.5px,#47ffb8 169.5px,#0ee6f1 170.5px,#7c2264 171.5px,#f4e90b 172.5px,#c3ff3c 173.5px,#a0ff5f 175.5px,#9fff60 177.5px,#8fff70 179.5px,#8fff70 342.5px)"></i><i style="height:4px;background:linear-gradient(90deg,#80ff80 0.5px,#80ff80 163.5px,#70ff8f 165.5px,#6fff90 167.5px,#4bffb4 169.5px,#10e7ef 170.5px,#7f2567 171.5px,#f2ec0d 172.5px,#c1ff3e 173.5px,#9fff60 175.5px,#9fff60 177.5px,#8fff70 179.5px,#8fff70 342.5px)"></i><i style="height:4px;background:linear-gradient(90deg,#80ff80 0.5px,#80ff80 163.5px,#70ff8f 165.5px,#70ff8f 167.5px,#4cffb3 169.5px,#13eaec 170.5px,#822d68 171.5px,#f0ee0f 172.5px,#bfff40 173.5px,#9fff60 175.5px,#9fff60 177.5px,#90ff6f 178.5px,#8fff70 179.5px,#8fff70 342.5px)"></i><i style="height:4px;background:linear-gradient(90deg,#80ff80 0.5px,#80ff80 164.5px,#70ff8f 165.5px,#70ff8f 167.5px,#4fffb0 169.5px,#15eeea 170.5px,#84336a 171.5px,#eff110 172.5px,#bdff42 173.5px,#9fff60 175.5px,#9dff62 177.5px,#8fff70 178.5px,#8fff70 342.5px)"></i><i style="height:4px;background:linear-gradient(90deg,#80ff80 0.5px,#80ff80 164.5px,#70ff8f 167.5px,#51ffae 169.5px,#17efe8 170.5px,#853c6c 171.5px,#ecf313 172.5px,#bbff44 173.5px,#9fff60 175.5px,#8fff70 178.5px,#8fff70 342.5px)"></i><i style="height:4px;background:linear-gradient(90deg,#80ff80 0.5px,#80ff80 164.5px,#70ff8f 167.5px,#53ffac 169.5px,#19f2e6 170.5px,#87446d 171.5px,#ebf414 172.5px,#b9ff46 173.5px,#a7ff58 174.5px,#8fff70 178.5px,#8fff70 342.5px)"></i><i style="height:4px;background:linear-gradient(90deg,#80ff80 0.5px,#80ff80 164.5px,#68ff97 168.5px,#55ffaa 169.5px,#1df4e2 170.5px,#894d6f 171.5px,#e8f717 172.5px,#b6ff49 173.5px,#a5ff5a 174.5px,#8fff70 178.5px,#8fff70 342.5px)"></i><i style="height:4px;background:linear-gradient(90deg,#80ff80 0.5px,#80ff80 164.5px,#6aff95 168.5px,#58ffa7 169.5px,#1ef7e1 170.5px,#8b5771 171.5px,#e5f91a 172.5px,#b5ff4a 173.5px,#a3ff5c 174.5px,#9dff62 176.5px,#8fff70 177.5px,#8fff70 342.5px)"></i><i style="height:4px;background:linear-gradient(90deg,#80ff80 0.5px,#80ff80 165.5px,#6cff93 168.5px,#5affa5 169.5px,#23f8dc 170.5px,#8d6271 171.5px,#e2fa1d 172.5px,#b4ff4b 173.5px,#a1ff5e 174.5px,#8fff70 177.5px,#8fff70 342.5px)"></i><i style="height:4px;background:linear-gradient(90deg,#80ff80 0.5px,#80ff80 165.5px,#6eff91 168.5px,#5bffa4 169.5px,#27fbd8 170.5px,#8e6f71 171.5px,#ddfc22 172.5px,#b2ff4d 173.5px,#9fff60 174.5px,#8fff70 177.5px,#8fff70 342.5px)"></i><i style="height:4px;background:linear-gradient(90deg,#80ff80 0.5px,#80ff80 165.5px,#70ff8f 168.5px,#5dffa2 169.5px,#2afcd5 170.5px,#8e7d71 171.5px,#dbfd24 172.5px,#afff50 173.5px,#9fff60 174.5px,#8fff70 177.5px,#8fff70 342.5px)"></i><i style="height:2px;background:linear-gradient(90deg,#80ff80 0.5px,#80ff80 166.5px,#60ff9f 169.5px,#2ffdd0 170.5px,#8e8971 171.5px,#d7fd28 172.5px,#abff54 173.5px,#8fff70 176.5px,#8fff70 342.5px)"></i></div>
<div class="hm" style="left:652px;top:1052px;width:340px;height:339px"><i style="height:3px;background:linear-gradient(90deg,#8fff70 0.5px,#8fff70 90.5px,#9fff60 95.5px,#9fff60 128.5px,#afff50 131.5px,#b0ff4f 141.5px,#bfff40 143.5px,#c2ff3d 148.5px,#ceff31 149.5px,#d2ff2d 152.5px,#ffff00 158.5px,#ffd800 161.5px,#ffaf00 163.5px,#ff2f00 167.5px,#ff4300 168.5px,#eecf11 169.5px,#23e4dc 170.5px,#005bff 171.5px,#003eff 172.5px,#00bcff 176.5px,#00e7ff 178.5px,#03fffc 180.5px,#30ffcf 185.5px,#40ffbf 188.5px,#40ffbf 190.5px,#50ffaf 192.5px,#50ffaf 196.5px,#5fffa0 198.5px,#60ff9f 208.5px,#70ff8f 211.5px,#70ff8f 244.5px,#80ff80 249.5px,#80ff80 339.5px)"></i><i style="height:3px;background:linear-gradient(90deg,#8fff70 0.5px,#8fff70 93.5px,#9fff60 98.5px,#a0ff5f 130.5px,#afff50 133.5px,#afff50 142.5px,#bfff40 144.5px,#c2ff3d 149.5px,#ceff31 150.5px,#dfff20 155.5px,#faff05 158.5px,#ffee00 160.5px,#ffb900 163.5px,#ff3e00 167.5px,#ff5100 168.5px,#ead415 169.5px,#26e7d9 170.5px,#0068ff 171.5px,#004dff 172.5px,#00c7ff 176.5px,#00fdff 179.5px,#0cfff3 180.5px,#30ffcf 184.5px,#40ffbf 187.5px,#40ffbf 189.5px,#50ffaf 191.5px,#50ffaf 195.5px,#60ff9f 197.5px,#60ff9f 206.5px,#6fff90 209.5px,#70ff8f 241.5px,#80ff80 246.5px,#80ff80 339.5px)"></i><i style="height:3px;background:linear-gradient(90deg,#8fff70 0.5px,#8fff70 97.5px,#9fff60 102.5px,#a0ff5f 132.5px,#aeff51 134.5px,#afff50 143.5px,#bdff42 145.5px,#c2ff3d 150.5px,#ceff31 151.5px,#e0ff1f 156.5px,#feff01 159.5px,#ffe800 161.5px,#ffc300 163.5px,#ff4d00 167.5px,#ff5e00 168.5px,#ead815 169.5px,#29ebd6 170.5px,#0075ff 171.5px,#005cff 172.5px,#00d1ff 176.5px,#00f7ff 178.5px,#05fffa 179.5px,#2effd1 183.5px,#50ffaf 190.5px,#51ffae 194.5px,#60ff9f 196.5px,#61ff9e 205.5px,#70ff8f 208.5px,#70ff8f 237.5px,#80ff80 242.5px,#80ff80 339.5px)"></i><i style="height:3px;background:linear-gradient(90deg,#8fff70 0.5px,#8fff70 101.5px,#9fff60 106.5px,#9fff60 133.5px,#afff50 136.5px,#b0ff4f 145.5px,#bfff40 147.5px,#c2ff3d 151.5px,#ceff31 152.5px,#cfff30 154.5px,#f6ff09 159.5px,#fffe00 160.5px,#ffcc00 163.5px,#ff5d00 167.5px,#ff6c00 168.5px,#e9de16 169.5px,#2aefd4 170.5px,#0083ff 171.5px,#006bff 172.5px,#00daff 176.5px,#00feff 178.5px,#0efff1 179.5px,#40ffbf 185.5px,#40ffbf 187.5px,#50ffaf 189.5px,#50ffaf 192.5px,#60ff9f 195.5px,#60ff9f 203.5px,#70ff8f 206.5px,#70ff8f 233.5px,#80ff80 238.5px,#80ff80 339.5px)"></i><i style="height:3px;background:linear-gradient(90deg,#8fff70 0.5px,#8fff70 105.5px,#9fff60 110.5px,#9fff60 135.5px,#afff50 138.5px,#afff50 146.5px,#bfff40 148.5px,#c2ff3d 152.5px,#ceff31 153.5px,#cfff30 155.5px,#fbff04 160.5px,#fff800 161.5px,#ffd700 163.5px,#ff6c00 167.5px,#ff7a00 168.5px,#e7e318 169.5px,#2cf3d3 170.5px,#0091ff 171.5px,#007bff 172.5px,#00e5ff 176.5px,#07fff8 178.5px,#3fffc0 184.5px,#40ffbf 186.5px,#50ffaf 188.5px,#50ffaf 191.5px,#5fffa0 193.5px,#60ff9f 201.5px,#70ff8f 204.5px,#70ff8f 229.5px,#80ff80 234.5px,#80ff80 339.5px)"></i><i style="height:4px;background:linear-gradient(90deg,#8fff70 0.5px,#8fff70 108.5px,#9fff60 114.5px,#9fff60 137.5px,#afff50 141.5px,#afff50 147.5px,#bfff40 150.5px,#c1ff3e 153.5px,#d0ff2f 156.5px,#fdff02 161.5px,#ffcd00 164.5px,#ff7e00 167.5px,#ff8a00 168.5px,#e6e919 169.5px,#2ff6d0 170.5px,#00a0ff 171.5px,#008dff 172.5px,#00f0ff 176.5px,#03fefc 177.5px,#10ffef 178.5px,#30ffcf 181.5px,#4dffb2 186.5px,#50ffaf 189.5px,#60ff9f 192.5px,#61ff9e 199.5px,#70ff8f 202.5px,#70ff8f 225.5px,#80ff80 231.5px,#80ff80 339.5px)"></i><i style="height:4px;background:linear-gradient(90deg,#8fff70 0.5px,#8fff70 113.5px,#9fff60 119.5px,#9fff60 140.5px,#afff50 143.5px,#afff50 149.5px,#bdff42 151.5px,#bfff40 154.5px,#f2ff0d 161.5px,#fefe01 162.5px,#ffef00 163.5px,#ff9300 167.5px,#ff9e00 168.5px,#e2ef1d 169.5px,#32facd 170.5px,#00b3ff 171.5px,#00a2ff 172.5px,#00eaff 175.5px,#01fcfe 176.5px,#0efff1 177.5px,#2fffd0 180.5px,#4fffb0 185.5px,#52ffad 188.5px,#60ff9f 190.5px,#60ff9f 196.5px,#6fff90 199.5px,#70ff8f 220.5px,#80ff80 226.5px,#80ff80 339.5px)"></i><i style="height:3px;background:linear-gradient(90deg,#8fff70 0.5px,#90ff6f 119.5px,#9fff60 123.5px,#9fff60 142.5px,#afff50 145.5px,#b0ff4f 151.5px,#bfff40 153.5px,#bfff40 155.5px,#cfff30 158.5px,#f5ff0a 162.5px,#fffa00 163.5px,#ffe900 164.5px,#ffa500 167.5px,#ffae00 168.5px,#e0f41f 169.5px,#37fdc8 170.5px,#00c3ff 171.5px,#00b4ff 172.5px,#00f7ff 175.5px,#0afff5 176.5px,#2fffd0 179.5px,#50ffaf 184.5px,#50ffaf 186.5px,#5fffa0 188.5px,#60ff9f 194.5px,#70ff8f 197.5px,#70ff8f 216.5px,#80ff80 221.5px,#80ff80 339.5px)"></i><i style="height:3px;background:linear-gradient(90deg,#8fff70 0.5px,#8fff70 122.5px,#9eff61 126.5px,#9fff60 144.5px,#afff50 147.5px,#afff50 152.5px,#cfff30 159.5px,#faff05 163.5px,#fff400 164.5px,#ffb500 167.5px,#ffbd00 168.5px,#ddf822 169.5px,#3afec5 170.5px,#00d1ff 171.5px,#00c4ff 172.5px,#04fefb 175.5px,#2dffd2 178.5px,#50ffaf 183.5px,#50ffaf 185.5px,#60ff9f 187.5px,#60ff9f 192.5px,#70ff8f 195.5px,#70ff8f 213.5px,#80ff80 217.5px,#80ff80 339.5px)"></i><i style="height:4px;background:linear-gradient(90deg,#8fff70 0.5px,#90ff6f 126.5px,#9fff60 131.5px,#9fff60 146.5px,#aeff51 149.5px,#b1ff4e 154.5px,#d0ff2f 160.5px,#efff10 163.5px,#fcfe03 164.5px,#ffc700 167.5px,#ffce00 168.5px,#dafc25 169.5px,#40ffbf 170.5px,#00e1ff 171.5px,#00d6ff 172.5px,#01fbfe 174.5px,#10ffef 175.5px,#3fffc0 179.5px,#5effa1 185.5px,#61ff9e 190.5px,#70ff8f 193.5px,#70ff8f 208.5px,#7fff80 213.5px,#80ff80 339.5px)"></i><i style="height:3px;background:linear-gradient(90deg,#8fff70 0.5px,#8fff70 130.5px,#9fff60 135.5px,#a0ff5f 149.5px,#aeff51 151.5px,#afff50 155.5px,#beff41 157.5px,#c0ff3f 159.5px,#f1ff0e 164.5px,#fefc01 165.5px,#ffd900 167.5px,#ffde00 168.5px,#d5fe2a 169.5px,#45ffba 170.5px,#01f1fe 171.5px,#00e8ff 172.5px,#0bfff4 174.5px,#3fffc0 178.5px,#60ff9f 184.5px,#60ff9f 188.5px,#6fff90 190.5px,#71ff8e 205.5px,#80ff80 209.5px,#80ff80 339.5px)"></i><i style="height:3px;background:linear-gradient(90deg,#8fff70 0.5px,#8fff70 134.5px,#9fff60 138.5px,#9fff60 150.5px,#afff50 153.5px,#b1ff4e 157.5px,#d0ff2f 162.5px,#fff700 166.5px,#ffe800 167.5px,#ffec00 168.5px,#caff35 169.5px,#4dffb2 170.5px,#04fbfb 171.5px,#00f7ff 172.5px,#06fff9 173.5px,#3fffc0 177.5px,#5dffa2 182.5px,#60ff9f 186.5px,#70ff8f 189.5px,#70ff8f 201.5px,#7fff80 205.5px,#80ff80 339.5px)"></i><i style="height:3px;background:linear-gradient(90deg,#8fff70 0.5px,#8fff70 137.5px,#9fff60 141.5px,#9fff60 152.5px,#afff50 155.5px,#b0ff4f 158.5px,#d1ff2e 163.5px,#f9ff06 166.5px,#fff700 167.5px,#fdf902 168.5px,#c6ff39 169.5px,#53ffac 170.5px,#0efff1 171.5px,#07fff8 172.5px,#3dffc2 176.5px,#5fffa0 181.5px,#60ff9f 184.5px,#70ff8f 187.5px,#70ff8f 198.5px,#80ff80 202.5px,#80ff80 339.5px)"></i><i style="height:3px;background:linear-gradient(90deg,#8fff70 0.5px,#90ff6f 141.5px,#9eff61 144.5px,#9fff60 154.5px,#afff50 157.5px,#afff50 159.5px,#d2ff2d 164.5px,#f9ff06 167.5px,#f6ff09 168.5px,#bfff40 169.5px,#58ffa7 170.5px,#1bffe4 171.5px,#15ffea 172.5px,#3cffc3 175.5px,#60ff9f 180.5px,#62ff9d 183.5px,#70ff8f 185.5px,#71ff8e 195.5px,#80ff80 199.5px,#80ff80 339.5px)"></i><i style="height:3px;background:linear-gradient(90deg,#8fff70 0.5px,#90ff6f 144.5px,#9fff60 148.5px,#9fff60 156.5px,#aeff51 158.5px,#b2ff4d 161.5px,#ecff13 167.5px,#e9ff16 168.5px,#b9ff46 169.5px,#5dffa2 170.5px,#28ffd7 171.5px,#22ffdd 172.5px,#4fffb0 176.5px,#5cffa3 178.5px,#61ff9e 181.5px,#6fff90 183.5px,#70ff8f 191.5px,#7fff80 195.5px,#80ff80 339.5px)"></i><i style="height:3px;background:linear-gradient(90deg,#8fff70 0.5px,#8fff70 147.5px,#9fff60 151.5px,#a0ff5f 158.5px,#afff50 160.5px,#b0ff4f 162.5px,#deff21 167.5px,#dcff23 168.5px,#b2ff4d 169.5px,#63ff9c 170.5px,#35ffca 171.5px,#31ffce 172.5px,#5effa1 177.5px,#60ff9f 179.5px,#6fff90 181.5px,#70ff8f 188.5px,#80ff80 192.5px,#80ff80 339.5px)"></i><i style="height:3px;background:linear-gradient(90deg,#8fff70 0.5px,#8fff70 150.5px,#9fff60 154.5px,#a1ff5e 160.5px,#d0ff2f 167.5px,#cfff30 168.5px,#acff53 169.5px,#67ff98 170.5px,#42ffbd 171.5px,#3fffc0 172.5px,#5fffa0 176.5px,#6dff92 179.5px,#70ff8f 185.5px,#80ff80 189.5px,#80ff80 339.5px)"></i><i style="height:3px;background:linear-gradient(90deg,#8fff70 0.5px,#8fff70 153.5px,#9fff60 157.5px,#9fff60 161.5px,#c3ff3c 168.5px,#a6ff59 169.5px,#6eff91 170.5px,#4effb1 171.5px,#4cffb3 172.5px,#70ff8f 178.5px,#71ff8e 183.5px,#80ff80 186.5px,#80ff80 339.5px)"></i><i style="height:3px;background:linear-gradient(90deg,#8fff70 0.5px,#8fff70 156.5px,#9eff61 159.5px,#a0ff5f 163.5px,#b8ff47 167.5px,#b7ff48 168.5px,#a0ff5f 169.5px,#72ff8d 170.5px,#59ffa6 171.5px,#56ffa9 172.5px,#6fff90 176.5px,#71ff8e 180.5px,#80ff80 183.5px,#80ff80 339.5px)"></i><i style="height:4px;background:linear-gradient(90deg,#8fff70 0.5px,#90ff6f 159.5px,#acff53 167.5px,#abff54 168.5px,#9aff65 169.5px,#77ff88 170.5px,#65ff9a 171.5px,#63ff9c 172.5px,#80ff80 181.5px,#80ff80 339.5px)"></i><i style="height:3px;background:linear-gradient(90deg,#8fff70 0.5px,#8fff70 162.5px,#9fff60 168.5px,#70ff8f 171.5px,#80ff80 177.5px,#80ff80 339.5px)"></i><i style="height:3px;background:linear-gradient(90deg,#8fff70 0.5px,#8fff70 165.5px,#96ff69 168.5px,#80ff80 170.5px,#79ff86 172.5px,#80ff80 174.5px,#80ff80 339.5px)"></i><i style="height:7px;background:linear-gradient(90deg,#8fff70 0.5px,#8fff70 169.5px,#80ff80 170.5px,#80ff80 339.5px)"></i><i style="height:8px;background:linear-gradient(90deg,#80ff80 0.5px,#80ff80 169.5px,#8fff70 170.5px,#8fff70 339.5px)"></i><i style="height:3px;background:linear-gradient(90deg,#80ff80 0.5px,#80ff80 164.5px,#73ff8c 167.5px,#73ff8c 168.5px,#9cff63 171.5px,#9dff62 172.5px,#8fff70 175.5px,#8fff70 339.5px)"></i><i style="height:3px;background:linear-gradient(90deg,#80ff80 0.5px,#80ff80 161.5px,#6eff91 168.5px,#78ff87 169.5px,#95ff6a 170.5px,#a1ff5e 172.5px,#8fff70 178.5px,#8fff70 339.5px)"></i><i style="height:3px;background:linear-gradient(90deg,#80ff80 0.5px,#80ff80 158.5px,#6dff92 165.5px,#60ff9f 167.5px,#60ff9f 168.5px,#74ff8b 169.5px,#98ff67 170.5px,#aeff51 171.5px,#afff50 172.5px,#8fff70 181.5px,#8fff70 339.5px)"></i><i style="height:3px;background:linear-gradient(90deg,#80ff80 0.5px,#7fff80 156.5px,#71ff8e 159.5px,#6fff90 163.5px,#56ffa9 167.5px,#57ffa8 168.5px,#6eff91 169.5px,#9eff61 170.5px,#b7ff48 171.5px,#baff45 172.5px,#a0ff5f 176.5px,#9fff60 180.5px,#8fff70 184.5px,#8fff70 339.5px)"></i><i style="height:3px;background:linear-gradient(90deg,#80ff80 0.5px,#80ff80 153.5px,#71ff8e 156.5px,#70ff8f 161.5px,#4bffb4 167.5px,#4cffb3 168.5px,#69ff96 169.5px,#a1ff5e 170.5px,#c2ff3d 171.5px,#c5ff3a 172.5px,#9fff60 178.5px,#9eff61 183.5px,#90ff6f 186.5px,#8fff70 339.5px)"></i><i style="height:3px;background:linear-gradient(90deg,#80ff80 0.5px,#80ff80 150.5px,#71ff8e 153.5px,#6dff92 160.5px,#5fffa0 163.5px,#3effc1 167.5px,#3fffc0 168.5px,#62ff9d 169.5px,#a8ff57 170.5px,#ceff31 171.5px,#d1ff2e 172.5px,#b0ff4f 176.5px,#a3ff5c 179.5px,#9eff61 186.5px,#90ff6f 189.5px,#8fff70 339.5px)"></i><i style="height:3px;background:linear-gradient(90deg,#80ff80 0.5px,#7fff80 147.5px,#70ff8f 151.5px,#6fff90 158.5px,#60ff9f 160.5px,#5effa1 162.5px,#30ffcf 167.5px,#33ffcc 168.5px,#5cffa3 169.5px,#acff53 170.5px,#dbff24 171.5px,#dfff20 172.5px,#b1ff4e 177.5px,#afff50 179.5px,#a1ff5e 181.5px,#9eff61 189.5px,#90ff6f 192.5px,#8fff70 339.5px)"></i><i style="height:3px;background:linear-gradient(90deg,#80ff80 0.5px,#80ff80 143.5px,#70ff8f 148.5px,#6fff90 156.5px,#61ff9e 158.5px,#5cffa3 161.5px,#4fffb0 163.5px,#22ffdd 167.5px,#25ffda 168.5px,#56ffa9 169.5px,#b2ff4d 170.5px,#e8ff17 171.5px,#edff12 172.5px,#c0ff3f 176.5px,#afff50 179.5px,#afff50 181.5px,#a0ff5f 183.5px,#9eff61 192.5px,#8fff70 196.5px,#8fff70 339.5px)"></i><i style="height:3px;background:linear-gradient(90deg,#80ff80 0.5px,#80ff80 140.5px,#70ff8f 144.5px,#70ff8f 154.5px,#62ff9d 156.5px,#60ff9f 159.5px,#3dffc2 164.5px,#15ffea 167.5px,#18ffe7 168.5px,#4fffb0 169.5px,#b7ff48 170.5px,#f4ff0b 171.5px,#fbff04 172.5px,#c0ff3f 177.5px,#afff50 180.5px,#adff52 183.5px,#9fff60 185.5px,#9fff60 195.5px,#8fff70 199.5px,#8fff70 339.5px)"></i><i style="height:3px;background:linear-gradient(90deg,#80ff80 0.5px,#80ff80 137.5px,#70ff8f 141.5px,#70ff8f 152.5px,#60ff9f 155.5px,#5fffa0 158.5px,#3effc1 163.5px,#06fff9 167.5px,#0afff5 168.5px,#49ffb6 169.5px,#bcff43 170.5px,#fcf903 171.5px,#fff400 172.5px,#fbfe04 173.5px,#d2ff2d 176.5px,#b0ff4f 181.5px,#afff50 184.5px,#9fff60 187.5px,#9fff60 198.5px,#8fff70 202.5px,#8fff70 339.5px)"></i><i style="height:3px;background:linear-gradient(90deg,#80ff80 0.5px,#7fff80 134.5px,#70ff8f 138.5px,#70ff8f 150.5px,#60ff9f 153.5px,#5dffa2 157.5px,#3fffc0 162.5px,#07fff8 166.5px,#00f7ff 167.5px,#02f9fd 168.5px,#44ffbb 169.5px,#c2ff3d 170.5px,#ffee00 171.5px,#ffe600 172.5px,#fff500 173.5px,#f8ff07 174.5px,#d1ff2e 177.5px,#b2ff4d 182.5px,#afff50 186.5px,#9fff60 189.5px,#9fff60 201.5px,#90ff6f 205.5px,#8fff70 339.5px)"></i><i style="height:3px;background:linear-gradient(90deg,#80ff80 0.5px,#80ff80 130.5px,#70ff8f 134.5px,#70ff8f 148.5px,#60ff9f 151.5px,#60ff9f 155.5px,#3fffc0 161.5px,#00f9ff 166.5px,#00e8ff 167.5px,#00edff 168.5px,#38ffc7 169.5px,#caff35 170.5px,#ffe100 171.5px,#ffd600 172.5px,#fffa00 174.5px,#f3ff0c 175.5px,#d0ff2f 178.5px,#afff50 184.5px,#afff50 188.5px,#9fff60 191.5px,#9fff60 205.5px,#8fff70 209.5px,#8fff70 339.5px)"></i><i style="height:3px;background:linear-gradient(90deg,#80ff80 0.5px,#7fff80 127.5px,#70ff8f 131.5px,#6fff90 147.5px,#61ff9e 149.5px,#5fffa0 154.5px,#40ffbf 160.5px,#2effd1 162.5px,#02fdfd 165.5px,#00d9ff 167.5px,#00dfff 168.5px,#32ffcd 169.5px,#cdfe32 170.5px,#ffd300 171.5px,#ffc800 172.5px,#fdfe02 175.5px,#cfff30 179.5px,#b0ff4f 185.5px,#afff50 190.5px,#9fff60 193.5px,#9fff60 208.5px,#90ff6f 212.5px,#8fff70 339.5px)"></i><i style="height:3px;background:linear-gradient(90deg,#80ff80 0.5px,#80ff80 123.5px,#70ff8f 128.5px,#6fff90 145.5px,#61ff9e 147.5px,#5effa1 153.5px,#53ffac 154.5px,#4effb1 157.5px,#30ffcf 161.5px,#08fff7 164.5px,#00f3ff 165.5px,#00c9ff 167.5px,#00d1ff 168.5px,#2ffdd0 169.5px,#d1fc2e 170.5px,#ffc500 171.5px,#ffb800 172.5px,#fff500 175.5px,#f9ff06 176.5px,#cfff30 180.5px,#b2ff4d 186.5px,#aeff51 192.5px,#a0ff5f 194.5px,#9fff60 212.5px,#8fff70 216.5px,#8fff70 339.5px)"></i><i style="height:3px;background:linear-gradient(90deg,#80ff80 0.5px,#80ff80 119.5px,#70ff8f 124.5px,#70ff8f 143.5px,#62ff9d 145.5px,#60ff9f 151.5px,#51ffae 153.5px,#4effb1 156.5px,#3affc5 159.5px,#0efff1 163.5px,#00fbff 164.5px,#00b9ff 167.5px,#00c2ff 168.5px,#2afad5 169.5px,#d4fa2b 170.5px,#ffb700 171.5px,#ffa800 172.5px,#fffb00 176.5px,#f4ff0b 177.5px,#c2ff3d 183.5px,#bfff40 186.5px,#afff50 188.5px,#afff50 193.5px,#a0ff5f 196.5px,#9fff60 215.5px,#8fff70 220.5px,#8fff70 339.5px)"></i><i style="height:3px;background:linear-gradient(90deg,#80ff80 0.5px,#80ff80 116.5px,#70ff8f 120.5px,#70ff8f 141.5px,#60ff9f 144.5px,#5fffa0 150.5px,#50ffaf 152.5px,#4dffb2 155.5px,#2bffd4 160.5px,#04fffb 163.5px,#00f1ff 164.5px,#00aaff 167.5px,#00b4ff 168.5px,#27f7d8 169.5px,#d6f629 170.5px,#ffa900 171.5px,#ff9900 172.5px,#ffdf00 175.5px,#fdff02 177.5px,#d5ff2a 181.5px,#c3ff3c 184.5px,#bfff40 187.5px,#b0ff4f 189.5px,#afff50 195.5px,#9fff60 198.5px,#9fff60 219.5px,#8fff70 224.5px,#8fff70 339.5px)"></i><i style="height:3px;background:linear-gradient(90deg,#80ff80 0.5px,#80ff80 112.5px,#70ff8f 117.5px,#70ff8f 139.5px,#60ff9f 142.5px,#60ff9f 148.5px,#50ffaf 151.5px,#4dffb2 154.5px,#2effd1 159.5px,#0bfff4 162.5px,#00f9ff 163.5px,#00e6ff 164.5px,#009aff 167.5px,#00a5ff 168.5px,#23f4dc 169.5px,#d9f426 170.5px,#ff9b00 171.5px,#ff8900 172.5px,#ffe800 176.5px,#f9ff06 178.5px,#d3ff2c 182.5px,#bfff40 186.5px,#bcff43 189.5px,#afff50 191.5px,#afff50 197.5px,#9fff60 200.5px,#9fff60 222.5px,#8fff70 227.5px,#8fff70 339.5px)"></i><i style="height:3px;background:linear-gradient(90deg,#80ff80 0.5px,#80ff80 108.5px,#70ff8f 113.5px,#70ff8f 137.5px,#60ff9f 140.5px,#60ff9f 147.5px,#51ffae 149.5px,#4dffb2 153.5px,#30ffcf 158.5px,#02fffd 162.5px,#00daff 164.5px,#008bff 167.5px,#0097ff 168.5px,#22eedd 169.5px,#daef25 170.5px,#ff8d00 171.5px,#ff7a00 172.5px,#ffde00 176.5px,#fffe00 178.5px,#f3ff0c 179.5px,#d1ff2e 183.5px,#cfff30 185.5px,#bfff40 187.5px,#beff41 190.5px,#afff50 192.5px,#afff50 199.5px,#9fff60 202.5px,#9fff60 226.5px,#8fff70 231.5px,#8fff70 339.5px)"></i><i style="height:3px;background:linear-gradient(90deg,#80ff80 0.5px,#80ff80 104.5px,#70ff8f 109.5px,#70ff8f 135.5px,#60ff9f 138.5px,#5fffa0 146.5px,#50ffaf 148.5px,#4dffb2 152.5px,#41ffbe 153.5px,#3fffc0 155.5px,#08fff7 161.5px,#00e6ff 163.5px,#007cff 167.5px,#008aff 168.5px,#1febe0 169.5px,#dceb23 170.5px,#ff8000 171.5px,#ff6a00 172.5px,#ffd400 176.5px,#fdff02 179.5px,#d0ff2f 184.5px,#cfff30 186.5px,#bfff40 188.5px,#bfff40 191.5px,#b0ff4f 193.5px,#afff50 201.5px,#9fff60 204.5px,#9fff60 230.5px,#8fff70 235.5px,#8fff70 339.5px)"></i><i style="height:3px;background:linear-gradient(90deg,#80ff80 0.5px,#80ff80 101.5px,#70ff8f 106.5px,#70ff8f 133.5px,#60ff9f 136.5px,#60ff9f 144.5px,#50ffaf 147.5px,#50ffaf 150.5px,#40ffbf 152.5px,#40ffbf 154.5px,#0efff1 160.5px,#01fefe 161.5px,#00dcff 163.5px,#006cff 167.5px,#007bff 168.5px,#1de7e2 169.5px,#dde822 170.5px,#ff7200 171.5px,#ff5a00 172.5px,#ffc900 176.5px,#fffc00 179.5px,#f8ff07 180.5px,#cfff30 185.5px,#cfff30 187.5px,#bfff40 189.5px,#bfff40 192.5px,#afff50 195.5px,#afff50 203.5px,#9fff60 206.5px,#9fff60 233.5px,#8fff70 238.5px,#8fff70 339.5px)"></i><i style="height:3px;background:linear-gradient(90deg,#80ff80 0.5px,#80ff80 97.5px,#70ff8f 102.5px,#70ff8f 131.5px,#60ff9f 134.5px,#60ff9f 143.5px,#51ffae 145.5px,#50ffaf 149.5px,#2fffd0 156.5px,#06fff9 160.5px,#00f8ff 161.5px,#00d2ff 163.5px,#005cff 167.5px,#006dff 168.5px,#1ce1e3 169.5px,#dfe320 170.5px,#ff6500 171.5px,#ff4b00 172.5px,#ffc000 176.5px,#ffe600 178.5px,#ffff00 180.5px,#e1ff1e 183.5px,#cfff30 186.5px,#cfff30 188.5px,#bfff40 190.5px,#beff41 194.5px,#afff50 196.5px,#afff50 205.5px,#9fff60 208.5px,#9fff60 237.5px,#8fff70 242.5px,#8fff70 339.5px)"></i><i style="height:3px;background:linear-gradient(90deg,#80ff80 0.5px,#80ff80 93.5px,#70ff8f 98.5px,#6fff90 130.5px,#61ff9e 132.5px,#60ff9f 142.5px,#50ffaf 144.5px,#50ffaf 148.5px,#40ffbf 150.5px,#40ffbf 152.5px,#30ffcf 155.5px,#00feff 160.5px,#00c8ff 163.5px,#004dff 167.5px,#0060ff 168.5px,#1cdce3 169.5px,#e2e01d 170.5px,#ff5700 171.5px,#ff3c00 172.5px,#ffb600 176.5px,#ffed00 179.5px,#fcff03 181.5px,#dfff20 184.5px,#cfff30 187.5px,#cfff30 189.5px,#bfff40 191.5px,#bfff40 195.5px,#b0ff4f 197.5px,#aeff51 207.5px,#a0ff5f 209.5px,#9fff60 241.5px,#8fff70 246.5px,#8fff70 339.5px)"></i><i style="height:4px;background:linear-gradient(90deg,#80ff80 0.5px,#80ff80 88.5px,#70ff8f 94.5px,#70ff8f 127.5px,#60ff9f 131.5px,#60ff9f 140.5px,#50ffaf 143.5px,#50ffaf 147.5px,#40ffbf 149.5px,#40ffbf 151.5px,#30ffcf 154.5px,#03fffc 159.5px,#00e7ff 161.5px,#00bcff 163.5px,#003cff 167.5px,#0050ff 168.5px,#17d7e8 169.5px,#e3da1c 170.5px,#ff4800 171.5px,#ff2a00 172.5px,#ffaa00 176.5px,#ffd500 178.5px,#fffe00 181.5px,#dfff20 185.5px,#cfff30 188.5px,#cfff30 190.5px,#bfff40 192.5px,#bfff40 196.5px,#afff50 199.5px,#aeff51 209.5px,#9fff60 212.5px,#9fff60 245.5px,#8fff70 251.5px,#8fff70 339.5px)"></i><i style="height:3px;background:linear-gradient(90deg,#80ff80 0.5px,#80ff80 85.5px,#70ff8f 90.5px,#70ff8f 125.5px,#60ff9f 128.5px,#60ff9f 139.5px,#50ffaf 141.5px,#50ffaf 146.5px,#40ffbf 148.5px,#40ffbf 150.5px,#2bffd4 154.5px,#08fff7 158.5px,#00fdff 159.5px,#00eeff 160.5px,#00b2ff 163.5px,#002aff 167.5px,#0041ff 168.5px,#15d1ea 169.5px,#e3d51c 170.5px,#ff3a00 171.5px,#ff1900 172.5px,#ff8100 175.5px,#ffb700 177.5px,#ffeb00 180.5px,#ffff00 182.5px,#dfff20 186.5px,#cfff30 189.5px,#cfff30 191.5px,#bfff40 193.5px,#bfff40 198.5px,#afff50 200.5px,#afff50 211.5px,#9fff60 214.5px,#9fff60 250.5px,#8fff70 254.5px,#8fff70 339.5px)"></i><i style="height:3px;background:linear-gradient(90deg,#80ff80 0.5px,#80ff80 81.5px,#70ff8f 86.5px,#6fff90 124.5px,#60ff9f 126.5px,#5fffa0 138.5px,#50ffaf 140.5px,#50ffaf 145.5px,#40ffbf 147.5px,#3effc1 150.5px,#31ffce 151.5px,#2fffd0 153.5px,#01fffe 158.5px,#00e7ff 160.5px,#00c2ff 162.5px,#0089ff 164.5px,#001cff 167.5px,#0034ff 168.5px,#15cdea 169.5px,#e3d21c 170.5px,#ff2d00 171.5px,#ff0b00 172.5px,#ff2800 173.5px,#ff7600 175.5px,#ffaf00 177.5px,#ffe300 180.5px,#fffd00 182.5px,#fcff03 183.5px,#e1ff1e 186.5px,#dfff20 188.5px,#d2ff2d 189.5px,#cfff30 192.5px,#bfff40 194.5px,#bfff40 199.5px,#b0ff4f 201.5px,#afff50 213.5px,#9fff60 216.5px,#9fff60 253.5px,#8fff70 258.5px,#8fff70 339.5px)"></i><i style="height:3px;background:linear-gradient(90deg,#80ff80 0.5px,#80ff80 77.5px,#70ff8f 82.5px,#6fff90 122.5px,#60ff9f 125.5px,#60ff9f 136.5px,#50ffaf 139.5px,#50ffaf 144.5px,#40ffbf 146.5px,#40ffbf 149.5px,#33ffcc 150.5px,#30ffcf 152.5px,#07fff8 157.5px,#00fdff 158.5px,#00b8ff 162.5px,#007fff 164.5px,#000eff 167.5px,#0027ff 168.5px,#15c7ea 169.5px,#e4cd1b 170.5px,#ff2000 171.5px,#fb0100 172.5px,#ff1b00 173.5px,#ff6c00 175.5px,#ffa700 177.5px,#ffde00 180.5px,#ffff00 183.5px,#dfff20 187.5px,#ddff22 189.5px,#d0ff2f 190.5px,#cfff30 193.5px,#bfff40 195.5px,#bfff40 200.5px,#afff50 203.5px,#aeff51 215.5px,#a0ff5f 217.5px,#9fff60 257.5px,#8fff70 262.5px,#8fff70 339.5px)"></i><i style="height:3px;background:linear-gradient(90deg,#80ff80 0.5px,#80ff80 74.5px,#70ff8f 79.5px,#70ff8f 120.5px,#60ff9f 123.5px,#60ff9f 135.5px,#50ffaf 138.5px,#50ffaf 143.5px,#40ffbf 145.5px,#40ffbf 148.5px,#2bffd4 152.5px,#01fffe 157.5px,#00e9ff 159.5px,#00b1ff 162.5px,#0075ff 164.5px,#0021ff 166.5px,#0002fd 167.5px,#001cff 168.5px,#13c2ec 169.5px,#e5ca1a 170.5px,#fb1900 171.5px,#ee0000 172.5px,#ff0e00 173.5px,#ff8300 176.5px,#ffb500 178.5px,#ffe400 181.5px,#fffd00 183.5px,#feff01 184.5px,#f0ff0f 185.5px,#cfff30 191.5px,#cfff30 194.5px,#bfff40 196.5px,#beff41 202.5px,#afff50 204.5px,#afff50 216.5px,#9fff60 219.5px,#9fff60 260.5px,#8fff70 265.5px,#8fff70 339.5px)"></i><i style="height:3px;background:linear-gradient(90deg,#80ff80 0.5px,#80ff80 70.5px,#70ff8f 75.5px,#70ff8f 118.5px,#60ff9f 121.5px,#60ff9f 134.5px,#51ffae 136.5px,#50ffaf 142.5px,#40ffbf 144.5px,#40ffbf 147.5px,#30ffcf 149.5px,#2fffd0 151.5px,#00feff 157.5px,#00d3ff 160.5px,#00a8ff 162.5px,#006aff 164.5px,#0014ff 166.5px,#0000f2 167.5px,#0012fb 168.5px,#13bfec 169.5px,#e6c619 170.5px,#f61200 171.5px,#e10000 172.5px,#fa0600 173.5px,#ff2d00 174.5px,#ff7900 176.5px,#ffad00 178.5px,#ffdf00 181.5px,#ffff00 184.5px,#e1ff1e 188.5px,#dfff20 190.5px,#cfff30 192.5px,#cfff30 195.5px,#bfff40 197.5px,#bfff40 203.5px,#afff50 205.5px,#afff50 218.5px,#9fff60 221.5px,#9fff60 264.5px,#8fff70 269.5px,#8fff70 339.5px)"></i><i style="height:3px;background:linear-gradient(90deg,#80ff80 0.5px,#80ff80 67.5px,#70ff8f 72.5px,#6fff90 117.5px,#60ff9f 119.5px,#60ff9f 133.5px,#50ffaf 135.5px,#4dffb2 142.5px,#41ffbe 143.5px,#3effc1 147.5px,#31ffce 148.5px,#30ffcf 150.5px,#1fffe0 153.5px,#01fffe 156.5px,#00ecff 158.5px,#00b8ff 161.5px,#0084ff 163.5px,#000afd 166.5px,#0000e4 167.5px,#000df5 168.5px,#12b9ed 169.5px,#e6c119 170.5px,#ef0d00 171.5px,#d30000 172.5px,#f20100 173.5px,#ff2200 174.5px,#ff7000 176.5px,#ffa600 178.5px,#ffdb00 181.5px,#fffd00 184.5px,#ffff00 185.5px,#dfff20 189.5px,#dfff20 191.5px,#cfff30 193.5px,#cfff30 196.5px,#bfff40 198.5px,#bfff40 204.5px,#afff50 206.5px,#afff50 220.5px,#9fff60 223.5px,#9fff60 267.5px,#8fff70 272.5px,#8fff70 339.5px)"></i><i style="height:3px;background:linear-gradient(90deg,#80ff80 0.5px,#80ff80 64.5px,#70ff8f 69.5px,#70ff8f 115.5px,#60ff9f 118.5px,#60ff9f 132.5px,#50ffaf 134.5px,#4effb1 141.5px,#42ffbd 142.5px,#40ffbf 146.5px,#34ffcb 147.5px,#2dffd2 150.5px,#00ffff 156.5px,#00d7ff 159.5px,#00b2ff 161.5px,#007bff 163.5px,#002bff 165.5px,#0004f7 166.5px,#0000d7 167.5px,#000aee 168.5px,#12b5ed 169.5px,#e6bf19 170.5px,#e90a00 171.5px,#c60000 172.5px,#e70000 173.5px,#ff1700 174.5px,#ff6800 176.5px,#ffb500 179.5px,#ffee00 183.5px,#ffff00 185.5px,#e3ff1c 189.5px,#dcff23 192.5px,#d0ff2f 193.5px,#ceff31 197.5px,#c1ff3e 198.5px,#bfff40 205.5px,#afff50 207.5px,#afff50 221.5px,#9fff60 224.5px,#9fff60 271.5px,#8fff70 275.5px,#8fff70 339.5px)"></i><i style="height:3px;background:linear-gradient(90deg,#80ff80 0.5px,#80ff80 61.5px,#70ff8f 65.5px,#70ff8f 113.5px,#60ff9f 116.5px,#60ff9f 131.5px,#50ffaf 133.5px,#4fffb0 140.5px,#40ffbf 142.5px,#40ffbf 145.5px,#30ffcf 147.5px,#30ffcf 149.5px,#24ffdb 150.5px,#1fffe0 152.5px,#01fffe 155.5px,#00eeff 157.5px,#00aaff 161.5px,#0072ff 163.5px,#0021ff 165.5px,#0001ee 166.5px,#0000cb 167.5px,#0006e6 168.5px,#11b1ee 169.5px,#e6b919 170.5px,#e10700 171.5px,#b90000 172.5px,#db0000 173.5px,#fe0d00 174.5px,#ff3900 175.5px,#ff7e00 177.5px,#ffc000 180.5px,#ffe800 183.5px,#ffff00 186.5px,#dfff20 190.5px,#dfff20 192.5px,#cfff30 194.5px,#cdff32 198.5px,#c0ff3f 199.5px,#bfff40 206.5px,#b0ff4f 208.5px,#afff50 223.5px,#9fff60 226.5px,#9fff60 274.5px,#8fff70 279.5px,#8fff70 339.5px)"></i><i style="height:3px;background:linear-gradient(90deg,#80ff80 0.5px,#80ff80 57.5px,#70ff8f 62.5px,#70ff8f 112.5px,#61ff9e 114.5px,#5fffa0 130.5px,#50ffaf 132.5px,#50ffaf 139.5px,#40ffbf 141.5px,#40ffbf 144.5px,#30ffcf 146.5px,#30ffcf 148.5px,#00ffff 155.5px,#00dcff 158.5px,#00a5ff 161.5px,#006aff 163.5px,#0016ff 165.5px,#0000e3 166.5px,#0000bf 167.5px,#0005de 168.5px,#10acef 169.5px,#e6b819 170.5px,#d80500 171.5px,#ae0000 172.5px,#fa0700 174.5px,#ff3000 175.5px,#ff7700 177.5px,#ffa800 179.5px,#ffd800 182.5px,#ffff00 186.5px,#dfff20 191.5px,#dfff20 193.5px,#cfff30 195.5px,#cfff30 198.5px,#bfff40 200.5px,#bfff40 207.5px,#b0ff4f 209.5px,#afff50 225.5px,#a0ff5f 227.5px,#9fff60 277.5px,#8fff70 282.5px,#8fff70 339.5px)"></i><i style="height:3px;background:linear-gradient(90deg,#80ff80 0.5px,#80ff80 54.5px,#70ff8f 59.5px,#70ff8f 110.5px,#60ff9f 113.5px,#5fffa0 129.5px,#50ffaf 131.5px,#50ffaf 138.5px,#40ffbf 140.5px,#40ffbf 144.5px,#30ffcf 146.5px,#30ffcf 148.5px,#22ffdd 149.5px,#10ffef 153.5px,#02fffd 154.5px,#00fdff 155.5px,#00b5ff 160.5px,#0062ff 163.5px,#000efd 165.5px,#0000d8 166.5px,#0000b3 167.5px,#0002d6 168.5px,#10aaef 169.5px,#e7b318 170.5px,#d10300 171.5px,#a20000 172.5px,#c40000 173.5px,#f40300 174.5px,#ff2700 175.5px,#ff7000 177.5px,#ffa300 179.5px,#ffc500 181.5px,#ffff00 186.5px,#eeff11 190.5px,#e0ff1f 191.5px,#dcff23 194.5px,#d0ff2f 195.5px,#cfff30 199.5px,#bfff40 201.5px,#bfff40 208.5px,#b0ff4f 210.5px,#afff50 226.5px,#9fff60 229.5px,#9fff60 280.5px,#8fff70 285.5px,#8fff70 339.5px)"></i><i style="height:3px;background:linear-gradient(90deg,#80ff80 0.5px,#7fff80 52.5px,#70ff8f 56.5px,#70ff8f 109.5px,#60ff9f 111.5px,#5fffa0 128.5px,#50ffaf 130.5px,#50ffaf 137.5px,#40ffbf 139.5px,#40ffbf 143.5px,#30ffcf 145.5px,#30ffcf 147.5px,#00ffff 154.5px,#00eeff 156.5px,#00aeff 160.5px,#005bff 163.5px,#0007fa 165.5px,#0000ce 166.5px,#0000a7 167.5px,#0002cb 168.5px,#10a4ef 169.5px,#e8b017 170.5px,#c80200 171.5px,#960000 172.5px,#b80000 173.5px,#ec0000 174.5px,#ff1e00 175.5px,#ff6900 177.5px,#ffb000 180.5px,#ffdd00 183.5px,#ffff00 187.5px,#dfff20 192.5px,#dfff20 194.5px,#cfff30 196.5px,#cfff30 200.5px,#bfff40 202.5px,#bfff40 209.5px,#b0ff4f 211.5px,#afff50 228.5px,#a0ff5f 230.5px,#9fff60 283.5px,#8fff70 288.5px,#8fff70 339.5px)"></i><i style="height:3px;background:linear-gradient(90deg,#80ff80 0.5px,#80ff80 49.5px,#70ff8f 53.5px,#70ff8f 107.5px,#60ff9f 110.5px,#60ff9f 127.5px,#50ffaf 129.5px,#4fffb0 137.5px,#42ffbd 138.5px,#3fffc0 143.5px,#31ffce 144.5px,#2fffd0 147.5px,#22ffdd 148.5px,#1fffe0 150.5px,#11ffee 151.5px,#00ffff 154.5px,#00ddff 157.5px,#00a8ff 160.5px,#0075ff 162.5px,#002aff 164.5px,#0003f5 165.5px,#0000c4 166.5px,#00009d 167.5px,#0000c5 168.5px,#10a2ef 169.5px,#eaae15 170.5px,#c00200 171.5px,#8c0000 172.5px,#ae0000 173.5px,#e30000 174.5px,#ff1500 175.5px,#ff6200 177.5px,#ff9700 179.5px,#ffcb00 182.5px,#ffff00 187.5px,#ffff00 188.5px,#f0ff0f 189.5px,#eeff11 191.5px,#e0ff1f 192.5px,#deff21 195.5px,#d1ff2e 196.5px,#ceff31 201.5px,#c1ff3e 202.5px,#bfff40 210.5px,#b0ff4f 212.5px,#afff50 229.5px,#9fff60 232.5px,#9fff60 286.5px,#8fff70 290.5px,#8fff70 339.5px)"></i><i style="height:3px;background:linear-gradient(90deg,#80ff80 0.5px,#80ff80 46.5px,#70ff8f 50.5px,#70ff8f 106.5px,#60ff9f 109.5px,#60ff9f 126.5px,#50ffaf 128.5px,#50ffaf 136.5px,#40ffbf 138.5px,#40ffbf 142.5px,#30ffcf 144.5px,#30ffcf 146.5px,#0ffff0 152.5px,#00ffff 153.5px,#00fbff 154.5px,#00d8ff 157.5px,#00a4ff 160.5px,#006fff 162.5px,#0022ff 164.5px,#0001ef 165.5px,#0000b9 166.5px,#000093 167.5px,#0000bb 168.5px,#109eef 169.5px,#eaa915 170.5px,#b80000 171.5px,#810000 172.5px,#a50000 173.5px,#d90000 174.5px,#fe0e00 175.5px,#ff5c00 177.5px,#ffa600 180.5px,#ffea00 185.5px,#ffff00 188.5px,#dfff20 193.5px,#dfff20 195.5px,#cfff30 197.5px,#cfff30 201.5px,#bfff40 203.5px,#bfff40 211.5px,#afff50 213.5px,#aeff51 231.5px,#9fff60 233.5px,#9fff60 289.5px,#8fff70 293.5px,#8fff70 339.5px)"></i><i style="height:4px;background:linear-gradient(90deg,#80ff80 0.5px,#80ff80 43.5px,#70ff8f 47.5px,#70ff8f 104.5px,#60ff9f 107.5px,#5fffa0 125.5px,#50ffaf 127.5px,#50ffaf 135.5px,#40ffbf 137.5px,#3dffc2 142.5px,#30ffcf 143.5px,#2fffd0 146.5px,#22ffdd 147.5px,#20ffdf 149.5px,#00ffff 153.5px,#00eeff 155.5px,#00b3ff 159.5px,#0068ff 162.5px,#0019ff 164.5px,#0000e5 165.5px,#0000ae 166.5px,#000090 167.5px,#0000b3 168.5px,#0f9af0 169.5px,#eaa715 170.5px,#b00000 171.5px,#800000 172.5px,#990000 173.5px,#fb0800 175.5px,#ff3000 176.5px,#ff7300 178.5px,#ffb300 181.5px,#ffdd00 184.5px,#ffff00 188.5px,#feff01 189.5px,#f0ff0f 190.5px,#eeff11 192.5px,#e1ff1e 193.5px,#dfff20 196.5px,#cfff30 198.5px,#cfff30 202.5px,#bfff40 204.5px,#bfff40 212.5px,#b0ff4f 214.5px,#afff50 232.5px,#9fff60 235.5px,#9fff60 292.5px,#90ff6f 296.5px,#8fff70 339.5px)"></i><i style="height:3px;background:linear-gradient(90deg,#80ff80 0.5px,#80ff80 40.5px,#70ff8f 44.5px,#70ff8f 103.5px,#60ff9f 106.5px,#60ff9f 124.5px,#50ffaf 126.5px,#50ffaf 134.5px,#40ffbf 136.5px,#40ffbf 141.5px,#33ffcc 142.5px,#30ffcf 145.5px,#00ffff 153.5px,#00deff 156.5px,#0098ff 160.5px,#0061ff 162.5px,#0011ff 164.5px,#0000db 165.5px,#0000a4 166.5px,#00008f 167.5px,#0000ac 168.5px,#0e96f1 169.5px,#eaa315 170.5px,#a90000 171.5px,#800000 172.5px,#8f0000 173.5px,#f70400 175.5px,#ff2900 176.5px,#ff4e00 177.5px,#ff8700 179.5px,#ffae00 181.5px,#ffcc00 183.5px,#ffff00 188.5px,#dfff20 194.5px,#ddff22 197.5px,#cfff30 198.5px,#cfff30 203.5px,#bfff40 205.5px,#bfff40 213.5px,#afff50 215.5px,#aeff51 234.5px,#9fff60 236.5px,#9fff60 295.5px,#8fff70 299.5px,#8fff70 339.5px)"></i><i style="height:3px;background:linear-gradient(90deg,#80ff80 0.5px,#80ff80 38.5px,#70ff8f 42.5px,#70ff8f 102.5px,#60ff9f 104.5px,#60ff9f 123.5px,#50ffaf 125.5px,#50ffaf 134.5px,#40ffbf 136.5px,#40ffbf 140.5px,#30ffcf 142.5px,#30ffcf 145.5px,#22ffdd 146.5px,#20ffdf 148.5px,#00ffff 152.5px,#00daff 156.5px,#00a9ff 159.5px,#005cff 162.5px,#000cfd 164.5px,#0000d5 165.5px,#00009d 166.5px,#00008f 167.5px,#0000a9 168.5px,#0c91f3 169.5px,#eaa115 170.5px,#a30000 171.5px,#800000 172.5px,#8a0000 173.5px,#f20200 175.5px,#ff2200 176.5px,#ff6800 178.5px,#ffaa00 181.5px,#ffdf00 185.5px,#ffff00 189.5px,#efff10 191.5px,#eeff11 193.5px,#e0ff1f 194.5px,#dfff20 197.5px,#cfff30 199.5px,#cfff30 203.5px,#bfff40 205.5px,#bfff40 214.5px,#afff50 216.5px,#afff50 235.5px,#9fff60 237.5px,#9fff60 297.5px,#8fff70 301.5px,#8fff70 339.5px)"></i><i style="height:4px;background:linear-gradient(90deg,#80ff80 0.5px,#80ff80 35.5px,#70ff8f 39.5px,#70ff8f 100.5px,#60ff9f 103.5px,#60ff9f 122.5px,#51ffae 124.5px,#50ffaf 133.5px,#40ffbf 135.5px,#40ffbf 140.5px,#33ffcc 141.5px,#1fffe0 148.5px,#10ffef 149.5px,#00ffff 152.5px,#00d6ff 156.5px,#00a6ff 159.5px,#0075ff 161.5px,#0007fb 164.5px,#0000cb 165.5px,#000098 166.5px,#00008f 167.5px,#0000a4 168.5px,#0c8ff3 169.5px,#ea9f15 170.5px,#a00000 171.5px,#800000 172.5px,#850000 173.5px,#ec0000 175.5px,#ff1c00 176.5px,#ff6200 178.5px,#ffa600 181.5px,#ffde00 185.5px,#ffff00 189.5px,#dfff20 195.5px,#ddff22 198.5px,#d0ff2f 199.5px,#cfff30 204.5px,#bfff40 206.5px,#bfff40 215.5px,#afff50 217.5px,#afff50 236.5px,#9fff60 239.5px,#9fff60 300.5px,#8fff70 304.5px,#8fff70 339.5px)"></i><i style="height:4px;background:linear-gradient(90deg,#80ff80 0.5px,#7fff80 33.5px,#70ff8f 37.5px,#70ff8f 99.5px,#60ff9f 102.5px,#60ff9f 121.5px,#51ffae 123.5px,#50ffaf 132.5px,#41ffbe 134.5px,#40ffbf 139.5px,#30ffcf 141.5px,#30ffcf 144.5px,#23ffdc 145.5px,#20ffdf 147.5px,#00ffff 152.5px,#00dfff 155.5px,#00a1ff 159.5px,#0070ff 161.5px,#002aff 163.5px,#0004f6 164.5px,#0000c4 165.5px,#000093 166.5px,#00008f 167.5px,#0000a1 168.5px,#0c8df2 169.5px,#ea9d15 170.5px,#9b0000 171.5px,#800000 172.5px,#820000 173.5px,#ae0000 174.5px,#e50000 175.5px,#ff1500 176.5px,#ff5c00 178.5px,#ffa200 181.5px,#ffcf00 184.5px,#fffe00 189.5px,#edff12 194.5px,#dfff20 195.5px,#dfff20 198.5px,#cfff30 200.5px,#cfff30 205.5px,#bfff40 207.5px,#bfff40 216.5px,#afff50 218.5px,#afff50 237.5px,#9fff60 240.5px,#9fff60 303.5px,#8fff70 307.5px,#8fff70 339.5px)"></i><i style="height:4px;background:linear-gradient(90deg,#80ff80 0.5px,#80ff80 30.5px,#70ff8f 34.5px,#70ff8f 98.5px,#60ff9f 101.5px,#5fffa0 121.5px,#50ffaf 123.5px,#50ffaf 132.5px,#40ffbf 134.5px,#40ffbf 139.5px,#32ffcd 140.5px,#20ffdf 147.5px,#00ffff 151.5px,#00ddff 155.5px,#00b0ff 158.5px,#0086ff 160.5px,#004bff 162.5px,#0022ff 163.5px,#0002f2 164.5px,#0000bb 165.5px,#000091 166.5px,#00008f 167.5px,#00009d 168.5px,#0c8bf1 169.5px,#ea9915 170.5px,#970000 171.5px,#800000 172.5px,#800000 173.5px,#a60000 174.5px,#dd0000 175.5px,#ff0f00 176.5px,#ff7400 179.5px,#ffaf00 182.5px,#ffea00 187.5px,#ffff00 190.5px,#dfff20 196.5px,#deff21 199.5px,#d0ff2f 200.5px,#cfff30 205.5px,#bfff40 207.5px,#bfff40 216.5px,#afff50 219.5px,#afff50 238.5px,#9fff60 241.5px,#9fff60 305.5px,#8fff70 309.5px,#8fff70 339.5px)"></i><i style="height:4px;background:linear-gradient(90deg,#80ff80 0.5px,#80ff80 28.5px,#70ff8f 32.5px,#70ff8f 97.5px,#60ff9f 100.5px,#60ff9f 120.5px,#50ffaf 122.5px,#50ffaf 131.5px,#40ffbf 133.5px,#40ffbf 138.5px,#30ffcf 140.5px,#30ffcf 143.5px,#20ffdf 145.5px,#1dffe2 147.5px,#00ffff 151.5px,#00daff 155.5px,#0098ff 159.5px,#0066ff 161.5px,#001eff 163.5px,#0000ec 164.5px,#0000b5 165.5px,#00008f 166.5px,#00008f 167.5px,#00009c 168.5px,#0c8af1 169.5px,#ea9615 170.5px,#960000 171.5px,#800000 172.5px,#800000 173.5px,#9f0000 174.5px,#d80000 175.5px,#fd0b00 176.5px,#ff3100 177.5px,#ff6f00 179.5px,#ffac00 182.5px,#ffdf00 186.5px,#ffff00 190.5px,#dfff20 196.5px,#dfff20 199.5px,#cfff30 201.5px,#cfff30 206.5px,#bfff40 208.5px,#bfff40 217.5px,#afff50 219.5px,#afff50 240.5px,#9fff60 242.5px,#9fff60 307.5px,#8fff70 311.5px,#8fff70 339.5px)"></i><i style="height:4px;background:linear-gradient(90deg,#80ff80 0.5px,#80ff80 26.5px,#70ff8f 30.5px,#70ff8f 96.5px,#60ff9f 99.5px,#60ff9f 119.5px,#50ffaf 121.5px,#50ffaf 131.5px,#40ffbf 133.5px,#40ffbf 138.5px,#30ffcf 140.5px,#30ffcf 143.5px,#21ffde 144.5px,#20ffdf 146.5px,#00ffff 151.5px,#00caff 156.5px,#0096ff 159.5px,#0062ff 161.5px,#0019ff 163.5px,#0000e8 164.5px,#0000af 165.5px,#00008f 166.5px,#00009b 168.5px,#0c87f0 169.5px,#e89515 170.5px,#920000 171.5px,#800000 172.5px,#800000 173.5px,#980000 174.5px,#d30000 175.5px,#fb0800 176.5px,#ff2e00 177.5px,#ff8400 180.5px,#ffa900 182.5px,#ffde00 186.5px,#fff100 189.5px,#ffff00 190.5px,#efff10 193.5px,#efff10 195.5px,#e0ff1f 196.5px,#dcff23 200.5px,#cfff30 201.5px,#cfff30 206.5px,#bfff40 208.5px,#bfff40 218.5px,#afff50 220.5px,#afff50 241.5px,#9fff60 243.5px,#9fff60 309.5px,#8fff70 313.5px,#8fff70 339.5px)"></i><i style="height:4px;background:linear-gradient(90deg,#80ff80 0.5px,#80ff80 25.5px,#70ff8f 28.5px,#70ff8f 95.5px,#60ff9f 98.5px,#60ff9f 119.5px,#50ffaf 121.5px,#50ffaf 130.5px,#4effb1 131.5px,#40ffbf 132.5px,#3fffc0 138.5px,#30ffcf 139.5px,#2cffd3 143.5px,#20ffdf 144.5px,#20ffdf 146.5px,#0ffff0 149.5px,#00ffff 150.5px,#00ffff 151.5px,#00c7ff 156.5px,#0094ff 159.5px,#005fff 161.5px,#0014ff 163.5px,#0000e4 164.5px,#0000a9 165.5px,#00008f 166.5px,#000098 168.5px,#0c84ef 169.5px,#e99514 170.5px,#900000 171.5px,#800000 172.5px,#800000 173.5px,#940000 174.5px,#fa0500 176.5px,#ff2a00 177.5px,#ff6800 179.5px,#ffa700 182.5px,#ffef00 188.5px,#ffff00 191.5px,#dfff20 197.5px,#dfff20 200.5px,#d1ff2e 201.5px,#cfff30 207.5px,#bfff40 209.5px,#bfff40 218.5px,#afff50 220.5px,#afff50 241.5px,#9fff60 244.5px,#9fff60 311.5px,#8fff70 314.5px,#8fff70 339.5px)"></i><i style="height:4px;background:linear-gradient(90deg,#80ff80 0.5px,#80ff80 24.5px,#70ff8f 26.5px,#70ff8f 95.5px,#60ff9f 97.5px,#60ff9f 118.5px,#50ffaf 120.5px,#50ffaf 130.5px,#40ffbf 132.5px,#40ffbf 137.5px,#30ffcf 139.5px,#30ffcf 142.5px,#20ffdf 144.5px,#20ffdf 146.5px,#11ffee 147.5px,#00feff 151.5px,#00dfff 154.5px,#00a5ff 158.5px,#005cff 161.5px,#0011ff 163.5px,#0000de 164.5px,#0000a6 165.5px,#00008f 166.5px,#000097 168.5px,#0c81ef 169.5px,#ea9313 170.5px,#8f0000 171.5px,#800000 172.5px,#800000 173.5px,#910000 174.5px,#f80400 176.5px,#ff2600 177.5px,#ff6700 179.5px,#ffa500 182.5px,#ffcf00 185.5px,#ffff00 191.5px,#dfff20 197.5px,#dfff20 200.5px,#cfff30 202.5px,#cfff30 207.5px,#bfff40 209.5px,#bfff40 219.5px,#afff50 221.5px,#afff50 242.5px,#9fff60 244.5px,#9fff60 313.5px,#90ff6f 315.5px,#8fff70 339.5px)"></i><i style="height:4px;background:linear-gradient(90deg,#80ff80 0.5px,#80ff80 23.5px,#70ff8f 25.5px,#70ff8f 94.5px,#60ff9f 96.5px,#60ff9f 118.5px,#50ffaf 120.5px,#50ffaf 130.5px,#40ffbf 132.5px,#40ffbf 137.5px,#30ffcf 139.5px,#30ffcf 142.5px,#20ffdf 144.5px,#1fffe0 146.5px,#10ffef 147.5px,#00ffff 150.5px,#00dfff 154.5px,#00a4ff 158.5px,#0059ff 161.5px,#0010ff 163.5px,#0000dc 164.5px,#0000a3 165.5px,#00008f 166.5px,#000097 168.5px,#0c81ef 169.5px,#ea9313 170.5px,#8f0000 171.5px,#800000 172.5px,#800000 173.5px,#8e0000 174.5px,#f60400 176.5px,#ff2300 177.5px,#ff6400 179.5px,#ffa300 182.5px,#ffce00 185.5px,#ffff00 191.5px,#ebff14 196.5px,#dfff20 197.5px,#dfff20 200.5px,#cfff30 202.5px,#cfff30 207.5px,#bfff40 209.5px,#bfff40 219.5px,#afff50 221.5px,#afff50 243.5px,#9fff60 245.5px,#9fff60 314.5px,#8fff70 316.5px,#8fff70 339.5px)"></i><i style="height:4px;background:linear-gradient(90deg,#80ff80 0.5px,#80ff80 22.5px,#70ff8f 24.5px,#70ff8f 94.5px,#60ff9f 96.5px,#60ff9f 118.5px,#50ffaf 120.5px,#50ffaf 130.5px,#42ffbd 131.5px,#40ffbf 137.5px,#30ffcf 139.5px,#30ffcf 142.5px,#24ffdb 143.5px,#1dffe2 146.5px,#00ffff 150.5px,#00dfff 154.5px,#00a3ff 158.5px,#0077ff 160.5px,#000dfe 163.5px,#0000da 164.5px,#0000a1 165.5px,#00008f 166.5px,#000097 168.5px,#0c80ef 169.5px,#ea9313 170.5px,#8f0000 171.5px,#800000 172.5px,#800000 173.5px,#8d0000 174.5px,#f60200 176.5px,#ff2200 177.5px,#ff6300 179.5px,#ffa300 182.5px,#ffcd00 185.5px,#ffff00 191.5px,#edff12 196.5px,#dfff20 197.5px,#dbff24 201.5px,#cfff30 202.5px,#cfff30 208.5px,#bfff40 209.5px,#bfff40 219.5px,#afff50 221.5px,#afff50 243.5px,#9fff60 245.5px,#9fff60 315.5px,#8fff70 317.5px,#8fff70 339.5px)"></i><i style="height:4px;background:linear-gradient(90deg,#80ff80 0.5px,#80ff80 22.5px,#70ff8f 24.5px,#70ff8f 94.5px,#60ff9f 96.5px,#60ff9f 118.5px,#51ffae 119.5px,#50ffaf 120.5px,#50ffaf 130.5px,#40ffbf 131.5px,#40ffbf 137.5px,#30ffcf 139.5px,#30ffcf 142.5px,#23ffdc 143.5px,#1cffe3 146.5px,#00ffff 150.5px,#00ddff 154.5px,#00a3ff 158.5px,#0058ff 161.5px,#000cfd 163.5px,#0000d8 164.5px,#0000a0 165.5px,#00008f 166.5px,#000097 168.5px,#0c80ef 169.5px,#ea9313 170.5px,#8f0000 171.5px,#800000 172.5px,#800000 173.5px,#8c0000 174.5px,#f30200 176.5px,#ff2200 177.5px,#ff6200 179.5px,#ffb100 183.5px,#ffcc00 185.5px,#ffff00 191.5px,#edff12 196.5px,#dfff20 197.5px,#ddff22 201.5px,#cfff30 202.5px,#cfff30 208.5px,#c1ff3e 209.5px,#bfff40 210.5px,#bfff40 220.5px,#afff50 221.5px,#afff50 243.5px,#9fff60 245.5px,#9fff60 315.5px,#8fff70 317.5px,#8fff70 339.5px)"></i><i style="height:4px;background:linear-gradient(90deg,#80ff80 0.5px,#80ff80 22.5px,#70ff8f 24.5px,#70ff8f 94.5px,#60ff9f 96.5px,#60ff9f 118.5px,#50ffaf 119.5px,#50ffaf 130.5px,#40ffbf 131.5px,#40ffbf 137.5px,#33ffcc 138.5px,#30ffcf 142.5px,#22ffdd 143.5px,#1cffe3 146.5px,#00ffff 150.5px,#00ddff 154.5px,#00a2ff 158.5px,#0075ff 160.5px,#000cfd 163.5px,#0000d8 164.5px,#00009f 165.5px,#00008f 166.5px,#000097 168.5px,#0c80ef 169.5px,#ea9313 170.5px,#8f0000 171.5px,#800000 172.5px,#800000 173.5px,#8c0000 174.5px,#f30200 176.5px,#ff2200 177.5px,#ff6100 179.5px,#ffa100 182.5px,#ffcc00 185.5px,#ffff00 191.5px,#efff10 194.5px,#efff10 196.5px,#dfff20 197.5px,#ddff22 201.5px,#cfff30 202.5px,#cfff30 208.5px,#c1ff3e 209.5px,#bfff40 210.5px,#bfff40 220.5px,#afff50 221.5px,#afff50 243.5px,#aeff51 244.5px,#9fff60 245.5px,#9fff60 315.5px,#9eff61 316.5px,#8fff70 317.5px,#8fff70 339.5px)"></i><i style="height:4px;background:linear-gradient(90deg,#80ff80 0.5px,#80ff80 22.5px,#70ff8f 24.5px,#70ff8f 94.5px,#60ff9f 96.5px,#60ff9f 118.5px,#51ffae 119.5px,#50ffaf 120.5px,#50ffaf 130.5px,#40ffbf 131.5px,#40ffbf 137.5px,#30ffcf 139.5px,#30ffcf 142.5px,#23ffdc 143.5px,#1cffe3 146.5px,#00ffff 150.5px,#00ddff 154.5px,#00a3ff 158.5px,#0058ff 161.5px,#000cfd 163.5px,#0000d8 164.5px,#0000a1 165.5px,#00008f 166.5px,#000097 168.5px,#0c80ef 169.5px,#ea9313 170.5px,#8f0000 171.5px,#800000 172.5px,#800000 173.5px,#8c0000 174.5px,#f30200 176.5px,#ff2200 177.5px,#ff6300 179.5px,#ffb100 183.5px,#ffcc00 185.5px,#ffff00 191.5px,#edff12 196.5px,#dfff20 197.5px,#dcff23 201.5px,#cfff30 202.5px,#cfff30 208.5px,#c1ff3e 209.5px,#bfff40 210.5px,#bfff40 220.5px,#afff50 221.5px,#afff50 243.5px,#9fff60 245.5px,#9fff60 315.5px,#8fff70 317.5px,#8fff70 339.5px)"></i><i style="height:4px;background:linear-gradient(90deg,#80ff80 0.5px,#80ff80 22.5px,#70ff8f 24.5px,#70ff8f 94.5px,#60ff9f 96.5px,#60ff9f 118.5px,#50ffaf 120.5px,#50ffaf 130.5px,#40ffbf 132.5px,#40ffbf 137.5px,#30ffcf 139.5px,#30ffcf 142.5px,#24ffdb 143.5px,#1dffe2 146.5px,#00ffff 150.5px,#00dfff 154.5px,#00a3ff 158.5px,#0077ff 160.5px,#000dfe 163.5px,#0000da 164.5px,#0000a2 165.5px,#00008f 166.5px,#000097 168.5px,#0c80ef 169.5px,#ea9313 170.5px,#8f0000 171.5px,#800000 172.5px,#800000 173.5px,#8d0000 174.5px,#f60200 176.5px,#ff2200 177.5px,#ff6300 179.5px,#ffa300 182.5px,#ffcd00 185.5px,#ffff00 191.5px,#edff12 196.5px,#dfff20 197.5px,#dbff24 201.5px,#cfff30 202.5px,#ceff31 208.5px,#bfff40 209.5px,#bfff40 219.5px,#afff50 221.5px,#afff50 243.5px,#9fff60 245.5px,#9fff60 315.5px,#8fff70 317.5px,#8fff70 339.5px)"></i><i style="height:4px;background:linear-gradient(90deg,#80ff80 0.5px,#80ff80 23.5px,#70ff8f 25.5px,#70ff8f 94.5px,#6eff91 95.5px,#60ff9f 96.5px,#60ff9f 118.5px,#50ffaf 120.5px,#50ffaf 130.5px,#40ffbf 132.5px,#40ffbf 137.5px,#30ffcf 139.5px,#30ffcf 142.5px,#20ffdf 144.5px,#1fffe0 146.5px,#10ffef 147.5px,#00ffff 150.5px,#00dfff 154.5px,#00a4ff 158.5px,#0059ff 161.5px,#0010ff 163.5px,#0000dc 164.5px,#0000a3 165.5px,#00008f 166.5px,#000097 168.5px,#0c81ef 169.5px,#ea9313 170.5px,#8f0000 171.5px,#800000 172.5px,#800000 173.5px,#8f0000 174.5px,#f60400 176.5px,#ff2400 177.5px,#ff6500 179.5px,#ffa300 182.5px,#ffce00 185.5px,#ffff00 191.5px,#eaff15 196.5px,#dfff20 197.5px,#dfff20 200.5px,#cfff30 202.5px,#cfff30 207.5px,#bfff40 209.5px,#bfff40 219.5px,#afff50 221.5px,#afff50 243.5px,#9fff60 245.5px,#9fff60 314.5px,#8fff70 316.5px,#8fff70 339.5px)"></i><i style="height:4px;background:linear-gradient(90deg,#80ff80 0.5px,#80ff80 24.5px,#70ff8f 27.5px,#70ff8f 95.5px,#60ff9f 97.5px,#60ff9f 118.5px,#50ffaf 120.5px,#50ffaf 130.5px,#40ffbf 132.5px,#40ffbf 137.5px,#30ffcf 139.5px,#30ffcf 142.5px,#20ffdf 144.5px,#20ffdf 146.5px,#12ffed 147.5px,#00feff 151.5px,#00dfff 154.5px,#00a5ff 158.5px,#005cff 161.5px,#0011ff 163.5px,#0000df 164.5px,#0000a6 165.5px,#00008f 166.5px,#000097 168.5px,#0c81ef 169.5px,#ea9313 170.5px,#8f0000 171.5px,#800000 172.5px,#800000 173.5px,#910000 174.5px,#f80400 176.5px,#ff2600 177.5px,#ff6700 179.5px,#ffa500 182.5px,#ffcf00 185.5px,#ffff00 191.5px,#dfff20 197.5px,#dfff20 200.5px,#cfff30 202.5px,#cfff30 207.5px,#bfff40 209.5px,#bfff40 219.5px,#afff50 221.5px,#afff50 242.5px,#9fff60 244.5px,#9fff60 313.5px,#8fff70 315.5px,#8fff70 339.5px)"></i><i style="height:4px;background:linear-gradient(90deg,#80ff80 0.5px,#80ff80 25.5px,#70ff8f 28.5px,#70ff8f 95.5px,#60ff9f 98.5px,#60ff9f 119.5px,#50ffaf 121.5px,#50ffaf 130.5px,#4effb1 131.5px,#40ffbf 132.5px,#3fffc0 138.5px,#30ffcf 139.5px,#2dffd2 143.5px,#20ffdf 144.5px,#20ffdf 146.5px,#0ffff0 149.5px,#00ffff 150.5px,#00ffff 151.5px,#00c8ff 156.5px,#0094ff 159.5px,#005fff 161.5px,#0015ff 163.5px,#0000e4 164.5px,#0000a9 165.5px,#00008f 166.5px,#000098 168.5px,#0c84ef 169.5px,#e99514 170.5px,#900000 171.5px,#800000 172.5px,#800000 173.5px,#950000 174.5px,#fa0500 176.5px,#ff2a00 177.5px,#ff6800 179.5px,#ffa700 182.5px,#ffef00 188.5px,#ffff00 191.5px,#dfff20 197.5px,#dfff20 200.5px,#d1ff2e 201.5px,#cfff30 207.5px,#bfff40 209.5px,#bfff40 218.5px,#afff50 220.5px,#afff50 241.5px,#9fff60 244.5px,#9fff60 311.5px,#8fff70 314.5px,#8fff70 339.5px)"></i><i style="height:4px;background:linear-gradient(90deg,#80ff80 0.5px,#7fff80 27.5px,#70ff8f 30.5px,#70ff8f 96.5px,#60ff9f 99.5px,#60ff9f 119.5px,#50ffaf 121.5px,#50ffaf 131.5px,#40ffbf 133.5px,#40ffbf 138.5px,#30ffcf 140.5px,#30ffcf 143.5px,#21ffde 144.5px,#20ffdf 146.5px,#00ffff 151.5px,#00caff 156.5px,#0096ff 159.5px,#0063ff 161.5px,#0019ff 163.5px,#0000e8 164.5px,#0000af 165.5px,#00008f 166.5px,#00009b 168.5px,#0c87f0 169.5px,#e99515 170.5px,#920000 171.5px,#800000 172.5px,#800000 173.5px,#990000 174.5px,#d30000 175.5px,#fb0800 176.5px,#ff2e00 177.5px,#ff8500 180.5px,#ffa900 182.5px,#ffde00 186.5px,#ffff00 190.5px,#efff10 193.5px,#eeff11 195.5px,#e0ff1f 196.5px,#dbff24 200.5px,#cfff30 201.5px,#cfff30 206.5px,#bfff40 208.5px,#bfff40 218.5px,#afff50 220.5px,#afff50 241.5px,#9fff60 243.5px,#9fff60 309.5px,#8fff70 313.5px,#8fff70 339.5px)"></i><i style="height:4px;background:linear-gradient(90deg,#80ff80 0.5px,#80ff80 28.5px,#70ff8f 32.5px,#70ff8f 97.5px,#60ff9f 100.5px,#60ff9f 120.5px,#50ffaf 122.5px,#50ffaf 131.5px,#40ffbf 133.5px,#40ffbf 138.5px,#30ffcf 140.5px,#30ffcf 143.5px,#20ffdf 145.5px,#1effe1 147.5px,#10ffef 148.5px,#00ffff 151.5px,#00daff 155.5px,#0099ff 159.5px,#0067ff 161.5px,#001eff 163.5px,#0000ed 164.5px,#0000b6 165.5px,#00008f 166.5px,#00008f 167.5px,#00009c 168.5px,#0c8af1 169.5px,#ea9615 170.5px,#960000 171.5px,#800000 172.5px,#800000 173.5px,#9f0000 174.5px,#d80000 175.5px,#fd0b00 176.5px,#ff3200 177.5px,#ff6f00 179.5px,#ffac00 182.5px,#ffdf00 186.5px,#ffff00 190.5px,#dfff20 196.5px,#dfff20 199.5px,#cfff30 201.5px,#cfff30 206.5px,#bfff40 208.5px,#bfff40 217.5px,#afff50 219.5px,#afff50 240.5px,#9fff60 242.5px,#9fff60 307.5px,#8fff70 311.5px,#8fff70 339.5px)"></i><i style="height:4px;background:linear-gradient(90deg,#80ff80 0.5px,#80ff80 30.5px,#70ff8f 34.5px,#70ff8f 98.5px,#60ff9f 101.5px,#5fffa0 121.5px,#50ffaf 123.5px,#50ffaf 132.5px,#40ffbf 134.5px,#40ffbf 139.5px,#33ffcc 140.5px,#20ffdf 147.5px,#00ffff 151.5px,#00ddff 155.5px,#00b0ff 158.5px,#0087ff 160.5px,#004bff 162.5px,#0023ff 163.5px,#0002f2 164.5px,#0000bc 165.5px,#000091 166.5px,#00008f 167.5px,#00009d 168.5px,#0c8bf1 169.5px,#ea9915 170.5px,#970000 171.5px,#800000 172.5px,#800000 173.5px,#a70000 174.5px,#de0000 175.5px,#ff0f00 176.5px,#ff7400 179.5px,#ffaf00 182.5px,#ffeb00 187.5px,#ffff00 190.5px,#dfff20 196.5px,#ddff22 199.5px,#cfff30 200.5px,#cfff30 205.5px,#bfff40 207.5px,#bfff40 216.5px,#b0ff4f 218.5px,#afff50 238.5px,#9fff60 241.5px,#9fff60 305.5px,#8fff70 309.5px,#8fff70 339.5px)"></i><i style="height:4px;background:linear-gradient(90deg,#80ff80 0.5px,#80ff80 33.5px,#70ff8f 37.5px,#70ff8f 99.5px,#60ff9f 102.5px,#60ff9f 121.5px,#50ffaf 124.5px,#50ffaf 132.5px,#41ffbe 134.5px,#40ffbf 139.5px,#30ffcf 141.5px,#30ffcf 144.5px,#24ffdb 145.5px,#20ffdf 147.5px,#00ffff 152.5px,#00dfff 155.5px,#00a1ff 159.5px,#0070ff 161.5px,#002aff 163.5px,#0004f6 164.5px,#0000c4 165.5px,#000094 166.5px,#00008f 167.5px,#0000a2 168.5px,#0c8df2 169.5px,#ea9d15 170.5px,#9b0000 171.5px,#800000 172.5px,#820000 173.5px,#e60000 175.5px,#ff1500 176.5px,#ff5d00 178.5px,#ffa300 181.5px,#ffcf00 184.5px,#fffe00 189.5px,#edff12 194.5px,#dfff20 195.5px,#dfff20 198.5px,#cfff30 200.5px,#cfff30 205.5px,#bfff40 207.5px,#beff41 216.5px,#afff50 218.5px,#afff50 237.5px,#9fff60 240.5px,#9fff60 302.5px,#90ff6f 306.5px,#8fff70 339.5px)"></i><i style="height:3px;background:linear-gradient(90deg,#80ff80 0.5px,#80ff80 35.5px,#70ff8f 39.5px,#6fff90 101.5px,#60ff9f 103.5px,#60ff9f 122.5px,#50ffaf 124.5px,#50ffaf 133.5px,#40ffbf 135.5px,#40ffbf 140.5px,#33ffcc 141.5px,#1effe1 148.5px,#10ffef 149.5px,#00ffff 152.5px,#00d5ff 156.5px,#00a5ff 159.5px,#0075ff 161.5px,#0007fa 164.5px,#0000cb 165.5px,#000098 166.5px,#00008f 167.5px,#0000a4 168.5px,#0c8ff3 169.5px,#ea9f15 170.5px,#9f0000 171.5px,#800000 172.5px,#850000 173.5px,#ec0000 175.5px,#ff1c00 176.5px,#ff6200 178.5px,#ffa600 181.5px,#ffde00 185.5px,#ffff00 189.5px,#dfff20 195.5px,#deff21 198.5px,#d0ff2f 199.5px,#cfff30 204.5px,#bfff40 206.5px,#bfff40 215.5px,#afff50 217.5px,#afff50 236.5px,#9fff60 239.5px,#9fff60 300.5px,#8fff70 304.5px,#8fff70 339.5px)"></i><i style="height:3px;background:linear-gradient(90deg,#80ff80 0.5px,#80ff80 37.5px,#70ff8f 41.5px,#70ff8f 102.5px,#60ff9f 104.5px,#60ff9f 123.5px,#50ffaf 125.5px,#4fffb0 134.5px,#42ffbd 135.5px,#40ffbf 140.5px,#30ffcf 142.5px,#2fffd0 145.5px,#21ffde 146.5px,#20ffdf 148.5px,#00ffff 152.5px,#00d9ff 156.5px,#00a9ff 159.5px,#005bff 162.5px,#000bfc 164.5px,#0000d3 165.5px,#00009c 166.5px,#00008f 167.5px,#0000a7 168.5px,#0c90f3 169.5px,#eaa115 170.5px,#a20000 171.5px,#800000 172.5px,#890000 173.5px,#f10100 175.5px,#ff2100 176.5px,#ff6700 178.5px,#ffa900 181.5px,#ffdf00 185.5px,#ffff00 189.5px,#efff10 191.5px,#efff10 193.5px,#e1ff1e 194.5px,#dfff20 197.5px,#cfff30 199.5px,#ceff31 204.5px,#c0ff3f 205.5px,#bfff40 214.5px,#afff50 216.5px,#afff50 235.5px,#a0ff5f 237.5px,#9fff60 298.5px,#8fff70 302.5px,#8fff70 339.5px)"></i><i style="height:4px;background:linear-gradient(90deg,#80ff80 0.5px,#80ff80 40.5px,#70ff8f 44.5px,#70ff8f 103.5px,#60ff9f 106.5px,#60ff9f 124.5px,#50ffaf 126.5px,#50ffaf 134.5px,#40ffbf 136.5px,#3fffc0 141.5px,#33ffcc 142.5px,#30ffcf 145.5px,#00feff 153.5px,#00deff 156.5px,#0098ff 160.5px,#0061ff 162.5px,#0011ff 164.5px,#0000db 165.5px,#0000a4 166.5px,#00008f 167.5px,#0000ac 168.5px,#0d96f2 169.5px,#eaa315 170.5px,#a90000 171.5px,#800000 172.5px,#8f0000 173.5px,#f70400 175.5px,#ff2800 176.5px,#ff4e00 177.5px,#ff8600 179.5px,#ffae00 181.5px,#ffcc00 183.5px,#fffe00 188.5px,#dfff20 194.5px,#ddff22 197.5px,#d0ff2f 198.5px,#cfff30 203.5px,#bfff40 205.5px,#bfff40 213.5px,#b0ff4f 215.5px,#afff50 233.5px,#9fff60 236.5px,#9fff60 295.5px,#90ff6f 299.5px,#8fff70 339.5px)"></i><i style="height:3px;background:linear-gradient(90deg,#80ff80 0.5px,#80ff80 43.5px,#70ff8f 47.5px,#70ff8f 104.5px,#60ff9f 107.5px,#60ff9f 125.5px,#50ffaf 127.5px,#50ffaf 135.5px,#40ffbf 137.5px,#40ffbf 141.5px,#30ffcf 143.5px,#2fffd0 146.5px,#21ffde 147.5px,#20ffdf 149.5px,#12ffed 150.5px,#00ffff 153.5px,#00eeff 155.5px,#00b3ff 159.5px,#0067ff 162.5px,#0018ff 164.5px,#0000e5 165.5px,#0000ae 166.5px,#00008f 167.5px,#0000b2 168.5px,#0f9af0 169.5px,#eaa615 170.5px,#af0000 171.5px,#800000 172.5px,#980000 173.5px,#fb0800 175.5px,#ff3000 176.5px,#ff7300 178.5px,#ffb300 181.5px,#ffdc00 184.5px,#ffff00 188.5px,#feff01 189.5px,#f0ff0f 190.5px,#efff10 192.5px,#e1ff1e 193.5px,#dfff20 196.5px,#cfff30 198.5px,#cfff30 202.5px,#bfff40 204.5px,#bfff40 212.5px,#b0ff4f 214.5px,#afff50 232.5px,#9fff60 235.5px,#9fff60 292.5px,#8fff70 296.5px,#8fff70 339.5px)"></i><i style="height:3px;background:linear-gradient(90deg,#80ff80 0.5px,#80ff80 45.5px,#70ff8f 49.5px,#6fff90 106.5px,#60ff9f 108.5px,#5fffa0 126.5px,#50ffaf 128.5px,#4fffb0 136.5px,#40ffbf 138.5px,#40ffbf 142.5px,#30ffcf 144.5px,#30ffcf 146.5px,#20ffdf 149.5px,#00ffff 153.5px,#00d7ff 157.5px,#00a3ff 160.5px,#006dff 162.5px,#0020ff 164.5px,#0000ed 165.5px,#0000b7 166.5px,#000092 167.5px,#0000b9 168.5px,#109def 169.5px,#eaa915 170.5px,#b60000 171.5px,#810000 172.5px,#a20000 173.5px,#d80000 174.5px,#fe0d00 175.5px,#ff3600 176.5px,#ff7800 178.5px,#ffb700 181.5px,#ffdf00 184.5px,#ffff00 188.5px,#dfff20 193.5px,#dcff23 196.5px,#cfff30 197.5px,#ccff33 202.5px,#c0ff3f 203.5px,#bfff40 211.5px,#b0ff4f 213.5px,#afff50 231.5px,#a0ff5f 233.5px,#9fff60 290.5px,#8fff70 294.5px,#8fff70 339.5px)"></i><i style="height:3px;background:linear-gradient(90deg,#80ff80 0.5px,#80ff80 48.5px,#70ff8f 52.5px,#70ff8f 107.5px,#60ff9f 110.5px,#5fffa0 127.5px,#50ffaf 129.5px,#50ffaf 136.5px,#41ffbe 138.5px,#3effc1 143.5px,#30ffcf 144.5px,#2fffd0 147.5px,#21ffde 148.5px,#1fffe0 150.5px,#10ffef 151.5px,#00ffff 154.5px,#00dcff 157.5px,#00a8ff 160.5px,#0074ff 162.5px,#0028ff 164.5px,#0003f4 165.5px,#0000c1 166.5px,#00009a 167.5px,#0000c3 168.5px,#10a2ef 169.5px,#eaad15 170.5px,#be0200 171.5px,#890000 172.5px,#ac0000 173.5px,#e10000 174.5px,#ff1300 175.5px,#ff6100 177.5px,#ff9600 179.5px,#ffca00 182.5px,#ffff00 187.5px,#efff10 191.5px,#e1ff1e 192.5px,#dfff20 195.5px,#cfff30 197.5px,#cfff30 201.5px,#bfff40 203.5px,#bfff40 210.5px,#afff50 213.5px,#afff50 229.5px,#9fff60 232.5px,#9fff60 287.5px,#8fff70 291.5px,#8fff70 339.5px)"></i><i style="height:3px;background:linear-gradient(90deg,#80ff80 0.5px,#80ff80 51.5px,#70ff8f 55.5px,#70ff8f 108.5px,#60ff9f 111.5px,#60ff9f 127.5px,#50ffaf 130.5px,#50ffaf 137.5px,#40ffbf 139.5px,#40ffbf 143.5px,#30ffcf 145.5px,#30ffcf 147.5px,#00ffff 154.5px,#00dfff 157.5px,#00acff 160.5px,#0097ff 161.5px,#0059ff 163.5px,#0006f9 165.5px,#0000cb 166.5px,#0000a4 167.5px,#0002c9 168.5px,#10a3ef 169.5px,#e9b016 170.5px,#c60200 171.5px,#930000 172.5px,#b60000 173.5px,#ea0000 174.5px,#ff1d00 175.5px,#ff8400 178.5px,#ffae00 180.5px,#ffdc00 183.5px,#ffff00 187.5px,#dfff20 192.5px,#dfff20 194.5px,#cfff30 196.5px,#cfff30 200.5px,#bfff40 202.5px,#bfff40 209.5px,#afff50 212.5px,#afff50 228.5px,#9fff60 231.5px,#9fff60 284.5px,#8fff70 288.5px,#8fff70 339.5px)"></i><i style="height:3px;background:linear-gradient(90deg,#80ff80 0.5px,#80ff80 54.5px,#70ff8f 58.5px,#70ff8f 110.5px,#60ff9f 113.5px,#60ff9f 128.5px,#50ffaf 131.5px,#50ffaf 138.5px,#40ffbf 140.5px,#3fffc0 144.5px,#32ffcd 145.5px,#2fffd0 148.5px,#21ffde 149.5px,#10ffef 153.5px,#01fffe 154.5px,#00fcff 155.5px,#00e3ff 157.5px,#00b3ff 160.5px,#0060ff 163.5px,#000cfc 165.5px,#0000d6 166.5px,#0000b1 167.5px,#0002d4 168.5px,#10a9ef 169.5px,#e8b217 170.5px,#cf0300 171.5px,#a00000 172.5px,#c10000 173.5px,#f20200 174.5px,#ff2400 175.5px,#ff6e00 177.5px,#ffa100 179.5px,#ffdf00 183.5px,#fffe00 186.5px,#efff10 190.5px,#e1ff1e 191.5px,#deff21 194.5px,#d0ff2f 195.5px,#cfff30 199.5px,#bfff40 201.5px,#bfff40 208.5px,#afff50 211.5px,#aeff51 227.5px,#9fff60 229.5px,#9fff60 281.5px,#8fff70 285.5px,#8fff70 339.5px)"></i><i style="height:3px;background:linear-gradient(90deg,#80ff80 0.5px,#80ff80 57.5px,#70ff8f 61.5px,#70ff8f 111.5px,#60ff9f 114.5px,#60ff9f 129.5px,#50ffaf 132.5px,#4fffb0 139.5px,#43ffbc 140.5px,#40ffbf 144.5px,#30ffcf 146.5px,#30ffcf 148.5px,#00ffff 155.5px,#00dbff 158.5px,#00a3ff 161.5px,#0068ff 163.5px,#0014ff 165.5px,#0000e1 166.5px,#0000bc 167.5px,#0004db 168.5px,#10acef 169.5px,#e6b719 170.5px,#d50500 171.5px,#ab0000 172.5px,#f90600 174.5px,#ff2e00 175.5px,#ff7600 177.5px,#ffa700 179.5px,#ffd700 182.5px,#ffff00 186.5px,#dfff20 191.5px,#dfff20 193.5px,#cfff30 195.5px,#cdff32 199.5px,#c0ff3f 200.5px,#bfff40 207.5px,#afff50 210.5px,#afff50 225.5px,#9fff60 228.5px,#9fff60 278.5px,#8fff70 282.5px,#8fff70 339.5px)"></i><i style="height:3px;background:linear-gradient(90deg,#80ff80 0.5px,#80ff80 60.5px,#70ff8f 64.5px,#70ff8f 113.5px,#60ff9f 116.5px,#5fffa0 131.5px,#50ffaf 133.5px,#4effb1 140.5px,#41ffbe 141.5px,#40ffbf 145.5px,#30ffcf 147.5px,#2fffd0 149.5px,#00ffff 155.5px,#00dfff 158.5px,#00a8ff 161.5px,#0071ff 163.5px,#001eff 165.5px,#0000ec 166.5px,#0000c7 167.5px,#0006e4 168.5px,#11b0ee 169.5px,#e6b819 170.5px,#df0600 171.5px,#b60000 172.5px,#fd0c00 174.5px,#ff3700 175.5px,#ff7c00 177.5px,#ffbe00 180.5px,#ffdd00 182.5px,#ffff00 186.5px,#f3ff0c 187.5px,#eeff11 189.5px,#e0ff1f 190.5px,#dfff20 192.5px,#cfff30 194.5px,#ceff31 198.5px,#bfff40 200.5px,#bfff40 206.5px,#afff50 209.5px,#afff50 223.5px,#9fff60 226.5px,#9fff60 275.5px,#8fff70 279.5px,#8fff70 339.5px)"></i><i style="height:3px;background:linear-gradient(90deg,#80ff80 0.5px,#80ff80 63.5px,#70ff8f 68.5px,#6fff90 115.5px,#60ff9f 117.5px,#5fffa0 132.5px,#50ffaf 134.5px,#50ffaf 140.5px,#40ffbf 142.5px,#3fffc0 146.5px,#32ffcd 147.5px,#2bffd4 150.5px,#00feff 156.5px,#00d6ff 159.5px,#00b0ff 161.5px,#0079ff 163.5px,#0029ff 165.5px,#0003f5 166.5px,#0000d4 167.5px,#0009ec 168.5px,#12b5ed 169.5px,#e6be19 170.5px,#e60900 171.5px,#c30000 172.5px,#e30000 173.5px,#ff1400 174.5px,#ff6600 176.5px,#ffb300 179.5px,#ffed00 183.5px,#ffff00 185.5px,#dfff20 190.5px,#deff21 192.5px,#d1ff2e 193.5px,#cfff30 197.5px,#bfff40 199.5px,#bfff40 205.5px,#afff50 208.5px,#afff50 222.5px,#9fff60 225.5px,#9fff60 271.5px,#8fff70 276.5px,#8fff70 339.5px)"></i><i style="height:3px;background:linear-gradient(90deg,#80ff80 0.5px,#80ff80 66.5px,#70ff8f 71.5px,#70ff8f 116.5px,#60ff9f 119.5px,#5fffa0 133.5px,#50ffaf 135.5px,#50ffaf 141.5px,#40ffbf 143.5px,#40ffbf 146.5px,#30ffcf 148.5px,#30ffcf 150.5px,#00ffff 156.5px,#00ebff 158.5px,#00b7ff 161.5px,#005fff 164.5px,#0008fb 166.5px,#0000e1 167.5px,#000cf3 168.5px,#12b8ed 169.5px,#e6c119 170.5px,#ee0c00 171.5px,#d00000 172.5px,#ef0000 173.5px,#ff1f00 174.5px,#ff6e00 176.5px,#ffa500 178.5px,#ffd900 181.5px,#ffff00 185.5px,#dfff20 189.5px,#dfff20 191.5px,#cfff30 193.5px,#cfff30 196.5px,#bfff40 198.5px,#bfff40 204.5px,#b0ff4f 206.5px,#afff50 220.5px,#9fff60 223.5px,#9fff60 268.5px,#8fff70 273.5px,#8fff70 339.5px)"></i><i style="height:3px;background:linear-gradient(90deg,#80ff80 0.5px,#80ff80 70.5px,#70ff8f 75.5px,#70ff8f 118.5px,#60ff9f 121.5px,#60ff9f 134.5px,#50ffaf 136.5px,#50ffaf 142.5px,#40ffbf 144.5px,#40ffbf 147.5px,#30ffcf 149.5px,#2effd1 151.5px,#06fff9 156.5px,#00fdff 157.5px,#00e1ff 159.5px,#00a7ff 162.5px,#0068ff 164.5px,#0012ff 166.5px,#0000ee 167.5px,#0012f9 168.5px,#13beec 169.5px,#e6c519 170.5px,#f51100 171.5px,#dd0000 172.5px,#f80400 173.5px,#ff2b00 174.5px,#ff7700 176.5px,#ffab00 178.5px,#ffde00 181.5px,#ffff00 184.5px,#e2ff1d 188.5px,#dfff20 190.5px,#cfff30 192.5px,#cfff30 195.5px,#bfff40 197.5px,#bfff40 203.5px,#b0ff4f 205.5px,#afff50 218.5px,#9fff60 221.5px,#9fff60 265.5px,#8fff70 269.5px,#8fff70 339.5px)"></i><i style="height:3px;background:linear-gradient(90deg,#80ff80 0.5px,#80ff80 73.5px,#70ff8f 78.5px,#6fff90 120.5px,#60ff9f 122.5px,#60ff9f 135.5px,#50ffaf 137.5px,#50ffaf 143.5px,#40ffbf 145.5px,#40ffbf 148.5px,#34ffcb 149.5px,#30ffcf 151.5px,#1fffe0 154.5px,#00ffff 157.5px,#00d8ff 160.5px,#00aeff 162.5px,#0072ff 164.5px,#001eff 166.5px,#0001fa 167.5px,#0019fe 168.5px,#13c2ec 169.5px,#e6ca19 170.5px,#fa1700 171.5px,#ea0000 172.5px,#fe0c00 173.5px,#ff8000 176.5px,#ffb400 178.5px,#ffd600 180.5px,#fffb00 183.5px,#ffff00 184.5px,#dfff20 188.5px,#dcff23 190.5px,#d0ff2f 191.5px,#cfff30 194.5px,#bfff40 196.5px,#bfff40 202.5px,#afff50 204.5px,#afff50 217.5px,#9fff60 220.5px,#9fff60 261.5px,#8fff70 266.5px,#8fff70 339.5px)"></i><i style="height:3px;background:linear-gradient(90deg,#80ff80 0.5px,#80ff80 77.5px,#70ff8f 82.5px,#70ff8f 121.5px,#60ff9f 124.5px,#60ff9f 136.5px,#51ffae 138.5px,#50ffaf 144.5px,#40ffbf 146.5px,#3effc1 149.5px,#31ffce 150.5px,#30ffcf 152.5px,#06fff9 157.5px,#00eeff 159.5px,#00b7ff 162.5px,#007dff 164.5px,#000aff 167.5px,#0023ff 168.5px,#15c5ea 169.5px,#e4cc1b 170.5px,#fe1e00 171.5px,#f80000 172.5px,#ff1800 173.5px,#ff6900 175.5px,#ffa500 177.5px,#ffdd00 180.5px,#ffff00 183.5px,#e0ff1f 187.5px,#deff21 189.5px,#d1ff2e 190.5px,#cfff30 193.5px,#bfff40 195.5px,#beff41 201.5px,#afff50 203.5px,#afff50 215.5px,#9fff60 218.5px,#9fff60 258.5px,#8fff70 262.5px,#8fff70 339.5px)"></i><i style="height:3px;background:linear-gradient(90deg,#80ff80 0.5px,#80ff80 80.5px,#70ff8f 85.5px,#70ff8f 123.5px,#60ff9f 126.5px,#60ff9f 137.5px,#50ffaf 140.5px,#4fffb0 145.5px,#40ffbf 147.5px,#40ffbf 149.5px,#30ffcf 151.5px,#2dffd2 153.5px,#00ffff 158.5px,#00d4ff 161.5px,#00a6ff 163.5px,#0019ff 167.5px,#0031ff 168.5px,#15ccea 169.5px,#e3d11c 170.5px,#ff2a00 171.5px,#ff0700 172.5px,#ff2500 173.5px,#ff7400 175.5px,#ffac00 177.5px,#ffd400 179.5px,#fffb00 182.5px,#feff01 183.5px,#e3ff1c 186.5px,#dfff20 188.5px,#cfff30 190.5px,#cbff34 193.5px,#c0ff3f 194.5px,#bfff40 199.5px,#afff50 202.5px,#afff50 213.5px,#9fff60 216.5px,#9fff60 254.5px,#8fff70 259.5px,#8fff70 339.5px)"></i><i style="height:3px;background:linear-gradient(90deg,#80ff80 0.5px,#80ff80 84.5px,#70ff8f 89.5px,#70ff8f 125.5px,#60ff9f 128.5px,#5fffa0 139.5px,#50ffaf 141.5px,#4fffb0 146.5px,#40ffbf 148.5px,#40ffbf 150.5px,#30ffcf 153.5px,#06fff9 158.5px,#00fbff 159.5px,#00c8ff 162.5px,#0092ff 164.5px,#0027ff 167.5px,#003eff 168.5px,#15d0ea 169.5px,#e3d51c 170.5px,#ff3700 171.5px,#ff1600 172.5px,#ff7e00 175.5px,#ffb600 177.5px,#ffdb00 179.5px,#ffff00 182.5px,#dfff20 186.5px,#cbff34 192.5px,#c0ff3f 193.5px,#bfff40 198.5px,#b0ff4f 200.5px,#afff50 211.5px,#9fff60 214.5px,#9fff60 250.5px,#8fff70 255.5px,#8fff70 339.5px)"></i><i style="height:3px;background:linear-gradient(90deg,#80ff80 0.5px,#80ff80 87.5px,#70ff8f 92.5px,#6fff90 127.5px,#60ff9f 130.5px,#60ff9f 140.5px,#50ffaf 142.5px,#4fffb0 147.5px,#44ffbb 148.5px,#40ffbf 151.5px,#30ffcf 154.5px,#01fffe 159.5px,#00e4ff 161.5px,#00b9ff 163.5px,#0035ff 167.5px,#004aff 168.5px,#15d5ea 169.5px,#e3d81c 170.5px,#ff4300 171.5px,#ff2400 172.5px,#ff8900 175.5px,#ffbe00 177.5px,#fffc00 181.5px,#fbff04 182.5px,#e0ff1f 185.5px,#cfff30 188.5px,#ccff33 191.5px,#c0ff3f 192.5px,#bfff40 197.5px,#afff50 199.5px,#aeff51 210.5px,#a0ff5f 212.5px,#9fff60 247.5px,#8fff70 252.5px,#8fff70 339.5px)"></i></div><svg width="1125" height="1487" viewBox="0 0 1125 1487"><defs><linearGradient id="jet" x1="0" y1="0" x2="0" y2="1"><stop offset="0.0000" stop-color="#800000"/><stop offset="0.0156" stop-color="#800000"/><stop offset="0.0156" stop-color="#8f0000"/><stop offset="0.0312" stop-color="#8f0000"/><stop offset="0.0312" stop-color="#9f0000"/><stop offset="0.0469" stop-color="#9f0000"/><stop offset="0.0469" stop-color="#af0000"/><stop offset="0.0625" stop-color="#af0000"/><stop offset="0.0625" stop-color="#bf0000"/><stop offset="0.0781" stop-color="#bf0000"/><stop offset="0.0781" stop-color="#cf0000"/><stop offset="0.0938" stop-color="#cf0000"/><stop offset="0.0938" stop-color="#df0000"/><stop offset="0.1094" stop-color="#df0000"/><stop offset="0.1094" stop-color="#ef0000"/><stop offset="0.1250" stop-color="#ef0000"/><stop offset="0.1250" stop-color="#ff0000"/><stop offset="0.1406" stop-color="#ff0000"/><stop offset="0.1406" stop-color="#ff1000"/><stop offset="0.1562" stop-color="#ff1000"/><stop offset="0.1562" stop-color="#ff2000"/><stop offset="0.1719" stop-color="#ff2000"/><stop offset="0.1719" stop-color="#ff3000"/><stop offset="0.1875" stop-color="#ff3000"/><stop offset="0.1875" stop-color="#ff4000"/><stop offset="0.2031" stop-color="#ff4000"/><stop offset="0.2031" stop-color="#ff5000"/><stop offset="0.2188" stop-color="#ff5000"/><stop offset="0.2188" stop-color="#ff6000"/><stop offset="0.2344" stop-color="#ff6000"/><stop offset="0.2344" stop-color="#ff7000"/><stop offset="0.2500" stop-color="#ff7000"/><stop offset="0.2500" stop-color="#ff8000"/><stop offset="0.2656" stop-color="#ff8000"/><stop offset="0.2656" stop-color="#ff8f00"/><stop offset="0.2812" stop-color="#ff8f00"/><stop offset="0.2812" stop-color="#ff9f00"/><stop offset="0.2969" stop-color="#ff9f00"/><stop offset="0.2969" stop-color="#ffaf00"/><stop offset="0.3125" stop-color="#ffaf00"/><stop offset="0.3125" stop-color="#ffbf00"/><stop offset="0.3281" stop-color="#ffbf00"/><stop offset="0.3281" stop-color="#ffcf00"/><stop offset="0.3438" stop-color="#ffcf00"/><stop offset="0.3438" stop-color="#ffdf00"/><stop offset="0.3594" stop-color="#ffdf00"/><stop offset="0.3594" stop-color="#ffef00"/><stop offset="0.3750" stop-color="#ffef00"/><stop offset="0.3750" stop-color="#ffff00"/><stop offset="0.3906" stop-color="#ffff00"/><stop offset="0.3906" stop-color="#efff10"/><stop offset="0.4062" stop-color="#efff10"/><stop offset="0.4062" stop-color="#dfff20"/><stop offset="0.4219" stop-color="#dfff20"/><stop offset="0.4219" stop-color="#cfff30"/><stop offset="0.4375" stop-color="#cfff30"/><stop offset="0.4375" stop-color="#bfff40"/><stop offset="0.4531" stop-color="#bfff40"/><stop offset="0.4531" stop-color="#afff50"/><stop offset="0.4688" stop-color="#afff50"/><stop offset="0.4688" stop-color="#9fff60"/><stop offset="0.4844" stop-color="#9fff60"/><stop offset="0.4844" stop-color="#8fff70"/><stop offset="0.5000" stop-color="#8fff70"/><stop offset="0.5000" stop-color="#80ff80"/><stop offset="0.5156" stop-color="#80ff80"/><stop offset="0.5156" stop-color="#70ff8f"/><stop offset="0.5312" stop-color="#70ff8f"/><stop offset="0.5312" stop-color="#60ff9f"/><stop offset="0.5469" stop-color="#60ff9f"/><stop offset="0.5469" stop-color="#50ffaf"/><stop offset="0.5625" stop-color="#50ffaf"/><stop offset="0.5625" stop-color="#40ffbf"/><stop offset="0.5781" stop-color="#40ffbf"/><stop offset="0.5781" stop-color="#30ffcf"/><stop offset="0.5938" stop-color="#30ffcf"/><stop offset="0.5938" stop-color="#20ffdf"/><stop offset="0.6094" stop-color="#20ffdf"/><stop offset="0.6094" stop-color="#10ffef"/><stop offset="0.6250" stop-color="#10ffef"/><stop offset="0.6250" stop-color="#00ffff"/><stop offset="0.6406" stop-color="#00ffff"/><stop offset="0.6406" stop-color="#00efff"/><stop offset="0.6562" stop-color="#00efff"/><stop offset="0.6562" stop-color="#00dfff"/><stop offset="0.6719" stop-color="#00dfff"/><stop offset="0.6719" stop-color="#00cfff"/><stop offset="0.6875" stop-color="#00cfff"/><stop offset="0.6875" stop-color="#00bfff"/><stop offset="0.7031" stop-color="#00bfff"/><stop offset="0.7031" stop-color="#00afff"/><stop offset="0.7188" stop-color="#00afff"/><stop offset="0.7188" stop-color="#009fff"/><stop offset="0.7344" stop-color="#009fff"/><stop offset="0.7344" stop-color="#008fff"/><stop offset="0.7500" stop-color="#008fff"/><stop offset="0.7500" stop-color="#0080ff"/><stop offset="0.7656" stop-color="#0080ff"/><stop offset="0.7656" stop-color="#0070ff"/><stop offset="0.7812" stop-color="#0070ff"/><stop offset="0.7812" stop-color="#0060ff"/><stop offset="0.7969" stop-color="#0060ff"/><stop offset="0.7969" stop-color="#0050ff"/><stop offset="0.8125" stop-color="#0050ff"/><stop offset="0.8125" stop-color="#0040ff"/><stop offset="0.8281" stop-color="#0040ff"/><stop offset="0.8281" stop-color="#0030ff"/><stop offset="0.8438" stop-color="#0030ff"/><stop offset="0.8438" stop-color="#0020ff"/><stop offset="0.8594" stop-color="#0020ff"/><stop offset="0.8594" stop-color="#0010ff"/><stop offset="0.8750" stop-color="#0010ff"/><stop offset="0.8750" stop-color="#0000ff"/><stop offset="0.8906" stop-color="#0000ff"/><stop offset="0.8906" stop-color="#0000ef"/><stop offset="0.9062" stop-color="#0000ef"/><stop offset="0.9062" stop-color="#0000df"/><stop offset="0.9219" stop-color="#0000df"/><stop offset="0.9219" stop-color="#0000cf"/><stop offset="0.9375" stop-color="#0000cf"/><stop offset="0.9375" stop-color="#0000bf"/><stop offset="0.9531" stop-color="#0000bf"/><stop offset="0.9531" stop-color="#0000af"/><stop offset="0.9688" stop-color="#0000af"/><stop offset="0.9688" stop-color="#00009f"/><stop offset="0.9844" stop-color="#00009f"/><stop offset="0.9844" stop-color="#00008f"/><stop offset="1.0000" stop-color="#00008f"/></linearGradient></defs>
<rect x="464.6" y="57.5" width="15.7" height="332.0" fill="url(#jet)"/>
<rect x="105.6" y="57.5" width="332.9" height="332.0" class="bx"/>
<rect x="464.6" y="57.5" width="15.7" height="332.0" class="bx"/>
<path class="tk" d="M105.6 389.5v-3.5M105.6 57.5v3.5"/>
<text x="105.6" y="431.5" font-size="35.5" text-anchor="middle">-90</text>
<path class="tk" d="M188.8 389.5v-3.5M188.8 57.5v3.5"/>
<text x="188.8" y="431.5" font-size="35.5" text-anchor="middle">-45</text>
<path class="tk" d="M272.0 389.5v-3.5M272.0 57.5v3.5"/>
<text x="272.0" y="431.5" font-size="35.5" text-anchor="middle">0</text>
<path class="tk" d="M355.3 389.5v-3.5M355.3 57.5v3.5"/>
<text x="355.3" y="431.5" font-size="35.5" text-anchor="middle">45</text>
<path class="tk" d="M438.5 389.5v-3.5M438.5 57.5v3.5"/>
<text x="438.5" y="431.5" font-size="35.5" text-anchor="middle">90</text>
<path class="tk" d="M105.6 57.5h3.5M438.5 57.5h-3.5"/>
<text x="94.7" y="70.1" font-size="35.5" text-anchor="end">90</text>
<path class="tk" d="M105.6 140.5h3.5M438.5 140.5h-3.5"/>
<text x="94.7" y="153.1" font-size="35.5" text-anchor="end">45</text>
<path class="tk" d="M105.6 223.5h3.5M438.5 223.5h-3.5"/>
<text x="94.7" y="236.1" font-size="35.5" text-anchor="end">0</text>
<path class="tk" d="M105.6 306.5h3.5M438.5 306.5h-3.5"/>
<text x="94.7" y="319.1" font-size="35.5" text-anchor="end">-45</text>
<path class="tk" d="M105.6 389.5h3.5M438.5 389.5h-3.5"/>
<text x="94.7" y="402.1" font-size="35.5" text-anchor="end">-90</text>
<path class="tk" d="M480.3 125.9h-3.5"/>
<text x="488.5" y="137.0" font-size="31.4">0.1</text>
<path class="tk" d="M480.3 223.5h-3.5"/>
<text x="488.5" y="234.7" font-size="31.4">0</text>
<path class="tk" d="M480.3 321.1h-3.5"/>
<text x="488.5" y="332.3" font-size="31.4">-0.1</text>
<text transform="translate(240.1 25.1) scale(1.08 1)" font-size="39.5" font-style="italic" style="fill:#000">N</text>
<text x="266.2" y="44.1" font-size="33.4" style="fill:#000" font-style="italic">x/s</text>
<text transform="translate(194.4 475.0) scale(1.25 1)" font-size="39.5" font-style="italic">α</text>
<text x="218.8" y="475.0" font-size="39.5">(degree)</text>
<g transform="translate(38.0 316.0) rotate(-90)"><text transform="scale(1.24 1.08)" font-size="39.5">Δ</text><text x="31.5" font-size="41.5" font-style="italic">ϕ</text><text x="52.6" font-size="40.1">(degree)</text></g>
<text transform="translate(124.3 374.6) scale(1.22 1)" font-size="30.0" font-style="italic" style="fill:#ff0000">α</text>
<text x="143.5" y="381.9" font-size="16.8" style="fill:#ff0000" font-style="italic">t</text>
<text x="159.9" y="374.6" font-size="32.1" style="fill:#ff0000">=</text>
<text x="181.4" y="374.6" font-size="30.0" style="fill:#ff0000">1.25</text>
<text x="427.5" y="369.5" font-size="43.0" text-anchor="end" style="fill:#ff00ff">(a)</text>
<rect x="1003.4" y="57.4" width="16.0" height="331.9" fill="url(#jet)"/>
<rect x="654.6" y="57.4" width="332.8" height="331.9" class="bx"/>
<rect x="1003.4" y="57.4" width="16.0" height="331.9" class="bx"/>
<path class="tk" d="M654.6 389.3v-3.5M654.6 57.4v3.5"/>
<text x="654.6" y="431.3" font-size="35.5" text-anchor="middle">-5</text>
<path class="tk" d="M737.8 389.3v-3.5M737.8 57.4v3.5"/>
<text x="737.8" y="431.3" font-size="35.5" text-anchor="middle">-2.5</text>
<path class="tk" d="M821.0 389.3v-3.5M821.0 57.4v3.5"/>
<text x="821.0" y="431.3" font-size="35.5" text-anchor="middle">0</text>
<path class="tk" d="M904.2 389.3v-3.5M904.2 57.4v3.5"/>
<text x="904.2" y="431.3" font-size="35.5" text-anchor="middle">2.5</text>
<path class="tk" d="M987.4 389.3v-3.5M987.4 57.4v3.5"/>
<text x="987.4" y="431.3" font-size="35.5" text-anchor="middle">5</text>
<path class="tk" d="M654.6 57.4h3.5M987.4 57.4h-3.5"/>
<text x="643.7" y="70.0" font-size="35.5" text-anchor="end">90</text>
<path class="tk" d="M654.6 140.4h3.5M987.4 140.4h-3.5"/>
<text x="643.7" y="153.0" font-size="35.5" text-anchor="end">45</text>
<path class="tk" d="M654.6 223.4h3.5M987.4 223.4h-3.5"/>
<text x="643.7" y="236.0" font-size="35.5" text-anchor="end">0</text>
<path class="tk" d="M654.6 306.3h3.5M987.4 306.3h-3.5"/>
<text x="643.7" y="319.0" font-size="35.5" text-anchor="end">-45</text>
<path class="tk" d="M654.6 389.3h3.5M987.4 389.3h-3.5"/>
<text x="643.7" y="401.9" font-size="35.5" text-anchor="end">-90</text>
<path class="tk" d="M1019.4 125.7h-3.5"/>
<text x="1027.6" y="136.9" font-size="31.4">0.1</text>
<path class="tk" d="M1019.4 223.4h-3.5"/>
<text x="1027.6" y="234.5" font-size="31.4">0</text>
<path class="tk" d="M1019.4 321.0h-3.5"/>
<text x="1027.6" y="332.2" font-size="31.4">-0.1</text>
<text transform="translate(789.0 25.0) scale(1.08 1)" font-size="39.5" font-style="italic" style="fill:#000">N</text>
<text x="815.2" y="44.0" font-size="33.4" style="fill:#000" font-style="italic">x/s</text>
<text transform="translate(742.6 474.8) scale(1.25 1)" font-size="39.5" font-style="italic">α</text>
<text x="767.0" y="474.8" font-size="39.5">(degree)</text>
<text x="909.1" y="476.5" font-size="40.3" style="fill:#ff00ff">Subgraph (a)</text>
<g transform="translate(587.0 315.9) rotate(-90)"><text transform="scale(1.24 1.08)" font-size="39.5">Δ</text><text x="31.5" font-size="41.5" font-style="italic">ϕ</text><text x="52.6" font-size="40.1">(degree)</text></g>
<rect x="462.4" y="556.3" width="15.8" height="331.9" fill="url(#jet)"/>
<rect x="103.6" y="556.3" width="333.0" height="331.9" class="bx"/>
<rect x="462.4" y="556.3" width="15.8" height="331.9" class="bx"/>
<path class="tk" d="M103.6 888.2v-3.5M103.6 556.3v3.5"/>
<text x="103.6" y="930.2" font-size="35.5" text-anchor="middle">-90</text>
<path class="tk" d="M186.8 888.2v-3.5M186.8 556.3v3.5"/>
<text x="186.8" y="930.2" font-size="35.5" text-anchor="middle">-45</text>
<path class="tk" d="M270.1 888.2v-3.5M270.1 556.3v3.5"/>
<text x="270.1" y="930.2" font-size="35.5" text-anchor="middle">0</text>
<path class="tk" d="M353.4 888.2v-3.5M353.4 556.3v3.5"/>
<text x="353.4" y="930.2" font-size="35.5" text-anchor="middle">45</text>
<path class="tk" d="M436.6 888.2v-3.5M436.6 556.3v3.5"/>
<text x="436.6" y="930.2" font-size="35.5" text-anchor="middle">90</text>
<path class="tk" d="M103.6 556.3h3.5M436.6 556.3h-3.5"/>
<text x="92.7" y="568.9" font-size="35.5" text-anchor="end">90</text>
<path class="tk" d="M103.6 639.3h3.5M436.6 639.3h-3.5"/>
<text x="92.7" y="651.9" font-size="35.5" text-anchor="end">45</text>
<path class="tk" d="M103.6 722.2h3.5M436.6 722.2h-3.5"/>
<text x="92.7" y="734.9" font-size="35.5" text-anchor="end">0</text>
<path class="tk" d="M103.6 805.2h3.5M436.6 805.2h-3.5"/>
<text x="92.7" y="817.9" font-size="35.5" text-anchor="end">-45</text>
<path class="tk" d="M103.6 888.2h3.5M436.6 888.2h-3.5"/>
<text x="92.7" y="900.8" font-size="35.5" text-anchor="end">-90</text>
<path class="tk" d="M478.2 560.2h-3.5"/>
<text x="486.4" y="571.4" font-size="31.4">0.1</text>
<path class="tk" d="M478.2 641.2h-3.5"/>
<text x="486.4" y="652.4" font-size="31.4">0.05</text>
<path class="tk" d="M478.2 722.2h-3.5"/>
<text x="486.4" y="733.4" font-size="31.4">0</text>
<path class="tk" d="M478.2 803.3h-3.5"/>
<text x="486.4" y="814.5" font-size="31.4">-0.05</text>
<path class="tk" d="M478.2 884.3h-3.5"/>
<text x="486.4" y="895.5" font-size="31.4">-0.1</text>
<text transform="translate(238.1 523.9) scale(1.08 1)" font-size="39.5" font-style="italic" style="fill:#000">N</text>
<text x="264.3" y="542.9" font-size="33.4" style="fill:#000" font-style="italic">x/s</text>
<text transform="translate(192.4 973.7) scale(1.25 1)" font-size="39.5" font-style="italic">α</text>
<text x="216.8" y="973.7" font-size="39.5">(degree)</text>
<g transform="translate(36.0 814.8) rotate(-90)"><text transform="scale(1.24 1.08)" font-size="39.5">Δ</text><text x="31.5" font-size="41.5" font-style="italic">ϕ</text><text x="52.6" font-size="40.1">(degree)</text></g>
<text transform="translate(123.7 871.9) scale(1.22 1)" font-size="30.0" font-style="italic" style="fill:#ff0000">α</text>
<text x="142.9" y="879.2" font-size="16.8" style="fill:#ff0000" font-style="italic">t</text>
<text x="159.3" y="871.9" font-size="32.1" style="fill:#ff0000">=</text>
<text x="183.8" y="871.9" font-size="30.0" style="fill:#ff0000">2.25</text>
<text x="424.0" y="867.8" font-size="41.2" text-anchor="end" style="fill:#ff00ff">(b)</text>
<rect x="1010.7" y="552.5" width="15.9" height="333.8" fill="url(#jet)"/>
<rect x="656.7" y="552.5" width="335.2" height="333.8" class="bx"/>
<rect x="1010.7" y="552.5" width="15.9" height="333.8" class="bx"/>
<path class="tk" d="M656.7 886.3v-3.5M656.7 552.5v3.5"/>
<text x="656.7" y="928.3" font-size="35.5" text-anchor="middle">-5</text>
<path class="tk" d="M740.5 886.3v-3.5M740.5 552.5v3.5"/>
<text x="740.5" y="928.3" font-size="35.5" text-anchor="middle">-2.5</text>
<path class="tk" d="M824.3 886.3v-3.5M824.3 552.5v3.5"/>
<text x="824.3" y="928.3" font-size="35.5" text-anchor="middle">0</text>
<path class="tk" d="M908.1 886.3v-3.5M908.1 552.5v3.5"/>
<text x="908.1" y="928.3" font-size="35.5" text-anchor="middle">2.5</text>
<path class="tk" d="M991.9 886.3v-3.5M991.9 552.5v3.5"/>
<text x="991.9" y="928.3" font-size="35.5" text-anchor="middle">5</text>
<path class="tk" d="M656.7 552.5h3.5M991.9 552.5h-3.5"/>
<text x="645.8" y="565.1" font-size="35.5" text-anchor="end">90</text>
<path class="tk" d="M656.7 636.0h3.5M991.9 636.0h-3.5"/>
<text x="645.8" y="648.6" font-size="35.5" text-anchor="end">45</text>
<path class="tk" d="M656.7 719.4h3.5M991.9 719.4h-3.5"/>
<text x="645.8" y="732.0" font-size="35.5" text-anchor="end">0</text>
<path class="tk" d="M656.7 802.8h3.5M991.9 802.8h-3.5"/>
<text x="645.8" y="815.5" font-size="35.5" text-anchor="end">-45</text>
<path class="tk" d="M656.7 886.3h3.5M991.9 886.3h-3.5"/>
<text x="645.8" y="898.9" font-size="35.5" text-anchor="end">-90</text>
<path class="tk" d="M1026.6 556.4h-3.5"/>
<text x="1034.8" y="567.6" font-size="31.4">0.1</text>
<path class="tk" d="M1026.6 637.9h-3.5"/>
<text x="1034.8" y="649.1" font-size="31.4">0.05</text>
<path class="tk" d="M1026.6 719.4h-3.5"/>
<text x="1034.8" y="730.6" font-size="31.4">0</text>
<path class="tk" d="M1026.6 800.9h-3.5"/>
<text x="1034.8" y="812.1" font-size="31.4">-0.05</text>
<path class="tk" d="M1026.6 882.4h-3.5"/>
<text x="1034.8" y="893.6" font-size="31.4">-0.1</text>
<text transform="translate(792.3 520.1) scale(1.08 1)" font-size="39.5" font-style="italic" style="fill:#000">N</text>
<text x="818.5" y="539.1" font-size="33.4" style="fill:#000" font-style="italic">x/s</text>
<text transform="translate(747.4 971.8) scale(1.25 1)" font-size="39.5" font-style="italic">α</text>
<text x="771.8" y="971.8" font-size="39.5">(degree)</text>
<text x="911.7" y="973.5" font-size="40.6" style="fill:#ff00ff">Subgraph (b)</text>
<g transform="translate(589.1 811.9) rotate(-90)"><text transform="scale(1.24 1.08)" font-size="39.5">Δ</text><text x="31.5" font-size="41.5" font-style="italic">ϕ</text><text x="52.6" font-size="40.1">(degree)</text></g>
<rect x="462.6" y="1051.6" width="15.9" height="339.8" fill="url(#jet)"/>
<rect x="95.5" y="1051.6" width="341.9" height="339.8" class="bx"/>
<rect x="462.6" y="1051.6" width="15.9" height="339.8" class="bx"/>
<path class="tk" d="M95.5 1391.4v-3.5M95.5 1051.6v3.5"/>
<text x="95.5" y="1433.4" font-size="35.5" text-anchor="middle">-90</text>
<path class="tk" d="M181.0 1391.4v-3.5M181.0 1051.6v3.5"/>
<text x="181.0" y="1433.4" font-size="35.5" text-anchor="middle">-45</text>
<path class="tk" d="M266.4 1391.4v-3.5M266.4 1051.6v3.5"/>
<text x="266.4" y="1433.4" font-size="35.5" text-anchor="middle">0</text>
<path class="tk" d="M351.9 1391.4v-3.5M351.9 1051.6v3.5"/>
<text x="351.9" y="1433.4" font-size="35.5" text-anchor="middle">45</text>
<path class="tk" d="M437.4 1391.4v-3.5M437.4 1051.6v3.5"/>
<text x="437.4" y="1433.4" font-size="35.5" text-anchor="middle">90</text>
<path class="tk" d="M95.5 1051.6h3.5M437.4 1051.6h-3.5"/>
<text x="84.6" y="1064.2" font-size="35.5" text-anchor="end">90</text>
<path class="tk" d="M95.5 1136.5h3.5M437.4 1136.5h-3.5"/>
<text x="84.6" y="1149.2" font-size="35.5" text-anchor="end">45</text>
<path class="tk" d="M95.5 1221.5h3.5M437.4 1221.5h-3.5"/>
<text x="84.6" y="1234.1" font-size="35.5" text-anchor="end">0</text>
<path class="tk" d="M95.5 1306.5h3.5M437.4 1306.5h-3.5"/>
<text x="84.6" y="1319.1" font-size="35.5" text-anchor="end">-45</text>
<path class="tk" d="M95.5 1391.4h3.5M437.4 1391.4h-3.5"/>
<text x="84.6" y="1404.0" font-size="35.5" text-anchor="end">-90</text>
<path class="tk" d="M478.5 1099.3h-3.5"/>
<text x="486.7" y="1110.5" font-size="31.4">0.1</text>
<path class="tk" d="M478.5 1160.4h-3.5"/>
<text x="486.7" y="1171.6" font-size="31.4">0.05</text>
<path class="tk" d="M478.5 1221.5h-3.5"/>
<text x="486.7" y="1232.7" font-size="31.4">0</text>
<path class="tk" d="M478.5 1282.6h-3.5"/>
<text x="486.7" y="1293.8" font-size="31.4">-0.05</text>
<path class="tk" d="M478.5 1343.7h-3.5"/>
<text x="486.7" y="1354.9" font-size="31.4">-0.1</text>
<text transform="translate(234.4 1019.2) scale(1.08 1)" font-size="39.5" font-style="italic" style="fill:#000">N</text>
<text x="260.6" y="1038.2" font-size="33.4" style="fill:#000" font-style="italic">x/s</text>
<text transform="translate(188.8 1476.9) scale(1.25 1)" font-size="39.5" font-style="italic">α</text>
<text x="213.2" y="1476.9" font-size="39.5">(degree)</text>
<g transform="translate(27.9 1314.0) rotate(-90)"><text transform="scale(1.24 1.08)" font-size="39.5">Δ</text><text x="31.5" font-size="41.5" font-style="italic">ϕ</text><text x="52.6" font-size="40.1">(degree)</text></g>
<text transform="translate(110.3 1376.6) scale(1.22 1)" font-size="30.0" font-style="italic" style="fill:#ff0000">α</text>
<text x="129.5" y="1383.9" font-size="16.8" style="fill:#ff0000" font-style="italic">t</text>
<text x="145.9" y="1376.6" font-size="32.1" style="fill:#ff0000">=</text>
<text x="170.7" y="1376.6" font-size="30.0" style="fill:#ff0000">3.25</text>
<text x="428.3" y="1374.4" font-size="45.5" text-anchor="end" style="fill:#ff00ff">(c)</text>
<rect x="1008.5" y="1052.5" width="16.3" height="337.9" fill="url(#jet)"/>
<rect x="652.7" y="1052.5" width="338.7" height="337.9" class="bx"/>
<rect x="1008.5" y="1052.5" width="16.3" height="337.9" class="bx"/>
<path class="tk" d="M652.7 1390.4v-3.5M652.7 1052.5v3.5"/>
<text x="652.7" y="1432.4" font-size="35.5" text-anchor="middle">-5</text>
<path class="tk" d="M737.4 1390.4v-3.5M737.4 1052.5v3.5"/>
<text x="737.4" y="1432.4" font-size="35.5" text-anchor="middle">-2.5</text>
<path class="tk" d="M822.0 1390.4v-3.5M822.0 1052.5v3.5"/>
<text x="822.0" y="1432.4" font-size="35.5" text-anchor="middle">0</text>
<path class="tk" d="M906.7 1390.4v-3.5M906.7 1052.5v3.5"/>
<text x="906.7" y="1432.4" font-size="35.5" text-anchor="middle">2.5</text>
<path class="tk" d="M991.4 1390.4v-3.5M991.4 1052.5v3.5"/>
<text x="991.4" y="1432.4" font-size="35.5" text-anchor="middle">5</text>
<path class="tk" d="M652.7 1052.5h3.5M991.4 1052.5h-3.5"/>
<text x="641.8" y="1065.1" font-size="35.5" text-anchor="end">90</text>
<path class="tk" d="M652.7 1137.0h3.5M991.4 1137.0h-3.5"/>
<text x="641.8" y="1149.6" font-size="35.5" text-anchor="end">45</text>
<path class="tk" d="M652.7 1221.5h3.5M991.4 1221.5h-3.5"/>
<text x="641.8" y="1234.1" font-size="35.5" text-anchor="end">0</text>
<path class="tk" d="M652.7 1305.9h3.5M991.4 1305.9h-3.5"/>
<text x="641.8" y="1318.6" font-size="35.5" text-anchor="end">-45</text>
<path class="tk" d="M652.7 1390.4h3.5M991.4 1390.4h-3.5"/>
<text x="641.8" y="1403.0" font-size="35.5" text-anchor="end">-90</text>
<path class="tk" d="M1024.8 1102.7h-3.5"/>
<text x="1033.0" y="1113.9" font-size="31.4">0.1</text>
<path class="tk" d="M1024.8 1162.1h-3.5"/>
<text x="1033.0" y="1173.3" font-size="31.4">0.05</text>
<path class="tk" d="M1024.8 1221.5h-3.5"/>
<text x="1033.0" y="1232.6" font-size="31.4">0</text>
<path class="tk" d="M1024.8 1280.8h-3.5"/>
<text x="1033.0" y="1292.0" font-size="31.4">-0.05</text>
<path class="tk" d="M1024.8 1340.2h-3.5"/>
<text x="1033.0" y="1351.4" font-size="31.4">-0.1</text>
<text transform="translate(790.0 1020.1) scale(1.08 1)" font-size="39.5" font-style="italic" style="fill:#000">N</text>
<text x="816.2" y="1039.1" font-size="33.4" style="fill:#000" font-style="italic">x/s</text>
<text transform="translate(744.0 1475.0) scale(1.25 1)" font-size="39.5" font-style="italic">α</text>
<text x="768.4" y="1475.0" font-size="39.5">(degree)</text>
<text x="910.7" y="1476.7" font-size="41.2" style="fill:#ff00ff">Subgraph (c)</text>
<g transform="translate(585.1 1314.0) rotate(-90)"><text transform="scale(1.24 1.08)" font-size="39.5">Δ</text><text x="31.5" font-size="41.5" font-style="italic">ϕ</text><text x="52.6" font-size="40.1">(degree)</text></g></svg></div></body></html>
